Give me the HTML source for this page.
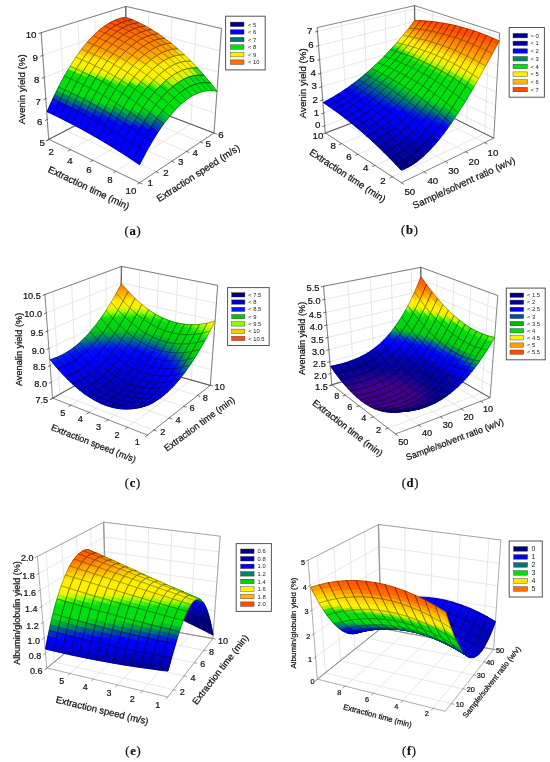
<!DOCTYPE html>
<html lang="en">
<head>
<meta charset="utf-8">
<title>Response surface plots</title>
<style>
html,body{margin:0;padding:0;background:#fff}
svg{display:block;font-family:"Liberation Sans",sans-serif}
.m{fill:none;stroke:#000;stroke-opacity:.55;stroke-width:.55}
</style>
</head>
<body>
<svg width="550" height="762" viewBox="0 0 550 762">
<rect width="550" height="762" fill="#fff"/>
<g fill="none" stroke-linecap="round" stroke-linejoin="round">
<path d="M49 139.4L126 99.5L126 6.4L41.5 32.6z" fill="#fff"/>
<path d="M126 99.5L214 133L221.5 28.5L126 6.4z" fill="#fff"/>
<path d="M49 139.4L126 99.5M47.6 119.3L126 82M46.1 98.6L126 64M44.6 77.3L126 45.4M43.1 55.3L126 26.2M41.5 32.6L126 6.4M49 139.4L41.5 32.6M66 130.6L60.2 26.8M82.2 122.2L77.9 21.3M97.5 114.3L94.8 16.1M112.1 106.7L110.8 11.1M126 99.5L126 6.4M126 99.5L214 133M126 82L215.4 113.4M126 64L216.9 93.1M126 45.4L218.4 72.2M126 26.2L219.9 50.7M126 6.4L221.5 28.5M126 99.5L126 6.4M146.9 107.5L148.7 11.6M168.5 115.7L172.1 17.1M190.9 124.2L196.4 22.7M214 133L221.5 28.5M49 139.4L126 99.5M70.5 149.7L146.9 107.5M92.8 160.3L168.5 115.7M115.8 171.3L190.9 124.2M139.6 182.7L214 133M49 139.4L139.6 182.7M66 130.6L156.1 171.7M82.2 122.2L171.7 161.3M97.5 114.3L186.5 151.4M112.1 106.7L200.6 142M126 99.5L214 133" stroke="#dcdcdc" stroke-width="0.7"/>
<path d="M49 139.4L126 99.5L126 6.4L41.5 32.6zM126 99.5L214 133L221.5 28.5L126 6.4zM49 139.4L139.6 182.7L214 133L126 99.5z" stroke="#505050" stroke-width="0.7"/>
<path d="M49 139.4l-2.3 1.2M70.5 149.7l-2.3 1.3M92.8 160.3l-2.2 1.3M115.8 171.3l-2.2 1.4M139.6 182.7l-2.2 1.4M139.6 182.7l2.3 1.1M156.1 171.7l2.4 1.1M171.7 161.3l2.4 1M186.5 151.4l2.4 1M200.6 142l2.4 1M214 133l2.4 0.9M49 139.4l-2.3 1.2M47.6 119.3l-2.3 1.1M46.1 98.6l-2.4 1M44.6 77.3l-2.4 0.9M43.1 55.3l-2.5 0.9M41.5 32.6l-2.5 0.8" stroke="#505050" stroke-width="0.8"/>
</g>
<g stroke-linejoin="round" fill="currentColor" stroke="currentColor" stroke-width=".9">
<path d="M124.2 17.6l6.4 2.4 1.7-.2-6.3-2.5z" color="#ff5300"/>
<path d="M130.6 20l6.4 2.8 1.7-.2-6.4-2.8z" color="#ff5b00"/>
<path d="M137 22.8l6.4 3.3 1.8-.2-6.5-3.3z" color="#ff6300"/>
<path d="M143.4 26.1l6.5 3.7 1.7-.2-6.4-3.7z" color="#ff6b00"/>
<path d="M149.9 29.8l6.5 4.1 1.7-.2-6.5-4.1z" color="#ff7700"/>
<path d="M156.4 33.9l6.5 4.5 1.7-.1-6.5-4.6z" color="#ff8200"/>
<path d="M162.9 38.4l6.6 5 1.7-.1-6.6-5z" color="#ff9500"/>
<path d="M169.5 43.4l6.6 5.4 1.6 0-6.5-5.5z" color="#ffaa00"/>
<path d="M176.1 48.8l6.5 5.9 1.7 0-6.6-5.9z" color="#ffe500"/>
<path d="M182.6 54.7l6.6 6.3 1.6 .1-6.5-6.4z" color="#fff000"/>
<path d="M189.2 61l6.6 6.8 1.6 .1-6.6-6.8z" color="#d8f600"/>
<path d="M195.8 67.8l6.6 7.3 1.5 .2-6.5-7.4zM202.4 75.1l6.5 7.7 1.6 .2-6.6-7.7zM208.9 82.8l6.6 8.2 1.5 .3-6.5-8.3z" color="#00e010"/>
<path d="M122.5 17.9l6.3 2.4 1.8-.3-6.4-2.4z" color="#ff4b00"/>
<path d="M128.8 20.3l6.4 2.8 1.8-.3-6.4-2.8z" color="#ff5300"/>
<path d="M135.2 23.1l6.5 3.3 1.7-.3-6.4-3.3z" color="#ff5b00"/>
<path d="M141.7 26.4l6.5 3.6 1.7-.2-6.5-3.7z" color="#ff6b00"/>
<path d="M148.2 30l6.5 4.1 1.7-.2-6.5-4.1z" color="#ff7700"/>
<path d="M154.7 34.1l6.5 4.5 1.7-.2-6.5-4.5z" color="#ff8200"/>
<path d="M161.2 38.6l6.6 5 1.7-.2-6.6-5z" color="#ff8d00"/>
<path d="M167.8 43.6l6.6 5.4 1.7-.2-6.6-5.4z" color="#ffaa00"/>
<path d="M174.4 49l6.6 5.8 1.6-.1-6.5-5.9z" color="#ffd400"/>
<path d="M181 54.8l6.6 6.3 1.6-.1-6.6-6.3z" color="#fff000"/>
<path d="M187.6 61.1l6.6 6.7 1.6 0-6.6-6.8z" color="#eff200"/>
<path d="M194.2 67.8l6.5 7.2 1.7 .1-6.6-7.3z" color="#0de20f"/>
<path d="M200.7 75l6.6 7.6 1.6 .2-6.5-7.7zM207.3 82.6l6.6 8.1 1.6 .3-6.6-8.2z" color="#00e010"/>
<path d="M120.7 18.3l6.4 2.4 1.7-.4-6.3-2.4z" color="#ff4b00"/>
<path d="M127.1 20.7l6.4 2.9 1.7-.5-6.4-2.8z" color="#ff5300"/>
<path d="M133.5 23.6l6.4 3.2 1.8-.4-6.5-3.3z" color="#ff5b00"/>
<path d="M139.9 26.8l6.5 3.6 1.8-.4-6.5-3.6z" color="#ff6b00"/>
<path d="M146.4 30.4l6.5 4.1 1.8-.4-6.5-4.1z" color="#ff7200"/>
<path d="M152.9 34.5l6.6 4.4 1.7-.3-6.5-4.5z" color="#ff7d00"/>
<path d="M159.5 38.9l6.6 4.9 1.7-.2-6.6-5z" color="#ff8d00"/>
<path d="M166.1 43.8l6.6 5.4 1.7-.2-6.6-5.4z" color="#ffaa00"/>
<path d="M172.7 49.2l6.6 5.8 1.7-.2-6.6-5.8z" color="#ffd400"/>
<path d="M179.3 55l6.6 6.2 1.7-.1-6.6-6.3zM185.9 61.2l6.6 6.7 1.7-.1-6.6-6.7z" color="#fff000"/>
<path d="M192.5 67.9l6.6 7.1 1.6 0-6.5-7.2z" color="#5deb09"/>
<path d="M199.1 75l6.6 7.6 1.6 0-6.6-7.6zM205.7 82.6l6.6 8 1.6 .1-6.6-8.1z" color="#00e010"/>
<path d="M120.7 18.3l6.4 2.4 5.2-.9-6.3-2.5zM127.1 20.7l6.4 2.9 5.2-1-6.4-2.8zM133.5 23.6l6.4 3.2 5.3-.9-6.5-3.3zM139.9 26.8l6.5 3.6 5.2-.8-6.4-3.7zM146.4 30.4l6.5 4.1 5.2-.8-6.5-4.1zM152.9 34.5l6.6 4.4 5.1-.6-6.5-4.6zM159.5 38.9l6.6 4.9 5.1-.5-6.6-5zM166.1 43.8l6.6 5.4 5-.4-6.5-5.5zM172.7 49.2l6.6 5.8 5-.3-6.6-5.9zM179.3 55l6.6 6.2 4.9-.1-6.5-6.4zM185.9 61.2l6.6 6.7 4.9 0-6.6-6.8zM192.5 67.9l6.6 7.1 4.8 .3-6.5-7.4zM199.1 75l6.6 7.6 4.8 .4-6.6-7.7zM205.7 82.6l6.6 8 4.7 .7-6.5-8.3z" class="m"/>
<path d="M118.9 18.8l6.4 2.4 1.8-.5-6.4-2.4z" color="#ff4b00"/>
<path d="M125.3 21.2l6.4 2.9 1.8-.5-6.4-2.9z" color="#ff5300"/>
<path d="M131.7 24.1l6.4 3.2 1.8-.5-6.4-3.2z" color="#ff5b00"/>
<path d="M138.1 27.3l6.6 3.6 1.7-.5-6.5-3.6z" color="#ff6300"/>
<path d="M144.7 30.9l6.5 4 1.7-.4-6.5-4.1z" color="#ff7200"/>
<path d="M151.2 34.9l6.6 4.5 1.7-.5-6.6-4.4z" color="#ff7d00"/>
<path d="M157.8 39.4l6.5 4.8 1.8-.4-6.6-4.9z" color="#ff8d00"/>
<path d="M164.3 44.2l6.6 5.3 1.8-.3-6.6-5.4z" color="#ffa000"/>
<path d="M170.9 49.5l6.7 5.8 1.7-.3-6.6-5.8z" color="#ffc300"/>
<path d="M177.6 55.3l6.6 6.1 1.7-.2-6.6-6.2zM184.2 61.4l6.6 6.6 1.7-.1-6.6-6.7z" color="#fff000"/>
<path d="M190.8 68l6.7 7.1 1.6-.1-6.6-7.1z" color="#5deb09"/>
<path d="M197.5 75.1l6.6 7.5 1.6 0-6.6-7.6zM204.1 82.6l6.6 7.9 1.6 .1-6.6-8z" color="#00e010"/>
<path d="M117.1 19.4l6.4 2.4 1.8-.6-6.4-2.4z" color="#ff4b00"/>
<path d="M123.5 21.8l6.4 2.8 1.8-.5-6.4-2.9z" color="#ff5300"/>
<path d="M129.9 24.6l6.5 3.2 1.7-.5-6.4-3.2z" color="#ff5b00"/>
<path d="M136.4 27.8l6.5 3.6 1.8-.5-6.6-3.6z" color="#ff6300"/>
<path d="M142.9 31.4l6.5 4 1.8-.5-6.5-4z" color="#ff7200"/>
<path d="M149.4 35.4l6.6 4.5 1.8-.5-6.6-4.5z" color="#ff7d00"/>
<path d="M156 39.9l6.6 4.8 1.7-.5-6.5-4.8z" color="#ff8800"/>
<path d="M162.6 44.7l6.6 5.2 1.7-.4-6.6-5.3z" color="#ffa000"/>
<path d="M169.2 49.9l6.7 5.7 1.7-.3-6.7-5.8z" color="#ffc300"/>
<path d="M175.9 55.6l6.6 6.1 1.7-.3-6.6-6.1zM182.5 61.7l6.7 6.6 1.6-.3-6.6-6.6z" color="#fff000"/>
<path d="M189.2 68.3l6.6 7 1.7-.2-6.7-7.1z" color="#adf502"/>
<path d="M195.8 75.3l6.7 7.4 1.6-.1-6.6-7.5zM202.5 82.7l6.6 7.9 1.6-.1-6.6-7.9z" color="#00e010"/>
<path d="M115.3 20.1l6.4 2.4 1.8-.7-6.4-2.4z" color="#ff4b00"/>
<path d="M121.7 22.5l6.4 2.8 1.8-.7-6.4-2.8z" color="#ff5300"/>
<path d="M128.1 25.3l6.5 3.2 1.8-.7-6.5-3.2z" color="#ff5b00"/>
<path d="M134.6 28.5l6.5 3.6 1.8-.7-6.5-3.6z" color="#ff6300"/>
<path d="M141.1 32.1l6.5 4 1.8-.7-6.5-4z" color="#ff7200"/>
<path d="M147.6 36.1l6.6 4.3 1.8-.5-6.6-4.5z" color="#ff7d00"/>
<path d="M154.2 40.4l6.6 4.8 1.8-.5-6.6-4.8z" color="#ff8800"/>
<path d="M160.8 45.2l6.7 5.3 1.7-.6-6.6-5.2z" color="#ffa000"/>
<path d="M167.5 50.5l6.6 5.6 1.8-.5-6.7-5.7z" color="#ffc300"/>
<path d="M174.1 56.1l6.7 6 1.7-.4-6.6-6.1zM180.8 62.1l6.7 6.5 1.7-.3-6.7-6.6z" color="#fff000"/>
<path d="M187.5 68.6l6.6 6.9 1.7-.2-6.6-7z" color="#adf502"/>
<path d="M194.1 75.5l6.7 7.4 1.7-.2-6.7-7.4zM200.8 82.9l6.7 7.8 1.6-.1-6.6-7.9z" color="#00e010"/>
<path d="M115.3 20.1l6.4 2.4 5.4-1.8-6.4-2.4zM121.7 22.5l6.4 2.8 5.4-1.7-6.4-2.9zM128.1 25.3l6.5 3.2 5.3-1.7-6.4-3.2zM134.6 28.5l6.5 3.6 5.3-1.7-6.5-3.6zM141.1 32.1l6.5 4 5.3-1.6-6.5-4.1zM147.6 36.1l6.6 4.3 5.3-1.5-6.6-4.4zM154.2 40.4l6.6 4.8 5.3-1.4-6.6-4.9zM160.8 45.2l6.7 5.3 5.2-1.3-6.6-5.4zM167.5 50.5l6.6 5.6 5.2-1.1-6.6-5.8zM174.1 56.1l6.7 6 5.1-.9-6.6-6.2zM180.8 62.1l6.7 6.5 5-.7-6.6-6.7zM187.5 68.6l6.6 6.9 5-.5-6.6-7.1zM194.1 75.5l6.7 7.4 4.9-.3-6.6-7.6zM200.8 82.9l6.7 7.8 4.8-.1-6.6-8z" class="m"/>
<path d="M113.5 20.9l6.4 2.4 1.8-.8-6.4-2.4z" color="#ff4b00"/>
<path d="M119.9 23.3l6.4 2.8 1.8-.8-6.4-2.8z" color="#ff5300"/>
<path d="M126.3 26.1l6.5 3.2 1.8-.8-6.5-3.2z" color="#ff5b00"/>
<path d="M132.8 29.3l6.5 3.5 1.8-.7-6.5-3.6z" color="#ff6300"/>
<path d="M139.3 32.8l6.6 4 1.7-.7-6.5-4z" color="#ff7200"/>
<path d="M145.9 36.8l6.5 4.3 1.8-.7-6.6-4.3z" color="#ff7d00"/>
<path d="M152.4 41.1l6.7 4.8 1.7-.7-6.6-4.8z" color="#ff8800"/>
<path d="M159.1 45.9l6.6 5.2 1.8-.6-6.7-5.3z" color="#ffa000"/>
<path d="M165.7 51.1l6.7 5.5 1.7-.5-6.6-5.6z" color="#ffb500"/>
<path d="M172.4 56.6l6.7 6 1.7-.5-6.7-6zM179.1 62.6l6.6 6.5 1.8-.5-6.7-6.5z" color="#fff000"/>
<path d="M185.7 69.1l6.7 6.8 1.7-.4-6.6-6.9z" color="#d8f600"/>
<path d="M192.4 75.9l6.7 7.3 1.7-.3-6.7-7.4zM199.1 83.2l6.7 7.7 1.7-.2-6.7-7.8z" color="#00e010"/>
<path d="M111.7 21.8l6.3 2.4 1.9-.9-6.4-2.4z" color="#ff4b00"/>
<path d="M118 24.2l6.5 2.8 1.8-.9-6.4-2.8z" color="#ff5300"/>
<path d="M124.5 27l6.5 3.1 1.8-.8-6.5-3.2z" color="#ff5b00"/>
<path d="M131 30.1l6.5 3.6 1.8-.9-6.5-3.5z" color="#ff6b00"/>
<path d="M137.5 33.7l6.6 3.9 1.8-.8-6.6-4z" color="#ff7200"/>
<path d="M144.1 37.6l6.6 4.3 1.7-.8-6.5-4.3z" color="#ff7d00"/>
<path d="M150.7 41.9l6.6 4.7 1.8-.7-6.7-4.8z" color="#ff8800"/>
<path d="M157.3 46.6l6.6 5.2 1.8-.7-6.6-5.2z" color="#ffa000"/>
<path d="M163.9 51.8l6.7 5.5 1.8-.7-6.7-5.5z" color="#ffb500"/>
<path d="M170.6 57.3l6.7 5.9 1.8-.6-6.7-6z" color="#ffe500"/>
<path d="M177.3 63.2l6.7 6.4 1.7-.5-6.6-6.5z" color="#fff000"/>
<path d="M184 69.6l6.7 6.8 1.7-.5-6.7-6.8z" color="#d8f600"/>
<path d="M190.7 76.4l6.7 7.2 1.7-.4-6.7-7.3zM197.4 83.6l6.7 7.6 1.7-.3-6.7-7.7z" color="#00e010"/>
<path d="M109.8 22.8l6.4 2.4 1.8-1-6.3-2.4zM116.2 25.2l6.4 2.8 1.9-1-6.5-2.8z" color="#ff5300"/>
<path d="M122.6 28l6.5 3.1 1.9-1-6.5-3.1z" color="#ff5b00"/>
<path d="M129.1 31.1l6.6 3.5 1.8-.9-6.5-3.6z" color="#ff6b00"/>
<path d="M135.7 34.6l6.5 3.9 1.9-.9-6.6-3.9z" color="#ff7200"/>
<path d="M142.2 38.5l6.7 4.3 1.8-.9-6.6-4.3z" color="#ff7d00"/>
<path d="M148.9 42.8l6.6 4.7 1.8-.9-6.6-4.7z" color="#ff8800"/>
<path d="M155.5 47.5l6.7 5.1 1.7-.8-6.6-5.2z" color="#ffa000"/>
<path d="M162.2 52.6l6.6 5.4 1.8-.7-6.7-5.5z" color="#ffb500"/>
<path d="M168.8 58l6.8 5.9 1.7-.7-6.7-5.9z" color="#ffe500"/>
<path d="M175.6 63.9l6.7 6.3 1.7-.6-6.7-6.4z" color="#fff000"/>
<path d="M182.3 70.2l6.7 6.7 1.7-.5-6.7-6.8z" color="#d8f600"/>
<path d="M189 76.9l6.7 7.1 1.7-.4-6.7-7.2zM195.7 84l6.8 7.6 1.6-.4-6.7-7.6z" color="#00e010"/>
<path d="M109.8 22.8l6.4 2.4 5.5-2.7-6.4-2.4zM116.2 25.2l6.4 2.8 5.5-2.7-6.4-2.8zM122.6 28l6.5 3.1 5.5-2.6-6.5-3.2zM129.1 31.1l6.6 3.5 5.4-2.5-6.5-3.6zM135.7 34.6l6.5 3.9 5.4-2.4-6.5-4zM142.2 38.5l6.7 4.3 5.3-2.4-6.6-4.3zM148.9 42.8l6.6 4.7 5.3-2.3-6.6-4.8zM155.5 47.5l6.7 5.1 5.3-2.1-6.7-5.3zM162.2 52.6l6.6 5.4 5.3-1.9-6.6-5.6zM168.8 58l6.8 5.9 5.2-1.8-6.7-6zM175.6 63.9l6.7 6.3 5.2-1.6-6.7-6.5zM182.3 70.2l6.7 6.7 5.1-1.4-6.6-6.9zM189 76.9l6.7 7.1 5.1-1.1-6.7-7.4zM195.7 84l6.8 7.6 5-.9-6.7-7.8z" class="m"/>
<path d="M108 23.8l6.4 2.5 1.8-1.1-6.4-2.4z" color="#ff5300"/>
<path d="M114.4 26.3l6.4 2.7 1.8-1-6.4-2.8z" color="#ff5b00"/>
<path d="M120.8 29l6.5 3.2 1.8-1.1-6.5-3.1z" color="#ff6300"/>
<path d="M127.3 32.2l6.5 3.5 1.9-1.1-6.6-3.5z" color="#ff6b00"/>
<path d="M133.8 35.7l6.6 3.8 1.8-1-6.5-3.9z" color="#ff7700"/>
<path d="M140.4 39.5l6.6 4.3 1.9-1-6.7-4.3z" color="#ff7d00"/>
<path d="M147 43.8l6.7 4.6 1.8-.9-6.6-4.7z" color="#ff8800"/>
<path d="M153.7 48.4l6.7 5.1 1.8-.9-6.7-5.1z" color="#ffa000"/>
<path d="M160.4 53.5l6.7 5.4 1.7-.9-6.6-5.4z" color="#ffb500"/>
<path d="M167.1 58.9l6.7 5.8 1.8-.8-6.8-5.9z" color="#ffe500"/>
<path d="M173.8 64.7l6.7 6.3 1.8-.8-6.7-6.3z" color="#fff000"/>
<path d="M180.5 71l6.8 6.6 1.7-.7-6.7-6.7z" color="#d8f600"/>
<path d="M187.3 77.6l6.7 7 1.7-.6-6.7-7.1z" color="#0de20f"/>
<path d="M194 84.6l6.8 7.5 1.7-.5-6.8-7.6z" color="#00e010"/>
<path d="M106.1 25l6.4 2.4 1.9-1.1-6.4-2.5z" color="#ff5300"/>
<path d="M112.5 27.4l6.5 2.8 1.8-1.2-6.4-2.7z" color="#ff5b00"/>
<path d="M119 30.2l6.5 3.1 1.8-1.1-6.5-3.2z" color="#ff6300"/>
<path d="M125.5 33.3l6.5 3.5 1.8-1.1-6.5-3.5z" color="#ff6b00"/>
<path d="M132 36.8l6.6 3.9 1.8-1.2-6.6-3.8z" color="#ff7700"/>
<path d="M138.6 40.7l6.6 4.2 1.8-1.1-6.6-4.3z" color="#ff8200"/>
<path d="M145.2 44.9l6.7 4.6 1.8-1.1-6.7-4.6z" color="#ff8d00"/>
<path d="M151.9 49.5l6.7 5 1.8-1-6.7-5.1z" color="#ffa000"/>
<path d="M158.6 54.5l6.7 5.3 1.8-.9-6.7-5.4z" color="#ffc300"/>
<path d="M165.3 59.8l6.7 5.8 1.8-.9-6.7-5.8z" color="#ffe500"/>
<path d="M172 65.6l6.7 6.2 1.8-.8-6.7-6.3z" color="#fff000"/>
<path d="M178.7 71.8l6.8 6.5 1.8-.7-6.8-6.6z" color="#d8f600"/>
<path d="M185.5 78.3l6.8 7 1.7-.7-6.7-7z" color="#0de20f"/>
<path d="M192.3 85.3l6.7 7.4 1.8-.6-6.8-7.5z" color="#00e010"/>
<path d="M104.3 26.3l6.4 2.4 1.8-1.3-6.4-2.4z" color="#ff5b00"/>
<path d="M110.7 28.7l6.4 2.8 1.9-1.3-6.5-2.8z" color="#ff6300"/>
<path d="M117.1 31.5l6.5 3.1 1.9-1.3-6.5-3.1z" color="#ff6b00"/>
<path d="M123.6 34.6l6.6 3.5 1.8-1.3-6.5-3.5z" color="#ff7200"/>
<path d="M130.2 38.1l6.5 3.8 1.9-1.2-6.6-3.9z" color="#ff7700"/>
<path d="M136.7 41.9l6.7 4.2 1.8-1.2-6.6-4.2z" color="#ff8200"/>
<path d="M143.4 46.1l6.6 4.5 1.9-1.1-6.7-4.6z" color="#ff8d00"/>
<path d="M150 50.6l6.7 5 1.9-1.1-6.7-5z" color="#ffa000"/>
<path d="M156.7 55.6l6.8 5.3 1.8-1.1-6.7-5.3z" color="#ffc300"/>
<path d="M163.5 60.9l6.7 5.7 1.8-1-6.7-5.8z" color="#ffe500"/>
<path d="M170.2 66.6l6.8 6.1 1.7-.9-6.7-6.2z" color="#fff000"/>
<path d="M177 72.7l6.7 6.5 1.8-.9-6.8-6.5z" color="#d8f600"/>
<path d="M183.7 79.2l6.8 6.9 1.8-.8-6.8-7z" color="#0de20f"/>
<path d="M190.5 86.1l6.8 7.3 1.7-.7-6.7-7.4z" color="#00e010"/>
<path d="M104.3 26.3l6.4 2.4 5.5-3.5-6.4-2.4zM110.7 28.7l6.4 2.8 5.5-3.5-6.4-2.8zM117.1 31.5l6.5 3.1 5.5-3.5-6.5-3.1zM123.6 34.6l6.6 3.5 5.5-3.5-6.6-3.5zM130.2 38.1l6.5 3.8 5.5-3.4-6.5-3.9zM136.7 41.9l6.7 4.2 5.5-3.3-6.7-4.3zM143.4 46.1l6.6 4.5 5.5-3.1-6.6-4.7zM150 50.6l6.7 5 5.5-3-6.7-5.1zM156.7 55.6l6.8 5.3 5.3-2.9-6.6-5.4zM163.5 60.9l6.7 5.7 5.4-2.7-6.8-5.9zM170.2 66.6l6.8 6.1 5.3-2.5-6.7-6.3zM177 72.7l6.7 6.5 5.3-2.3-6.7-6.7zM183.7 79.2l6.8 6.9 5.2-2.1-6.7-7.1zM190.5 86.1l6.8 7.3 5.2-1.8-6.8-7.6z" class="m"/>
<path d="M102.4 27.6l6.4 2.5 1.9-1.4-6.4-2.4z" color="#ff5b00"/>
<path d="M108.8 30.1l6.4 2.7 1.9-1.3-6.4-2.8z" color="#ff6300"/>
<path d="M115.2 32.8l6.5 3.1 1.9-1.3-6.5-3.1z" color="#ff6b00"/>
<path d="M121.7 35.9l6.6 3.5 1.9-1.3-6.6-3.5z" color="#ff7200"/>
<path d="M128.3 39.4l6.6 3.8 1.8-1.3-6.5-3.8z" color="#ff7d00"/>
<path d="M134.9 43.2l6.6 4.2 1.9-1.3-6.7-4.2z" color="#ff8200"/>
<path d="M141.5 47.4l6.7 4.5 1.8-1.3-6.6-4.5z" color="#ff8d00"/>
<path d="M148.2 51.9l6.7 4.9 1.8-1.2-6.7-5z" color="#ffaa00"/>
<path d="M154.9 56.8l6.7 5.3 1.9-1.2-6.8-5.3z" color="#ffc300"/>
<path d="M161.6 62.1l6.8 5.6 1.8-1.1-6.7-5.7zM168.4 67.7l6.8 6 1.8-1-6.8-6.1z" color="#fff000"/>
<path d="M175.2 73.7l6.7 6.4 1.8-.9-6.7-6.5z" color="#d8f600"/>
<path d="M181.9 80.1l6.8 6.9 1.8-.9-6.8-6.9z" color="#0de20f"/>
<path d="M188.7 87l6.9 7.2 1.7-.8-6.8-7.3z" color="#00e010"/>
<path d="M100.5 29.1l6.4 2.4 1.9-1.4-6.4-2.5z" color="#ff6300"/>
<path d="M106.9 31.5l6.5 2.8 1.8-1.5-6.4-2.7z" color="#ff6b00"/>
<path d="M113.4 34.3l6.5 3.1 1.8-1.5-6.5-3.1z" color="#ff7200"/>
<path d="M119.9 37.4l6.5 3.4 1.9-1.4-6.6-3.5z" color="#ff7700"/>
<path d="M126.4 40.8l6.6 3.8 1.9-1.4-6.6-3.8z" color="#ff7d00"/>
<path d="M133 44.6l6.7 4.1 1.8-1.3-6.6-4.2z" color="#ff8800"/>
<path d="M139.7 48.7l6.6 4.5 1.9-1.3-6.7-4.5z" color="#ff9500"/>
<path d="M146.3 53.2l6.8 4.9 1.8-1.3-6.7-4.9z" color="#ffaa00"/>
<path d="M153.1 58.1l6.7 5.2 1.8-1.2-6.7-5.3z" color="#ffc300"/>
<path d="M159.8 63.3l6.8 5.6 1.8-1.2-6.8-5.6zM166.6 68.9l6.7 6 1.9-1.2-6.8-6z" color="#fff000"/>
<path d="M173.3 74.9l6.8 6.3 1.8-1.1-6.7-6.4z" color="#d8f600"/>
<path d="M180.1 81.2l6.9 6.7 1.7-.9-6.8-6.9z" color="#0de20f"/>
<path d="M187 87.9l6.8 7.1 1.8-.8-6.9-7.2z" color="#00e010"/>
<path d="M98.6 30.7l6.4 2.4 1.9-1.6-6.4-2.4zM105 33.1l6.5 2.8 1.9-1.6-6.5-2.8z" color="#ff6b00"/>
<path d="M111.5 35.9l6.5 3.1 1.9-1.6-6.5-3.1z" color="#ff7200"/>
<path d="M118 39l6.6 3.4 1.8-1.6-6.5-3.4z" color="#ff7700"/>
<path d="M124.6 42.4l6.6 3.7 1.8-1.5-6.6-3.8z" color="#ff8200"/>
<path d="M131.2 46.1l6.6 4.1 1.9-1.5-6.7-4.1z" color="#ff8800"/>
<path d="M137.8 50.2l6.7 4.5 1.8-1.5-6.6-4.5z" color="#ff9500"/>
<path d="M144.5 54.7l6.7 4.8 1.9-1.4-6.8-4.9z" color="#ffaa00"/>
<path d="M151.2 59.5l6.8 5.2 1.8-1.4-6.7-5.2z" color="#ffd400"/>
<path d="M158 64.7l6.7 5.5 1.9-1.3-6.8-5.6zM164.7 70.2l6.8 5.9 1.8-1.2-6.7-6z" color="#fff000"/>
<path d="M171.5 76.1l6.8 6.3 1.8-1.2-6.8-6.3z" color="#d8f600"/>
<path d="M178.3 82.4l6.9 6.6 1.8-1.1-6.9-6.7z" color="#0de20f"/>
<path d="M185.2 89l6.8 7 1.8-1-6.8-7.1z" color="#00e010"/>
<path d="M98.6 30.7l6.4 2.4 5.7-4.4-6.4-2.4zM105 33.1l6.5 2.8 5.6-4.4-6.4-2.8zM111.5 35.9l6.5 3.1 5.6-4.4-6.5-3.1zM118 39l6.6 3.4 5.6-4.3-6.6-3.5zM124.6 42.4l6.6 3.7 5.5-4.2-6.5-3.8zM131.2 46.1l6.6 4.1 5.6-4.1-6.7-4.2zM137.8 50.2l6.7 4.5 5.5-4.1-6.6-4.5zM144.5 54.7l6.7 4.8 5.5-3.9-6.7-5zM151.2 59.5l6.8 5.2 5.5-3.8-6.8-5.3zM158 64.7l6.7 5.5 5.5-3.6-6.7-5.7zM164.7 70.2l6.8 5.9 5.5-3.4-6.8-6.1zM171.5 76.1l6.8 6.3 5.4-3.2-6.7-6.5zM178.3 82.4l6.9 6.6 5.3-2.9-6.8-6.9zM185.2 89l6.8 7 5.3-2.6-6.8-7.3z" class="m"/>
<path d="M96.8 32.3l6.4 2.5 1.8-1.7-6.4-2.4zM103.2 34.8l6.4 2.7 1.9-1.6-6.5-2.8z" color="#ff7200"/>
<path d="M109.6 37.5l6.5 3.1 1.9-1.6-6.5-3.1z" color="#ff7700"/>
<path d="M116.1 40.6l6.6 3.4 1.9-1.6-6.6-3.4z" color="#ff7d00"/>
<path d="M122.7 44l6.6 3.8 1.9-1.7-6.6-3.7z" color="#ff8800"/>
<path d="M129.3 47.8l6.6 4 1.9-1.6-6.6-4.1z" color="#ff8d00"/>
<path d="M135.9 51.8l6.7 4.4 1.9-1.5-6.7-4.5z" color="#ffa000"/>
<path d="M142.6 56.2l6.7 4.8 1.9-1.5-6.7-4.8z" color="#ffb500"/>
<path d="M149.3 61l6.8 5.1 1.9-1.4-6.8-5.2z" color="#ffd400"/>
<path d="M156.1 66.1l6.8 5.5 1.8-1.4-6.7-5.5zM162.9 71.6l6.8 5.8 1.8-1.3-6.8-5.9z" color="#fff000"/>
<path d="M169.7 77.4l6.8 6.2 1.8-1.2-6.8-6.3z" color="#d8f600"/>
<path d="M176.5 83.6l6.9 6.6 1.8-1.2-6.9-6.6zM183.4 90.2l6.8 6.9 1.8-1.1-6.8-7z" color="#00e010"/>
<path d="M94.9 34.1l6.4 2.4 1.9-1.7-6.4-2.5z" color="#ff7200"/>
<path d="M101.3 36.5l6.4 2.8 1.9-1.8-6.4-2.7z" color="#ff7700"/>
<path d="M107.7 39.3l6.5 3.1 1.9-1.8-6.5-3.1z" color="#ff7d00"/>
<path d="M114.2 42.4l6.6 3.4 1.9-1.8-6.6-3.4z" color="#ff8200"/>
<path d="M120.8 45.8l6.6 3.7 1.9-1.7-6.6-3.8z" color="#ff8800"/>
<path d="M127.4 49.5l6.6 4 1.9-1.7-6.6-4z" color="#ff9500"/>
<path d="M134 53.5l6.7 4.4 1.9-1.7-6.7-4.4z" color="#ffaa00"/>
<path d="M140.7 57.9l6.8 4.7 1.8-1.6-6.7-4.8z" color="#ffc300"/>
<path d="M147.5 62.6l6.7 5.1 1.9-1.6-6.8-5.1z" color="#ffe500"/>
<path d="M154.2 67.7l6.8 5.4 1.9-1.5-6.8-5.5zM161 73.1l6.8 5.8 1.9-1.5-6.8-5.8z" color="#fff000"/>
<path d="M167.8 78.9l6.9 6.1 1.8-1.4-6.8-6.2z" color="#adf502"/>
<path d="M174.7 85l6.8 6.5 1.9-1.3-6.9-6.6zM181.5 91.5l6.9 6.8 1.8-1.2-6.8-6.9z" color="#00e010"/>
<path d="M93 35.9l6.4 2.5 1.9-1.9-6.4-2.4z" color="#ff7700"/>
<path d="M99.4 38.4l6.4 2.8 1.9-1.9-6.4-2.8z" color="#ff7d00"/>
<path d="M105.8 41.2l6.5 3 1.9-1.8-6.5-3.1z" color="#ff8200"/>
<path d="M112.3 44.2l6.6 3.4 1.9-1.8-6.6-3.4z" color="#ff8800"/>
<path d="M118.9 47.6l6.6 3.7 1.9-1.8-6.6-3.7z" color="#ff8d00"/>
<path d="M125.5 51.3l6.7 4 1.8-1.8-6.6-4z" color="#ffa000"/>
<path d="M132.2 55.3l6.6 4.4 1.9-1.8-6.7-4.4z" color="#ffaa00"/>
<path d="M138.8 59.7l6.8 4.7 1.9-1.8-6.8-4.7z" color="#ffc300"/>
<path d="M145.6 64.4l6.7 5 1.9-1.7-6.7-5.1z" color="#ffe500"/>
<path d="M152.3 69.4l6.8 5.3 1.9-1.6-6.8-5.4zM159.1 74.7l6.9 5.7 1.8-1.5-6.8-5.8z" color="#fff000"/>
<path d="M166 80.4l6.8 6.1 1.9-1.5-6.9-6.1z" color="#adf502"/>
<path d="M172.8 86.5l6.9 6.4 1.8-1.4-6.8-6.5zM179.7 92.9l6.9 6.7 1.8-1.3-6.9-6.8z" color="#00e010"/>
<path d="M93 35.9l6.4 2.5 5.6-5.3-6.4-2.4zM99.4 38.4l6.4 2.8 5.7-5.3-6.5-2.8zM105.8 41.2l6.5 3 5.7-5.2-6.5-3.1zM112.3 44.2l6.6 3.4 5.7-5.2-6.6-3.4zM118.9 47.6l6.6 3.7 5.7-5.2-6.6-3.7zM125.5 51.3l6.7 4 5.6-5.1-6.6-4.1zM132.2 55.3l6.6 4.4 5.7-5-6.7-4.5zM138.8 59.7l6.8 4.7 5.6-4.9-6.7-4.8zM145.6 64.4l6.7 5 5.7-4.7-6.8-5.2zM152.3 69.4l6.8 5.3 5.6-4.5-6.7-5.5zM159.1 74.7l6.9 5.7 5.5-4.3-6.8-5.9zM166 80.4l6.8 6.1 5.5-4.1-6.8-6.3zM172.8 86.5l6.9 6.4 5.5-3.9-6.9-6.6zM179.7 92.9l6.9 6.7 5.4-3.6-6.8-7z" class="m"/>
<path d="M91.1 37.9l6.4 2.5 1.9-2-6.4-2.5z" color="#ff7d00"/>
<path d="M97.5 40.4l6.4 2.7 1.9-1.9-6.4-2.8z" color="#ff8200"/>
<path d="M103.9 43.1l6.5 3.1 1.9-2-6.5-3z" color="#ff8800"/>
<path d="M110.4 46.2l6.6 3.4 1.9-2-6.6-3.4z" color="#ff8d00"/>
<path d="M117 49.6l6.6 3.7 1.9-2-6.6-3.7z" color="#ff9500"/>
<path d="M123.6 53.3l6.7 3.9 1.9-1.9-6.7-4z" color="#ffaa00"/>
<path d="M130.3 57.2l6.7 4.4 1.8-1.9-6.6-4.4z" color="#ffb500"/>
<path d="M137 61.6l6.7 4.6 1.9-1.8-6.8-4.7z" color="#ffd400"/>
<path d="M143.7 66.2l6.8 4.9 1.8-1.7-6.7-5zM150.5 71.1l6.8 5.3 1.8-1.7-6.8-5.3z" color="#fff000"/>
<path d="M157.3 76.4l6.8 5.7 1.9-1.7-6.9-5.7z" color="#eff200"/>
<path d="M164.1 82.1l6.9 6 1.8-1.6-6.8-6.1z" color="#5deb09"/>
<path d="M171 88.1l6.8 6.3 1.9-1.5-6.9-6.4zM177.8 94.4l6.9 6.7 1.9-1.5-6.9-6.7z" color="#00e010"/>
<path d="M89.2 40l6.4 2.5 1.9-2.1-6.4-2.5z" color="#ff8200"/>
<path d="M95.6 42.5l6.4 2.7 1.9-2.1-6.4-2.7z" color="#ff8800"/>
<path d="M102 45.2l6.5 3.1 1.9-2.1-6.5-3.1z" color="#ff8d00"/>
<path d="M108.5 48.3l6.6 3.3 1.9-2-6.6-3.4z" color="#ff9500"/>
<path d="M115.1 51.6l6.6 3.7 1.9-2-6.6-3.7z" color="#ffa000"/>
<path d="M121.7 55.3l6.6 4 2-2.1-6.7-3.9z" color="#ffaa00"/>
<path d="M128.3 59.3l6.7 4.2 2-1.9-6.7-4.4z" color="#ffc300"/>
<path d="M135 63.5l6.8 4.6 1.9-1.9-6.7-4.6z" color="#ffe500"/>
<path d="M141.8 68.1l6.8 4.9 1.9-1.9-6.8-4.9zM148.6 73l6.8 5.3 1.9-1.9-6.8-5.3z" color="#fff000"/>
<path d="M155.4 78.3l6.8 5.5 1.9-1.7-6.8-5.7z" color="#d8f600"/>
<path d="M162.2 83.8l6.9 5.9 1.9-1.6-6.9-6z" color="#5deb09"/>
<path d="M169.1 89.7l6.9 6.3 1.8-1.6-6.8-6.3zM176 96l6.9 6.6 1.8-1.5-6.9-6.7z" color="#00e010"/>
<path d="M87.3 42.1l6.4 2.5 1.9-2.1-6.4-2.5z" color="#ff8800"/>
<path d="M93.7 44.6l6.4 2.8 1.9-2.2-6.4-2.7z" color="#ff8d00"/>
<path d="M100.1 47.4l6.5 3.1 1.9-2.2-6.5-3.1z" color="#ff9500"/>
<path d="M106.6 50.5l6.6 3.3 1.9-2.2-6.6-3.3z" color="#ffa000"/>
<path d="M113.2 53.8l6.6 3.6 1.9-2.1-6.6-3.7z" color="#ffaa00"/>
<path d="M119.8 57.4l6.6 4 1.9-2.1-6.6-4z" color="#ffb500"/>
<path d="M126.4 61.4l6.7 4.2 1.9-2.1-6.7-4.2z" color="#ffd400"/>
<path d="M133.1 65.6l6.8 4.6 1.9-2.1-6.8-4.6zM139.9 70.2l6.8 4.8 1.9-2-6.8-4.9zM146.7 75l6.8 5.2 1.9-1.9-6.8-5.3z" color="#fff000"/>
<path d="M153.5 80.2l6.8 5.5 1.9-1.9-6.8-5.5z" color="#d8f600"/>
<path d="M160.3 85.7l6.9 5.8 1.9-1.8-6.9-5.9z" color="#0de20f"/>
<path d="M167.2 91.5l6.9 6.2 1.9-1.7-6.9-6.3zM174.1 97.7l6.9 6.5 1.9-1.6-6.9-6.6z" color="#00e010"/>
<path d="M87.3 42.1l6.4 2.5 5.7-6.2-6.4-2.5zM93.7 44.6l6.4 2.8 5.7-6.2-6.4-2.8zM100.1 47.4l6.5 3.1 5.7-6.3-6.5-3zM106.6 50.5l6.6 3.3 5.7-6.2-6.6-3.4zM113.2 53.8l6.6 3.6 5.7-6.1-6.6-3.7zM119.8 57.4l6.6 4 5.8-6.1-6.7-4zM126.4 61.4l6.7 4.2 5.7-5.9-6.6-4.4zM133.1 65.6l6.8 4.6 5.7-5.8-6.8-4.7zM139.9 70.2l6.8 4.8 5.6-5.6-6.7-5zM146.7 75l6.8 5.2 5.6-5.5-6.8-5.3zM153.5 80.2l6.8 5.5 5.7-5.3-6.9-5.7zM160.3 85.7l6.9 5.8 5.6-5-6.8-6.1zM167.2 91.5l6.9 6.2 5.6-4.8-6.9-6.4zM174.1 97.7l6.9 6.5 5.6-4.6-6.9-6.7z" class="m"/>
<path d="M85.4 44.4l6.3 2.5 2-2.3-6.4-2.5zM91.7 46.9l6.5 2.8 1.9-2.3-6.4-2.8z" color="#ff9500"/>
<path d="M98.2 49.7l6.5 3 1.9-2.2-6.5-3.1z" color="#ffa000"/>
<path d="M104.7 52.7l6.5 3.4 2-2.3-6.6-3.3z" color="#ffaa00"/>
<path d="M111.2 56.1l6.7 3.6 1.9-2.3-6.6-3.6z" color="#ffb500"/>
<path d="M117.9 59.7l6.6 3.9 1.9-2.2-6.6-4z" color="#ffd400"/>
<path d="M124.5 63.6l6.7 4.2 1.9-2.2-6.7-4.2z" color="#ffe500"/>
<path d="M131.2 67.8l6.8 4.5 1.9-2.1-6.8-4.6zM138 72.3l6.7 4.8 2-2.1-6.8-4.8z" color="#fff000"/>
<path d="M144.7 77.1l6.9 5.1 1.9-2-6.8-5.2z" color="#eff200"/>
<path d="M151.6 82.2l6.8 5.5 1.9-2-6.8-5.5z" color="#adf502"/>
<path d="M158.4 87.7l6.9 5.7 1.9-1.9-6.9-5.8zM165.3 93.4l6.9 6.1 1.9-1.8-6.9-6.2zM172.2 99.5l6.9 6.4 1.9-1.7-6.9-6.5z" color="#00e010"/>
<path d="M83.5 46.8l6.3 2.5 1.9-2.4-6.3-2.5z" color="#ffa000"/>
<path d="M89.8 49.3l6.5 2.8 1.9-2.4-6.5-2.8zM96.3 52.1l6.5 3 1.9-2.4-6.5-3z" color="#ffaa00"/>
<path d="M102.8 55.1l6.5 3.4 1.9-2.4-6.5-3.4z" color="#ffb500"/>
<path d="M109.3 58.5l6.6 3.6 2-2.4-6.7-3.6z" color="#ffc300"/>
<path d="M115.9 62.1l6.7 3.8 1.9-2.3-6.6-3.9z" color="#ffe500"/>
<path d="M122.6 65.9l6.7 4.2 1.9-2.3-6.7-4.2zM129.3 70.1l6.7 4.5 2-2.3-6.8-4.5zM136 74.6l6.8 4.7 1.9-2.2-6.7-4.8z" color="#fff000"/>
<path d="M142.8 79.3l6.8 5.1 2-2.2-6.9-5.1z" color="#d8f600"/>
<path d="M149.6 84.4l6.9 5.4 1.9-2.1-6.8-5.5z" color="#5deb09"/>
<path d="M156.5 89.8l6.9 5.7 1.9-2.1-6.9-5.7zM163.4 95.5l6.9 6 1.9-2-6.9-6.1zM170.3 101.5l7 6.3 1.8-1.9-6.9-6.4z" color="#00e010"/>
<path d="M81.5 49.3l6.4 2.5 1.9-2.5-6.3-2.5z" color="#ffaa00"/>
<path d="M87.9 51.8l6.4 2.8 2-2.5-6.5-2.8z" color="#ffb500"/>
<path d="M94.3 54.6l6.5 3 2-2.5-6.5-3z" color="#ffc300"/>
<path d="M100.8 57.6l6.6 3.3 1.9-2.4-6.5-3.4z" color="#ffd400"/>
<path d="M107.4 60.9l6.6 3.6 1.9-2.4-6.6-3.6z" color="#ffe500"/>
<path d="M114 64.5l6.7 3.9 1.9-2.5-6.7-3.8zM120.7 68.4l6.7 4.1 1.9-2.4-6.7-4.2zM127.4 72.5l6.7 4.4 1.9-2.3-6.7-4.5z" color="#fff000"/>
<path d="M134.1 76.9l6.8 4.8 1.9-2.4-6.8-4.7z" color="#eff200"/>
<path d="M140.9 81.7l6.8 5 1.9-2.3-6.8-5.1z" color="#adf502"/>
<path d="M147.7 86.7l6.9 5.3 1.9-2.2-6.9-5.4z" color="#0de20f"/>
<path d="M154.6 92l6.9 5.6 1.9-2.1-6.9-5.7zM161.5 97.6l6.9 5.9 1.9-2-6.9-6zM168.4 103.5l6.9 6.2 2-1.9-7-6.3z" color="#00e010"/>
<path d="M81.5 49.3l6.4 2.5 5.8-7.2-6.4-2.5zM87.9 51.8l6.4 2.8 5.8-7.2-6.4-2.8zM94.3 54.6l6.5 3 5.8-7.1-6.5-3.1zM100.8 57.6l6.6 3.3 5.8-7.1-6.6-3.3zM107.4 60.9l6.6 3.6 5.8-7.1-6.6-3.6zM114 64.5l6.7 3.9 5.7-7-6.6-4zM120.7 68.4l6.7 4.1 5.7-6.9-6.7-4.2zM127.4 72.5l6.7 4.4 5.8-6.7-6.8-4.6zM134.1 76.9l6.8 4.8 5.8-6.7-6.8-4.8zM140.9 81.7l6.8 5 5.8-6.5-6.8-5.2zM147.7 86.7l6.9 5.3 5.7-6.3-6.8-5.5zM154.6 92l6.9 5.6 5.7-6.1-6.9-5.8zM161.5 97.6l6.9 5.9 5.7-5.8-6.9-6.2zM168.4 103.5l6.9 6.2 5.7-5.5-6.9-6.5z" class="m"/>
<path d="M79.6 51.8l6.4 2.6 1.9-2.6-6.4-2.5zM86 54.4l6.4 2.8 1.9-2.6-6.4-2.8z" color="#ffc300"/>
<path d="M92.4 57.2l6.5 3 1.9-2.6-6.5-3z" color="#ffd400"/>
<path d="M98.9 60.2l6.6 3.3 1.9-2.6-6.6-3.3z" color="#ffe500"/>
<path d="M105.5 63.5l6.6 3.6 1.9-2.6-6.6-3.6zM112.1 67.1l6.6 3.8 2-2.5-6.7-3.9zM118.7 70.9l6.7 4.1 2-2.5-6.7-4.1zM125.4 75l6.8 4.4 1.9-2.5-6.7-4.4z" color="#fff000"/>
<path d="M132.2 79.4l6.7 4.7 2-2.4-6.8-4.8z" color="#d8f600"/>
<path d="M138.9 84.1l6.9 4.9 1.9-2.3-6.8-5z" color="#5deb09"/>
<path d="M145.8 89l6.8 5.3 2-2.3-6.9-5.3zM152.6 94.3l6.9 5.5 2-2.2-6.9-5.6zM159.5 99.8l7 5.9 1.9-2.2-6.9-5.9zM166.5 105.7l6.9 6.1 1.9-2.1-6.9-6.2z" color="#00e010"/>
<path d="M77.7 54.5l6.4 2.6 1.9-2.7-6.4-2.6z" color="#ffd400"/>
<path d="M84.1 57.1l6.4 2.8 1.9-2.7-6.4-2.8z" color="#ffe500"/>
<path d="M90.5 59.9l6.5 3 1.9-2.7-6.5-3zM97 62.9l6.5 3.3 2-2.7-6.6-3.3zM103.5 66.2l6.6 3.6 2-2.7-6.6-3.6zM110.1 69.8l6.7 3.8 1.9-2.7-6.6-3.8zM116.8 73.6l6.7 4.1 1.9-2.7-6.7-4.1z" color="#fff000"/>
<path d="M123.5 77.7l6.7 4.3 2-2.6-6.8-4.4z" color="#d8f600"/>
<path d="M130.2 82l6.8 4.6 1.9-2.5-6.7-4.7z" color="#adf502"/>
<path d="M137 86.6l6.8 4.9 2-2.5-6.9-4.9z" color="#0de20f"/>
<path d="M143.8 91.5l6.9 5.2 1.9-2.4-6.8-5.3zM150.7 96.7l6.9 5.5 1.9-2.4-6.9-5.5zM157.6 102.2l6.9 5.7 2-2.2-7-5.9zM164.5 107.9l7 6.1 1.9-2.2-6.9-6.1z" color="#00e010"/>
<path d="M75.8 57.3l6.3 2.6 2-2.8-6.4-2.6zM82.1 59.9l6.5 2.8 1.9-2.8-6.4-2.8zM88.6 62.7l6.4 3.1 2-2.9-6.5-3zM95 65.8l6.6 3.2 1.9-2.8-6.5-3.3zM101.6 69l6.6 3.6 1.9-2.8-6.6-3.6zM108.2 72.6l6.6 3.8 2-2.8-6.7-3.8z" color="#fff000"/>
<path d="M114.8 76.4l6.7 4 2-2.7-6.7-4.1z" color="#eff200"/>
<path d="M121.5 80.4l6.8 4.3 1.9-2.7-6.7-4.3z" color="#adf502"/>
<path d="M128.3 84.7l6.7 4.6 2-2.7-6.8-4.6z" color="#0de20f"/>
<path d="M135 89.3l6.9 4.8 1.9-2.6-6.8-4.9zM141.9 94.1l6.8 5.1 2-2.5-6.9-5.2zM148.7 99.2l7 5.4 1.9-2.4-6.9-5.5zM155.7 104.6l6.9 5.7 1.9-2.4-6.9-5.7zM162.6 110.3l7 6 1.9-2.3-7-6.1z" color="#00e010"/>
<path d="M75.8 57.3l6.3 2.6 5.8-8.1-6.4-2.5zM82.1 59.9l6.5 2.8 5.7-8.1-6.4-2.8zM88.6 62.7l6.4 3.1 5.8-8.2-6.5-3zM95 65.8l6.6 3.2 5.8-8.1-6.6-3.3zM101.6 69l6.6 3.6 5.8-8.1-6.6-3.6zM108.2 72.6l6.6 3.8 5.9-8-6.7-3.9zM114.8 76.4l6.7 4 5.9-7.9-6.7-4.1zM121.5 80.4l6.8 4.3 5.8-7.8-6.7-4.4zM128.3 84.7l6.7 4.6 5.9-7.6-6.8-4.8zM135 89.3l6.9 4.8 5.8-7.4-6.8-5zM141.9 94.1l6.8 5.1 5.9-7.2-6.9-5.3zM148.7 99.2l7 5.4 5.8-7-6.9-5.6zM155.7 104.6l6.9 5.7 5.8-6.8-6.9-5.9zM162.6 110.3l7 6 5.7-6.6-6.9-6.2z" class="m"/>
<path d="M73.9 60.2l6.3 2.6 1.9-2.9-6.3-2.6zM80.2 62.8l6.4 2.8 2-2.9-6.5-2.8zM86.6 65.6l6.5 3.1 1.9-2.9-6.4-3.1zM93.1 68.7l6.5 3.3 2-3-6.6-3.2zM99.6 72l6.6 3.5 2-2.9-6.6-3.6z" color="#fff000"/>
<path d="M106.2 75.5l6.7 3.7 1.9-2.8-6.6-3.8z" color="#d8f600"/>
<path d="M112.9 79.2l6.7 4.1 1.9-2.9-6.7-4z" color="#adf502"/>
<path d="M119.6 83.3l6.7 4.2 2-2.8-6.8-4.3z" color="#5deb09"/>
<path d="M126.3 87.5l6.8 4.6 1.9-2.8-6.7-4.6zM133.1 92.1l6.8 4.7 2-2.7-6.9-4.8zM139.9 96.8l6.9 5.1 1.9-2.7-6.8-5.1zM146.8 101.9l6.9 5.3 2-2.6-7-5.4zM153.7 107.2l7 5.6 1.9-2.5-6.9-5.7z" color="#00e010"/>
<path d="M160.7 112.8l6.9 5.9 2-2.4-7-6z" color="#00cc23"/>
<path d="M71.9 63.2l6.4 2.6 1.9-3-6.3-2.6zM78.3 65.8l6.4 2.8 1.9-3-6.4-2.8zM84.7 68.6l6.5 3.1 1.9-3-6.5-3.1z" color="#fff000"/>
<path d="M91.2 71.7l6.5 3.3 1.9-3-6.5-3.3z" color="#eff200"/>
<path d="M97.7 75l6.6 3.5 1.9-3-6.6-3.5z" color="#d8f600"/>
<path d="M104.3 78.5l6.6 3.7 2-3-6.7-3.7z" color="#adf502"/>
<path d="M110.9 82.2l6.7 4 2-2.9-6.7-4.1z" color="#5deb09"/>
<path d="M117.6 86.2l6.7 4.2 2-2.9-6.7-4.2zM124.3 90.4l6.8 4.5 2-2.8-6.8-4.6zM131.1 94.9l6.9 4.8 1.9-2.9-6.8-4.7zM138 99.7l6.8 4.9 2-2.7-6.9-5.1zM144.8 104.6l6.9 5.3 2-2.7-6.9-5.3zM151.7 109.9l7 5.5 2-2.6-7-5.6z" color="#00e010"/>
<path d="M158.7 115.4l7 5.8 1.9-2.5-6.9-5.9z" color="#00b439"/>
<path d="M70 66.3l6.4 2.6 1.9-3.1-6.4-2.6z" color="#eff200"/>
<path d="M76.4 68.9l6.4 2.9 1.9-3.2-6.4-2.8zM82.8 71.8l6.4 3 2-3.1-6.5-3.1z" color="#d8f600"/>
<path d="M89.2 74.8l6.5 3.3 2-3.1-6.5-3.3z" color="#adf502"/>
<path d="M95.7 78.1l6.6 3.5 2-3.1-6.6-3.5z" color="#5deb09"/>
<path d="M102.3 81.6l6.7 3.7 1.9-3.1-6.6-3.7z" color="#0de20f"/>
<path d="M109 85.3l6.6 4 2-3.1-6.7-4zM115.6 89.3l6.8 4.2 1.9-3.1-6.7-4.2zM122.4 93.5l6.8 4.4 1.9-3-6.8-4.5zM129.2 97.9l6.8 4.7 2-2.9-6.9-4.8zM136 102.6l6.9 4.9 1.9-2.9-6.8-4.9zM142.9 107.5l6.9 5.2 1.9-2.8-6.9-5.3z" color="#00e010"/>
<path d="M149.8 112.7l6.9 5.4 2-2.7-7-5.5z" color="#00cc23"/>
<path d="M156.7 118.1l7 5.7 2-2.6-7-5.8z" color="#009c4f"/>
<path d="M70 66.3l6.4 2.6 5.7-9-6.3-2.6zM76.4 68.9l6.4 2.9 5.8-9.1-6.5-2.8zM82.8 71.8l6.4 3 5.8-9-6.4-3.1zM89.2 74.8l6.5 3.3 5.9-9.1-6.6-3.2zM95.7 78.1l6.6 3.5 5.9-9-6.6-3.6zM102.3 81.6l6.7 3.7 5.8-8.9-6.6-3.8zM109 85.3l6.6 4 5.9-8.9-6.7-4zM115.6 89.3l6.8 4.2 5.9-8.8-6.8-4.3zM122.4 93.5l6.8 4.4 5.8-8.6-6.7-4.6zM129.2 97.9l6.8 4.7 5.9-8.5-6.9-4.8zM136 102.6l6.9 4.9 5.8-8.3-6.8-5.1zM142.9 107.5l6.9 5.2 5.9-8.1-7-5.4zM149.8 112.7l6.9 5.4 5.9-7.8-6.9-5.7zM156.7 118.1l7 5.7 5.9-7.5-7-6z" class="m"/>
<path d="M68.1 69.5l6.3 2.7 2-3.3-6.4-2.6zM74.4 72.2l6.4 2.8 2-3.2-6.4-2.9z" color="#adf502"/>
<path d="M80.8 75l6.5 3.1 1.9-3.3-6.4-3z" color="#5deb09"/>
<path d="M87.3 78.1l6.5 3.3 1.9-3.3-6.5-3.3z" color="#0de20f"/>
<path d="M93.8 81.4l6.6 3.4 1.9-3.2-6.6-3.5zM100.4 84.8l6.6 3.7 2-3.2-6.7-3.7zM107 88.5l6.7 4 1.9-3.2-6.6-4zM113.7 92.5l6.7 4.1 2-3.1-6.8-4.2zM120.4 96.6l6.8 4.4 2-3.1-6.8-4.4zM127.2 101l6.8 4.6 2-3-6.8-4.7zM134 105.6l6.9 4.9 2-3-6.9-4.9z" color="#00e010"/>
<path d="M140.9 110.5l6.9 5.1 2-2.9-6.9-5.2z" color="#00cc23"/>
<path d="M147.8 115.6l7 5.4 1.9-2.9-6.9-5.4z" color="#009c4f"/>
<path d="M154.8 121l6.9 5.6 2-2.8-7-5.7z" color="#006b7f"/>
<path d="M66.2 72.8l6.3 2.7 1.9-3.3-6.3-2.7zM72.5 75.5l6.4 2.9 1.9-3.4-6.4-2.8z" color="#0de20f"/>
<path d="M78.9 78.4l6.4 3 2-3.3-6.5-3.1zM85.3 81.4l6.5 3.3 2-3.3-6.5-3.3zM91.8 84.7l6.6 3.5 2-3.4-6.6-3.4zM98.4 88.2l6.6 3.7 2-3.4-6.6-3.7zM105 91.9l6.7 3.9 2-3.3-6.7-4zM111.7 95.8l6.7 4.1 2-3.3-6.7-4.1zM118.4 99.9l6.8 4.3 2-3.2-6.8-4.4zM125.2 104.2l6.8 4.6 2-3.2-6.8-4.6zM132 108.8l6.9 4.8 2-3.1-6.9-4.9z" color="#00e010"/>
<path d="M138.9 113.6l6.9 5.1 2-3.1-6.9-5.1z" color="#00b439"/>
<path d="M145.8 118.7l7 5.2 2-2.9-7-5.4z" color="#008465"/>
<path d="M152.8 123.9l7 5.6 1.9-2.9-6.9-5.6z" color="#00509f"/>
<path d="M64.2 76.2l6.4 2.7 1.9-3.4-6.3-2.7zM70.6 78.9l6.3 2.9 2-3.4-6.4-2.9zM76.9 81.8l6.5 3.1 1.9-3.5-6.4-3zM83.4 84.9l6.5 3.3 1.9-3.5-6.5-3.3zM89.9 88.2l6.5 3.4 2-3.4-6.6-3.5zM96.4 91.6l6.7 3.7 1.9-3.4-6.6-3.7zM103.1 95.3l6.6 3.9 2-3.4-6.7-3.9zM109.7 99.2l6.7 4.1 2-3.4-6.7-4.1zM116.4 103.3l6.8 4.3 2-3.4-6.8-4.3zM123.2 107.6l6.8 4.5 2-3.3-6.8-4.6z" color="#00e010"/>
<path d="M130 112.1l6.9 4.7 2-3.2-6.9-4.8z" color="#00b439"/>
<path d="M136.9 116.8l6.9 5 2-3.1-6.9-5.1z" color="#008465"/>
<path d="M143.8 121.8l7 5.2 2-3.1-7-5.2z" color="#006b7f"/>
<path d="M150.8 127l7 5.4 2-2.9-7-5.6z" color="#0036bf"/>
<path d="M64.2 76.2l6.4 2.7 5.8-10-6.4-2.6zM70.6 78.9l6.3 2.9 5.9-10-6.4-2.9zM76.9 81.8l6.5 3.1 5.8-10.1-6.4-3zM83.4 84.9l6.5 3.3 5.8-10.1-6.5-3.3zM89.9 88.2l6.5 3.4 5.9-10-6.6-3.5zM96.4 91.6l6.7 3.7 5.9-10-6.7-3.7zM103.1 95.3l6.6 3.9 5.9-9.9-6.6-4zM109.7 99.2l6.7 4.1 6-9.8-6.8-4.2zM116.4 103.3l6.8 4.3 6-9.7-6.8-4.4zM123.2 107.6l6.8 4.5 6-9.5-6.8-4.7zM130 112.1l6.9 4.7 6-9.3-6.9-4.9zM136.9 116.8l6.9 5 6-9.1-6.9-5.2zM143.8 121.8l7 5.2 5.9-8.9-6.9-5.4zM150.8 127l7 5.4 5.9-8.6-7-5.7z" class="m"/>
<path d="M62.3 79.7l6.3 2.8 2-3.6-6.4-2.7zM68.6 82.5l6.4 2.9 1.9-3.6-6.3-2.9zM75 85.4l6.4 3.1 2-3.6-6.5-3.1zM81.4 88.5l6.5 3.2 2-3.5-6.5-3.3zM87.9 91.7l6.6 3.5 1.9-3.6-6.5-3.4zM94.5 95.2l6.6 3.6 2-3.5-6.7-3.7zM101.1 98.8l6.7 3.9 1.9-3.5-6.6-3.9zM107.8 102.7l6.7 4.1 1.9-3.5-6.7-4.1z" color="#00e010"/>
<path d="M114.5 106.8l6.7 4.2 2-3.4-6.8-4.3z" color="#00cc23"/>
<path d="M121.2 111l6.8 4.5 2-3.4-6.8-4.5z" color="#00b439"/>
<path d="M128 115.5l6.9 4.7 2-3.4-6.9-4.7z" color="#008465"/>
<path d="M134.9 120.2l6.9 4.9 2-3.3-6.9-5z" color="#006b7f"/>
<path d="M141.8 125.1l7 5.1 2-3.2-7-5.2z" color="#0036bf"/>
<path d="M148.8 130.2l7 5.3 2-3.1-7-5.4z" color="#0000ff"/>
<path d="M60.4 83.4l6.3 2.7 1.9-3.6-6.3-2.8zM66.7 86.1l6.4 2.9 1.9-3.6-6.4-2.9zM73.1 89l6.4 3.1 1.9-3.6-6.4-3.1zM79.5 92.1l6.5 3.3 1.9-3.7-6.5-3.2zM86 95.4l6.5 3.5 2-3.7-6.6-3.5zM92.5 98.9l6.6 3.6 2-3.7-6.6-3.6zM99.1 102.5l6.7 3.8 2-3.6-6.7-3.9z" color="#00e010"/>
<path d="M105.8 106.3l6.7 4.1 2-3.6-6.7-4.1z" color="#00cc23"/>
<path d="M112.5 110.4l6.7 4.2 2-3.6-6.7-4.2z" color="#009c4f"/>
<path d="M119.2 114.6l6.9 4.4 1.9-3.5-6.8-4.5z" color="#008465"/>
<path d="M126.1 119l6.8 4.6 2-3.4-6.9-4.7z" color="#006b7f"/>
<path d="M132.9 123.6l6.9 4.9 2-3.4-6.9-4.9z" color="#0036bf"/>
<path d="M139.8 128.5l7 5 2-3.3-7-5.1zM146.8 133.5l7 5.3 2-3.3-7-5.3z" color="#0000ff"/>
<path d="M58.5 87.1l6.3 2.8 1.9-3.8-6.3-2.7zM64.8 89.9l6.3 2.9 2-3.8-6.4-2.9zM71.1 92.8l6.5 3.1 1.9-3.8-6.4-3.1zM77.6 95.9l6.4 3.3 2-3.8-6.5-3.3z" color="#00e010"/>
<path d="M84 99.2l6.6 3.4 1.9-3.7-6.5-3.5zM90.6 102.6l6.5 3.7 2-3.8-6.6-3.6z" color="#00cc23"/>
<path d="M97.1 106.3l6.7 3.8 2-3.8-6.7-3.8z" color="#00b439"/>
<path d="M103.8 110.1l6.7 4 2-3.7-6.7-4.1z" color="#009c4f"/>
<path d="M110.5 114.1l6.7 4.1 2-3.6-6.7-4.2z" color="#006b7f"/>
<path d="M117.2 118.2l6.9 4.4 2-3.6-6.9-4.4z" color="#00509f"/>
<path d="M124.1 122.6l6.8 4.6 2-3.6-6.8-4.6z" color="#0036bf"/>
<path d="M130.9 127.2l6.9 4.8 2-3.5-6.9-4.9zM137.8 132l7 4.9 2-3.4-7-5zM144.8 136.9l7 5.2 2-3.3-7-5.3z" color="#0000ff"/>
<path d="M58.5 87.1l6.3 2.8 5.8-11-6.4-2.7zM64.8 89.9l6.3 2.9 5.8-11-6.3-2.9zM71.1 92.8l6.5 3.1 5.8-11-6.5-3.1zM77.6 95.9l6.4 3.3 5.9-11-6.5-3.3zM84 99.2l6.6 3.4 5.8-11-6.5-3.4zM90.6 102.6l6.5 3.7 6-11-6.7-3.7zM97.1 106.3l6.7 3.8 5.9-10.9-6.6-3.9zM103.8 110.1l6.7 4 5.9-10.8-6.7-4.1zM110.5 114.1l6.7 4.1 6-10.6-6.8-4.3zM117.2 118.2l6.9 4.4 5.9-10.5-6.8-4.5zM124.1 122.6l6.8 4.6 6-10.4-6.9-4.7zM130.9 127.2l6.9 4.8 6-10.2-6.9-5zM137.8 132l7 4.9 6-9.9-7-5.2zM144.8 136.9l7 5.2 6-9.7-7-5.4z" class="m"/>
<path d="M56.6 90.9l6.3 2.8 1.9-3.8-6.3-2.8zM62.9 93.7l6.3 3 1.9-3.9-6.3-2.9z" color="#00cc23"/>
<path d="M69.2 96.7l6.4 3.1 2-3.9-6.5-3.1zM75.6 99.8l6.5 3.3 1.9-3.9-6.4-3.3z" color="#00b439"/>
<path d="M82.1 103.1l6.5 3.4 2-3.9-6.6-3.4z" color="#009c4f"/>
<path d="M88.6 106.5l6.6 3.6 1.9-3.8-6.5-3.7z" color="#008465"/>
<path d="M95.2 110.1l6.6 3.8 2-3.8-6.7-3.8z" color="#006b7f"/>
<path d="M101.8 113.9l6.7 4 2-3.8-6.7-4z" color="#00509f"/>
<path d="M108.5 117.9l6.8 4.1 1.9-3.8-6.7-4.1z" color="#0036bf"/>
<path d="M115.3 122l6.8 4.4 2-3.8-6.9-4.4z" color="#001bdf"/>
<path d="M122.1 126.4l6.8 4.5 2-3.7-6.8-4.6zM128.9 130.9l6.9 4.7 2-3.6-6.9-4.8zM135.8 135.6l7 4.9 2-3.6-7-4.9zM142.8 140.5l7 5.1 2-3.5-7-5.2z" color="#0000ff"/>
<path d="M54.7 94.9l6.2 2.8 2-4-6.3-2.8z" color="#009c4f"/>
<path d="M60.9 97.7l6.4 3 1.9-4-6.3-3zM67.3 100.7l6.4 3.1 1.9-4-6.4-3.1z" color="#008465"/>
<path d="M73.7 103.8l6.4 3.3 2-4-6.5-3.3zM80.1 107.1l6.5 3.4 2-4-6.5-3.4z" color="#006b7f"/>
<path d="M86.6 110.5l6.6 3.6 2-4-6.6-3.6z" color="#00509f"/>
<path d="M93.2 114.1l6.6 3.8 2-4-6.6-3.8z" color="#0036bf"/>
<path d="M99.8 117.9l6.7 3.9 2-3.9-6.7-4z" color="#001bdf"/>
<path d="M106.5 121.8l6.8 4.1 2-3.9-6.8-4.1zM113.3 125.9l6.7 4.3 2.1-3.8-6.8-4.4zM120 130.2l6.9 4.5 2-3.8-6.8-4.5zM126.9 134.7l6.9 4.6 2-3.7-6.9-4.7zM133.8 139.3l6.9 4.8 2.1-3.6-7-4.9zM140.7 144.1l7 5 2.1-3.5-7-5.1z" color="#0000ff"/>
<path d="M52.8 98.9l6.2 2.9 1.9-4.1-6.2-2.8zM59 101.8l6.3 3 2-4.1-6.4-3zM65.3 104.8l6.4 3.1 2-4.1-6.4-3.1z" color="#00509f"/>
<path d="M71.7 107.9l6.5 3.3 1.9-4.1-6.4-3.3z" color="#0036bf"/>
<path d="M78.2 111.2l6.5 3.4 1.9-4.1-6.5-3.4zM84.7 114.6l6.5 3.6 2-4.1-6.6-3.6z" color="#001bdf"/>
<path d="M91.2 118.2l6.6 3.8 2-4.1-6.6-3.8zM97.8 122l6.7 3.9 2-4.1-6.7-3.9zM104.5 125.9l6.8 4.1 2-4.1-6.8-4.1zM111.3 130l6.7 4.2 2-4-6.7-4.3zM118 134.2l6.9 4.4 2-3.9-6.9-4.5zM124.9 138.6l6.9 4.6 2-3.9-6.9-4.6zM131.8 143.2l6.9 4.7 2-3.8-6.9-4.8zM138.7 147.9l7 4.9 2-3.7-7-5z" color="#0000ff"/>
<path d="M52.8 98.9l6.2 2.9 5.8-11.9-6.3-2.8zM59 101.8l6.3 3 5.8-12-6.3-2.9zM65.3 104.8l6.4 3.1 5.9-12-6.5-3.1zM71.7 107.9l6.5 3.3 5.8-12-6.4-3.3zM78.2 111.2l6.5 3.4 5.9-12-6.6-3.4zM84.7 114.6l6.5 3.6 5.9-11.9-6.5-3.7zM91.2 118.2l6.6 3.8 6-11.9-6.7-3.8zM97.8 122l6.7 3.9 6-11.8-6.7-4zM104.5 125.9l6.8 4.1 5.9-11.8-6.7-4.1zM111.3 130l6.7 4.2 6.1-11.6-6.9-4.4zM118 134.2l6.9 4.4 6-11.4-6.8-4.6zM124.9 138.6l6.9 4.6 6-11.2-6.9-4.8zM131.8 143.2l6.9 4.7 6.1-11-7-4.9zM138.7 147.9l7 4.9 6.1-10.7-7-5.2z" class="m"/>
<path d="M50.9 103.1l6.2 2.9 1.9-4.2-6.2-2.9z" color="#001bdf"/>
<path d="M57.1 106l6.3 3 1.9-4.2-6.3-3zM63.4 109l6.4 3.1 1.9-4.2-6.4-3.1zM69.8 112.1l6.4 3.3 2-4.2-6.5-3.3zM76.2 115.4l6.5 3.5 2-4.3-6.5-3.4zM82.7 118.9l6.6 3.6 1.9-4.3-6.5-3.6zM89.3 122.5l6.6 3.7 1.9-4.2-6.6-3.8zM95.9 126.2l6.6 3.9 2-4.2-6.7-3.9zM102.5 130.1l6.8 4 2-4.1-6.8-4.1zM109.3 134.1l6.7 4.2 2-4.1-6.7-4.2zM116 138.3l6.9 4.3 2-4-6.9-4.4zM122.9 142.6l6.8 4.5 2.1-3.9-6.9-4.6zM129.7 147.1l7 4.7 2-3.9-6.9-4.7zM136.7 151.8l7 4.9 2-3.9-7-4.9zM49 107.3l6.2 2.9 1.9-4.2-6.2-2.9zM55.2 110.2l6.3 3.1 1.9-4.3-6.3-3zM61.5 113.3l6.4 3.2 1.9-4.4-6.4-3.1zM67.9 116.5l6.4 3.3 1.9-4.4-6.4-3.3zM74.3 119.8l6.5 3.4 1.9-4.3-6.5-3.5zM80.8 123.2l6.5 3.6 2-4.3-6.6-3.6zM87.3 126.8l6.6 3.7 2-4.3-6.6-3.7zM93.9 130.5l6.6 3.8 2-4.2-6.6-3.9zM100.5 134.3l6.8 4 2-4.2-6.8-4zM107.3 138.3l6.7 4.2 2-4.2-6.7-4.2zM114 142.5l6.8 4.3 2.1-4.2-6.9-4.3zM120.8 146.8l6.9 4.4 2-4.1-6.8-4.5zM127.7 151.2l7 4.6 2-4-7-4.7zM134.7 155.8l6.9 4.8 2.1-3.9-7-4.9zM47.1 111.7l6.2 2.9 1.9-4.4-6.2-2.9zM53.3 114.6l6.3 3.1 1.9-4.4-6.3-3.1zM59.6 117.7l6.3 3.2 2-4.4-6.4-3.2zM65.9 120.9l6.4 3.3 2-4.4-6.4-3.3zM72.3 124.2l6.5 3.4 2-4.4-6.5-3.4zM78.8 127.6l6.5 3.6 2-4.4-6.5-3.6zM85.3 131.2l6.6 3.7 2-4.4-6.6-3.7zM91.9 134.9l6.6 3.8 2-4.4-6.6-3.8zM98.5 138.7l6.7 4 2.1-4.4-6.8-4zM105.2 142.7l6.8 4.1 2-4.3-6.7-4.2zM112 146.8l6.8 4.3 2-4.3-6.8-4.3zM118.8 151.1l6.9 4.3 2-4.2-6.9-4.4zM125.7 155.4l6.9 4.6 2.1-4.2-7-4.6zM132.6 160l7 4.7 2-4.1-6.9-4.8z" color="#0000ff"/>
<path d="M47.1 111.7l6.2 2.9 5.7-12.8-6.2-2.9zM53.3 114.6l6.3 3.1 5.7-12.9-6.3-3zM59.6 117.7l6.3 3.2 5.8-13-6.4-3.1zM65.9 120.9l6.4 3.3 5.9-13-6.5-3.3zM72.3 124.2l6.5 3.4 5.9-13-6.5-3.4zM78.8 127.6l6.5 3.6 5.9-13-6.5-3.6zM85.3 131.2l6.6 3.7 5.9-12.9-6.6-3.8zM91.9 134.9l6.6 3.8 6-12.8-6.7-3.9zM98.5 138.7l6.7 4 6.1-12.7-6.8-4.1zM105.2 142.7l6.8 4.1 6-12.6-6.7-4.2zM112 146.8l6.8 4.3 6.1-12.5-6.9-4.4zM118.8 151.1l6.9 4.3 6.1-12.2-6.9-4.6zM125.7 155.4l6.9 4.6 6.1-12.1-6.9-4.7zM132.6 160l7 4.7 6.1-11.9-7-4.9z" class="m"/>
</g>
<g font-size="9.7" fill="#111" stroke="#111" stroke-width=".22">
<text x="36.5" y="37.8" text-anchor="end">10</text>
<text x="38" y="60.8" text-anchor="end">9</text>
<text x="39.5" y="83.1" text-anchor="end">8</text>
<text x="41" y="104.5" text-anchor="end">7</text>
<text x="42.5" y="125.2" text-anchor="end">6</text>
<text x="45" y="145.5" text-anchor="end">5</text>
<text x="51.2" y="155" text-anchor="middle">2</text>
<text x="70" y="164.1" text-anchor="middle">4</text>
<text x="89" y="172.7" text-anchor="middle">6</text>
<text x="110" y="182.9" text-anchor="middle">8</text>
<text x="131" y="193.8" text-anchor="middle">10</text>
<text x="150.3" y="186.2" text-anchor="middle">1</text>
<text x="166" y="176" text-anchor="middle">2</text>
<text x="180.8" y="165.3" text-anchor="middle">3</text>
<text x="195.3" y="156.2" text-anchor="middle">4</text>
<text x="208.3" y="147.3" text-anchor="middle">5</text>
<text x="221" y="137.9" text-anchor="middle">6</text>
<text font-size="9.7" transform="translate(24.5 89.3) rotate(-90)" text-anchor="middle">Avenin yield (%)</text>
<text font-size="9.7" transform="translate(87.4 190.8) rotate(25.5)" text-anchor="middle">Extraction time (min)</text>
<text font-size="9.7" transform="translate(200 175.9) rotate(-33)" text-anchor="middle">Extraction speed (m/s)</text>
</g>
<rect x="225.6" y="16.2" width="39.6" height="53.7" fill="#fff" stroke="#555" stroke-width="1"/>
<g font-size="5.8" fill="#222">
<rect x="230.3" y="22.1" width="13.7" height="4.5" fill="#000080" stroke="#333" stroke-width=".4"/>
<text x="248" y="26.5">&lt; 5</text>
<rect x="230.3" y="29.7" width="13.7" height="4.5" fill="#0000ff" stroke="#333" stroke-width=".4"/>
<text x="248" y="34">&lt; 6</text>
<rect x="230.3" y="37.3" width="13.7" height="4.5" fill="#007474" stroke="#333" stroke-width=".4"/>
<text x="248" y="41.6">&lt; 7</text>
<rect x="230.3" y="44.8" width="13.7" height="4.5" fill="#00e010" stroke="#333" stroke-width=".4"/>
<text x="248" y="49.2">&lt; 8</text>
<rect x="230.3" y="52.4" width="13.7" height="4.5" fill="#fff000" stroke="#333" stroke-width=".4"/>
<text x="248" y="56.7">&lt; 9</text>
<rect x="230.3" y="59.9" width="13.7" height="4.5" fill="#ff7000" stroke="#333" stroke-width=".4"/>
<text x="248" y="64.3">&lt; 10</text>
</g>
<text x="132.9" y="234.8" text-anchor="middle" font-family="'Liberation Serif',serif" font-size="12.6" letter-spacing=".7" fill="#111" stroke="#111" stroke-width=".2">(<tspan font-weight="bold">a</tspan>)</text>
<g fill="none" stroke-linecap="round" stroke-linejoin="round">
<path d="M325.6 133.1L415.7 99.1L414.7 5.6L317.5 27.5z" fill="#fff"/>
<path d="M415.7 99.1L493.8 138.2L499.6 33L414.7 5.6z" fill="#fff"/>
<path d="M325 125.6L415.6 92.5M324 112.9L415.5 81.2M323.1 99.9L415.4 69.7M322 86.7L415.3 58.1M321 73.3L415.1 46.1M320 59.6L415 34M318.9 45.6L414.9 21.6M317.8 31.3L414.7 8.9M325.6 133.1L317.5 27.5M347.7 124.8L341.3 22.1M368.5 116.9L363.8 17.1M388.2 109.5L385 12.3M406.8 102.5L405.1 7.8M415.6 92.5L494.2 130.7M415.5 81.2L494.9 118.1M415.4 69.7L495.6 105.2M415.3 58.1L496.3 92M415.1 46.1L497.1 78.6M415 34L497.8 64.9M414.9 21.6L498.6 51M414.7 8.9L499.4 36.7M415.7 99.1L414.7 5.6M432.2 107.3L432.6 11.4M449.1 115.8L451 17.3M466.6 124.6L470 23.5M484.6 133.6L489.6 29.8M325.6 133.1L415.7 99.1M341.6 143.6L432.2 107.3M358 154.3L449.1 115.8M375 165.4L466.6 124.6M392.5 176.8L484.6 133.6M325.6 133.1L401.4 182.7M347.7 124.8L424 171.8M368.5 116.9L445.4 161.5M388.2 109.5L465.6 151.8M406.8 102.5L484.6 142.6" stroke="#dcdcdc" stroke-width="0.7"/>
<path d="M325.6 133.1L415.7 99.1L414.7 5.6L317.5 27.5zM415.7 99.1L493.8 138.2L499.6 33L414.7 5.6zM325.6 133.1L401.4 182.7L493.8 138.2L415.7 99.1z" stroke="#505050" stroke-width="0.7"/>
<path d="M325.6 133.1l-2.4 0.9M341.6 143.6l-2.4 1M358 154.3l-2.4 1M375 165.4l-2.4 1.1M392.5 176.8l-2.4 1.1M401.4 182.7l2.2 1.4M424 171.8l2.2 1.4M445.4 161.5l2.2 1.3M465.6 151.8l2.3 1.2M484.6 142.6l2.3 1.2M325 125.6l-2.4 0.9M324 112.9l-2.5 0.9M323.1 99.9l-2.5 0.8M322 86.7l-2.5 0.8M321 73.3l-2.5 0.7M320 59.6l-2.5 0.7M318.9 45.6l-2.5 0.6M317.8 31.3l-2.5 0.6" stroke="#505050" stroke-width="0.8"/>
</g>
<g stroke-linejoin="round" fill="currentColor" stroke="currentColor" stroke-width=".9">
<path d="M412.9 23l5.6 .3 2-2.7-5.6-.2z" color="#ff6000"/>
<path d="M418.5 23.3l5.6 .5 2.1-2.8-5.7-.4z" color="#ff5000"/>
<path d="M424.1 23.8l5.8 .7 2-3-5.7-.5zM429.9 24.5l5.8 .9 2-3.1-5.8-.8zM435.7 25.4l5.8 1 2.1-3.2-5.9-.9zM441.5 26.4l6 1.2 2.1-3.3-6-1.1zM447.5 27.6l5.9 1.5 2.2-3.5-6-1.3zM453.4 29.1l6.1 1.6 2.1-3.5-6-1.6zM459.5 30.7l6.1 1.9 2.1-3.7-6.1-1.7zM465.6 32.6l6.1 2 2.2-3.8-6.2-1.9zM471.7 34.6l6.3 2.3 2.2-3.9-6.3-2.2zM478 36.9l6.2 2.6 2.2-4.1-6.2-2.4zM484.2 39.5l6.3 2.7 2.3-4.1-6.4-2.7z" color="#ff4c00"/>
<path d="M490.5 42.2l6.4 3 2.3-4.3-6.4-2.8z" color="#ff5500"/>
<path d="M410.9 25.6l5.5 .4 2.1-2.7-5.6-.3z" color="#ff7000"/>
<path d="M416.4 26l5.7 .6 2-2.8-5.6-.5z" color="#ff6500"/>
<path d="M422.1 26.6l5.7 .8 2.1-2.9-5.8-.7z" color="#ff5a00"/>
<path d="M427.8 27.4l5.8 1 2.1-3-5.8-.9z" color="#ff5500"/>
<path d="M433.6 28.4l5.8 1.2 2.1-3.2-5.8-1z" color="#ff5000"/>
<path d="M439.4 29.6l6 1.3 2.1-3.3-6-1.2zM445.4 30.9l5.9 1.6 2.1-3.4-5.9-1.5zM451.3 32.5l6 1.7 2.2-3.5-6.1-1.6zM457.3 34.2l6.1 2 2.2-3.6-6.1-1.9z" color="#ff4c00"/>
<path d="M463.4 36.2l6.2 2.2 2.1-3.8-6.1-2z" color="#ff5000"/>
<path d="M469.6 38.4l6.2 2.4 2.2-3.9-6.3-2.3z" color="#ff5500"/>
<path d="M475.8 40.8l6.2 2.7 2.2-4-6.2-2.6z" color="#ff5a00"/>
<path d="M482 43.5l6.3 2.8 2.2-4.1-6.3-2.7z" color="#ff6000"/>
<path d="M488.3 46.3l6.3 3.2 2.3-4.3-6.4-3z" color="#ff6b00"/>
<path d="M408.9 28.2l5.5 .5 2-2.7-5.5-.4z" color="#ff8300"/>
<path d="M414.4 28.7l5.7 .7 2-2.8-5.7-.6z" color="#ff7800"/>
<path d="M420.1 29.4l5.7 .9 2-2.9-5.7-.8z" color="#ff7000"/>
<path d="M425.8 30.3l5.7 1.1 2.1-3-5.8-1z" color="#ff6b00"/>
<path d="M431.5 31.4l5.9 1.3 2-3.1-5.8-1.2z" color="#ff6500"/>
<path d="M437.4 32.7l5.8 1.5 2.2-3.3-6-1.3zM443.2 34.2l6 1.7 2.1-3.4-5.9-1.6zM449.2 35.9l6 1.8 2.1-3.5-6-1.7zM455.2 37.7l6.1 2.1 2.1-3.6-6.1-2z" color="#ff6000"/>
<path d="M461.3 39.8l6.1 2.4 2.2-3.8-6.2-2.2z" color="#ff6500"/>
<path d="M467.4 42.2l6.1 2.5 2.3-3.9-6.2-2.4z" color="#ff6b00"/>
<path d="M473.5 44.7l6.3 2.8 2.2-4-6.2-2.7z" color="#ff7000"/>
<path d="M479.8 47.5l6.2 3 2.3-4.2-6.3-2.8z" color="#ff7400"/>
<path d="M486 50.5l6.3 3.2 2.3-4.2-6.3-3.2z" color="#ff7c00"/>
<path d="M408.9 28.2l5.5 .5 6.1-8.1-5.6-.2zM414.4 28.7l5.7 .7 6.1-8.4-5.7-.4zM420.1 29.4l5.7 .9 6.1-8.8-5.7-.5zM425.8 30.3l5.7 1.1 6.2-9.1-5.8-.8zM431.5 31.4l5.9 1.3 6.2-9.5-5.9-.9zM437.4 32.7l5.8 1.5 6.4-9.9-6-1.1zM443.2 34.2l6 1.7 6.4-10.3-6-1.3zM449.2 35.9l6 1.8 6.4-10.5-6-1.6zM455.2 37.7l6.1 2.1 6.4-10.9-6.1-1.7zM461.3 39.8l6.1 2.4 6.5-11.4-6.2-1.9zM467.4 42.2l6.1 2.5 6.7-11.7-6.3-2.2zM473.5 44.7l6.3 2.8 6.6-12.1-6.2-2.4zM479.8 47.5l6.2 3 6.8-12.4-6.4-2.7zM486 50.5l6.3 3.2 6.9-12.8-6.4-2.8z" class="m"/>
<path d="M406.9 30.7l5.5 .6 2-2.6-5.5-.5z" color="#ff9900"/>
<path d="M412.4 31.3l5.6 .9 2.1-2.8-5.7-.7z" color="#ff8b00"/>
<path d="M418 32.2l5.7 1 2.1-2.9-5.7-.9z" color="#ff8300"/>
<path d="M423.7 33.2l5.8 1.2 2-3-5.7-1.1z" color="#ff7c00"/>
<path d="M429.5 34.4l5.8 1.4 2.1-3.1-5.9-1.3z" color="#ff7800"/>
<path d="M435.3 35.8l5.8 1.6 2.1-3.2-5.8-1.5zM441.1 37.4l6 1.8 2.1-3.3-6-1.7zM447.1 39.2l6 2 2.1-3.5-6-1.8z" color="#ff7400"/>
<path d="M453.1 41.2l6 2.2 2.2-3.6-6.1-2.1zM459.1 43.4l6.1 2.5 2.2-3.7-6.1-2.4z" color="#ff7800"/>
<path d="M465.2 45.9l6.1 2.6 2.2-3.8-6.1-2.5z" color="#ff7c00"/>
<path d="M471.3 48.5l6.2 2.9 2.3-3.9-6.3-2.8z" color="#ff7f00"/>
<path d="M477.5 51.4l6.3 3.1 2.2-4-6.2-3z" color="#ff8700"/>
<path d="M483.8 54.5l6.3 3.4 2.2-4.2-6.3-3.2z" color="#ff8b00"/>
<path d="M404.8 33.2l5.6 .8 2-2.7-5.5-.6z" color="#ffae00"/>
<path d="M410.4 34l5.6 .9 2-2.7-5.6-.9z" color="#ffa400"/>
<path d="M416 34.9l5.7 1.1 2-2.8-5.7-1z" color="#ff9400"/>
<path d="M421.7 36l5.7 1.4 2.1-3-5.8-1.2z" color="#ff8f00"/>
<path d="M427.4 37.4l5.8 1.5 2.1-3.1-5.8-1.4z" color="#ff8b00"/>
<path d="M433.2 38.9l5.8 1.7 2.1-3.2-5.8-1.6z" color="#ff8700"/>
<path d="M439 40.6l5.9 1.9 2.2-3.3-6-1.8zM444.9 42.5l6 2.2 2.2-3.5-6-2z" color="#ff8300"/>
<path d="M450.9 44.7l6 2.3 2.2-3.6-6-2.2zM456.9 47l6.1 2.6 2.2-3.7-6.1-2.5z" color="#ff8700"/>
<path d="M463 49.6l6.1 2.7 2.2-3.8-6.1-2.6z" color="#ff8b00"/>
<path d="M469.1 52.3l6.2 3.1 2.2-4-6.2-2.9z" color="#ff9400"/>
<path d="M475.3 55.4l6.2 3.2 2.3-4.1-6.3-3.1z" color="#ff9900"/>
<path d="M481.5 58.6l6.3 3.5 2.3-4.2-6.3-3.4z" color="#ff9e00"/>
<path d="M402.8 35.6l5.5 .9 2.1-2.5-5.6-.8z" color="#ffd300"/>
<path d="M408.3 36.5l5.6 1.1 2.1-2.7-5.6-.9z" color="#ffb900"/>
<path d="M413.9 37.6l5.7 1.3 2.1-2.9-5.7-1.1z" color="#ffae00"/>
<path d="M419.6 38.9l5.7 1.4 2.1-2.9-5.7-1.4z" color="#ffa400"/>
<path d="M425.3 40.3l5.8 1.6 2.1-3-5.8-1.5z" color="#ff9e00"/>
<path d="M431.1 41.9l5.8 1.9 2.1-3.2-5.8-1.7zM436.9 43.8l5.9 2 2.1-3.3-5.9-1.9zM442.8 45.8l6 2.3 2.1-3.4-6-2.2zM448.8 48.1l6 2.4 2.1-3.5-6-2.3z" color="#ff9900"/>
<path d="M454.8 50.5l6 2.7 2.2-3.6-6.1-2.6z" color="#ff9e00"/>
<path d="M460.8 53.2l6.1 2.9 2.2-3.8-6.1-2.7z" color="#ffa400"/>
<path d="M466.9 56.1l6.2 3.2 2.2-3.9-6.2-3.1z" color="#ffa900"/>
<path d="M473.1 59.3l6.2 3.3 2.2-4-6.2-3.2z" color="#ffae00"/>
<path d="M479.3 62.6l6.2 3.6 2.3-4.1-6.3-3.5z" color="#ffb400"/>
<path d="M402.8 35.6l5.5 .9 6.1-7.8-5.5-.5zM408.3 36.5l5.6 1.1 6.2-8.2-5.7-.7zM413.9 37.6l5.7 1.3 6.2-8.6-5.7-.9zM419.6 38.9l5.7 1.4 6.2-8.9-5.7-1.1zM425.3 40.3l5.8 1.6 6.3-9.2-5.9-1.3zM431.1 41.9l5.8 1.9 6.3-9.6-5.8-1.5zM436.9 43.8l5.9 2 6.4-9.9-6-1.7zM442.8 45.8l6 2.3 6.4-10.4-6-1.8zM448.8 48.1l6 2.4 6.5-10.7-6.1-2.1zM454.8 50.5l6 2.7 6.6-11-6.1-2.4zM460.8 53.2l6.1 2.9 6.6-11.4-6.1-2.5zM466.9 56.1l6.2 3.2 6.7-11.8-6.3-2.8zM473.1 59.3l6.2 3.3 6.7-12.1-6.2-3zM479.3 62.6l6.2 3.6 6.8-12.5-6.3-3.2z" class="m"/>
<path d="M400.8 38l5.5 1.1 2-2.6-5.5-.9z" color="#fff000"/>
<path d="M406.3 39.1l5.6 1.2 2-2.7-5.6-1.1z" color="#ffdb00"/>
<path d="M411.9 40.3l5.6 1.3 2.1-2.7-5.7-1.3z" color="#ffca00"/>
<path d="M417.5 41.6l5.7 1.6 2.1-2.9-5.7-1.4z" color="#ffc200"/>
<path d="M423.2 43.2l5.8 1.8 2.1-3.1-5.8-1.6z" color="#ffb900"/>
<path d="M429 45l5.8 1.9 2.1-3.1-5.8-1.9zM434.8 46.9l5.9 2.2 2.1-3.3-5.9-2zM440.7 49.1l5.9 2.3 2.2-3.3-6-2.3zM446.6 51.4l6 2.6 2.2-3.5-6-2.4zM452.6 54l6 2.8 2.2-3.6-6-2.7z" color="#ffb400"/>
<path d="M458.6 56.8l6.1 3.1 2.2-3.8-6.1-2.9z" color="#ffb900"/>
<path d="M464.7 59.9l6.2 3.2 2.2-3.8-6.2-3.2z" color="#ffc200"/>
<path d="M470.9 63.1l6.1 3.5 2.3-4-6.2-3.3z" color="#ffca00"/>
<path d="M477 66.6l6.3 3.8 2.2-4.2-6.2-3.6z" color="#ffdb00"/>
<path d="M398.7 40.4l5.5 1.2 2.1-2.5-5.5-1.1zM404.2 41.6l5.6 1.3 2.1-2.6-5.6-1.2z" color="#fff000"/>
<path d="M409.8 42.9l5.6 1.5 2.1-2.8-5.6-1.3z" color="#ffec00"/>
<path d="M415.4 44.4l5.7 1.7 2.1-2.9-5.7-1.6z" color="#ffe300"/>
<path d="M421.1 46.1l5.8 1.8 2.1-2.9-5.8-1.8z" color="#ffdb00"/>
<path d="M426.9 47.9l5.8 2.1 2.1-3.1-5.8-1.9zM432.7 50l5.8 2.3 2.2-3.2-5.9-2.2zM438.5 52.3l6 2.5 2.1-3.4-5.9-2.3zM444.5 54.8l5.9 2.7 2.2-3.5-6-2.6z" color="#ffd300"/>
<path d="M450.4 57.5l6 2.9 2.2-3.6-6-2.8zM456.4 60.4l6.1 3.2 2.2-3.7-6.1-3.1z" color="#ffdb00"/>
<path d="M462.5 63.6l6.1 3.4 2.3-3.9-6.2-3.2z" color="#ffe300"/>
<path d="M468.6 67l6.2 3.6 2.2-4-6.1-3.5z" color="#ffec00"/>
<path d="M474.8 70.6l6.2 3.8 2.3-4-6.3-3.8z" color="#fff000"/>
<path d="M396.7 42.8l5.5 1.2 2-2.4-5.5-1.2z" color="#edf300"/>
<path d="M402.2 44l5.5 1.5 2.1-2.6-5.6-1.3zM407.7 45.5l5.7 1.6 2-2.7-5.6-1.5zM413.4 47.1l5.6 1.8 2.1-2.8-5.7-1.7zM419 48.9l5.8 2 2.1-3-5.8-1.8zM424.8 50.9l5.8 2.2 2.1-3.1-5.8-2.1zM430.6 53.1l5.8 2.4 2.1-3.2-5.8-2.3zM436.4 55.5l5.9 2.6 2.2-3.3-6-2.5zM442.3 58.1l6 2.8 2.1-3.4-5.9-2.7zM448.3 60.9l6 3.1 2.1-3.6-6-2.9zM454.3 64l6 3.3 2.2-3.7-6.1-3.2zM460.3 67.3l6.1 3.5 2.2-3.8-6.1-3.4zM466.4 70.8l6.1 3.7 2.3-3.9-6.2-3.6zM472.5 74.5l6.2 4 2.3-4.1-6.2-3.8z" color="#fff000"/>
<path d="M396.7 42.8l5.5 1.2 6.1-7.5-5.5-.9zM402.2 44l5.5 1.5 6.2-7.9-5.6-1.1zM407.7 45.5l5.7 1.6 6.2-8.2-5.7-1.3zM413.4 47.1l5.6 1.8 6.3-8.6-5.7-1.4zM419 48.9l5.8 2 6.3-9-5.8-1.6zM424.8 50.9l5.8 2.2 6.3-9.3-5.8-1.9zM430.6 53.1l5.8 2.4 6.4-9.7-5.9-2zM436.4 55.5l5.9 2.6 6.5-10-6-2.3zM442.3 58.1l6 2.8 6.5-10.4-6-2.4zM448.3 60.9l6 3.1 6.5-10.8-6-2.7zM454.3 64l6 3.3 6.6-11.2-6.1-2.9zM460.3 67.3l6.1 3.5 6.7-11.5-6.2-3.2zM466.4 70.8l6.1 3.7 6.8-11.9-6.2-3.3zM472.5 74.5l6.2 4 6.8-12.3-6.2-3.6z" class="m"/>
<path d="M394.7 45.1l5.4 1.4 2.1-2.5-5.5-1.2z" color="#b4f602"/>
<path d="M400.1 46.5l5.6 1.5 2-2.5-5.5-1.5z" color="#d7f600"/>
<path d="M405.7 48l5.6 1.8 2.1-2.7-5.7-1.6z" color="#edf300"/>
<path d="M411.3 49.8l5.6 1.9 2.1-2.8-5.6-1.8z" color="#f8f100"/>
<path d="M416.9 51.7l5.8 2.1 2.1-2.9-5.8-2zM422.7 53.8l5.7 2.3 2.2-3-5.8-2.2zM428.4 56.1l5.9 2.5 2.1-3.1-5.8-2.4zM434.3 58.6l5.8 2.8 2.2-3.3-5.9-2.6zM440.1 61.4l6 2.9 2.2-3.4-6-2.8zM446.1 64.3l6 3.2 2.2-3.5-6-3.1zM452.1 67.5l6 3.4 2.2-3.6-6-3.3z" color="#fff000"/>
<path d="M458.1 70.9l6.1 3.6 2.2-3.7-6.1-3.5z" color="#f8f100"/>
<path d="M464.2 74.5l6.1 3.9 2.2-3.9-6.1-3.7z" color="#edf300"/>
<path d="M470.3 78.4l6.1 4.1 2.3-4-6.2-4z" color="#e2f400"/>
<path d="M392.6 47.4l5.5 1.5 2-2.4-5.4-1.4z" color="#5aeb09"/>
<path d="M398.1 48.9l5.5 1.7 2.1-2.6-5.6-1.5z" color="#96f204"/>
<path d="M403.6 50.6l5.6 1.8 2.1-2.6-5.6-1.8z" color="#ccf700"/>
<path d="M409.2 52.4l5.6 2 2.1-2.7-5.6-1.9z" color="#d7f600"/>
<path d="M414.8 54.4l5.7 2.3 2.2-2.9-5.8-2.1zM420.5 56.7l5.8 2.4 2.1-3-5.7-2.3zM426.3 59.1l5.8 2.7 2.2-3.2-5.9-2.5zM432.1 61.8l5.9 2.8 2.1-3.2-5.8-2.8zM438 64.6l5.9 3.1 2.2-3.4-6-2.9zM443.9 67.7l6 3.3 2.2-3.5-6-3.2z" color="#e2f400"/>
<path d="M449.9 71l6 3.5 2.2-3.6-6-3.4z" color="#d7f600"/>
<path d="M455.9 74.5l6 3.7 2.3-3.7-6.1-3.6z" color="#ccf700"/>
<path d="M461.9 78.2l6.1 4 2.3-3.8-6.1-3.9z" color="#b4f602"/>
<path d="M468 82.2l6.2 4.3 2.2-4-6.1-4.1z" color="#96f204"/>
<path d="M390.5 49.7l5.5 1.6 2.1-2.4-5.5-1.5z" color="#00e010"/>
<path d="M396 51.3l5.5 1.7 2.1-2.4-5.5-1.7z" color="#3ce70b"/>
<path d="M401.5 53l5.6 2 2.1-2.6-5.6-1.8z" color="#5aeb09"/>
<path d="M407.1 55l5.6 2.2 2.1-2.8-5.6-2z" color="#78ee06"/>
<path d="M412.7 57.2l5.7 2.3 2.1-2.8-5.7-2.3z" color="#96f204"/>
<path d="M418.4 59.5l5.8 2.6 2.1-3-5.8-2.4zM424.2 62.1l5.8 2.7 2.1-3-5.8-2.7zM430 64.8l5.8 3 2.2-3.2-5.9-2.8z" color="#b4f602"/>
<path d="M435.8 67.8l5.9 3.2 2.2-3.3-5.9-3.1zM441.7 71l6 3.4 2.2-3.4-6-3.3z" color="#96f204"/>
<path d="M447.7 74.4l5.9 3.6 2.3-3.5-6-3.5z" color="#78ee06"/>
<path d="M453.6 78l6.1 3.9 2.2-3.7-6-3.7z" color="#5aeb09"/>
<path d="M459.7 81.9l6.1 4.1 2.2-3.8-6.1-4z" color="#3ce70b"/>
<path d="M465.8 86l6.1 4.4 2.3-3.9-6.2-4.3z" color="#1ee40e"/>
<path d="M390.5 49.7l5.5 1.6 6.2-7.3-5.5-1.2zM396 51.3l5.5 1.7 6.2-7.5-5.5-1.5zM401.5 53l5.6 2 6.3-7.9-5.7-1.6zM407.1 55l5.6 2.2 6.3-8.3-5.6-1.8zM412.7 57.2l5.7 2.3 6.4-8.6-5.8-2zM418.4 59.5l5.8 2.6 6.4-9-5.8-2.2zM424.2 62.1l5.8 2.7 6.4-9.3-5.8-2.4zM430 64.8l5.8 3 6.5-9.7-5.9-2.6zM435.8 67.8l5.9 3.2 6.6-10.1-6-2.8zM441.7 71l6 3.4 6.6-10.4-6-3.1zM447.7 74.4l5.9 3.6 6.7-10.7-6-3.3zM453.6 78l6.1 3.9 6.7-11.1-6.1-3.5zM459.7 81.9l6.1 4.1 6.7-11.5-6.1-3.7zM465.8 86l6.1 4.4 6.8-11.9-6.2-4z" class="m"/>
<path d="M388.4 51.9l5.5 1.7 2.1-2.3-5.5-1.6zM393.9 53.6l5.5 1.9 2.1-2.5-5.5-1.7zM399.4 55.5l5.6 2.1 2.1-2.6-5.6-2z" color="#00e010"/>
<path d="M405 57.6l5.6 2.2 2.1-2.6-5.6-2.2z" color="#1ee40e"/>
<path d="M410.6 59.8l5.7 2.5 2.1-2.8-5.7-2.3zM416.3 62.3l5.7 2.7 2.2-2.9-5.8-2.6zM422 65l5.8 2.9 2.2-3.1-5.8-2.7zM427.8 67.9l5.8 3.1 2.2-3.2-5.8-3zM433.6 71l5.9 3.3 2.2-3.3-5.9-3.2zM439.5 74.3l5.9 3.5 2.3-3.4-6-3.4z" color="#3ce70b"/>
<path d="M445.4 77.8l6 3.8 2.2-3.6-5.9-3.6z" color="#1ee40e"/>
<path d="M451.4 81.6l6 3.9 2.3-3.6-6.1-3.9zM457.4 85.5l6.1 4.3 2.3-3.8-6.1-4.1zM463.5 89.8l6.1 4.4 2.3-3.8-6.1-4.4zM386.4 54.1l5.4 1.8 2.1-2.3-5.5-1.7zM391.8 55.9l5.5 2 2.1-2.4-5.5-1.9zM397.3 57.9l5.6 2.2 2.1-2.5-5.6-2.1zM402.9 60.1l5.6 2.4 2.1-2.7-5.6-2.2zM408.5 62.5l5.6 2.6 2.2-2.8-5.7-2.5zM414.1 65.1l5.8 2.8 2.1-2.9-5.7-2.7zM419.9 67.9l5.7 3 2.2-3-5.8-2.9zM425.6 70.9l5.8 3.2 2.2-3.1-5.8-3.1zM431.4 74.1l5.9 3.4 2.2-3.2-5.9-3.3zM437.3 77.5l5.9 3.6 2.2-3.3-5.9-3.5zM443.2 81.1l6 3.9 2.2-3.4-6-3.8zM449.2 85l6 4.1 2.2-3.6-6-3.9zM455.2 89.1l6.1 4.4 2.2-3.7-6.1-4.3zM461.3 93.5l6 4.6 2.3-3.9-6.1-4.4zM384.3 56.3l5.4 1.9 2.1-2.3-5.4-1.8zM389.7 58.2l5.5 2.1 2.1-2.4-5.5-2zM395.2 60.3l5.5 2.3 2.2-2.5-5.6-2.2zM400.7 62.6l5.6 2.5 2.2-2.6-5.6-2.4zM406.3 65.1l5.7 2.7 2.1-2.7-5.6-2.6zM412 67.8l5.7 2.9 2.2-2.8-5.8-2.8zM417.7 70.7l5.8 3.1 2.1-2.9-5.7-3zM423.5 73.8l5.8 3.3 2.1-3-5.8-3.2zM429.3 77.1l5.8 3.6 2.2-3.2-5.9-3.4zM435.1 80.7l5.9 3.7 2.2-3.3-5.9-3.6zM441 84.4l6 4 2.2-3.4-6-3.9zM447 88.4l6 4.2 2.2-3.5-6-4.1zM453 92.6l6 4.5 2.3-3.6-6.1-4.4zM459 97.1l6.1 4.7 2.2-3.7-6-4.6z" color="#00e010"/>
<path d="M384.3 56.3l5.4 1.9 6.3-6.9-5.5-1.6zM389.7 58.2l5.5 2.1 6.3-7.3-5.5-1.7zM395.2 60.3l5.5 2.3 6.4-7.6-5.6-2zM400.7 62.6l5.6 2.5 6.4-7.9-5.6-2.2zM406.3 65.1l5.7 2.7 6.4-8.3-5.7-2.3zM412 67.8l5.7 2.9 6.5-8.6-5.8-2.6zM417.7 70.7l5.8 3.1 6.5-9-5.8-2.7zM423.5 73.8l5.8 3.3 6.5-9.3-5.8-3zM429.3 77.1l5.8 3.6 6.6-9.7-5.9-3.2zM435.1 80.7l5.9 3.7 6.7-10-6-3.4zM441 84.4l6 4 6.6-10.4-5.9-3.6zM447 88.4l6 4.2 6.7-10.7-6.1-3.9zM453 92.6l6 4.5 6.8-11.1-6.1-4.1zM459 97.1l6.1 4.7 6.8-11.4-6.1-4.4z" class="m"/>
<path d="M382.2 58.4l5.4 2 2.1-2.2-5.4-1.9zM387.6 60.4l5.5 2.3 2.1-2.4-5.5-2.1zM393.1 62.7l5.5 2.4 2.1-2.5-5.5-2.3zM398.6 65.1l5.6 2.6 2.1-2.6-5.6-2.5zM404.2 67.7l5.6 2.8 2.2-2.7-5.7-2.7zM409.8 70.5l5.7 3 2.2-2.8-5.7-2.9zM415.5 73.5l5.8 3.2 2.2-2.9-5.8-3.1zM421.3 76.7l5.8 3.4 2.2-3-5.8-3.3zM427.1 80.1l5.8 3.7 2.2-3.1-5.8-3.6zM432.9 83.8l5.9 3.9 2.2-3.3-5.9-3.7zM438.8 87.7l5.9 4.1 2.3-3.4-6-4zM444.7 91.8l6 4.3 2.3-3.5-6-4.2zM450.7 96.1l6 4.6 2.3-3.6-6-4.5zM456.7 100.7l6.1 4.8 2.3-3.7-6.1-4.7zM380.1 60.5l5.4 2.1 2.1-2.2-5.4-2zM385.5 62.6l5.4 2.4 2.2-2.3-5.5-2.3zM390.9 65l5.6 2.5 2.1-2.4-5.5-2.4zM396.5 67.5l5.5 2.7 2.2-2.5-5.6-2.6zM402 70.2l5.7 2.9 2.1-2.6-5.6-2.8zM407.7 73.1l5.7 3.1 2.1-2.7-5.7-3zM413.4 76.2l5.7 3.4 2.2-2.9-5.8-3.2zM419.1 79.6l5.8 3.5 2.2-3-5.8-3.4zM424.9 83.1l5.8 3.8 2.2-3.1-5.8-3.7zM430.7 86.9l5.9 4 2.2-3.2-5.9-3.9zM436.6 90.9l5.9 4.2 2.2-3.3-5.9-4.1zM442.5 95.1l6 4.4 2.2-3.4-6-4.3zM448.5 99.5l6 4.7 2.2-3.5-6-4.6zM454.5 104.2l6 4.9 2.3-3.6-6.1-4.8zM377.9 62.6l5.4 2.2 2.2-2.2-5.4-2.1zM383.3 64.8l5.5 2.4 2.1-2.2-5.4-2.4zM388.8 67.2l5.5 2.7 2.2-2.4-5.6-2.5zM394.3 69.9l5.6 2.8 2.1-2.5-5.5-2.7zM399.9 72.7l5.6 3 2.2-2.6-5.7-2.9zM405.5 75.7l5.7 3.2 2.2-2.7-5.7-3.1zM411.2 78.9l5.7 3.5 2.2-2.8-5.7-3.4zM416.9 82.4l5.8 3.6 2.2-2.9-5.8-3.5zM422.7 86l5.8 3.9 2.2-3-5.8-3.8zM428.5 89.9l5.9 4.1 2.2-3.1-5.9-4zM434.4 94l5.9 4.3 2.2-3.2-5.9-4.2zM440.3 98.3l5.9 4.6 2.3-3.4-6-4.4zM446.2 102.9l6 4.8 2.3-3.5-6-4.7zM452.2 107.7l6 5 2.3-3.6-6-4.9z" color="#00e010"/>
<path d="M377.9 62.6l5.4 2.2 6.4-6.6-5.4-1.9zM383.3 64.8l5.5 2.4 6.4-6.9-5.5-2.1zM388.8 67.2l5.5 2.7 6.4-7.3-5.5-2.3zM394.3 69.9l5.6 2.8 6.4-7.6-5.6-2.5zM399.9 72.7l5.6 3 6.5-7.9-5.7-2.7zM405.5 75.7l5.7 3.2 6.5-8.2-5.7-2.9zM411.2 78.9l5.7 3.5 6.6-8.6-5.8-3.1zM416.9 82.4l5.8 3.6 6.6-8.9-5.8-3.3zM422.7 86l5.8 3.9 6.6-9.2-5.8-3.6zM428.5 89.9l5.9 4.1 6.6-9.6-5.9-3.7zM434.4 94l5.9 4.3 6.7-9.9-6-4zM440.3 98.3l5.9 4.6 6.8-10.3-6-4.2zM446.2 102.9l6 4.8 6.8-10.6-6-4.5zM452.2 107.7l6 5 6.9-10.9-6.1-4.7z" class="m"/>
<path d="M375.8 64.6l5.4 2.3 2.1-2.1-5.4-2.2zM381.2 66.9l5.4 2.6 2.2-2.3-5.5-2.4zM386.6 69.5l5.6 2.7 2.1-2.3-5.5-2.7zM392.2 72.2l5.5 2.9 2.2-2.4-5.6-2.8zM397.7 75.1l5.6 3.2 2.2-2.6-5.6-3zM403.3 78.3l5.7 3.3 2.2-2.7-5.7-3.2zM409 81.6l5.7 3.5 2.2-2.7-5.7-3.5zM414.7 85.1l5.8 3.8 2.2-2.9-5.8-3.6zM420.5 88.9l5.8 4 2.2-3-5.8-3.9zM426.3 92.9l5.8 4.2 2.3-3.1-5.9-4.1zM432.1 97.1l5.9 4.4 2.3-3.2-5.9-4.3zM438 101.5l5.9 4.7 2.3-3.3-5.9-4.6z" color="#00e010"/>
<path d="M443.9 106.2l6 4.9 2.3-3.4-6-4.8z" color="#00de12"/>
<path d="M449.9 111.1l6 5.1 2.3-3.5-6-5z" color="#00cf20"/>
<path d="M373.7 66.6l5.3 2.5 2.2-2.2-5.4-2.3zM379 69.1l5.5 2.6 2.1-2.2-5.4-2.6zM384.5 71.7l5.5 2.8 2.2-2.3-5.6-2.7zM390 74.5l5.5 3 2.2-2.4-5.5-2.9zM395.5 77.5l5.6 3.3 2.2-2.5-5.6-3.2zM401.1 80.8l5.7 3.4 2.2-2.6-5.7-3.3zM406.8 84.2l5.7 3.6 2.2-2.7-5.7-3.5zM412.5 87.8l5.7 3.9 2.3-2.8-5.8-3.8zM418.2 91.7l5.8 4.1 2.3-2.9-5.8-4zM424 95.8l5.9 4.3 2.2-3-5.8-4.2z" color="#00e010"/>
<path d="M429.9 100.1l5.9 4.5 2.2-3.1-5.9-4.4z" color="#00de12"/>
<path d="M435.8 104.6l5.9 4.8 2.2-3.2-5.9-4.7z" color="#00cf20"/>
<path d="M441.7 109.4l5.9 5 2.3-3.3-6-4.9z" color="#00b23a"/>
<path d="M447.6 114.4l6 5.2 2.3-3.4-6-5.1z" color="#00a448"/>
<path d="M371.5 68.6l5.4 2.5 2.1-2-5.3-2.5zM376.9 71.1l5.4 2.8 2.2-2.2-5.5-2.6z" color="#00de12"/>
<path d="M382.3 73.9l5.5 2.9 2.2-2.3-5.5-2.8zM387.8 76.8l5.6 3.1 2.1-2.4-5.5-3zM393.4 79.9l5.5 3.3 2.2-2.4-5.6-3.3zM398.9 83.2l5.7 3.6 2.2-2.6-5.7-3.4zM404.6 86.8l5.7 3.7 2.2-2.7-5.7-3.6zM410.3 90.5l5.7 4 2.2-2.8-5.7-3.9z" color="#00e010"/>
<path d="M416 94.5l5.8 4.1 2.2-2.8-5.8-4.1z" color="#00de12"/>
<path d="M421.8 98.6l5.8 4.4 2.3-2.9-5.9-4.3z" color="#00cf20"/>
<path d="M427.6 103l5.9 4.7 2.3-3.1-5.9-4.5z" color="#00c12d"/>
<path d="M433.5 107.7l5.9 4.9 2.3-3.2-5.9-4.8z" color="#00a448"/>
<path d="M439.4 112.6l6 5.1 2.2-3.3-5.9-5z" color="#009655"/>
<path d="M445.4 117.7l5.9 5.3 2.3-3.4-6-5.2z" color="#007970"/>
<path d="M371.5 68.6l5.4 2.5 6.4-6.3-5.4-2.2zM376.9 71.1l5.4 2.8 6.5-6.7-5.5-2.4zM382.3 73.9l5.5 2.9 6.5-6.9-5.5-2.7zM387.8 76.8l5.6 3.1 6.5-7.2-5.6-2.8zM393.4 79.9l5.5 3.3 6.6-7.5-5.6-3zM398.9 83.2l5.7 3.6 6.6-7.9-5.7-3.2zM404.6 86.8l5.7 3.7 6.6-8.1-5.7-3.5zM410.3 90.5l5.7 4 6.7-8.5-5.8-3.6zM416 94.5l5.8 4.1 6.7-8.7-5.8-3.9zM421.8 98.6l5.8 4.4 6.8-9-5.9-4.1zM427.6 103l5.9 4.7 6.8-9.4-5.9-4.3zM433.5 107.7l5.9 4.9 6.8-9.7-5.9-4.6zM439.4 112.6l6 5.1 6.8-10-6-4.8zM445.4 117.7l5.9 5.3 6.9-10.3-6-5z" class="m"/>
<path d="M369.3 70.5l5.4 2.7 2.2-2.1-5.4-2.5z" color="#00c12d"/>
<path d="M374.7 73.2l5.4 2.8 2.2-2.1-5.4-2.8zM380.1 76l5.5 3 2.2-2.2-5.5-2.9zM385.6 79l5.6 3.2 2.2-2.3-5.6-3.1zM391.2 82.2l5.5 3.4 2.2-2.4-5.5-3.3zM396.7 85.6l5.7 3.7 2.2-2.5-5.7-3.6zM402.4 89.3l5.7 3.8 2.2-2.6-5.7-3.7zM408.1 93.1l5.7 4.1 2.2-2.7-5.7-4z" color="#00cf20"/>
<path d="M413.8 97.2l5.8 4.2 2.2-2.8-5.8-4.1z" color="#00c12d"/>
<path d="M419.6 101.4l5.8 4.5 2.2-2.9-5.8-4.4z" color="#00b23a"/>
<path d="M425.4 105.9l5.8 4.8 2.3-3-5.9-4.7z" color="#009655"/>
<path d="M431.2 110.7l5.9 4.9 2.3-3-5.9-4.9z" color="#008762"/>
<path d="M437.1 115.6l6 5.2 2.3-3.1-6-5.1z" color="#006882"/>
<path d="M443.1 120.8l5.9 5.5 2.3-3.3-5.9-5.3z" color="#0046ac"/>
<path d="M367.2 72.4l5.3 2.8 2.2-2-5.4-2.7zM372.5 75.2l5.4 2.9 2.2-2.1-5.4-2.8z" color="#00b23a"/>
<path d="M377.9 78.1l5.5 3.1 2.2-2.2-5.5-3zM383.4 81.2l5.6 3.3 2.2-2.3-5.6-3.2zM389 84.5l5.5 3.5 2.2-2.4-5.5-3.4zM394.5 88l5.7 3.7 2.2-2.4-5.7-3.7z" color="#00c12d"/>
<path d="M400.2 91.7l5.6 4 2.3-2.6-5.7-3.8zM405.8 95.7l5.8 4.1 2.2-2.6-5.7-4.1z" color="#00b23a"/>
<path d="M411.6 99.8l5.7 4.4 2.3-2.8-5.8-4.2z" color="#00a448"/>
<path d="M417.3 104.2l5.8 4.6 2.3-2.9-5.8-4.5z" color="#009655"/>
<path d="M423.1 108.8l5.9 4.8 2.2-2.9-5.8-4.8z" color="#007970"/>
<path d="M429 113.6l5.9 5 2.2-3-5.9-4.9z" color="#005797"/>
<path d="M434.9 118.6l5.9 5.3 2.3-3.1-6-5.2z" color="#0034c0"/>
<path d="M440.8 123.9l5.9 5.6 2.3-3.2-5.9-5.5z" color="#0011ea"/>
<path d="M365 74.3l5.3 2.8 2.2-1.9-5.3-2.8z" color="#009655"/>
<path d="M370.3 77.1l5.4 3 2.2-2-5.4-2.9zM375.7 80.1l5.5 3.2 2.2-2.1-5.5-3.1zM381.2 83.3l5.5 3.4 2.3-2.2-5.6-3.3zM386.7 86.7l5.6 3.6 2.2-2.3-5.5-3.5zM392.3 90.3l5.6 3.8 2.3-2.4-5.7-3.7z" color="#00a448"/>
<path d="M397.9 94.1l5.7 4 2.2-2.4-5.6-4zM403.6 98.1l5.7 4.3 2.3-2.6-5.8-4.1z" color="#009655"/>
<path d="M409.3 102.4l5.8 4.4 2.2-2.6-5.7-4.4z" color="#008762"/>
<path d="M415.1 106.8l5.8 4.7 2.2-2.7-5.8-4.6z" color="#006882"/>
<path d="M420.9 111.5l5.8 4.9 2.3-2.8-5.9-4.8z" color="#005797"/>
<path d="M426.7 116.4l5.9 5.2 2.3-3-5.9-5z" color="#0034c0"/>
<path d="M432.6 121.6l5.9 5.4 2.3-3.1-5.9-5.3z" color="#0011ea"/>
<path d="M438.5 127l5.9 5.6 2.3-3.1-5.9-5.6z" color="#0000fc"/>
<path d="M365 74.3l5.3 2.8 6.6-6-5.4-2.5zM370.3 77.1l5.4 3 6.6-6.2-5.4-2.8zM375.7 80.1l5.5 3.2 6.6-6.5-5.5-2.9zM381.2 83.3l5.5 3.4 6.7-6.8-5.6-3.1zM386.7 86.7l5.6 3.6 6.6-7.1-5.5-3.3zM392.3 90.3l5.6 3.8 6.7-7.3-5.7-3.6zM397.9 94.1l5.7 4 6.7-7.6-5.7-3.7zM403.6 98.1l5.7 4.3 6.7-7.9-5.7-4zM409.3 102.4l5.8 4.4 6.7-8.2-5.8-4.1zM415.1 106.8l5.8 4.7 6.7-8.5-5.8-4.4zM420.9 111.5l5.8 4.9 6.8-8.7-5.9-4.7zM426.7 116.4l5.9 5.2 6.8-9-5.9-4.9zM432.6 121.6l5.9 5.4 6.9-9.3-6-5.1zM438.5 127l5.9 5.6 6.9-9.6-5.9-5.3z" class="m"/>
<path d="M362.8 76.2l5.3 2.9 2.2-2-5.3-2.8z" color="#008762"/>
<path d="M368.1 79.1l5.4 3 2.2-2-5.4-3zM373.5 82.1l5.5 3.3 2.2-2.1-5.5-3.2zM379 85.4l5.5 3.5 2.2-2.2-5.5-3.4zM384.5 88.9l5.6 3.7 2.2-2.3-5.6-3.6z" color="#009655"/>
<path d="M390.1 92.6l5.6 3.9 2.2-2.4-5.6-3.8zM395.7 96.5l5.6 4.1 2.3-2.5-5.7-4z" color="#008762"/>
<path d="M401.3 100.6l5.7 4.3 2.3-2.5-5.7-4.3z" color="#007970"/>
<path d="M407 104.9l5.8 4.5 2.3-2.6-5.8-4.4z" color="#006882"/>
<path d="M412.8 109.4l5.8 4.8 2.3-2.7-5.8-4.7z" color="#0046ac"/>
<path d="M418.6 114.2l5.8 5 2.3-2.8-5.8-4.9z" color="#0034c0"/>
<path d="M424.4 119.2l5.9 5.2 2.3-2.8-5.9-5.2z" color="#0011ea"/>
<path d="M430.3 124.4l5.9 5.5 2.3-2.9-5.9-5.4z" color="#0000fc"/>
<path d="M436.2 129.9l5.9 5.7 2.3-3-5.9-5.6z" color="#0000f3"/>
<path d="M360.6 78l5.3 2.9 2.2-1.8-5.3-2.9zM365.9 80.9l5.4 3.2 2.2-2-5.4-3zM371.3 84.1l5.5 3.4 2.2-2.1-5.5-3.3zM376.8 87.5l5.5 3.5 2.2-2.1-5.5-3.5zM382.3 91l5.5 3.8 2.3-2.2-5.6-3.7zM387.8 94.8l5.6 4 2.3-2.3-5.6-3.9z" color="#007970"/>
<path d="M393.4 98.8l5.7 4.2 2.2-2.4-5.6-4.1z" color="#006882"/>
<path d="M399.1 103l5.7 4.4 2.2-2.5-5.7-4.3z" color="#005797"/>
<path d="M404.8 107.4l5.7 4.6 2.3-2.6-5.8-4.5z" color="#0046ac"/>
<path d="M410.5 112l5.8 4.8 2.3-2.6-5.8-4.8z" color="#0023d5"/>
<path d="M416.3 116.8l5.8 5.1 2.3-2.7-5.8-5z" color="#0011ea"/>
<path d="M422.1 121.9l5.9 5.3 2.3-2.8-5.9-5.2z" color="#0000fc"/>
<path d="M428 127.2l5.9 5.6 2.3-2.9-5.9-5.5z" color="#0000f3"/>
<path d="M433.9 132.8l5.9 5.8 2.3-3-5.9-5.7z" color="#0000ea"/>
<path d="M358.3 79.8l5.4 3 2.2-1.9-5.3-2.9zM363.7 82.8l5.4 3.2 2.2-1.9-5.4-3.2zM369.1 86l5.4 3.5 2.3-2-5.5-3.4zM374.5 89.5l5.5 3.6 2.3-2.1-5.5-3.5zM380 93.1l5.6 3.9 2.2-2.2-5.5-3.8z" color="#006882"/>
<path d="M385.6 97l5.6 4 2.2-2.2-5.6-4z" color="#005797"/>
<path d="M391.2 101l5.6 4.3 2.3-2.3-5.7-4.2z" color="#0046ac"/>
<path d="M396.8 105.3l5.7 4.4 2.3-2.3-5.7-4.4z" color="#0034c0"/>
<path d="M402.5 109.7l5.7 4.7 2.3-2.4-5.7-4.6z" color="#0023d5"/>
<path d="M408.2 114.4l5.8 5 2.3-2.6-5.8-4.8z" color="#0011ea"/>
<path d="M414 119.4l5.8 5.1 2.3-2.6-5.8-5.1z" color="#0000fc"/>
<path d="M419.8 124.5l5.9 5.4 2.3-2.7-5.9-5.3z" color="#0000f6"/>
<path d="M425.7 129.9l5.8 5.6 2.4-2.7-5.9-5.6z" color="#0000ea"/>
<path d="M431.5 135.5l6 5.9 2.3-2.8-5.9-5.8z" color="#0000dd"/>
<path d="M358.3 79.8l5.4 3 6.6-5.7-5.3-2.8zM363.7 82.8l5.4 3.2 6.6-5.9-5.4-3zM369.1 86l5.4 3.5 6.7-6.2-5.5-3.2zM374.5 89.5l5.5 3.6 6.7-6.4-5.5-3.4zM380 93.1l5.6 3.9 6.7-6.7-5.6-3.6zM385.6 97l5.6 4 6.7-6.9-5.6-3.8zM391.2 101l5.6 4.3 6.8-7.2-5.7-4zM396.8 105.3l5.7 4.4 6.8-7.3-5.7-4.3zM402.5 109.7l5.7 4.7 6.9-7.6-5.8-4.4zM408.2 114.4l5.8 5 6.9-7.9-5.8-4.7zM414 119.4l5.8 5.1 6.9-8.1-5.8-4.9zM419.8 124.5l5.9 5.4 6.9-8.3-5.9-5.2zM425.7 129.9l5.8 5.6 7-8.5-5.9-5.4zM431.5 135.5l6 5.9 6.9-8.8-5.9-5.6z" class="m"/>
<path d="M356.1 81.5l5.3 3.1 2.3-1.8-5.4-3zM361.4 84.6l5.4 3.3 2.3-1.9-5.4-3.2zM366.8 87.9l5.5 3.5 2.2-1.9-5.4-3.5zM372.3 91.4l5.5 3.8 2.2-2.1-5.5-3.6z" color="#005797"/>
<path d="M377.8 95.2l5.5 3.9 2.3-2.1-5.6-3.9zM383.3 99.1l5.6 4.1 2.3-2.2-5.6-4z" color="#0046ac"/>
<path d="M388.9 103.2l5.6 4.3 2.3-2.2-5.6-4.3z" color="#0034c0"/>
<path d="M394.5 107.5l5.7 4.6 2.3-2.4-5.7-4.4z" color="#0023d5"/>
<path d="M400.2 112.1l5.7 4.7 2.3-2.4-5.7-4.7z" color="#0000ff"/>
<path d="M405.9 116.8l5.8 5 2.3-2.4-5.8-5z" color="#0000fc"/>
<path d="M411.7 121.8l5.8 5.3 2.3-2.6-5.8-5.1z" color="#0000f6"/>
<path d="M417.5 127.1l5.8 5.4 2.4-2.6-5.9-5.4z" color="#0000f0"/>
<path d="M423.3 132.5l5.9 5.7 2.3-2.7-5.8-5.6z" color="#0000dd"/>
<path d="M429.2 138.2l5.9 6 2.4-2.8-6-5.9z" color="#0000d1"/>
<path d="M353.8 83.2l5.4 3.2 2.2-1.8-5.3-3.1zM359.2 86.4l5.4 3.4 2.2-1.9-5.4-3.3zM364.6 89.8l5.4 3.6 2.3-2-5.5-3.5z" color="#0046ac"/>
<path d="M370 93.4l5.5 3.7 2.3-1.9-5.5-3.8zM375.5 97.1l5.5 4 2.3-2-5.5-3.9z" color="#0034c0"/>
<path d="M381 101.1l5.6 4.2 2.3-2.1-5.6-4.1z" color="#0023d5"/>
<path d="M386.6 105.3l5.6 4.4 2.3-2.2-5.6-4.3z" color="#0011ea"/>
<path d="M392.2 109.7l5.7 4.6 2.3-2.2-5.7-4.6z" color="#0000ff"/>
<path d="M397.9 114.3l5.7 4.8 2.3-2.3-5.7-4.7z" color="#0000fc"/>
<path d="M403.6 119.1l5.8 5.1 2.3-2.4-5.8-5z" color="#0000f6"/>
<path d="M409.4 124.2l5.8 5.3 2.3-2.4-5.8-5.3z" color="#0000f0"/>
<path d="M415.2 129.5l5.8 5.5 2.3-2.5-5.8-5.4z" color="#0000e4"/>
<path d="M421 135l5.9 5.8 2.3-2.6-5.9-5.7z" color="#0000d7"/>
<path d="M426.9 140.8l5.9 6 2.3-2.6-5.9-6z" color="#0000c5"/>
<path d="M351.6 84.9l5.3 3.3 2.3-1.8-5.4-3.2zM356.9 88.2l5.4 3.4 2.3-1.8-5.4-3.4zM362.3 91.6l5.4 3.6 2.3-1.8-5.4-3.6z" color="#0034c0"/>
<path d="M367.7 95.2l5.5 3.9 2.3-2-5.5-3.7zM373.2 99.1l5.5 4 2.3-2-5.5-4z" color="#0023d5"/>
<path d="M378.7 103.1l5.6 4.2 2.3-2-5.6-4.2z" color="#0011ea"/>
<path d="M384.3 107.3l5.6 4.5 2.3-2.1-5.6-4.4z" color="#0000ff"/>
<path d="M389.9 111.8l5.7 4.7 2.3-2.2-5.7-4.6z" color="#0000fc"/>
<path d="M395.6 116.5l5.7 4.9 2.3-2.3-5.7-4.8z" color="#0000f6"/>
<path d="M401.3 121.4l5.8 5.1 2.3-2.3-5.8-5.1z" color="#0000f3"/>
<path d="M407.1 126.5l5.7 5.4 2.4-2.4-5.8-5.3z" color="#0000ea"/>
<path d="M412.8 131.9l5.9 5.5 2.3-2.4-5.8-5.5z" color="#0000dd"/>
<path d="M418.7 137.4l5.8 5.9 2.4-2.5-5.9-5.8z" color="#0000cb"/>
<path d="M424.5 143.3l5.9 6 2.4-2.5-5.9-6z" color="#0000b8"/>
<path d="M351.6 84.9l5.3 3.3 6.8-5.4-5.4-3zM356.9 88.2l5.4 3.4 6.8-5.6-5.4-3.2zM362.3 91.6l5.4 3.6 6.8-5.7-5.4-3.5zM367.7 95.2l5.5 3.9 6.8-6-5.5-3.6zM373.2 99.1l5.5 4 6.9-6.1-5.6-3.9zM378.7 103.1l5.6 4.2 6.9-6.3-5.6-4zM384.3 107.3l5.6 4.5 6.9-6.5-5.6-4.3zM389.9 111.8l5.7 4.7 6.9-6.8-5.7-4.4zM395.6 116.5l5.7 4.9 6.9-7-5.7-4.7zM401.3 121.4l5.8 5.1 6.9-7.1-5.8-5zM407.1 126.5l5.7 5.4 7-7.4-5.8-5.1zM412.8 131.9l5.9 5.5 7-7.5-5.9-5.4zM418.7 137.4l5.8 5.9 7-7.8-5.8-5.6zM424.5 143.3l5.9 6 7.1-7.9-6-5.9z" class="m"/>
<path d="M349.3 86.6l5.3 3.3 2.3-1.7-5.3-3.3zM354.6 89.9l5.4 3.5 2.3-1.8-5.4-3.4zM360 93.4l5.4 3.7 2.3-1.9-5.4-3.6z" color="#0023d5"/>
<path d="M365.4 97.1l5.5 3.8 2.3-1.8-5.5-3.9zM370.9 100.9l5.5 4.1 2.3-1.9-5.5-4z" color="#0011ea"/>
<path d="M376.4 105l5.6 4.3 2.3-2-5.6-4.2z" color="#0000ff"/>
<path d="M382 109.3l5.6 4.6 2.3-2.1-5.6-4.5z" color="#0000fc"/>
<path d="M387.6 113.9l5.7 4.7 2.3-2.1-5.7-4.7z" color="#0000f9"/>
<path d="M393.3 118.6l5.7 4.9 2.3-2.1-5.7-4.9z" color="#0000f3"/>
<path d="M399 123.5l5.7 5.2 2.4-2.2-5.8-5.1z" color="#0000ea"/>
<path d="M404.7 128.7l5.8 5.4 2.3-2.2-5.7-5.4z" color="#0000dd"/>
<path d="M410.5 134.1l5.8 5.7 2.4-2.4-5.9-5.5z" color="#0000d1"/>
<path d="M416.3 139.8l5.9 5.9 2.3-2.4-5.8-5.9z" color="#0000be"/>
<path d="M422.2 145.7l5.9 6.1 2.3-2.5-5.9-6z" color="#0000ad"/>
<path d="M347 88.2l5.3 3.3 2.3-1.6-5.3-3.3zM352.3 91.5l5.4 3.6 2.3-1.7-5.4-3.5zM357.7 95.1l5.4 3.7 2.3-1.7-5.4-3.7z" color="#0011ea"/>
<path d="M363.1 98.8l5.5 4 2.3-1.9-5.5-3.8zM368.6 102.8l5.5 4.1 2.3-1.9-5.5-4.1z" color="#0000ff"/>
<path d="M374.1 106.9l5.6 4.4 2.3-2-5.6-4.3z" color="#0000fc"/>
<path d="M379.7 111.3l5.6 4.5 2.3-1.9-5.6-4.6z" color="#0000f9"/>
<path d="M385.3 115.8l5.6 4.8 2.4-2-5.7-4.7z" color="#0000f3"/>
<path d="M390.9 120.6l5.7 5 2.4-2.1-5.7-4.9z" color="#0000f0"/>
<path d="M396.6 125.6l5.8 5.2 2.3-2.1-5.7-5.2z" color="#0000e4"/>
<path d="M402.4 130.8l5.7 5.5 2.4-2.2-5.8-5.4z" color="#0000d7"/>
<path d="M408.1 136.3l5.9 5.7 2.3-2.2-5.8-5.7z" color="#0000cb"/>
<path d="M414 142l5.8 5.9 2.4-2.2-5.9-5.9z" color="#0000b8"/>
<path d="M419.8 147.9l5.9 6.2 2.4-2.3-5.9-6.1z" color="#0000a8"/>
<path d="M344.7 89.8l5.3 3.4 2.3-1.7-5.3-3.3zM350 93.2l5.4 3.6 2.3-1.7-5.4-3.6zM355.4 96.8l5.4 3.8 2.3-1.8-5.4-3.7z" color="#0000ff"/>
<path d="M360.8 100.6l5.5 3.9 2.3-1.7-5.5-4zM366.3 104.5l5.5 4.2 2.3-1.8-5.5-4.1z" color="#0000fc"/>
<path d="M371.8 108.7l5.5 4.4 2.4-1.8-5.6-4.4z" color="#0000f9"/>
<path d="M377.3 113.1l5.6 4.6 2.4-1.9-5.6-4.5z" color="#0000f6"/>
<path d="M382.9 117.7l5.7 4.9 2.3-2-5.6-4.8z" color="#0000f0"/>
<path d="M388.6 122.6l5.7 5 2.3-2-5.7-5z" color="#0000ea"/>
<path d="M394.3 127.6l5.7 5.3 2.4-2.1-5.8-5.2z" color="#0000dd"/>
<path d="M400 132.9l5.8 5.5 2.3-2.1-5.7-5.5z" color="#0000d1"/>
<path d="M405.8 138.4l5.8 5.7 2.4-2.1-5.9-5.7z" color="#0000be"/>
<path d="M411.6 144.1l5.8 6 2.4-2.2-5.8-5.9z" color="#0000ad"/>
<path d="M417.4 150.1l5.9 6.2 2.4-2.2-5.9-6.2z" color="#00009f"/>
<path d="M344.7 89.8l5.3 3.4 6.9-5-5.3-3.3zM350 93.2l5.4 3.6 6.9-5.2-5.4-3.4zM355.4 96.8l5.4 3.8 6.9-5.4-5.4-3.6zM360.8 100.6l5.5 3.9 6.9-5.4-5.5-3.9zM366.3 104.5l5.5 4.2 6.9-5.6-5.5-4zM371.8 108.7l5.5 4.4 7-5.8-5.6-4.2zM377.3 113.1l5.6 4.6 7-5.9-5.6-4.5zM382.9 117.7l5.7 4.9 7-6.1-5.7-4.7zM388.6 122.6l5.7 5 7-6.2-5.7-4.9zM394.3 127.6l5.7 5.3 7.1-6.4-5.8-5.1zM400 132.9l5.8 5.5 7-6.5-5.7-5.4zM405.8 138.4l5.8 5.7 7.1-6.7-5.9-5.5zM411.6 144.1l5.8 6 7.1-6.8-5.8-5.9zM417.4 150.1l5.9 6.2 7.1-7-5.9-6z" class="m"/>
<path d="M342.4 91.3l5.3 3.5 2.3-1.6-5.3-3.4zM347.7 94.8l5.4 3.6 2.3-1.6-5.4-3.6zM353.1 98.4l5.4 3.8 2.3-1.6-5.4-3.8z" color="#0000fc"/>
<path d="M358.5 102.2l5.4 4.1 2.4-1.8-5.5-3.9zM363.9 106.3l5.5 4.2 2.4-1.8-5.5-4.2z" color="#0000f9"/>
<path d="M369.4 110.5l5.6 4.4 2.3-1.8-5.5-4.4z" color="#0000f6"/>
<path d="M375 114.9l5.6 4.7 2.3-1.9-5.6-4.6z" color="#0000f3"/>
<path d="M380.6 119.6l5.6 4.8 2.4-1.8-5.7-4.9z" color="#0000ea"/>
<path d="M386.2 124.4l5.7 5.1 2.4-1.9-5.7-5z" color="#0000e4"/>
<path d="M391.9 129.5l5.7 5.3 2.4-1.9-5.7-5.3z" color="#0000d7"/>
<path d="M397.6 134.8l5.8 5.6 2.4-2-5.8-5.5z" color="#0000cb"/>
<path d="M403.4 140.4l5.8 5.7 2.4-2-5.8-5.7z" color="#0000b8"/>
<path d="M409.2 146.1l5.8 6 2.4-2-5.8-6z" color="#0000a8"/>
<path d="M415 152.1l5.9 6.3 2.4-2.1-5.9-6.2z" color="#00009a"/>
<path d="M340.1 92.9l5.3 3.4 2.3-1.5-5.3-3.5z" color="#0000fc"/>
<path d="M345.4 96.3l5.3 3.7 2.4-1.6-5.4-3.6zM350.7 100l5.4 3.9 2.4-1.7-5.4-3.8zM356.1 103.9l5.5 4 2.3-1.6-5.4-4.1z" color="#0000f9"/>
<path d="M361.6 107.9l5.5 4.3 2.3-1.7-5.5-4.2z" color="#0000f6"/>
<path d="M367.1 112.2l5.5 4.4 2.4-1.7-5.6-4.4z" color="#0000f3"/>
<path d="M372.6 116.6l5.6 4.7 2.4-1.7-5.6-4.7z" color="#0000f0"/>
<path d="M378.2 121.3l5.6 4.9 2.4-1.8-5.6-4.8z" color="#0000e4"/>
<path d="M383.8 126.2l5.7 5.1 2.4-1.8-5.7-5.1z" color="#0000dd"/>
<path d="M389.5 131.3l5.7 5.4 2.4-1.9-5.7-5.3z" color="#0000d1"/>
<path d="M395.2 136.7l5.8 5.5 2.4-1.8-5.8-5.6z" color="#0000c5"/>
<path d="M401 142.2l5.8 5.8 2.4-1.9-5.8-5.7z" color="#0000b2"/>
<path d="M406.8 148l5.8 6.1 2.4-2-5.8-6z" color="#0000a4"/>
<path d="M412.6 154.1l5.9 6.2 2.4-1.9-5.9-6.3z" color="#000095"/>
<path d="M337.7 94.3l5.3 3.5 2.4-1.5-5.3-3.4zM343 97.8l5.3 3.7 2.4-1.5-5.3-3.7z" color="#0000f9"/>
<path d="M348.3 101.5l5.4 3.9 2.4-1.5-5.4-3.9zM353.7 105.4l5.5 4.1 2.4-1.6-5.5-4z" color="#0000f6"/>
<path d="M359.2 109.5l5.5 4.3 2.4-1.6-5.5-4.3z" color="#0000f3"/>
<path d="M364.7 113.8l5.5 4.5 2.4-1.7-5.5-4.4z" color="#0000f0"/>
<path d="M370.2 118.3l5.6 4.7 2.4-1.7-5.6-4.7z" color="#0000ea"/>
<path d="M375.8 123l5.7 4.9 2.3-1.7-5.6-4.9z" color="#0000e4"/>
<path d="M381.5 127.9l5.6 5.1 2.4-1.7-5.7-5.1z" color="#0000d7"/>
<path d="M387.1 133l5.7 5.4 2.4-1.7-5.7-5.4z" color="#0000cb"/>
<path d="M392.8 138.4l5.8 5.6 2.4-1.8-5.8-5.5z" color="#0000be"/>
<path d="M398.6 144l5.8 5.8 2.4-1.8-5.8-5.8z" color="#0000ad"/>
<path d="M404.4 149.8l5.8 6.1 2.4-1.8-5.8-6.1z" color="#00009f"/>
<path d="M410.2 155.9l5.9 6.3 2.4-1.9-5.9-6.2z" color="#000090"/>
<path d="M337.7 94.3l5.3 3.5 7-4.6-5.3-3.4zM343 97.8l5.3 3.7 7.1-4.7-5.4-3.6zM348.3 101.5l5.4 3.9 7.1-4.8-5.4-3.8zM353.7 105.4l5.5 4.1 7.1-5-5.5-3.9zM359.2 109.5l5.5 4.3 7.1-5.1-5.5-4.2zM364.7 113.8l5.5 4.5 7.1-5.2-5.5-4.4zM370.2 118.3l5.6 4.7 7.1-5.3-5.6-4.6zM375.8 123l5.7 4.9 7.1-5.3-5.7-4.9zM381.5 127.9l5.6 5.1 7.2-5.4-5.7-5zM387.1 133l5.7 5.4 7.2-5.5-5.7-5.3zM392.8 138.4l5.8 5.6 7.2-5.6-5.8-5.5zM398.6 144l5.8 5.8 7.2-5.7-5.8-5.7zM404.4 149.8l5.8 6.1 7.2-5.8-5.8-6zM410.2 155.9l5.9 6.3 7.2-5.9-5.9-6.2z" class="m"/>
<path d="M335.3 95.8l5.3 3.5 2.4-1.5-5.3-3.5zM340.6 99.3l5.4 3.7 2.3-1.5-5.3-3.7zM346 103l5.4 3.9 2.3-1.5-5.4-3.9z" color="#0000f6"/>
<path d="M351.4 106.9l5.4 4.1 2.4-1.5-5.5-4.1z" color="#0000f3"/>
<path d="M356.8 111l5.5 4.3 2.4-1.5-5.5-4.3z" color="#0000f0"/>
<path d="M362.3 115.3l5.5 4.6 2.4-1.6-5.5-4.5z" color="#0000ea"/>
<path d="M367.8 119.9l5.6 4.7 2.4-1.6-5.6-4.7z" color="#0000e4"/>
<path d="M373.4 124.6l5.6 4.9 2.5-1.6-5.7-4.9z" color="#0000dd"/>
<path d="M379 129.5l5.7 5.2 2.4-1.7-5.6-5.1z" color="#0000d1"/>
<path d="M384.7 134.7l5.7 5.3 2.4-1.6-5.7-5.4z" color="#0000c5"/>
<path d="M390.4 140l5.8 5.7 2.4-1.7-5.8-5.6z" color="#0000b8"/>
<path d="M396.2 145.7l5.8 5.8 2.4-1.7-5.8-5.8z" color="#0000a8"/>
<path d="M402 151.5l5.8 6.1 2.4-1.7-5.8-6.1z" color="#00009a"/>
<path d="M407.8 157.6l5.9 6.3 2.4-1.7-5.9-6.3z" color="#00008c"/>
<path d="M333 97.2l5.2 3.6 2.4-1.5-5.3-3.5z" color="#0000f6"/>
<path d="M338.2 100.8l5.4 3.7 2.4-1.5-5.4-3.7zM343.6 104.5l5.4 3.9 2.4-1.5-5.4-3.9zM349 108.4l5.4 4.1 2.4-1.5-5.4-4.1z" color="#0000f3"/>
<path d="M354.4 112.5l5.5 4.3 2.4-1.5-5.5-4.3z" color="#0000f0"/>
<path d="M359.9 116.8l5.5 4.6 2.4-1.5-5.5-4.6z" color="#0000ea"/>
<path d="M365.4 121.4l5.6 4.7 2.4-1.5-5.6-4.7z" color="#0000e4"/>
<path d="M371 126.1l5.6 4.9 2.4-1.5-5.6-4.9z" color="#0000d7"/>
<path d="M376.6 131l5.7 5.2 2.4-1.5-5.7-5.2z" color="#0000d1"/>
<path d="M382.3 136.2l5.7 5.4 2.4-1.6-5.7-5.3z" color="#0000c5"/>
<path d="M388 141.6l5.7 5.6 2.5-1.5-5.8-5.7z" color="#0000b2"/>
<path d="M393.7 147.2l5.8 5.8 2.5-1.5-5.8-5.8z" color="#0000a8"/>
<path d="M399.5 153l5.9 6.1 2.4-1.5-5.8-6.1z" color="#00009a"/>
<path d="M405.4 159.1l5.8 6.3 2.5-1.5-5.9-6.3z" color="#00008c"/>
<path d="M330.6 98.6l5.2 3.6 2.4-1.4-5.2-3.6zM335.8 102.2l5.4 3.7 2.4-1.4-5.4-3.7zM341.2 105.9l5.3 3.9 2.5-1.4-5.4-3.9z" color="#0000f3"/>
<path d="M346.5 109.8l5.5 4.1 2.4-1.4-5.4-4.1z" color="#0000f0"/>
<path d="M352 113.9l5.4 4.4 2.5-1.5-5.5-4.3z" color="#0000ea"/>
<path d="M357.4 118.3l5.6 4.5 2.4-1.4-5.5-4.6z" color="#0000e4"/>
<path d="M363 122.8l5.6 4.7 2.4-1.4-5.6-4.7z" color="#0000dd"/>
<path d="M368.6 127.5l5.6 5 2.4-1.5-5.6-4.9z" color="#0000d7"/>
<path d="M374.2 132.5l5.6 5.1 2.5-1.4-5.7-5.2z" color="#0000cb"/>
<path d="M379.8 137.6l5.7 5.4 2.5-1.4-5.7-5.4z" color="#0000be"/>
<path d="M385.5 143l5.8 5.6 2.4-1.4-5.7-5.6z" color="#0000b2"/>
<path d="M391.3 148.6l5.8 5.9 2.4-1.5-5.8-5.8z" color="#0000a4"/>
<path d="M397.1 154.5l5.8 6 2.5-1.4-5.9-6.1z" color="#000095"/>
<path d="M402.9 160.5l5.9 6.4 2.4-1.5-5.8-6.3z" color="#000087"/>
<path d="M330.6 98.6l5.2 3.6 7.2-4.4-5.3-3.5zM335.8 102.2l5.4 3.7 7.1-4.4-5.3-3.7zM341.2 105.9l5.3 3.9 7.2-4.4-5.4-3.9zM346.5 109.8l5.5 4.1 7.2-4.4-5.5-4.1zM352 113.9l5.4 4.4 7.3-4.5-5.5-4.3zM357.4 118.3l5.6 4.5 7.2-4.5-5.5-4.5zM363 122.8l5.6 4.7 7.2-4.5-5.6-4.7zM368.6 127.5l5.6 5 7.3-4.6-5.7-4.9zM374.2 132.5l5.6 5.1 7.3-4.6-5.6-5.1zM379.8 137.6l5.7 5.4 7.3-4.6-5.7-5.4zM385.5 143l5.8 5.6 7.3-4.6-5.8-5.6zM391.3 148.6l5.8 5.9 7.3-4.7-5.8-5.8zM397.1 154.5l5.8 6 7.3-4.6-5.8-6.1zM402.9 160.5l5.9 6.4 7.3-4.7-5.9-6.3z" class="m"/>
<path d="M328.1 100l5.3 3.5 2.4-1.3-5.2-3.6z" color="#0000f3"/>
<path d="M333.4 103.5l5.3 3.7 2.5-1.3-5.4-3.7zM338.7 107.2l5.4 4 2.4-1.4-5.3-3.9z" color="#0000f0"/>
<path d="M344.1 111.2l5.4 4.1 2.5-1.4-5.5-4.1zM349.5 115.3l5.5 4.3 2.4-1.3-5.4-4.4z" color="#0000ea"/>
<path d="M355 119.6l5.5 4.5 2.5-1.3-5.6-4.5z" color="#0000e4"/>
<path d="M360.5 124.1l5.6 4.7 2.5-1.3-5.6-4.7z" color="#0000dd"/>
<path d="M366.1 128.8l5.6 5 2.5-1.3-5.6-5z" color="#0000d7"/>
<path d="M371.7 133.8l5.7 5.1 2.4-1.3-5.6-5.1z" color="#0000cb"/>
<path d="M377.4 138.9l5.7 5.4 2.4-1.3-5.7-5.4z" color="#0000be"/>
<path d="M383.1 144.3l5.7 5.6 2.5-1.3-5.8-5.6z" color="#0000ad"/>
<path d="M388.8 149.9l5.8 5.9 2.5-1.3-5.8-5.9z" color="#0000a4"/>
<path d="M394.6 155.8l5.8 6 2.5-1.3-5.8-6z" color="#000095"/>
<path d="M400.4 161.8l5.9 6.3 2.5-1.2-5.9-6.4z" color="#000087"/>
<path d="M325.7 101.3l5.3 3.5 2.4-1.3-5.3-3.5zM331 104.8l5.3 3.8 2.4-1.4-5.3-3.7zM336.3 108.6l5.3 3.9 2.5-1.3-5.4-4z" color="#0000f0"/>
<path d="M341.6 112.5l5.5 4.1 2.4-1.3-5.4-4.1z" color="#0000ea"/>
<path d="M347.1 116.6l5.4 4.3 2.5-1.3-5.5-4.3zM352.5 120.9l5.6 4.5 2.4-1.3-5.5-4.5z" color="#0000e4"/>
<path d="M358.1 125.4l5.5 4.7 2.5-1.3-5.6-4.7z" color="#0000dd"/>
<path d="M363.6 130.1l5.6 4.9 2.5-1.2-5.6-5z" color="#0000d1"/>
<path d="M369.2 135l5.7 5.2 2.5-1.3-5.7-5.1z" color="#0000cb"/>
<path d="M374.9 140.2l5.7 5.3 2.5-1.2-5.7-5.4z" color="#0000be"/>
<path d="M380.6 145.5l5.7 5.6 2.5-1.2-5.7-5.6z" color="#0000ad"/>
<path d="M386.3 151.1l5.8 5.8 2.5-1.1-5.8-5.9z" color="#0000a4"/>
<path d="M392.1 156.9l5.8 6.1 2.5-1.2-5.8-6z" color="#000095"/>
<path d="M397.9 163l5.9 6.3 2.5-1.2-5.9-6.3z" color="#000087"/>
<path d="M323.3 102.6l5.2 3.5 2.5-1.3-5.3-3.5zM328.5 106.1l5.3 3.7 2.5-1.2-5.3-3.8z" color="#0000f0"/>
<path d="M333.8 109.8l5.4 3.9 2.4-1.2-5.3-3.9zM339.2 113.7l5.4 4.1 2.5-1.2-5.5-4.1z" color="#0000ea"/>
<path d="M344.6 117.8l5.5 4.3 2.4-1.2-5.4-4.3z" color="#0000e4"/>
<path d="M350.1 122.1l5.5 4.5 2.5-1.2-5.6-4.5z" color="#0000dd"/>
<path d="M355.6 126.6l5.5 4.6 2.5-1.1-5.5-4.7z" color="#0000d7"/>
<path d="M361.1 131.2l5.6 4.9 2.5-1.1-5.6-4.9z" color="#0000d1"/>
<path d="M366.7 136.1l5.7 5.2 2.5-1.1-5.7-5.2z" color="#0000c5"/>
<path d="M372.4 141.3l5.7 5.3 2.5-1.1-5.7-5.3z" color="#0000be"/>
<path d="M378.1 146.6l5.7 5.6 2.5-1.1-5.7-5.6z" color="#0000ad"/>
<path d="M383.8 152.2l5.8 5.7 2.5-1-5.8-5.8z" color="#0000a4"/>
<path d="M389.6 157.9l5.8 6.1 2.5-1-5.8-6.1z" color="#000095"/>
<path d="M395.4 164l5.9 6.2 2.5-.9-5.9-6.3z" color="#000087"/>
<path d="M323.3 102.6l5.2 3.5 7.3-3.9-5.2-3.6zM328.5 106.1l5.3 3.7 7.4-3.9-5.4-3.7zM333.8 109.8l5.4 3.9 7.3-3.9-5.3-3.9zM339.2 113.7l5.4 4.1 7.4-3.9-5.5-4.1zM344.6 117.8l5.5 4.3 7.3-3.8-5.4-4.4zM350.1 122.1l5.5 4.5 7.4-3.8-5.6-4.5zM355.6 126.6l5.5 4.6 7.5-3.7-5.6-4.7zM361.1 131.2l5.6 4.9 7.5-3.6-5.6-5zM366.7 136.1l5.7 5.2 7.4-3.7-5.6-5.1zM372.4 141.3l5.7 5.3 7.4-3.6-5.7-5.4zM378.1 146.6l5.7 5.6 7.5-3.6-5.8-5.6zM383.8 152.2l5.8 5.7 7.5-3.4-5.8-5.9zM389.6 157.9l5.8 6.1 7.5-3.5-5.8-6zM395.4 164l5.9 6.2 7.5-3.3-5.9-6.4z" class="m"/>
</g>
<g font-size="9.7" fill="#111" stroke="#111" stroke-width=".22">
<text x="312.5" y="33.6" text-anchor="end">7</text>
<text x="313.6" y="47.9" text-anchor="end">6</text>
<text x="314.7" y="61.7" text-anchor="end">5</text>
<text x="315.8" y="76.1" text-anchor="end">4</text>
<text x="316.9" y="89.3" text-anchor="end">3</text>
<text x="318" y="102.5" text-anchor="end">2</text>
<text x="319.2" y="115.5" text-anchor="end">1</text>
<text x="320.4" y="128.1" text-anchor="end">0</text>
<text x="318" y="139" text-anchor="middle">10</text>
<text x="333.3" y="149.3" text-anchor="middle">8</text>
<text x="349" y="160" text-anchor="middle">6</text>
<text x="365.6" y="170.9" text-anchor="middle">4</text>
<text x="382.9" y="183.7" text-anchor="middle">2</text>
<text x="409.8" y="194.6" text-anchor="middle">50</text>
<text x="432.8" y="184.4" text-anchor="middle">40</text>
<text x="453.6" y="174.2" text-anchor="middle">30</text>
<text x="474" y="164.5" text-anchor="middle">20</text>
<text x="493" y="155.7" text-anchor="middle">10</text>
<text font-size="9.7" transform="translate(305.7 83.3) rotate(-90)" text-anchor="middle">Avenin yield (%)</text>
<text font-size="9.7" transform="translate(345.9 178.4) rotate(33.3)" text-anchor="middle">Extraction time (min)</text>
<text font-size="9.7" transform="translate(465.3 185.8) rotate(-24.5)" text-anchor="middle">Sample/solvent ratio (w/v)</text>
</g>
<rect x="509.2" y="27.5" width="35.2" height="69.7" fill="#fff" stroke="#555" stroke-width="1"/>
<g font-size="5.8" fill="#222">
<rect x="513" y="33.4" width="14.5" height="4.5" fill="#000080" stroke="#333" stroke-width=".4"/>
<text x="530.4" y="37.7">&gt; 0</text>
<rect x="513" y="41.1" width="14.5" height="4.5" fill="#0000a0" stroke="#333" stroke-width=".4"/>
<text x="530.4" y="45.4">&lt; 1</text>
<rect x="513" y="48.8" width="14.5" height="4.5" fill="#0000ff" stroke="#333" stroke-width=".4"/>
<text x="530.4" y="53.1">&lt; 2</text>
<rect x="513" y="56.5" width="14.5" height="4.5" fill="#008860" stroke="#333" stroke-width=".4"/>
<text x="530.4" y="60.8">&lt; 3</text>
<rect x="513" y="64.2" width="14.5" height="4.5" fill="#00e010" stroke="#333" stroke-width=".4"/>
<text x="530.4" y="68.5">&lt; 4</text>
<rect x="513" y="71.9" width="14.5" height="4.5" fill="#fff000" stroke="#333" stroke-width=".4"/>
<text x="530.4" y="76.2">&lt; 5</text>
<rect x="513" y="79.6" width="14.5" height="4.5" fill="#ffb800" stroke="#333" stroke-width=".4"/>
<text x="530.4" y="83.9">&lt; 6</text>
<rect x="513" y="87.3" width="14.5" height="4.5" fill="#ff4c00" stroke="#333" stroke-width=".4"/>
<text x="530.4" y="91.7">&lt; 7</text>
</g>
<text x="409.8" y="234.3" text-anchor="middle" font-family="'Liberation Serif',serif" font-size="12.6" letter-spacing=".7" fill="#111" stroke="#111" stroke-width=".2">(<tspan font-weight="bold">b</tspan>)</text>
<g fill="none" stroke-linecap="round" stroke-linejoin="round">
<path d="M52.9 398.2L120.5 360L121.6 266.4L45.3 294.4z" fill="#fff"/>
<path d="M120.5 360L210.3 385.4L217.7 285.4L121.6 266.4z" fill="#fff"/>
<path d="M52.9 398.2L120.5 360M51.7 382L120.7 345.4M50.5 365.4L120.8 330.4M49.2 348.3L121 315M48 330.8L121.2 299.2M46.6 312.8L121.4 283M45.3 294.4L121.6 266.4M59.8 394.3L53.1 291.5M76.3 385L71.7 284.7M91.9 376.2L89.3 278.2M106.6 367.9L105.9 272.2M120.5 360L121.6 266.4M120.5 360L210.3 385.4M120.7 345.4L211.5 369.8M120.8 330.4L212.6 353.8M121 315L213.9 337.3M121.2 299.2L215.1 320.5M121.4 283L216.4 303.2M121.6 266.4L217.7 285.4M120.5 360L121.6 266.4M137.5 364.8L139.8 270M155 369.8L158.5 273.7M172.9 374.8L177.7 277.5M191.3 380L197.4 281.4M210.3 385.4L217.7 285.4M52.9 398.2L120.5 360M70.8 405.2L137.5 364.8M89.2 412.4L155 369.8M108.1 419.7L172.9 374.8M127.5 427.3L191.3 380M147.5 435.1L210.3 385.4M59.8 394.3L153.9 430M76.3 385L169.3 417.9M91.9 376.2L183.7 406.4M106.6 367.9L197.4 395.6M120.5 360L210.3 385.4" stroke="#dcdcdc" stroke-width="0.7"/>
<path d="M52.9 398.2L120.5 360L121.6 266.4L45.3 294.4zM120.5 360L210.3 385.4L217.7 285.4L121.6 266.4zM52.9 398.2L147.5 435.1L210.3 385.4L120.5 360z" stroke="#505050" stroke-width="0.7"/>
<path d="M52.9 398.2l-2.3 1.3M70.8 405.2l-2.2 1.3M89.2 412.4l-2.2 1.4M108.1 419.7l-2.1 1.5M127.5 427.3l-2.1 1.5M147.5 435.1l-2 1.6M153.9 430l2.4 0.9M169.3 417.9l2.5 0.9M183.7 406.4l2.5 0.8M197.4 395.6l2.5 0.8M210.3 385.4l2.5 0.7M52.9 398.2l-2.3 1.3M51.7 382l-2.3 1.2M50.5 365.4l-2.3 1.2M49.2 348.3l-2.4 1.1M48 330.8l-2.4 1M46.6 312.8l-2.4 1M45.3 294.4l-2.4 0.9" stroke="#505050" stroke-width="0.8"/>
</g>
<g stroke-linejoin="round" fill="currentColor" stroke="currentColor" stroke-width=".9">
<path d="M119.7 287l2.2 2.7 1.7-3.3-2.2-2.6z" color="#ff8600"/>
<path d="M121.9 289.7l2.3 2.6 1.7-3.3-2.3-2.6z" color="#ff9400"/>
<path d="M124.2 292.3l2.2 2.4 1.8-3.2-2.3-2.5z" color="#ffa200"/>
<path d="M126.4 294.7l2.3 2.4 1.7-3.3-2.2-2.3z" color="#ffaf00"/>
<path d="M128.7 297.1l2.3 2.3 1.7-3.3-2.3-2.3z" color="#ffc100"/>
<path d="M131 299.4l2.2 2.2 1.7-3.3-2.2-2.2z" color="#ffda00"/>
<path d="M133.2 301.6l2.3 2.1 1.7-3.3-2.3-2.1z" color="#ffe700"/>
<path d="M135.5 303.7l2.3 2.1 1.7-3.3-2.3-2.1zM137.8 305.8l2.3 1.9 1.7-3.3-2.3-1.9zM140.1 307.7l2.3 1.9 1.6-3.4-2.2-1.8z" color="#fff000"/>
<path d="M142.4 309.6l2.3 1.7 1.6-3.3-2.3-1.8z" color="#f3f200"/>
<path d="M144.7 311.3l2.3 1.7 1.6-3.3-2.3-1.7z" color="#cff600"/>
<path d="M147 313l2.3 1.6 1.6-3.3-2.3-1.6z" color="#acfb00"/>
<path d="M149.3 314.6l2.3 1.5 1.7-3.3-2.4-1.5z" color="#88ff00"/>
<path d="M151.6 316.1l2.3 1.4 1.7-3.3-2.3-1.4zM153.9 317.5l2.3 1.3 1.7-3.3-2.3-1.3z" color="#69f804"/>
<path d="M156.2 318.8l2.4 1.3 1.7-3.4-2.4-1.2z" color="#49f107"/>
<path d="M158.6 320.1l2.3 1.1 1.7-3.3-2.3-1.2zM160.9 321.2l2.4 1.1 1.7-3.4-2.4-1zM163.3 322.3l2.4 1 1.6-3.4-2.3-1z" color="#2aea0b"/>
<path d="M165.7 323.3l2.3 .9 1.7-3.4-2.4-.9zM168 324.2l2.4 .8 1.7-3.4-2.4-.8zM170.4 325l2.4 .7 1.7-3.4-2.4-.7zM172.8 325.7l2.4 .6 1.7-3.4-2.4-.6zM175.2 326.3l2.5 .5 1.7-3.4-2.5-.5zM177.7 326.8l2.4 .5 1.7-3.4-2.4-.5z" color="#0ae20f"/>
<path d="M180.1 327.3l2.5 .3 1.7-3.4-2.5-.3zM182.6 327.6l2.5 .3 1.6-3.4-2.4-.3zM185.1 327.9l2.4 .1 1.7-3.4-2.5-.1z" color="#2aea0b"/>
<path d="M187.5 328l2.5 .1 1.7-3.4-2.5-.1zM190 328.1l2.6 0 1.6-3.4-2.5 0z" color="#49f107"/>
<path d="M192.6 328.1l2.5-.1 1.7-3.4-2.6 .1z" color="#69f804"/>
<path d="M195.1 328l2.5-.2 1.7-3.4-2.5 .2zM197.6 327.8l2.6-.3 1.7-3.5-2.6 .4z" color="#88ff00"/>
<path d="M200.2 327.5l2.6-.5 1.7-3.4-2.6 .4z" color="#acfb00"/>
<path d="M202.8 327l2.6-.5 1.7-3.4-2.6 .5z" color="#cff600"/>
<path d="M205.4 326.5l2.6-.6 1.7-3.4-2.6 .6z" color="#f3f200"/>
<path d="M208 325.9l2.7-.7 1.7-3.4-2.7 .7zM210.7 325.2l2.7-.8 1.7-3.4-2.7 .8z" color="#fff000"/>
<path d="M118 290.2l2.2 2.7 1.7-3.2-2.2-2.7z" color="#ff9400"/>
<path d="M120.2 292.9l2.3 2.6 1.7-3.2-2.3-2.6z" color="#ffa800"/>
<path d="M122.5 295.5l2.2 2.4 1.7-3.2-2.2-2.4z" color="#ffb600"/>
<path d="M124.7 297.9l2.3 2.4 1.7-3.2-2.3-2.4z" color="#ffce00"/>
<path d="M127 300.3l2.3 2.3 1.7-3.2-2.3-2.3z" color="#ffe700"/>
<path d="M129.3 302.6l2.2 2.2 1.7-3.2-2.2-2.2zM131.5 304.8l2.3 2.2 1.7-3.3-2.3-2.1zM133.8 307l2.3 2 1.7-3.2-2.3-2.1z" color="#fff000"/>
<path d="M136.1 309l2.3 1.9 1.7-3.2-2.3-1.9z" color="#f3f200"/>
<path d="M138.4 310.9l2.3 1.9 1.7-3.2-2.3-1.9z" color="#cff600"/>
<path d="M140.7 312.8l2.3 1.8 1.7-3.3-2.3-1.7z" color="#acfb00"/>
<path d="M143 314.6l2.3 1.7 1.7-3.3-2.3-1.7z" color="#88ff00"/>
<path d="M145.3 316.3l2.3 1.5 1.7-3.2-2.3-1.6z" color="#69f804"/>
<path d="M147.6 317.8l2.3 1.6 1.7-3.3-2.3-1.5z" color="#49f107"/>
<path d="M149.9 319.4l2.3 1.4 1.7-3.3-2.3-1.4z" color="#2aea0b"/>
<path d="M152.2 320.8l2.4 1.3 1.6-3.3-2.3-1.3zM154.6 322.1l2.3 1.3 1.7-3.3-2.4-1.3z" color="#0ae20f"/>
<path d="M156.9 323.4l2.3 1.1 1.7-3.3-2.3-1.1zM159.2 324.5l2.4 1.1 1.7-3.3-2.4-1.1z" color="#00df10"/>
<path d="M161.6 325.6l2.4 1 1.7-3.3-2.4-1zM164 326.6l2.4 .9 1.6-3.3-2.3-.9zM166.4 327.5l2.3 .8 1.7-3.3-2.4-.8zM168.7 328.3l2.5 .7 1.6-3.3-2.4-.7zM171.2 329l2.4 .6 1.6-3.3-2.4-.6zM173.6 329.6l2.4 .5 1.7-3.3-2.5-.5zM176 330.1l2.4 .5 1.7-3.3-2.4-.5z" color="#00dd10"/>
<path d="M178.4 330.6l2.5 .3 1.7-3.3-2.5-.3zM180.9 330.9l2.5 .3 1.7-3.3-2.5-.3zM183.4 331.2l2.5 .2 1.6-3.4-2.4-.1z" color="#00df10"/>
<path d="M185.9 331.4l2.5 0 1.6-3.3-2.5-.1zM188.4 331.4l2.5 0 1.7-3.3-2.6 0z" color="#0ae20f"/>
<path d="M190.9 331.4l2.5-.1 1.7-3.3-2.5 .1z" color="#2aea0b"/>
<path d="M193.4 331.3l2.6-.2 1.6-3.3-2.5 .2zM196 331.1l2.5-.3 1.7-3.3-2.6 .3z" color="#49f107"/>
<path d="M198.5 330.8l2.6-.4 1.7-3.4-2.6 .5z" color="#69f804"/>
<path d="M201.1 330.4l2.6-.5 1.7-3.4-2.6 .5z" color="#88ff00"/>
<path d="M203.7 329.9l2.6-.6 1.7-3.4-2.6 .6z" color="#acfb00"/>
<path d="M206.3 329.3l2.7-.7 1.7-3.4-2.7 .7z" color="#cff600"/>
<path d="M209 328.6l2.6-.8 1.8-3.4-2.7 .8z" color="#f3f200"/>
<path d="M116.3 293.3l2.2 2.7 1.7-3.1-2.2-2.7z" color="#ffa800"/>
<path d="M118.5 296l2.3 2.6 1.7-3.1-2.3-2.6z" color="#ffb600"/>
<path d="M120.8 298.6l2.2 2.5 1.7-3.2-2.2-2.4z" color="#ffce00"/>
<path d="M123 301.1l2.3 2.4 1.7-3.2-2.3-2.4z" color="#ffe700"/>
<path d="M125.3 303.5l2.3 2.3 1.7-3.2-2.3-2.3zM127.6 305.8l2.3 2.2 1.6-3.2-2.2-2.2zM129.9 308l2.2 2.1 1.7-3.1-2.3-2.2z" color="#fff000"/>
<path d="M132.1 310.1l2.3 2.1 1.7-3.2-2.3-2z" color="#cff600"/>
<path d="M134.4 312.2l2.3 1.9 1.7-3.2-2.3-1.9z" color="#acfb00"/>
<path d="M136.7 314.1l2.3 1.9 1.7-3.2-2.3-1.9z" color="#88ff00"/>
<path d="M139 316l2.3 1.7 1.7-3.1-2.3-1.8z" color="#49f107"/>
<path d="M141.3 317.7l2.3 1.7 1.7-3.1-2.3-1.7z" color="#2aea0b"/>
<path d="M143.6 319.4l2.3 1.6 1.7-3.2-2.3-1.5z" color="#0ae20f"/>
<path d="M145.9 321l2.3 1.6 1.7-3.2-2.3-1.6zM148.2 322.6l2.3 1.4 1.7-3.2-2.3-1.4z" color="#00df10"/>
<path d="M150.5 324l2.4 1.3 1.7-3.2-2.4-1.3z" color="#00dd10"/>
<path d="M152.9 325.3l2.3 1.3 1.7-3.2-2.3-1.3zM155.2 326.6l2.4 1.1 1.6-3.2-2.3-1.1zM157.6 327.7l2.3 1.1 1.7-3.2-2.4-1.1z" color="#00db10"/>
<path d="M159.9 328.8l2.4 1 1.7-3.2-2.4-1zM162.3 329.8l2.4 .9 1.7-3.2-2.4-.9zM164.7 330.7l2.4 .8 1.6-3.2-2.3-.8zM167.1 331.5l2.4 .7 1.7-3.2-2.5-.7zM169.5 332.2l2.4 .6 1.7-3.2-2.4-.6zM171.9 332.8l2.4 .6 1.7-3.3-2.4-.5zM174.3 333.4l2.5 .4 1.6-3.2-2.4-.5z" color="#00d910"/>
<path d="M176.8 333.8l2.4 .4 1.7-3.3-2.5-.3zM179.2 334.2l2.5 .3 1.7-3.3-2.5-.3zM181.7 334.5l2.5 .1 1.7-3.2-2.5-.2z" color="#00db10"/>
<path d="M184.2 334.6l2.5 .1 1.7-3.3-2.5 0zM186.7 334.7l2.5 0 1.7-3.3-2.5 0z" color="#00dd10"/>
<path d="M189.2 334.7l2.5-.1 1.7-3.3-2.5 .1z" color="#00df10"/>
<path d="M191.7 334.6l2.6-.2 1.7-3.3-2.6 .2z" color="#0ae20f"/>
<path d="M194.3 334.4l2.5-.3 1.7-3.3-2.5 .3zM196.8 334.1l2.6-.4 1.7-3.3-2.6 .4z" color="#2aea0b"/>
<path d="M199.4 333.7l2.6-.5 1.7-3.3-2.6 .5z" color="#49f107"/>
<path d="M202 333.2l2.6-.6 1.7-3.3-2.6 .6z" color="#69f804"/>
<path d="M204.6 332.6l2.7-.7 1.7-3.3-2.7 .7z" color="#88ff00"/>
<path d="M207.3 331.9l2.6-.8 1.7-3.3-2.6 .8z" color="#acfb00"/>
<path d="M116.3 293.3l6.7 7.8 5.2-9.6-6.8-7.7zM123 301.1l6.9 6.9 5-9.7-6.7-6.8zM129.9 308l6.8 6.1 5.1-9.7-6.9-6.1zM136.7 314.1l6.9 5.3 5-9.7-6.8-5.3zM143.6 319.4l6.9 4.6 5.1-9.8-7-4.5zM150.5 324l7.1 3.7 5-9.8-7-3.7zM157.6 327.7l7.1 3 5-9.9-7.1-2.9zM164.7 330.7l7.2 2.1 5-9.9-7.2-2.1zM171.9 332.8l7.3 1.4 5.1-10-7.4-1.3zM179.2 334.2l7.5 .5 5-10-7.4-.5zM186.7 334.7l7.6-.3 5-10-7.6 .3zM194.3 334.4l7.7-1.2 5.1-10.1-7.8 1.3zM202 333.2l7.9-2.1 5.2-10.1-8 2.1z" class="m"/>
<path d="M114.5 296.4l2.3 2.7 1.7-3.1-2.2-2.7z" color="#ffb600"/>
<path d="M116.8 299.1l2.3 2.5 1.7-3-2.3-2.6z" color="#ffda00"/>
<path d="M119.1 301.6l2.2 2.5 1.7-3-2.2-2.5zM121.3 304.1l2.3 2.4 1.7-3-2.3-2.4zM123.6 306.5l2.3 2.3 1.7-3-2.3-2.3z" color="#fff000"/>
<path d="M125.9 308.8l2.3 2.3 1.7-3.1-2.3-2.2z" color="#f3f200"/>
<path d="M128.2 311.1l2.2 2.1 1.7-3.1-2.2-2.1z" color="#acfb00"/>
<path d="M130.4 313.2l2.3 2.1 1.7-3.1-2.3-2.1z" color="#88ff00"/>
<path d="M132.7 315.3l2.3 1.9 1.7-3.1-2.3-1.9z" color="#49f107"/>
<path d="M135 317.2l2.3 1.9 1.7-3.1-2.3-1.9z" color="#2aea0b"/>
<path d="M137.3 319.1l2.3 1.8 1.7-3.2-2.3-1.7z" color="#0ae20f"/>
<path d="M139.6 320.9l2.3 1.7 1.7-3.2-2.3-1.7z" color="#00df10"/>
<path d="M141.9 322.6l2.3 1.6 1.7-3.2-2.3-1.6z" color="#00dd10"/>
<path d="M144.2 324.2l2.3 1.5 1.7-3.1-2.3-1.6zM146.5 325.7l2.4 1.4 1.6-3.1-2.3-1.4z" color="#00db10"/>
<path d="M148.9 327.1l2.3 1.4 1.7-3.2-2.4-1.3z" color="#00d910"/>
<path d="M151.2 328.5l2.3 1.2 1.7-3.1-2.3-1.3zM153.5 329.7l2.4 1.2 1.7-3.2-2.4-1.1z" color="#00d710"/>
<path d="M155.9 330.9l2.4 1.1 1.6-3.2-2.3-1.1zM158.3 332l2.3 1 1.7-3.2-2.4-1zM160.6 333l2.4 .9 1.7-3.2-2.4-.9zM163 333.9l2.4 .8 1.7-3.2-2.4-.8zM165.4 334.7l2.4 .7 1.7-3.2-2.4-.7zM167.8 335.4l2.4 .6 1.7-3.2-2.4-.6zM170.2 336l2.4 .6 1.7-3.2-2.4-.6zM172.6 336.6l2.5 .4 1.7-3.2-2.5-.4z" color="#00d510"/>
<path d="M175.1 337l2.4 .4 1.7-3.2-2.4-.4zM177.5 337.4l2.5 .3 1.7-3.2-2.5-.3zM180 337.7l2.5 .1 1.7-3.2-2.5-.1z" color="#00d710"/>
<path d="M182.5 337.8l2.5 .1 1.7-3.2-2.5-.1z" color="#00d910"/>
<path d="M185 337.9l2.5 0 1.7-3.2-2.5 0zM187.5 337.9l2.5-.1 1.7-3.2-2.5 .1z" color="#00db10"/>
<path d="M190 337.8l2.6-.2 1.7-3.2-2.6 .2z" color="#00dd10"/>
<path d="M192.6 337.6l2.6-.3 1.6-3.2-2.5 .3z" color="#00df10"/>
<path d="M195.2 337.3l2.5-.4 1.7-3.2-2.6 .4zM197.7 336.9l2.6-.5 1.7-3.2-2.6 .5z" color="#0ae20f"/>
<path d="M200.3 336.4l2.7-.6 1.6-3.2-2.6 .6z" color="#2aea0b"/>
<path d="M203 335.8l2.6-.7 1.7-3.2-2.7 .7z" color="#49f107"/>
<path d="M205.6 335.1l2.7-.8 1.6-3.2-2.6 .8z" color="#88ff00"/>
<path d="M112.8 299.4l2.3 2.6 1.7-2.9-2.3-2.7z" color="#ffda00"/>
<path d="M115.1 302l2.3 2.6 1.7-3-2.3-2.5zM117.4 304.6l2.2 2.5 1.7-3-2.2-2.5zM119.6 307.1l2.3 2.4 1.7-3-2.3-2.4z" color="#fff000"/>
<path d="M121.9 309.5l2.3 2.4 1.7-3.1-2.3-2.3z" color="#cff600"/>
<path d="M124.2 311.9l2.3 2.2 1.7-3-2.3-2.3z" color="#acfb00"/>
<path d="M126.5 314.1l2.2 2.1 1.7-3-2.2-2.1z" color="#69f804"/>
<path d="M128.7 316.2l2.3 2.1 1.7-3-2.3-2.1z" color="#49f107"/>
<path d="M131 318.3l2.3 1.9 1.7-3-2.3-1.9z" color="#0ae20f"/>
<path d="M133.3 320.2l2.3 1.9 1.7-3-2.3-1.9z" color="#00df10"/>
<path d="M135.6 322.1l2.3 1.8 1.7-3-2.3-1.8z" color="#00dd10"/>
<path d="M137.9 323.9l2.3 1.7 1.7-3-2.3-1.7z" color="#00db10"/>
<path d="M140.2 325.6l2.3 1.6 1.7-3-2.3-1.6z" color="#00d910"/>
<path d="M142.5 327.2l2.4 1.5 1.6-3-2.3-1.5z" color="#00d710"/>
<path d="M144.9 328.7l2.3 1.5 1.7-3.1-2.4-1.4zM147.2 330.2l2.3 1.3 1.7-3-2.3-1.4z" color="#00d510"/>
<path d="M149.5 331.5l2.4 1.3 1.6-3.1-2.3-1.2zM151.9 332.8l2.3 1.2 1.7-3.1-2.4-1.2z" color="#00d310"/>
<path d="M154.2 334l2.4 1.1 1.7-3.1-2.4-1.1zM156.6 335.1l2.4 1 1.6-3.1-2.3-1zM159 336.1l2.3 .9 1.7-3.1-2.4-.9zM161.3 337l2.4 .8 1.7-3.1-2.4-.8zM163.7 337.8l2.4 .7 1.7-3.1-2.4-.7zM166.1 338.5l2.5 .6 1.6-3.1-2.4-.6zM168.6 339.1l2.4 .6 1.6-3.1-2.4-.6zM171 339.7l2.4 .4 1.7-3.1-2.5-.4z" color="#00d110"/>
<path d="M173.4 340.1l2.5 .4 1.6-3.1-2.4-.4zM175.9 340.5l2.4 .3 1.7-3.1-2.5-.3z" color="#00d310"/>
<path d="M178.3 340.8l2.5 .2 1.7-3.2-2.5-.1zM180.8 341l2.5 0 1.7-3.1-2.5-.1z" color="#00d510"/>
<path d="M183.3 341l2.5 0 1.7-3.1-2.5 0zM185.8 341l2.6-.1 1.6-3.1-2.5 .1z" color="#00d710"/>
<path d="M188.4 340.9l2.5-.2 1.7-3.1-2.6 .2z" color="#00d910"/>
<path d="M190.9 340.7l2.6-.3 1.7-3.1-2.6 .3z" color="#00db10"/>
<path d="M193.5 340.4l2.5-.4 1.7-3.1-2.5 .4z" color="#00dd10"/>
<path d="M196 340l2.6-.5 1.7-3.1-2.6 .5z" color="#00df10"/>
<path d="M198.6 339.5l2.7-.6 1.7-3.1-2.7 .6z" color="#0ae20f"/>
<path d="M201.3 338.9l2.6-.7 1.7-3.1-2.6 .7z" color="#2aea0b"/>
<path d="M203.9 338.2l2.7-.8 1.7-3.1-2.7 .8z" color="#49f107"/>
<path d="M111.1 302.3l2.3 2.7 1.7-3-2.3-2.6zM113.4 305l2.3 2.6 1.7-3-2.3-2.6zM115.7 307.6l2.2 2.5 1.7-3-2.2-2.5z" color="#fff000"/>
<path d="M117.9 310.1l2.3 2.4 1.7-3-2.3-2.4z" color="#cff600"/>
<path d="M120.2 312.5l2.3 2.3 1.7-2.9-2.3-2.4z" color="#88ff00"/>
<path d="M122.5 314.8l2.3 2.2 1.7-2.9-2.3-2.2z" color="#49f107"/>
<path d="M124.8 317l2.3 2.2 1.6-3-2.2-2.1z" color="#2aea0b"/>
<path d="M127.1 319.2l2.2 2 1.7-2.9-2.3-2.1z" color="#00df10"/>
<path d="M129.3 321.2l2.3 2 1.7-3-2.3-1.9z" color="#00dd10"/>
<path d="M131.6 323.2l2.3 1.9 1.7-3-2.3-1.9z" color="#00db10"/>
<path d="M133.9 325.1l2.3 1.8 1.7-3-2.3-1.8z" color="#00d910"/>
<path d="M136.2 326.9l2.4 1.7 1.6-3-2.3-1.7z" color="#00d710"/>
<path d="M138.6 328.6l2.3 1.6 1.6-3-2.3-1.6z" color="#00d510"/>
<path d="M140.9 330.2l2.3 1.5 1.7-3-2.4-1.5z" color="#00d310"/>
<path d="M143.2 331.7l2.3 1.5 1.7-3-2.3-1.5zM145.5 333.2l2.4 1.3 1.6-3-2.3-1.3z" color="#00d110"/>
<path d="M147.9 334.5l2.3 1.3 1.7-3-2.4-1.3zM150.2 335.8l2.4 1.2 1.6-3-2.3-1.2z" color="#00c71a"/>
<path d="M152.6 337l2.3 1.1 1.7-3-2.4-1.1zM154.9 338.1l2.4 1 1.7-3-2.4-1zM157.3 339.1l2.4 .9 1.6-3-2.3-.9zM159.7 340l2.4 .8 1.6-3-2.4-.8zM162.1 340.8l2.4 .8 1.6-3.1-2.4-.7zM164.5 341.6l2.4 .6 1.7-3.1-2.5-.6zM166.9 342.2l2.4 .5 1.7-3-2.4-.6z" color="#00ba29"/>
<path d="M169.3 342.7l2.4 .5 1.7-3.1-2.4-.4zM171.7 343.2l2.5 .4 1.7-3.1-2.5-.4zM174.2 343.6l2.5 .2 1.6-3-2.4-.3z" color="#00c71a"/>
<path d="M176.7 343.8l2.5 .2 1.6-3-2.5-.2zM179.2 344l2.4 .1 1.7-3.1-2.5 0z" color="#00d110"/>
<path d="M181.6 344.1l2.6 0 1.6-3.1-2.5 0z" color="#00d310"/>
<path d="M184.2 344.1l2.5-.1 1.7-3.1-2.6 .1zM186.7 344l2.5-.2 1.7-3.1-2.5 .2z" color="#00d510"/>
<path d="M189.2 343.8l2.6-.3 1.7-3.1-2.6 .3z" color="#00d710"/>
<path d="M191.8 343.5l2.6-.4 1.6-3.1-2.5 .4z" color="#00d910"/>
<path d="M194.4 343.1l2.6-.5 1.6-3.1-2.6 .5z" color="#00db10"/>
<path d="M197 342.6l2.6-.6 1.7-3.1-2.7 .6z" color="#00dd10"/>
<path d="M199.6 342l2.6-.7 1.7-3.1-2.6 .7z" color="#00df10"/>
<path d="M202.2 341.3l2.7-.8 1.7-3.1-2.7 .8z" color="#0ae20f"/>
<path d="M111.1 302.3l6.8 7.8 5.1-9-6.7-7.8zM117.9 310.1l6.9 6.9 5.1-9-6.9-6.9zM124.8 317l6.8 6.2 5.1-9.1-6.8-6.1zM131.6 323.2l7 5.4 5-9.2-6.9-5.3zM138.6 328.6l6.9 4.6 5-9.2-6.9-4.6zM145.5 333.2l7.1 3.8 5-9.3-7.1-3.7zM152.6 337l7.1 3 5-9.3-7.1-3zM159.7 340l7.2 2.2 5-9.4-7.2-2.1zM166.9 342.2l7.3 1.4 5-9.4-7.3-1.4zM174.2 343.6l7.4 .5 5.1-9.4-7.5-.5zM181.6 344.1l7.6-.3 5.1-9.4-7.6 .3zM189.2 343.8l7.8-1.2 5-9.4-7.7 1.2zM197 342.6l7.9-2.1 5-9.4-7.9 2.1z" class="m"/>
<path d="M109.4 305.1l2.3 2.7 1.7-2.8-2.3-2.7zM111.7 307.8l2.2 2.6 1.8-2.8-2.3-2.6z" color="#fff000"/>
<path d="M113.9 310.4l2.3 2.5 1.7-2.8-2.2-2.5z" color="#cff600"/>
<path d="M116.2 312.9l2.3 2.4 1.7-2.8-2.3-2.4z" color="#88ff00"/>
<path d="M118.5 315.3l2.3 2.4 1.7-2.9-2.3-2.3z" color="#49f107"/>
<path d="M120.8 317.7l2.3 2.2 1.7-2.9-2.3-2.2z" color="#0ae20f"/>
<path d="M123.1 319.9l2.3 2.2 1.7-2.9-2.3-2.2z" color="#00df10"/>
<path d="M125.4 322.1l2.3 2 1.6-2.9-2.2-2z" color="#00db10"/>
<path d="M127.7 324.1l2.3 2 1.6-2.9-2.3-2z" color="#00d910"/>
<path d="M130 326.1l2.3 1.9 1.6-2.9-2.3-1.9z" color="#00d710"/>
<path d="M132.3 328l2.3 1.8 1.6-2.9-2.3-1.8z" color="#00d510"/>
<path d="M134.6 329.8l2.3 1.7 1.7-2.9-2.4-1.7z" color="#00d310"/>
<path d="M136.9 331.5l2.3 1.6 1.7-2.9-2.3-1.6z" color="#00d110"/>
<path d="M139.2 333.1l2.3 1.6 1.7-3-2.3-1.5z" color="#00c71a"/>
<path d="M141.5 334.7l2.3 1.4 1.7-2.9-2.3-1.5zM143.8 336.1l2.4 1.4 1.7-3-2.4-1.3z" color="#00ba29"/>
<path d="M146.2 337.5l2.3 1.3 1.7-3-2.3-1.3zM148.5 338.8l2.4 1.1 1.7-2.9-2.4-1.2zM150.9 339.9l2.3 1.1 1.7-2.9-2.3-1.1z" color="#00ac37"/>
<path d="M153.2 341l2.4 1.1 1.7-3-2.4-1zM155.6 342.1l2.4 .9 1.7-3-2.4-.9zM158 343l2.4 .8 1.7-3-2.4-.8zM160.4 343.8l2.4 .7 1.7-2.9-2.4-.8zM162.8 344.5l2.4 .7 1.7-3-2.4-.6z" color="#009f46"/>
<path d="M165.2 345.2l2.4 .5 1.7-3-2.4-.5zM167.6 345.7l2.5 .5 1.6-3-2.4-.5zM170.1 346.2l2.4 .4 1.7-3-2.5-.4z" color="#00ac37"/>
<path d="M172.5 346.6l2.5 .3 1.7-3.1-2.5-.2zM175 346.9l2.5 .1 1.7-3-2.5-.2z" color="#00ba29"/>
<path d="M177.5 347l2.5 .1 1.6-3-2.4-.1zM180 347.1l2.5 0 1.7-3-2.6 0z" color="#00c71a"/>
<path d="M182.5 347.1l2.5-.1 1.7-3-2.5 .1z" color="#00d110"/>
<path d="M185 347l2.6-.2 1.6-3-2.5 .2z" color="#00d310"/>
<path d="M187.6 346.8l2.5-.3 1.7-3-2.6 .3z" color="#00d510"/>
<path d="M190.1 346.5l2.6-.4 1.7-3-2.6 .4z" color="#00d710"/>
<path d="M192.7 346.1l2.6-.5 1.7-3-2.6 .5z" color="#00d910"/>
<path d="M195.3 345.6l2.6-.5 1.7-3.1-2.6 .6z" color="#00db10"/>
<path d="M197.9 345.1l2.6-.7 1.7-3.1-2.6 .7z" color="#00dd10"/>
<path d="M200.5 344.4l2.7-.8 1.7-3.1-2.7 .8z" color="#00df10"/>
<path d="M107.7 307.9l2.3 2.7 1.7-2.8-2.3-2.7z" color="#fff000"/>
<path d="M110 310.6l2.2 2.6 1.7-2.8-2.2-2.6z" color="#cff600"/>
<path d="M112.2 313.2l2.3 2.5 1.7-2.8-2.3-2.5z" color="#88ff00"/>
<path d="M114.5 315.7l2.3 2.4 1.7-2.8-2.3-2.4z" color="#49f107"/>
<path d="M116.8 318.1l2.3 2.4 1.7-2.8-2.3-2.4z" color="#0ae20f"/>
<path d="M119.1 320.5l2.3 2.2 1.7-2.8-2.3-2.2z" color="#00dd10"/>
<path d="M121.4 322.7l2.3 2.2 1.7-2.8-2.3-2.2z" color="#00db10"/>
<path d="M123.7 324.9l2.3 2.1 1.7-2.9-2.3-2z" color="#00d710"/>
<path d="M126 327l2.3 1.9 1.7-2.8-2.3-2z" color="#00d510"/>
<path d="M128.3 328.9l2.3 1.9 1.7-2.8-2.3-1.9z" color="#00d310"/>
<path d="M130.6 330.8l2.3 1.8 1.7-2.8-2.3-1.8z" color="#00d110"/>
<path d="M132.9 332.6l2.3 1.8 1.7-2.9-2.3-1.7z" color="#00c71a"/>
<path d="M135.2 334.4l2.3 1.6 1.7-2.9-2.3-1.6z" color="#00ba29"/>
<path d="M137.5 336l2.3 1.5 1.7-2.8-2.3-1.6z" color="#00ac37"/>
<path d="M139.8 337.5l2.4 1.5 1.6-2.9-2.3-1.4zM142.2 339l2.3 1.4 1.7-2.9-2.4-1.4z" color="#009f46"/>
<path d="M144.5 340.4l2.4 1.2 1.6-2.8-2.3-1.3zM146.9 341.6l2.3 1.2 1.7-2.9-2.4-1.1zM149.2 342.8l2.4 1.1 1.6-2.9-2.3-1.1z" color="#008f5a"/>
<path d="M151.6 343.9l2.3 1.1 1.7-2.9-2.4-1.1zM153.9 345l2.4 .9 1.7-2.9-2.4-.9zM156.3 345.9l2.4 .8 1.7-2.9-2.4-.8zM158.7 346.7l2.4 .8 1.7-3-2.4-.7zM161.1 347.5l2.4 .6 1.7-2.9-2.4-.7z" color="#007c76"/>
<path d="M163.5 348.1l2.5 .6 1.6-3-2.4-.5zM166 348.7l2.4 .4 1.7-2.9-2.5-.5zM168.4 349.1l2.5 .4 1.6-2.9-2.4-.4z" color="#008f5a"/>
<path d="M170.9 349.5l2.4 .3 1.7-2.9-2.5-.3zM173.3 349.8l2.5 .2 1.7-3-2.5-.1z" color="#009f46"/>
<path d="M175.8 350l2.5 .1 1.7-3-2.5-.1z" color="#00ac37"/>
<path d="M178.3 350.1l2.5 0 1.7-3-2.5 0zM180.8 350.1l2.5-.1 1.7-3-2.5 .1z" color="#00ba29"/>
<path d="M183.3 350l2.6-.2 1.7-3-2.6 .2z" color="#00c71a"/>
<path d="M185.9 349.8l2.5-.3 1.7-3-2.5 .3z" color="#00d110"/>
<path d="M188.4 349.5l2.6-.4 1.7-3-2.6 .4z" color="#00d310"/>
<path d="M191 349.1l2.6-.5 1.7-3-2.6 .5z" color="#00d510"/>
<path d="M193.6 348.6l2.6-.6 1.7-2.9-2.6 .5z" color="#00d710"/>
<path d="M196.2 348l2.6-.7 1.7-2.9-2.6 .7z" color="#00d910"/>
<path d="M198.8 347.3l2.7-.8 1.7-2.9-2.7 .8z" color="#00db10"/>
<path d="M106 310.6l2.2 2.7 1.8-2.7-2.3-2.7z" color="#cff600"/>
<path d="M108.2 313.3l2.3 2.6 1.7-2.7-2.2-2.6z" color="#88ff00"/>
<path d="M110.5 315.9l2.3 2.5 1.7-2.7-2.3-2.5z" color="#49f107"/>
<path d="M112.8 318.4l2.3 2.5 1.7-2.8-2.3-2.4z" color="#0ae20f"/>
<path d="M115.1 320.9l2.3 2.3 1.7-2.7-2.3-2.4z" color="#00dd10"/>
<path d="M117.4 323.2l2.3 2.3 1.7-2.8-2.3-2.2z" color="#00d910"/>
<path d="M119.7 325.5l2.3 2.1 1.7-2.7-2.3-2.2z" color="#00d710"/>
<path d="M122 327.6l2.3 2.1 1.7-2.7-2.3-2.1z" color="#00d310"/>
<path d="M124.3 329.7l2.3 2 1.7-2.8-2.3-1.9z" color="#00d110"/>
<path d="M126.6 331.7l2.3 1.9 1.7-2.8-2.3-1.9z" color="#00c71a"/>
<path d="M128.9 333.6l2.3 1.8 1.7-2.8-2.3-1.8z" color="#00ba29"/>
<path d="M131.2 335.4l2.3 1.8 1.7-2.8-2.3-1.8z" color="#00ac37"/>
<path d="M133.5 337.2l2.3 1.6 1.7-2.8-2.3-1.6z" color="#009f46"/>
<path d="M135.8 338.8l2.4 1.5 1.6-2.8-2.3-1.5zM138.2 340.3l2.3 1.5 1.7-2.8-2.4-1.5z" color="#008f5a"/>
<path d="M140.5 341.8l2.3 1.4 1.7-2.8-2.3-1.4z" color="#007c76"/>
<path d="M142.8 343.2l2.4 1.3 1.7-2.9-2.4-1.2zM145.2 344.5l2.3 1.2 1.7-2.9-2.3-1.2zM147.5 345.7l2.4 1.1 1.7-2.9-2.4-1.1z" color="#006893"/>
<path d="M149.9 346.8l2.4 1 1.6-2.8-2.3-1.1zM152.3 347.8l2.4 .9 1.6-2.8-2.4-.9zM154.7 348.7l2.4 .9 1.6-2.9-2.4-.8zM157.1 349.6l2.4 .7 1.6-2.8-2.4-.8zM159.5 350.3l2.4 .7 1.6-2.9-2.4-.6z" color="#0054b0"/>
<path d="M161.9 351l2.4 .5 1.7-2.8-2.5-.6zM164.3 351.5l2.4 .5 1.7-2.9-2.4-.4zM166.7 352l2.5 .4 1.7-2.9-2.5-.4z" color="#006893"/>
<path d="M169.2 352.4l2.5 .3 1.6-2.9-2.4-.3zM171.7 352.7l2.4 .2 1.7-2.9-2.5-.2z" color="#007c76"/>
<path d="M174.1 352.9l2.5 .1 1.7-2.9-2.5-.1z" color="#008f5a"/>
<path d="M176.6 353l2.5 0 1.7-2.9-2.5 0z" color="#009f46"/>
<path d="M179.1 353l2.6-.1 1.6-2.9-2.5 .1z" color="#00ac37"/>
<path d="M181.7 352.9l2.5-.2 1.7-2.9-2.6 .2z" color="#00ba29"/>
<path d="M184.2 352.7l2.6-.3 1.6-2.9-2.5 .3z" color="#00c71a"/>
<path d="M186.8 352.4l2.5-.4 1.7-2.9-2.6 .4z" color="#00d110"/>
<path d="M189.3 352l2.6-.5 1.7-2.9-2.6 .5z" color="#00d310"/>
<path d="M191.9 351.5l2.6-.6 1.7-2.9-2.6 .6z" color="#00d510"/>
<path d="M194.5 350.9l2.7-.7 1.6-2.9-2.6 .7z" color="#00d710"/>
<path d="M197.2 350.2l2.6-.8 1.7-2.9-2.7 .8z" color="#00d910"/>
<path d="M106 310.6l6.8 7.8 5.1-8.3-6.8-7.8zM112.8 318.4l6.9 7.1 5.1-8.5-6.9-6.9zM119.7 325.5l6.9 6.2 5-8.5-6.8-6.2zM126.6 331.7l6.9 5.5 5.1-8.6-7-5.4zM133.5 337.2l7 4.6 5-8.6-6.9-4.6zM140.5 341.8l7 3.9 5.1-8.7-7.1-3.8zM147.5 345.7l7.2 3 5-8.7-7.1-3zM154.7 348.7l7.2 2.3 5-8.8-7.2-2.2zM161.9 351l7.3 1.4 5-8.8-7.3-1.4zM169.2 352.4l7.4 .6 5-8.9-7.4-.5zM176.6 353l7.6-.3 5-8.9-7.6 .3zM184.2 352.7l7.7-1.2 5.1-8.9-7.8 1.2zM191.9 351.5l7.9-2.1 5.1-8.9-7.9 2.1z" class="m"/>
<path d="M104.2 313.2l2.3 2.7 1.7-2.6-2.2-2.7z" color="#88ff00"/>
<path d="M106.5 315.9l2.3 2.7 1.7-2.7-2.3-2.6z" color="#49f107"/>
<path d="M108.8 318.6l2.3 2.5 1.7-2.7-2.3-2.5z" color="#0ae20f"/>
<path d="M111.1 321.1l2.3 2.4 1.7-2.6-2.3-2.5z" color="#00dd10"/>
<path d="M113.4 323.5l2.3 2.4 1.7-2.7-2.3-2.3z" color="#00d910"/>
<path d="M115.7 325.9l2.3 2.2 1.7-2.6-2.3-2.3z" color="#00d510"/>
<path d="M118 328.1l2.3 2.2 1.7-2.7-2.3-2.1z" color="#00d310"/>
<path d="M120.3 330.3l2.3 2.1 1.7-2.7-2.3-2.1z" color="#00d110"/>
<path d="M122.6 332.4l2.3 2 1.7-2.7-2.3-2z" color="#00ba29"/>
<path d="M124.9 334.4l2.3 1.9 1.7-2.7-2.3-1.9z" color="#00ac37"/>
<path d="M127.2 336.3l2.3 1.8 1.7-2.7-2.3-1.8z" color="#009f46"/>
<path d="M129.5 338.1l2.3 1.8 1.7-2.7-2.3-1.8z" color="#008f5a"/>
<path d="M131.8 339.9l2.4 1.6 1.6-2.7-2.3-1.6z" color="#007c76"/>
<path d="M134.2 341.5l2.3 1.6 1.7-2.8-2.4-1.5zM136.5 343.1l2.3 1.5 1.7-2.8-2.3-1.5z" color="#006893"/>
<path d="M138.8 344.6l2.4 1.3 1.6-2.7-2.3-1.4zM141.2 345.9l2.3 1.3 1.7-2.7-2.4-1.3z" color="#0054b0"/>
<path d="M143.5 347.2l2.4 1.2 1.6-2.7-2.3-1.2zM145.9 348.4l2.3 1.1 1.7-2.7-2.4-1.1z" color="#0043c2"/>
<path d="M148.2 349.5l2.4 1.1 1.7-2.8-2.4-1zM150.6 350.6l2.4 .9 1.7-2.8-2.4-.9zM153 351.5l2.4 .8 1.7-2.7-2.4-.9zM155.4 352.3l2.4 .8 1.7-2.8-2.4-.7zM157.8 353.1l2.4 .7 1.7-2.8-2.4-.7z" color="#0032d4"/>
<path d="M160.2 353.8l2.4 .5 1.7-2.8-2.4-.5zM162.6 354.3l2.5 .5 1.6-2.8-2.4-.5zM165.1 354.8l2.4 .4 1.7-2.8-2.5-.4z" color="#0043c2"/>
<path d="M167.5 355.2l2.5 .3 1.7-2.8-2.5-.3zM170 355.5l2.5 .2 1.6-2.8-2.4-.2z" color="#0054b0"/>
<path d="M172.5 355.7l2.5 .1 1.6-2.8-2.5-.1z" color="#006893"/>
<path d="M175 355.8l2.5 0 1.6-2.8-2.5 0z" color="#007c76"/>
<path d="M177.5 355.8l2.5-.1 1.7-2.8-2.6 .1z" color="#008f5a"/>
<path d="M180 355.7l2.5-.2 1.7-2.8-2.5 .2z" color="#009f46"/>
<path d="M182.5 355.5l2.6-.3 1.7-2.8-2.6 .3z" color="#00ac37"/>
<path d="M185.1 355.2l2.6-.4 1.6-2.8-2.5 .4z" color="#00ba29"/>
<path d="M187.7 354.8l2.6-.5 1.6-2.8-2.6 .5z" color="#00c71a"/>
<path d="M190.3 354.3l2.6-.6 1.6-2.8-2.6 .6z" color="#00d110"/>
<path d="M192.9 353.7l2.6-.7 1.7-2.8-2.7 .7z" color="#00d310"/>
<path d="M195.5 353l2.6-.8 1.7-2.8-2.6 .8z" color="#00d710"/>
<path d="M102.5 315.8l2.3 2.7 1.7-2.6-2.3-2.7z" color="#49f107"/>
<path d="M104.8 318.5l2.3 2.6 1.7-2.5-2.3-2.7z" color="#0ae20f"/>
<path d="M107.1 321.1l2.3 2.6 1.7-2.6-2.3-2.5z" color="#00dd10"/>
<path d="M109.4 323.7l2.3 2.4 1.7-2.6-2.3-2.4z" color="#00d910"/>
<path d="M111.7 326.1l2.3 2.4 1.7-2.6-2.3-2.4z" color="#00d510"/>
<path d="M114 328.5l2.3 2.3 1.7-2.7-2.3-2.2z" color="#00d310"/>
<path d="M116.3 330.8l2.3 2.1 1.7-2.6-2.3-2.2z" color="#00c71a"/>
<path d="M118.6 332.9l2.3 2.1 1.7-2.6-2.3-2.1z" color="#00ba29"/>
<path d="M120.9 335l2.3 2 1.7-2.6-2.3-2z" color="#00ac37"/>
<path d="M123.2 337l2.3 2 1.7-2.7-2.3-1.9z" color="#008f5a"/>
<path d="M125.5 339l2.3 1.8 1.7-2.7-2.3-1.8z" color="#007c76"/>
<path d="M127.8 340.8l2.3 1.7 1.7-2.6-2.3-1.8z" color="#006893"/>
<path d="M130.1 342.5l2.4 1.7 1.7-2.7-2.4-1.6zM132.5 344.2l2.3 1.6 1.7-2.7-2.3-1.6z" color="#0054b0"/>
<path d="M134.8 345.8l2.3 1.4 1.7-2.6-2.3-1.5z" color="#0043c2"/>
<path d="M137.1 347.2l2.4 1.4 1.7-2.7-2.4-1.3zM139.5 348.6l2.3 1.3 1.7-2.7-2.3-1.3z" color="#0032d4"/>
<path d="M141.8 349.9l2.4 1.2 1.7-2.7-2.4-1.2zM144.2 351.1l2.4 1.1 1.6-2.7-2.3-1.1zM146.6 352.2l2.3 1.1 1.7-2.7-2.4-1.1z" color="#0021e6"/>
<path d="M148.9 353.3l2.4 .9 1.7-2.7-2.4-.9zM151.3 354.2l2.4 .9 1.7-2.8-2.4-.8zM153.7 355.1l2.4 .7 1.7-2.7-2.4-.8z" color="#0010f8"/>
<path d="M156.1 355.8l2.4 .7 1.7-2.7-2.4-.7zM158.5 356.5l2.5 .6 1.6-2.8-2.4-.5zM161 357.1l2.4 .4 1.7-2.7-2.5-.5z" color="#0021e6"/>
<path d="M163.4 357.5l2.5 .4 1.6-2.7-2.4-.4zM165.9 357.9l2.4 .3 1.7-2.7-2.5-.3z" color="#0032d4"/>
<path d="M168.3 358.2l2.5 .2 1.7-2.7-2.5-.2zM170.8 358.4l2.5 .1 1.7-2.7-2.5-.1z" color="#0043c2"/>
<path d="M173.3 358.5l2.5 0 1.7-2.7-2.5 0z" color="#0054b0"/>
<path d="M175.8 358.5l2.5 0 1.7-2.8-2.5 .1z" color="#006893"/>
<path d="M178.3 358.5l2.6-.2 1.6-2.8-2.5 .2z" color="#007c76"/>
<path d="M180.9 358.3l2.5-.3 1.7-2.8-2.6 .3z" color="#008f5a"/>
<path d="M183.4 358l2.6-.4 1.7-2.8-2.6 .4z" color="#009f46"/>
<path d="M186 357.6l2.6-.5 1.7-2.8-2.6 .5z" color="#00ba29"/>
<path d="M188.6 357.1l2.6-.6 1.7-2.8-2.6 .6z" color="#00c71a"/>
<path d="M191.2 356.5l2.6-.7 1.7-2.8-2.6 .7z" color="#00d110"/>
<path d="M193.8 355.8l2.7-.8 1.6-2.8-2.6 .8z" color="#00d310"/>
<path d="M100.8 318.3l2.3 2.7 1.7-2.5-2.3-2.7z" color="#0ae20f"/>
<path d="M103.1 321l2.3 2.6 1.7-2.5-2.3-2.6z" color="#00dd10"/>
<path d="M105.4 323.6l2.3 2.6 1.7-2.5-2.3-2.6z" color="#00d910"/>
<path d="M107.7 326.2l2.3 2.5 1.7-2.6-2.3-2.4z" color="#00d510"/>
<path d="M110 328.7l2.3 2.3 1.7-2.5-2.3-2.4z" color="#00d310"/>
<path d="M112.3 331l2.3 2.3 1.7-2.5-2.3-2.3z" color="#00c71a"/>
<path d="M114.6 333.3l2.3 2.2 1.7-2.6-2.3-2.1z" color="#00ac37"/>
<path d="M116.9 335.5l2.3 2.1 1.7-2.6-2.3-2.1z" color="#009f46"/>
<path d="M119.2 337.6l2.3 2 1.7-2.6-2.3-2z" color="#008f5a"/>
<path d="M121.5 339.6l2.3 1.9 1.7-2.5-2.3-2z" color="#007c76"/>
<path d="M123.8 341.5l2.3 1.9 1.7-2.6-2.3-1.8z" color="#006893"/>
<path d="M126.1 343.4l2.4 1.7 1.6-2.6-2.3-1.7z" color="#0054b0"/>
<path d="M128.5 345.1l2.3 1.7 1.7-2.6-2.4-1.7z" color="#0043c2"/>
<path d="M130.8 346.8l2.3 1.6 1.7-2.6-2.3-1.6z" color="#0032d4"/>
<path d="M133.1 348.4l2.4 1.4 1.6-2.6-2.3-1.4z" color="#0021e6"/>
<path d="M135.5 349.8l2.3 1.4 1.7-2.6-2.4-1.4zM137.8 351.2l2.4 1.3 1.6-2.6-2.3-1.3z" color="#0010f8"/>
<path d="M140.2 352.5l2.3 1.3 1.7-2.7-2.4-1.2zM142.5 353.8l2.4 1.1 1.7-2.7-2.4-1.1zM144.9 354.9l2.4 1 1.6-2.6-2.3-1.1zM147.3 355.9l2.3 1 1.7-2.7-2.4-.9zM149.6 356.9l2.4 .8 1.7-2.6-2.4-.9zM152 357.7l2.5 .8 1.6-2.7-2.4-.7zM154.5 358.5l2.4 .7 1.6-2.7-2.4-.7zM156.9 359.2l2.4 .5 1.7-2.6-2.5-.6zM159.3 359.7l2.4 .5 1.7-2.7-2.4-.4z" color="#000cfa"/>
<path d="M161.7 360.2l2.5 .4 1.7-2.7-2.5-.4zM164.2 360.6l2.5 .3 1.6-2.7-2.4-.3z" color="#0010f8"/>
<path d="M166.7 360.9l2.4 .2 1.7-2.7-2.5-.2z" color="#0021e6"/>
<path d="M169.1 361.1l2.5 .1 1.7-2.7-2.5-.1z" color="#0032d4"/>
<path d="M171.6 361.2l2.5 0 1.7-2.7-2.5 0zM174.1 361.2l2.5-.1 1.7-2.6-2.5 0z" color="#0043c2"/>
<path d="M176.6 361.1l2.6-.1 1.7-2.7-2.6 .2z" color="#0054b0"/>
<path d="M179.2 361l2.5-.3 1.7-2.7-2.5 .3z" color="#007c76"/>
<path d="M181.7 360.7l2.6-.4 1.7-2.7-2.6 .4z" color="#008f5a"/>
<path d="M184.3 360.3l2.6-.5 1.7-2.7-2.6 .5z" color="#009f46"/>
<path d="M186.9 359.8l2.6-.6 1.7-2.7-2.6 .6z" color="#00ac37"/>
<path d="M189.5 359.2l2.6-.7 1.7-2.7-2.6 .7z" color="#00c71a"/>
<path d="M192.1 358.5l2.7-.8 1.7-2.7-2.7 .8z" color="#00d110"/>
<path d="M100.8 318.3l6.9 7.9 5.1-7.8-6.8-7.8zM107.7 326.2l6.9 7.1 5.1-7.8-6.9-7.1zM114.6 333.3l6.9 6.3 5.1-7.9-6.9-6.2zM121.5 339.6l7 5.5 5-7.9-6.9-5.5zM128.5 345.1l7 4.7 5-8-7-4.6zM135.5 349.8l7 4 5-8.1-7-3.9zM142.5 353.8l7.1 3.1 5.1-8.2-7.2-3zM149.6 356.9l7.3 2.3 5-8.2-7.2-2.3zM156.9 359.2l7.3 1.4 5-8.2-7.3-1.4zM164.2 360.6l7.4 .6 5-8.2-7.4-.6zM171.6 361.2l7.6-.2 5-8.3-7.6 .3zM179.2 361l7.7-1.2 5-8.3-7.7 1.2zM186.9 359.8l7.9-2.1 5-8.3-7.9 2.1z" class="m"/>
<path d="M99 320.7l2.3 2.7 1.8-2.4-2.3-2.7z" color="#00dd10"/>
<path d="M101.3 323.4l2.3 2.7 1.8-2.5-2.3-2.6z" color="#00d910"/>
<path d="M103.6 326.1l2.3 2.5 1.8-2.4-2.3-2.6z" color="#00d510"/>
<path d="M105.9 328.6l2.3 2.5 1.8-2.4-2.3-2.5z" color="#00d310"/>
<path d="M108.2 331.1l2.4 2.4 1.7-2.5-2.3-2.3z" color="#00c71a"/>
<path d="M110.6 333.5l2.3 2.3 1.7-2.5-2.3-2.3z" color="#00ac37"/>
<path d="M112.9 335.8l2.3 2.2 1.7-2.5-2.3-2.2z" color="#009f46"/>
<path d="M115.2 338l2.3 2.1 1.7-2.5-2.3-2.1z" color="#007c76"/>
<path d="M117.5 340.1l2.3 2 1.7-2.5-2.3-2z" color="#006893"/>
<path d="M119.8 342.1l2.3 2 1.7-2.6-2.3-1.9z" color="#0054b0"/>
<path d="M122.1 344.1l2.3 1.8 1.7-2.5-2.3-1.9z" color="#0043c2"/>
<path d="M124.4 345.9l2.4 1.8 1.7-2.6-2.4-1.7z" color="#0032d4"/>
<path d="M126.8 347.7l2.3 1.6 1.7-2.5-2.3-1.7z" color="#0021e6"/>
<path d="M129.1 349.3l2.3 1.6 1.7-2.5-2.3-1.6z" color="#0010f8"/>
<path d="M131.4 350.9l2.4 1.5 1.7-2.6-2.4-1.4zM133.8 352.4l2.3 1.4 1.7-2.6-2.3-1.4z" color="#000cfa"/>
<path d="M136.1 353.8l2.4 1.3 1.7-2.6-2.4-1.3zM138.5 355.1l2.3 1.2 1.7-2.5-2.3-1.3z" color="#0009fb"/>
<path d="M140.8 356.3l2.4 1.2 1.7-2.6-2.4-1.1zM143.2 357.5l2.4 1 1.7-2.6-2.4-1zM145.6 358.5l2.4 1 1.6-2.6-2.3-1zM148 359.5l2.4 .8 1.6-2.6-2.4-.8zM150.4 360.3l2.4 .8 1.7-2.6-2.5-.8zM152.8 361.1l2.4 .7 1.7-2.6-2.4-.7zM155.2 361.8l2.4 .5 1.7-2.6-2.4-.5z" color="#0005fd"/>
<path d="M157.6 362.3l2.5 .5 1.6-2.6-2.4-.5zM160.1 362.8l2.4 .4 1.7-2.6-2.5-.4z" color="#0009fb"/>
<path d="M162.5 363.2l2.5 .3 1.7-2.6-2.5-.3zM165 363.5l2.5 .2 1.6-2.6-2.4-.2z" color="#000cfa"/>
<path d="M167.5 363.7l2.4 .2 1.7-2.7-2.5-.1z" color="#0010f8"/>
<path d="M169.9 363.9l2.6 0 1.6-2.7-2.5 0z" color="#0021e6"/>
<path d="M172.5 363.9l2.5-.1 1.6-2.7-2.5 .1z" color="#0032d4"/>
<path d="M175 363.8l2.5-.2 1.7-2.6-2.6 .1z" color="#0043c2"/>
<path d="M177.5 363.6l2.6-.3 1.6-2.6-2.5 .3z" color="#0054b0"/>
<path d="M180.1 363.3l2.5-.4 1.7-2.6-2.6 .4z" color="#006893"/>
<path d="M182.6 362.9l2.6-.5 1.7-2.6-2.6 .5z" color="#007c76"/>
<path d="M185.2 362.4l2.6-.5 1.7-2.7-2.6 .6z" color="#009f46"/>
<path d="M187.8 361.9l2.6-.7 1.7-2.7-2.6 .7z" color="#00ac37"/>
<path d="M190.4 361.2l2.7-.8 1.7-2.7-2.7 .8z" color="#00c71a"/>
<path d="M97.3 323.1l2.3 2.7 1.7-2.4-2.3-2.7z" color="#00db10"/>
<path d="M99.6 325.8l2.3 2.7 1.7-2.4-2.3-2.7z" color="#00d710"/>
<path d="M101.9 328.5l2.3 2.5 1.7-2.4-2.3-2.5z" color="#00d310"/>
<path d="M104.2 331l2.3 2.5 1.7-2.4-2.3-2.5z" color="#00c71a"/>
<path d="M106.5 333.5l2.3 2.4 1.8-2.4-2.4-2.4z" color="#00ac37"/>
<path d="M108.8 335.9l2.3 2.3 1.8-2.4-2.3-2.3z" color="#009f46"/>
<path d="M111.1 338.2l2.4 2.2 1.7-2.4-2.3-2.2z" color="#007c76"/>
<path d="M113.5 340.4l2.3 2.1 1.7-2.4-2.3-2.1z" color="#006893"/>
<path d="M115.8 342.5l2.3 2.1 1.7-2.5-2.3-2z" color="#0054b0"/>
<path d="M118.1 344.6l2.3 1.9 1.7-2.4-2.3-2z" color="#0032d4"/>
<path d="M120.4 346.5l2.3 1.9 1.7-2.5-2.3-1.8z" color="#0021e6"/>
<path d="M122.7 348.4l2.4 1.7 1.7-2.4-2.4-1.8z" color="#0010f8"/>
<path d="M125.1 350.1l2.3 1.7 1.7-2.5-2.3-1.6zM127.4 351.8l2.3 1.6 1.7-2.5-2.3-1.6z" color="#000cfa"/>
<path d="M129.7 353.4l2.4 1.5 1.7-2.5-2.4-1.5z" color="#0009fb"/>
<path d="M132.1 354.9l2.3 1.4 1.7-2.5-2.3-1.4zM134.4 356.3l2.4 1.3 1.7-2.5-2.4-1.3z" color="#0005fd"/>
<path d="M136.8 357.6l2.4 1.2 1.6-2.5-2.3-1.2zM139.2 358.8l2.3 1.2 1.7-2.5-2.4-1.2zM141.5 360l2.4 1 1.7-2.5-2.4-1z" color="#0001fe"/>
<path d="M143.9 361l2.4 1 1.7-2.5-2.4-1zM146.3 362l2.4 .9 1.7-2.6-2.4-.8zM148.7 362.9l2.4 .7 1.7-2.5-2.4-.8z" color="#0000fc"/>
<path d="M151.1 363.6l2.4 .7 1.7-2.5-2.4-.7zM153.5 364.3l2.4 .6 1.7-2.6-2.4-.5zM155.9 364.9l2.5 .5 1.7-2.6-2.5-.5z" color="#0001fe"/>
<path d="M158.4 365.4l2.4 .4 1.7-2.6-2.4-.4zM160.8 365.8l2.5 .3 1.7-2.6-2.5-.3z" color="#0005fd"/>
<path d="M163.3 366.1l2.5 .2 1.7-2.6-2.5-.2z" color="#0009fb"/>
<path d="M165.8 366.3l2.5 .1 1.6-2.5-2.4-.2zM168.3 366.4l2.5 0 1.7-2.5-2.6 0z" color="#000cfa"/>
<path d="M170.8 366.4l2.5 0 1.7-2.6-2.5 .1z" color="#0010f8"/>
<path d="M173.3 366.4l2.5-.2 1.7-2.6-2.5 .2z" color="#0021e6"/>
<path d="M175.8 366.2l2.6-.3 1.7-2.6-2.6 .3z" color="#0032d4"/>
<path d="M178.4 365.9l2.6-.4 1.6-2.6-2.5 .4z" color="#0054b0"/>
<path d="M181 365.5l2.5-.5 1.7-2.6-2.6 .5z" color="#006893"/>
<path d="M183.5 365l2.6-.6 1.7-2.5-2.6 .5z" color="#007c76"/>
<path d="M186.1 364.4l2.7-.7 1.6-2.5-2.6 .7z" color="#009f46"/>
<path d="M188.8 363.7l2.6-.8 1.7-2.5-2.7 .8z" color="#00ac37"/>
<path d="M95.5 325.3l2.3 2.8 1.8-2.3-2.3-2.7z" color="#00d710"/>
<path d="M97.8 328.1l2.4 2.7 1.7-2.3-2.3-2.7z" color="#00d310"/>
<path d="M100.2 330.8l2.3 2.6 1.7-2.4-2.3-2.5z" color="#00c71a"/>
<path d="M102.5 333.4l2.3 2.4 1.7-2.3-2.3-2.5z" color="#00ac37"/>
<path d="M104.8 335.8l2.3 2.4 1.7-2.3-2.3-2.4z" color="#009f46"/>
<path d="M107.1 338.2l2.3 2.4 1.7-2.4-2.3-2.3z" color="#007c76"/>
<path d="M109.4 340.6l2.3 2.2 1.8-2.4-2.4-2.2z" color="#006893"/>
<path d="M111.7 342.8l2.4 2.1 1.7-2.4-2.3-2.1z" color="#0043c2"/>
<path d="M114.1 344.9l2.3 2 1.7-2.3-2.3-2.1z" color="#0032d4"/>
<path d="M116.4 346.9l2.3 2 1.7-2.4-2.3-1.9z" color="#0021e6"/>
<path d="M118.7 348.9l2.3 1.9 1.7-2.4-2.3-1.9z" color="#0010f8"/>
<path d="M121 350.8l2.4 1.7 1.7-2.4-2.4-1.7z" color="#000cfa"/>
<path d="M123.4 352.5l2.3 1.7 1.7-2.4-2.3-1.7z" color="#0009fb"/>
<path d="M125.7 354.2l2.3 1.6 1.7-2.4-2.3-1.6z" color="#0005fd"/>
<path d="M128 355.8l2.4 1.5 1.7-2.4-2.4-1.5zM130.4 357.3l2.3 1.4 1.7-2.4-2.3-1.4z" color="#0001fe"/>
<path d="M132.7 358.7l2.4 1.3 1.7-2.4-2.4-1.3zM135.1 360l2.4 1.3 1.7-2.5-2.4-1.2z" color="#0000fc"/>
<path d="M137.5 361.3l2.3 1.1 1.7-2.4-2.3-1.2zM139.8 362.4l2.4 1.1 1.7-2.5-2.4-1zM142.2 363.5l2.4 .9 1.7-2.4-2.4-1zM144.6 364.4l2.4 .9 1.7-2.4-2.4-.9zM147 365.3l2.4 .8 1.7-2.5-2.4-.7zM149.4 366.1l2.4 .7 1.7-2.5-2.4-.7zM151.8 366.8l2.5 .6 1.6-2.5-2.4-.6z" color="#0000f8"/>
<path d="M154.3 367.4l2.4 .5 1.7-2.5-2.5-.5zM156.7 367.9l2.5 .4 1.6-2.5-2.4-.4z" color="#0000fc"/>
<path d="M159.2 368.3l2.4 .3 1.7-2.5-2.5-.3zM161.6 368.6l2.5 .2 1.7-2.5-2.5-.2z" color="#0001fe"/>
<path d="M164.1 368.8l2.5 .1 1.7-2.5-2.5-.1z" color="#0005fd"/>
<path d="M166.6 368.9l2.5 0 1.7-2.5-2.5 0z" color="#0009fb"/>
<path d="M169.1 368.9l2.5 0 1.7-2.5-2.5 0z" color="#000cfa"/>
<path d="M171.6 368.9l2.6-.2 1.6-2.5-2.5 .2z" color="#0010f8"/>
<path d="M174.2 368.7l2.5-.3 1.7-2.5-2.6 .3z" color="#0021e6"/>
<path d="M176.7 368.4l2.6-.4 1.7-2.5-2.6 .4z" color="#0032d4"/>
<path d="M179.3 368l2.6-.5 1.6-2.5-2.5 .5z" color="#0043c2"/>
<path d="M181.9 367.5l2.6-.6 1.6-2.5-2.6 .6z" color="#006893"/>
<path d="M184.5 366.9l2.6-.7 1.7-2.5-2.7 .7z" color="#007c76"/>
<path d="M187.1 366.2l2.6-.8 1.7-2.5-2.6 .8z" color="#009f46"/>
<path d="M95.5 325.3l7 8.1 5.2-7.2-6.9-7.9zM102.5 333.4l6.9 7.2 5.2-7.3-6.9-7.1zM109.4 340.6l7 6.3 5.1-7.3-6.9-6.3zM116.4 346.9l7 5.6 5.1-7.4-7-5.5zM123.4 352.5l7 4.8 5.1-7.5-7-4.7zM130.4 357.3l7.1 4 5-7.5-7-4zM137.5 361.3l7.1 3.1 5-7.5-7.1-3.1zM144.6 364.4l7.2 2.4 5.1-7.6-7.3-2.3zM151.8 366.8l7.4 1.5 5-7.7-7.3-1.4zM159.2 368.3l7.4 .6 5-7.7-7.4-.6zM166.6 368.9l7.6-.2 5-7.7-7.6 .2zM174.2 368.7l7.7-1.2 5-7.7-7.7 1.2zM181.9 367.5l7.8-2.1 5.1-7.7-7.9 2.1z" class="m"/>
<path d="M93.8 327.6l2.3 2.7 1.7-2.2-2.3-2.8z" color="#00d510"/>
<path d="M96.1 330.3l2.3 2.7 1.8-2.2-2.4-2.7z" color="#00d110"/>
<path d="M98.4 333l2.3 2.6 1.8-2.2-2.3-2.6z" color="#00ba29"/>
<path d="M100.7 335.6l2.4 2.5 1.7-2.3-2.3-2.4z" color="#009f46"/>
<path d="M103.1 338.1l2.3 2.4 1.7-2.3-2.3-2.4z" color="#007c76"/>
<path d="M105.4 340.5l2.3 2.3 1.7-2.2-2.3-2.4z" color="#006893"/>
<path d="M107.7 342.8l2.3 2.3 1.7-2.3-2.3-2.2z" color="#0043c2"/>
<path d="M110 345.1l2.3 2.1 1.8-2.3-2.4-2.1z" color="#0032d4"/>
<path d="M112.3 347.2l2.4 2 1.7-2.3-2.3-2z" color="#0021e6"/>
<path d="M114.7 349.2l2.3 2 1.7-2.3-2.3-2z" color="#000cfa"/>
<path d="M117 351.2l2.3 1.9 1.7-2.3-2.3-1.9z" color="#0009fb"/>
<path d="M119.3 353.1l2.4 1.8 1.7-2.4-2.4-1.7z" color="#0005fd"/>
<path d="M121.7 354.9l2.3 1.7 1.7-2.4-2.3-1.7z" color="#0001fe"/>
<path d="M124 356.6l2.3 1.6 1.7-2.4-2.3-1.6zM126.3 358.2l2.4 1.5 1.7-2.4-2.4-1.5z" color="#0000fc"/>
<path d="M128.7 359.7l2.3 1.4 1.7-2.4-2.3-1.4zM131 361.1l2.4 1.3 1.7-2.4-2.4-1.3z" color="#0000f8"/>
<path d="M133.4 362.4l2.4 1.3 1.7-2.4-2.4-1.3zM135.8 363.7l2.4 1.1 1.6-2.4-2.3-1.1zM138.2 364.8l2.3 1.1 1.7-2.4-2.4-1.1z" color="#0000f4"/>
<path d="M140.5 365.9l2.4 .9 1.7-2.4-2.4-.9zM142.9 366.8l2.4 .9 1.7-2.4-2.4-.9zM145.3 367.7l2.4 .8 1.7-2.4-2.4-.8z" color="#0000ef"/>
<path d="M147.7 368.5l2.5 .7 1.6-2.4-2.4-.7zM150.2 369.2l2.4 .6 1.7-2.4-2.5-.6zM152.6 369.8l2.4 .5 1.7-2.4-2.4-.5z" color="#0000f4"/>
<path d="M155 370.3l2.5 .4 1.7-2.4-2.5-.4zM157.5 370.7l2.4 .3 1.7-2.4-2.4-.3z" color="#0000f8"/>
<path d="M159.9 371l2.5 .2 1.7-2.4-2.5-.2z" color="#0000fc"/>
<path d="M162.4 371.2l2.5 .2 1.7-2.5-2.5-.1zM164.9 371.4l2.5 0 1.7-2.5-2.5 0z" color="#0001fe"/>
<path d="M167.4 371.4l2.5-.1 1.7-2.4-2.5 0z" color="#0005fd"/>
<path d="M169.9 371.3l2.6-.2 1.7-2.4-2.6 .2z" color="#0009fb"/>
<path d="M172.5 371.1l2.5-.3 1.7-2.4-2.5 .3z" color="#0010f8"/>
<path d="M175 370.8l2.6-.3 1.7-2.5-2.6 .4z" color="#0021e6"/>
<path d="M177.6 370.5l2.6-.5 1.7-2.5-2.6 .5z" color="#0032d4"/>
<path d="M180.2 370l2.6-.6 1.7-2.5-2.6 .6z" color="#0054b0"/>
<path d="M182.8 369.4l2.6-.7 1.7-2.5-2.6 .7z" color="#006893"/>
<path d="M185.4 368.7l2.6-.8 1.7-2.5-2.6 .8z" color="#008f5a"/>
<path d="M92 329.7l2.3 2.8 1.8-2.2-2.3-2.7z" color="#00d110"/>
<path d="M94.3 332.5l2.4 2.7 1.7-2.2-2.3-2.7z" color="#00ba29"/>
<path d="M96.7 335.2l2.3 2.6 1.7-2.2-2.3-2.6z" color="#009f46"/>
<path d="M99 337.8l2.3 2.5 1.8-2.2-2.4-2.5z" color="#008f5a"/>
<path d="M101.3 340.3l2.3 2.4 1.8-2.2-2.3-2.4z" color="#006893"/>
<path d="M103.6 342.7l2.4 2.3 1.7-2.2-2.3-2.3z" color="#0043c2"/>
<path d="M106 345l2.3 2.3 1.7-2.2-2.3-2.3z" color="#0032d4"/>
<path d="M108.3 347.3l2.3 2.1 1.7-2.2-2.3-2.1z" color="#0010f8"/>
<path d="M110.6 349.4l2.3 2.1 1.8-2.3-2.4-2z" color="#000cfa"/>
<path d="M112.9 351.5l2.4 2 1.7-2.3-2.3-2z" color="#0009fb"/>
<path d="M115.3 353.5l2.3 1.8 1.7-2.2-2.3-1.9z" color="#0005fd"/>
<path d="M117.6 355.3l2.3 1.8 1.8-2.2-2.4-1.8z" color="#0001fe"/>
<path d="M119.9 357.1l2.4 1.7 1.7-2.2-2.3-1.7z" color="#0000fc"/>
<path d="M122.3 358.8l2.3 1.6 1.7-2.2-2.3-1.6z" color="#0000f8"/>
<path d="M124.6 360.4l2.4 1.6 1.7-2.3-2.4-1.5zM127 362l2.3 1.4 1.7-2.3-2.3-1.4z" color="#0000f4"/>
<path d="M129.3 363.4l2.4 1.3 1.7-2.3-2.4-1.3zM131.7 364.7l2.4 1.3 1.7-2.3-2.4-1.3z" color="#0000ef"/>
<path d="M134.1 366l2.4 1.1 1.7-2.3-2.4-1.1zM136.5 367.1l2.3 1.1 1.7-2.3-2.3-1.1zM138.8 368.2l2.4 1 1.7-2.4-2.4-.9zM141.2 369.2l2.4 .9 1.7-2.4-2.4-.9zM143.6 370.1l2.5 .8 1.6-2.4-2.4-.8zM146.1 370.9l2.4 .6 1.7-2.3-2.5-.7z" color="#0000eb"/>
<path d="M148.5 371.5l2.4 .7 1.7-2.4-2.4-.6zM150.9 372.2l2.4 .5 1.7-2.4-2.4-.5zM153.3 372.7l2.5 .4 1.7-2.4-2.5-.4z" color="#0000ef"/>
<path d="M155.8 373.1l2.5 .3 1.6-2.4-2.4-.3z" color="#0000f4"/>
<path d="M158.3 373.4l2.4 .2 1.7-2.4-2.5-.2zM160.7 373.6l2.5 .1 1.7-2.3-2.5-.2z" color="#0000f8"/>
<path d="M163.2 373.7l2.5 .1 1.7-2.4-2.5 0z" color="#0000fc"/>
<path d="M165.7 373.8l2.6-.1 1.6-2.4-2.5 .1z" color="#0001fe"/>
<path d="M168.3 373.7l2.5-.2 1.7-2.4-2.6 .2z" color="#0005fd"/>
<path d="M170.8 373.5l2.5-.3 1.7-2.4-2.5 .3z" color="#0009fb"/>
<path d="M173.3 373.2l2.6-.4 1.7-2.3-2.6 .3z" color="#000cfa"/>
<path d="M175.9 372.8l2.6-.4 1.7-2.4-2.6 .5z" color="#0021e6"/>
<path d="M178.5 372.4l2.6-.6 1.7-2.4-2.6 .6z" color="#0032d4"/>
<path d="M181.1 371.8l2.6-.7 1.7-2.4-2.6 .7z" color="#0054b0"/>
<path d="M183.7 371.1l2.6-.8 1.7-2.4-2.6 .8z" color="#006893"/>
<path d="M90.2 331.8l2.4 2.8 1.7-2.1-2.3-2.8z" color="#00c71a"/>
<path d="M92.6 334.6l2.3 2.7 1.8-2.1-2.4-2.7z" color="#00ac37"/>
<path d="M94.9 337.3l2.3 2.6 1.8-2.1-2.3-2.6z" color="#008f5a"/>
<path d="M97.2 339.9l2.4 2.5 1.7-2.1-2.3-2.5z" color="#006893"/>
<path d="M99.6 342.4l2.3 2.5 1.7-2.2-2.3-2.4z" color="#0054b0"/>
<path d="M101.9 344.9l2.3 2.3 1.8-2.2-2.4-2.3z" color="#0032d4"/>
<path d="M104.2 347.2l2.3 2.2 1.8-2.1-2.3-2.3z" color="#0021e6"/>
<path d="M106.5 349.4l2.4 2.2 1.7-2.2-2.3-2.1z" color="#000cfa"/>
<path d="M108.9 351.6l2.3 2.1 1.7-2.2-2.3-2.1z" color="#0009fb"/>
<path d="M111.2 353.7l2.4 1.9 1.7-2.1-2.4-2z" color="#0005fd"/>
<path d="M113.6 355.6l2.3 1.9 1.7-2.2-2.3-1.8z" color="#0001fe"/>
<path d="M115.9 357.5l2.3 1.8 1.7-2.2-2.3-1.8z" color="#0000fc"/>
<path d="M118.2 359.3l2.4 1.7 1.7-2.2-2.4-1.7z" color="#0000f8"/>
<path d="M120.6 361l2.3 1.7 1.7-2.3-2.3-1.6z" color="#0000f4"/>
<path d="M122.9 362.7l2.4 1.5 1.7-2.2-2.4-1.6z" color="#0000ef"/>
<path d="M125.3 364.2l2.3 1.4 1.7-2.2-2.3-1.4zM127.6 365.6l2.4 1.4 1.7-2.3-2.4-1.3zM130 367l2.4 1.2 1.7-2.2-2.4-1.3z" color="#0000eb"/>
<path d="M132.4 368.2l2.4 1.2 1.7-2.3-2.4-1.1zM134.8 369.4l2.3 1.1 1.7-2.3-2.3-1.1zM137.1 370.5l2.4 .9 1.7-2.2-2.4-1zM139.5 371.4l2.4 .9 1.7-2.2-2.4-.9zM141.9 372.3l2.5 .8 1.7-2.2-2.5-.8zM144.4 373.1l2.4 .7 1.7-2.3-2.4-.6zM146.8 373.8l2.4 .6 1.7-2.2-2.4-.7z" color="#0000e7"/>
<path d="M149.2 374.4l2.5 .6 1.6-2.3-2.4-.5zM151.7 375l2.4 .4 1.7-2.3-2.5-.4z" color="#0000eb"/>
<path d="M154.1 375.4l2.5 .3 1.7-2.3-2.5-.3zM156.6 375.7l2.5 .2 1.6-2.3-2.4-.2z" color="#0000ef"/>
<path d="M159.1 375.9l2.4 .1 1.7-2.3-2.5-.1z" color="#0000f4"/>
<path d="M161.5 376l2.6 .1 1.6-2.3-2.5-.1z" color="#0000f8"/>
<path d="M164.1 376.1l2.5-.1 1.7-2.3-2.6 .1z" color="#0000fc"/>
<path d="M166.6 376l2.5-.2 1.7-2.3-2.5 .2z" color="#0001fe"/>
<path d="M169.1 375.8l2.6-.3 1.6-2.3-2.5 .3z" color="#0005fd"/>
<path d="M171.7 375.5l2.5-.3 1.7-2.4-2.6 .4z" color="#0009fb"/>
<path d="M174.2 375.2l2.6-.5 1.7-2.3-2.6 .4z" color="#0010f8"/>
<path d="M176.8 374.7l2.6-.6 1.7-2.3-2.6 .6z" color="#0021e6"/>
<path d="M179.4 374.1l2.6-.7 1.7-2.3-2.6 .7z" color="#0043c2"/>
<path d="M182 373.4l2.7-.8 1.6-2.3-2.6 .8z" color="#0054b0"/>
<path d="M90.2 331.8l7 8.1 5.3-6.5-7-8.1zM97.2 339.9l7 7.3 5.2-6.6-6.9-7.2zM104.2 347.2l7 6.5 5.2-6.8-7-6.3zM111.2 353.7l7 5.6 5.2-6.8-7-5.6zM118.2 359.3l7.1 4.9 5.1-6.9-7-4.8zM125.3 364.2l7.1 4 5.1-6.9-7.1-4zM132.4 368.2l7.1 3.2 5.1-7-7.1-3.1zM139.5 371.4l7.3 2.4 5-7-7.2-2.4zM146.8 373.8l7.3 1.6 5.1-7.1-7.4-1.5zM154.1 375.4l7.4 .6 5.1-7.1-7.4-.6zM161.5 376l7.6-.2 5.1-7.1-7.6 .2zM169.1 375.8l7.7-1.1 5.1-7.2-7.7 1.2zM176.8 374.7l7.9-2.1 5-7.2-7.8 2.1z" class="m"/>
<path d="M88.5 333.8l2.3 2.8 1.8-2-2.4-2.8z" color="#00ba29"/>
<path d="M90.8 336.6l2.3 2.7 1.8-2-2.3-2.7z" color="#009f46"/>
<path d="M93.1 339.3l2.4 2.7 1.7-2.1-2.3-2.6z" color="#007c76"/>
<path d="M95.5 342l2.3 2.5 1.8-2.1-2.4-2.5z" color="#0054b0"/>
<path d="M97.8 344.5l2.3 2.4 1.8-2-2.3-2.5z" color="#0032d4"/>
<path d="M100.1 346.9l2.4 2.4 1.7-2.1-2.3-2.3z" color="#0021e6"/>
<path d="M102.5 349.3l2.3 2.2 1.7-2.1-2.3-2.2z" color="#000cfa"/>
<path d="M104.8 351.5l2.3 2.2 1.8-2.1-2.4-2.2z" color="#0009fb"/>
<path d="M107.1 353.7l2.4 2.1 1.7-2.1-2.3-2.1z" color="#0005fd"/>
<path d="M109.5 355.8l2.3 2 1.8-2.2-2.4-1.9z" color="#0000fc"/>
<path d="M111.8 357.8l2.4 1.9 1.7-2.2-2.3-1.9z" color="#0000f8"/>
<path d="M114.2 359.7l2.3 1.8 1.7-2.2-2.3-1.8z" color="#0000f4"/>
<path d="M116.5 361.5l2.4 1.7 1.7-2.2-2.4-1.7zM118.9 363.2l2.3 1.6 1.7-2.1-2.3-1.7z" color="#0000ef"/>
<path d="M121.2 364.8l2.4 1.6 1.7-2.2-2.4-1.5z" color="#0000eb"/>
<path d="M123.6 366.4l2.3 1.4 1.7-2.2-2.3-1.4zM125.9 367.8l2.4 1.4 1.7-2.2-2.4-1.4z" color="#0000e7"/>
<path d="M128.3 369.2l2.4 1.2 1.7-2.2-2.4-1.2zM130.7 370.4l2.4 1.2 1.7-2.2-2.4-1.2zM133.1 371.6l2.3 1.1 1.7-2.2-2.3-1.1zM135.4 372.7l2.4 1 1.7-2.3-2.4-.9zM137.8 373.7l2.4 .8 1.7-2.2-2.4-.9zM140.2 374.5l2.5 .9 1.7-2.3-2.5-.8zM142.7 375.4l2.4 .7 1.7-2.3-2.4-.7zM145.1 376.1l2.4 .6 1.7-2.3-2.4-.6zM147.5 376.7l2.5 .5 1.7-2.2-2.5-.6z" color="#0000e2"/>
<path d="M150 377.2l2.4 .4 1.7-2.2-2.4-.4zM152.4 377.6l2.5 .3 1.7-2.2-2.5-.3z" color="#0000e7"/>
<path d="M154.9 377.9l2.5 .3 1.7-2.3-2.5-.2z" color="#0000eb"/>
<path d="M157.4 378.2l2.5 .1 1.6-2.3-2.4-.1z" color="#0000ef"/>
<path d="M159.9 378.3l2.5 0 1.7-2.2-2.6-.1z" color="#0000f4"/>
<path d="M162.4 378.3l2.5-.1 1.7-2.2-2.5 .1z" color="#0000f8"/>
<path d="M164.9 378.2l2.5-.1 1.7-2.3-2.5 .2z" color="#0000fc"/>
<path d="M167.4 378.1l2.6-.3 1.7-2.3-2.6 .3z" color="#0001fe"/>
<path d="M170 377.8l2.5-.4 1.7-2.2-2.5 .3z" color="#0005fd"/>
<path d="M172.5 377.4l2.6-.5 1.7-2.2-2.6 .5z" color="#0009fb"/>
<path d="M175.1 376.9l2.6-.6 1.7-2.2-2.6 .6z" color="#0010f8"/>
<path d="M177.7 376.3l2.6-.7 1.7-2.2-2.6 .7z" color="#0021e6"/>
<path d="M180.3 375.6l2.7-.8 1.7-2.2-2.7 .8z" color="#0043c2"/>
<path d="M86.7 335.8l2.3 2.8 1.8-2-2.3-2.8z" color="#00ac37"/>
<path d="M89 338.6l2.4 2.7 1.7-2-2.3-2.7z" color="#008f5a"/>
<path d="M91.4 341.3l2.3 2.7 1.8-2-2.4-2.7z" color="#006893"/>
<path d="M93.7 344l2.3 2.5 1.8-2-2.3-2.5z" color="#0043c2"/>
<path d="M96 346.5l2.4 2.4 1.7-2-2.3-2.4z" color="#0021e6"/>
<path d="M98.4 348.9l2.3 2.4 1.8-2-2.4-2.4z" color="#0010f8"/>
<path d="M100.7 351.3l2.4 2.3 1.7-2.1-2.3-2.2z" color="#0009fb"/>
<path d="M103.1 353.6l2.3 2.1 1.7-2-2.3-2.2z" color="#0005fd"/>
<path d="M105.4 355.7l2.3 2.1 1.8-2-2.4-2.1z" color="#0000fc"/>
<path d="M107.7 357.8l2.4 2 1.7-2-2.3-2z" color="#0000f8"/>
<path d="M110.1 359.8l2.3 1.9 1.8-2-2.4-1.9z" color="#0000f4"/>
<path d="M112.4 361.7l2.4 1.8 1.7-2-2.3-1.8z" color="#0000ef"/>
<path d="M114.8 363.5l2.3 1.8 1.8-2.1-2.4-1.7z" color="#0000eb"/>
<path d="M117.1 365.3l2.4 1.6 1.7-2.1-2.3-1.6zM119.5 366.9l2.3 1.6 1.8-2.1-2.4-1.6z" color="#0000e7"/>
<path d="M121.8 368.5l2.4 1.4 1.7-2.1-2.3-1.4zM124.2 369.9l2.4 1.4 1.7-2.1-2.4-1.4z" color="#0000e2"/>
<path d="M126.6 371.3l2.4 1.2 1.7-2.1-2.4-1.2zM129 372.5l2.3 1.2 1.8-2.1-2.4-1.2zM131.3 373.7l2.4 1.1 1.7-2.1-2.3-1.1z" color="#0000de"/>
<path d="M133.7 374.8l2.4 1 1.7-2.1-2.4-1zM136.1 375.8l2.4 .9 1.7-2.2-2.4-.8z" color="#0000da"/>
<path d="M138.5 376.7l2.5 .8 1.7-2.1-2.5-.9zM141 377.5l2.4 .7 1.7-2.1-2.4-.7zM143.4 378.2l2.4 .6 1.7-2.1-2.4-.6zM145.8 378.8l2.5 .6 1.7-2.2-2.5-.5z" color="#0000de"/>
<path d="M148.3 379.4l2.4 .4 1.7-2.2-2.4-.4zM150.7 379.8l2.5 .3 1.7-2.2-2.5-.3z" color="#0000e2"/>
<path d="M153.2 380.1l2.5 .2 1.7-2.1-2.5-.3z" color="#0000e7"/>
<path d="M155.7 380.3l2.5 .2 1.7-2.2-2.5-.1z" color="#0000eb"/>
<path d="M158.2 380.5l2.5 0 1.7-2.2-2.5 0z" color="#0000ef"/>
<path d="M160.7 380.5l2.5-.1 1.7-2.2-2.5 .1z" color="#0000f4"/>
<path d="M163.2 380.4l2.5-.1 1.7-2.2-2.5 .1z" color="#0000f8"/>
<path d="M165.7 380.3l2.6-.3 1.7-2.2-2.6 .3z" color="#0000fc"/>
<path d="M168.3 380l2.5-.4 1.7-2.2-2.5 .4z" color="#0001fe"/>
<path d="M170.8 379.6l2.6-.5 1.7-2.2-2.6 .5z" color="#0005fd"/>
<path d="M173.4 379.1l2.6-.6 1.7-2.2-2.6 .6z" color="#000cfa"/>
<path d="M176 378.5l2.6-.7 1.7-2.2-2.6 .7z" color="#0010f8"/>
<path d="M178.6 377.8l2.7-.8 1.7-2.2-2.7 .8z" color="#0032d4"/>
<path d="M84.9 337.7l2.3 2.8 1.8-1.9-2.3-2.8z" color="#009f46"/>
<path d="M87.2 340.5l2.4 2.7 1.8-1.9-2.4-2.7z" color="#007c76"/>
<path d="M89.6 343.2l2.3 2.7 1.8-1.9-2.3-2.7z" color="#0054b0"/>
<path d="M91.9 345.9l2.4 2.5 1.7-1.9-2.3-2.5z" color="#0032d4"/>
<path d="M94.3 348.4l2.3 2.5 1.8-2-2.4-2.4z" color="#0010f8"/>
<path d="M96.6 350.9l2.3 2.3 1.8-1.9-2.3-2.4z" color="#000cfa"/>
<path d="M98.9 353.2l2.4 2.3 1.8-1.9-2.4-2.3z" color="#0005fd"/>
<path d="M101.3 355.5l2.3 2.2 1.8-2-2.3-2.1z" color="#0001fe"/>
<path d="M103.6 357.7l2.4 2.1 1.7-2-2.3-2.1z" color="#0000f8"/>
<path d="M106 359.8l2.3 2 1.8-2-2.4-2z" color="#0000f4"/>
<path d="M108.3 361.8l2.4 1.9 1.7-2-2.3-1.9z" color="#0000ef"/>
<path d="M110.7 363.7l2.3 1.9 1.8-2.1-2.4-1.8z" color="#0000eb"/>
<path d="M113 365.6l2.4 1.7 1.7-2-2.3-1.8z" color="#0000e7"/>
<path d="M115.4 367.3l2.4 1.6 1.7-2-2.4-1.6zM117.8 368.9l2.3 1.6 1.7-2-2.3-1.6z" color="#0000e2"/>
<path d="M120.1 370.5l2.4 1.4 1.7-2-2.4-1.4z" color="#0000de"/>
<path d="M122.5 371.9l2.4 1.4 1.7-2-2.4-1.4zM124.9 373.3l2.3 1.3 1.8-2.1-2.4-1.2zM127.2 374.6l2.4 1.2 1.7-2.1-2.3-1.2zM129.6 375.8l2.4 1.1 1.7-2.1-2.4-1.1z" color="#0000da"/>
<path d="M132 376.9l2.4 1 1.7-2.1-2.4-1zM134.4 377.9l2.4 .9 1.7-2.1-2.4-.9zM136.8 378.8l2.4 .8 1.8-2.1-2.5-.8z" color="#0000d5"/>
<path d="M139.2 379.6l2.5 .7 1.7-2.1-2.4-.7zM141.7 380.3l2.4 .6 1.7-2.1-2.4-.6zM144.1 380.9l2.5 .6 1.7-2.1-2.5-.6z" color="#0000da"/>
<path d="M146.6 381.5l2.4 .4 1.7-2.1-2.4-.4zM149 381.9l2.5 .3 1.7-2.1-2.5-.3z" color="#0000de"/>
<path d="M151.5 382.2l2.5 .2 1.7-2.1-2.5-.2z" color="#0000e2"/>
<path d="M154 382.4l2.5 .2 1.7-2.1-2.5-.2z" color="#0000e7"/>
<path d="M156.5 382.6l2.5 0 1.7-2.1-2.5 0z" color="#0000eb"/>
<path d="M159 382.6l2.5-.1 1.7-2.1-2.5 .1z" color="#0000ef"/>
<path d="M161.5 382.5l2.5-.1 1.7-2.1-2.5 .1z" color="#0000f4"/>
<path d="M164 382.4l2.6-.3 1.7-2.1-2.6 .3z" color="#0000f8"/>
<path d="M166.6 382.1l2.5-.4 1.7-2.1-2.5 .4z" color="#0000fc"/>
<path d="M169.1 381.7l2.6-.5 1.7-2.1-2.6 .5z" color="#0001fe"/>
<path d="M171.7 381.2l2.6-.6 1.7-2.1-2.6 .6z" color="#0009fb"/>
<path d="M174.3 380.6l2.6-.7 1.7-2.1-2.6 .7z" color="#000cfa"/>
<path d="M176.9 379.9l2.7-.8 1.7-2.1-2.7 .8z" color="#0021e6"/>
<path d="M84.9 337.7l7 8.2 5.3-6-7-8.1zM91.9 345.9l7 7.3 5.3-6-7-7.3zM98.9 353.2l7.1 6.6 5.2-6.1-7-6.5zM106 359.8l7 5.8 5.2-6.3-7-5.6zM113 365.6l7.1 4.9 5.2-6.3-7.1-4.9zM120.1 370.5l7.1 4.1 5.2-6.4-7.1-4zM127.2 374.6l7.2 3.3 5.1-6.5-7.1-3.2zM134.4 377.9l7.3 2.4 5.1-6.5-7.3-2.4zM141.7 380.3l7.3 1.6 5.1-6.5-7.3-1.6zM149 381.9l7.5 .7 5-6.6-7.4-.6zM156.5 382.6l7.5-.2 5.1-6.6-7.6 .2zM164 382.4l7.7-1.2 5.1-6.5-7.7 1.1zM171.7 381.2l7.9-2.1 5.1-6.5-7.9 2.1z" class="m"/>
<path d="M83 339.5l2.4 2.8 1.8-1.8-2.3-2.8z" color="#008f5a"/>
<path d="M85.4 342.3l2.4 2.8 1.8-1.9-2.4-2.7z" color="#006893"/>
<path d="M87.8 345.1l2.3 2.6 1.8-1.8-2.3-2.7z" color="#0043c2"/>
<path d="M90.1 347.7l2.4 2.6 1.8-1.9-2.4-2.5z" color="#0021e6"/>
<path d="M92.5 350.3l2.3 2.5 1.8-1.9-2.3-2.5z" color="#000cfa"/>
<path d="M94.8 352.8l2.4 2.3 1.7-1.9-2.3-2.3z" color="#0009fb"/>
<path d="M97.2 355.1l2.3 2.3 1.8-1.9-2.4-2.3z" color="#0001fe"/>
<path d="M99.5 357.4l2.4 2.2 1.7-1.9-2.3-2.2z" color="#0000fc"/>
<path d="M101.9 359.6l2.3 2.1 1.8-1.9-2.4-2.1z" color="#0000f4"/>
<path d="M104.2 361.7l2.4 2 1.7-1.9-2.3-2z" color="#0000ef"/>
<path d="M106.6 363.7l2.3 2 1.8-2-2.4-1.9z" color="#0000eb"/>
<path d="M108.9 365.7l2.4 1.8 1.7-1.9-2.3-1.9z" color="#0000e7"/>
<path d="M111.3 367.5l2.3 1.7 1.8-1.9-2.4-1.7z" color="#0000e2"/>
<path d="M113.6 369.2l2.4 1.7 1.8-2-2.4-1.6zM116 370.9l2.4 1.6 1.7-2-2.3-1.6z" color="#0000de"/>
<path d="M118.4 372.5l2.4 1.4 1.7-2-2.4-1.4zM120.8 373.9l2.3 1.4 1.8-2-2.4-1.4z" color="#0000da"/>
<path d="M123.1 375.3l2.4 1.3 1.7-2-2.3-1.3zM125.5 376.6l2.4 1.2 1.7-2-2.4-1.2zM127.9 377.8l2.4 1.1 1.7-2-2.4-1.1z" color="#0000d5"/>
<path d="M130.3 378.9l2.4 1 1.7-2-2.4-1zM132.7 379.9l2.4 .9 1.7-2-2.4-.9z" color="#0000d1"/>
<path d="M135.1 380.8l2.4 .8 1.7-2-2.4-.8zM137.5 381.6l2.5 .7 1.7-2-2.5-.7zM140 382.3l2.4 .7 1.7-2.1-2.4-.6zM142.4 383l2.4 .5 1.8-2-2.5-.6z" color="#0000d5"/>
<path d="M144.8 383.5l2.5 .4 1.7-2-2.4-.4zM147.3 383.9l2.5 .4 1.7-2.1-2.5-.3z" color="#0000da"/>
<path d="M149.8 384.3l2.5 .2 1.7-2.1-2.5-.2z" color="#0000de"/>
<path d="M152.3 384.5l2.4 .1 1.8-2-2.5-.2z" color="#0000e2"/>
<path d="M154.7 384.6l2.6 .1 1.7-2.1-2.5 0z" color="#0000e7"/>
<path d="M157.3 384.7l2.5-.1 1.7-2.1-2.5 .1z" color="#0000eb"/>
<path d="M159.8 384.6l2.5-.2 1.7-2-2.5 .1z" color="#0000ef"/>
<path d="M162.3 384.4l2.6-.2 1.7-2.1-2.6 .3z" color="#0000f4"/>
<path d="M164.9 384.2l2.5-.4 1.7-2.1-2.5 .4z" color="#0000f8"/>
<path d="M167.4 383.8l2.6-.5 1.7-2.1-2.6 .5z" color="#0001fe"/>
<path d="M170 383.3l2.6-.6 1.7-2.1-2.6 .6z" color="#0005fd"/>
<path d="M172.6 382.7l2.6-.7 1.7-2.1-2.6 .7z" color="#000cfa"/>
<path d="M175.2 382l2.6-.8 1.8-2.1-2.7 .8z" color="#0010f8"/>
<path d="M81.2 341.2l2.4 2.9 1.8-1.8-2.4-2.8z" color="#007c76"/>
<path d="M83.6 344.1l2.4 2.7 1.8-1.7-2.4-2.8z" color="#0054b0"/>
<path d="M86 346.8l2.3 2.7 1.8-1.8-2.3-2.6z" color="#0032d4"/>
<path d="M88.3 349.5l2.4 2.6 1.8-1.8-2.4-2.6z" color="#0010f8"/>
<path d="M90.7 352.1l2.3 2.5 1.8-1.8-2.3-2.5z" color="#0009fb"/>
<path d="M93 354.6l2.4 2.3 1.8-1.8-2.4-2.3z" color="#0005fd"/>
<path d="M95.4 356.9l2.3 2.3 1.8-1.8-2.3-2.3z" color="#0000fc"/>
<path d="M97.7 359.2l2.4 2.3 1.8-1.9-2.4-2.2z" color="#0000f8"/>
<path d="M100.1 361.5l2.4 2.1 1.7-1.9-2.3-2.1z" color="#0000ef"/>
<path d="M102.5 363.6l2.3 2 1.8-1.9-2.4-2z" color="#0000eb"/>
<path d="M104.8 365.6l2.4 1.9 1.7-1.8-2.3-2z" color="#0000e7"/>
<path d="M107.2 367.5l2.3 1.9 1.8-1.9-2.4-1.8z" color="#0000e2"/>
<path d="M109.5 369.4l2.4 1.7 1.7-1.9-2.3-1.7z" color="#0000de"/>
<path d="M111.9 371.1l2.4 1.7 1.7-1.9-2.4-1.7zM114.3 372.8l2.3 1.6 1.8-1.9-2.4-1.6z" color="#0000da"/>
<path d="M116.6 374.4l2.4 1.4 1.8-1.9-2.4-1.4zM119 375.8l2.4 1.4 1.7-1.9-2.3-1.4z" color="#0000d5"/>
<path d="M121.4 377.2l2.4 1.3 1.7-1.9-2.4-1.3zM123.8 378.5l2.4 1.2 1.7-1.9-2.4-1.2zM126.2 379.7l2.4 1.1 1.7-1.9-2.4-1.1zM128.6 380.8l2.4 1 1.7-1.9-2.4-1zM131 381.8l2.4 1 1.7-2-2.4-.9zM133.4 382.8l2.4 .8 1.7-2-2.4-.8zM135.8 383.6l2.4 .7 1.8-2-2.5-.7zM138.2 384.3l2.5 .6 1.7-1.9-2.4-.7zM140.7 384.9l2.4 .6 1.7-2-2.4-.5z" color="#0000d1"/>
<path d="M143.1 385.5l2.5 .4 1.7-2-2.5-.4z" color="#0000d5"/>
<path d="M145.6 385.9l2.5 .3 1.7-1.9-2.5-.4zM148.1 386.2l2.4 .3 1.8-2-2.5-.2z" color="#0000da"/>
<path d="M150.5 386.5l2.5 .1 1.7-2-2.4-.1z" color="#0000de"/>
<path d="M153 386.6l2.5 .1 1.8-2-2.6-.1z" color="#0000e2"/>
<path d="M155.5 386.7l2.6-.1 1.7-2-2.5 .1z" color="#0000e7"/>
<path d="M158.1 386.6l2.5-.2 1.7-2-2.5 .2z" color="#0000eb"/>
<path d="M160.6 386.4l2.5-.3 1.8-1.9-2.6 .2z" color="#0000ef"/>
<path d="M163.1 386.1l2.6-.3 1.7-2-2.5 .4z" color="#0000f4"/>
<path d="M165.7 385.8l2.6-.5 1.7-2-2.6 .5z" color="#0000fc"/>
<path d="M168.3 385.3l2.6-.6 1.7-2-2.6 .6z" color="#0001fe"/>
<path d="M170.9 384.7l2.6-.7 1.7-2-2.6 .7z" color="#0009fb"/>
<path d="M173.5 384l2.6-.8 1.7-2-2.6 .8z" color="#000cfa"/>
<path d="M79.4 342.9l2.4 2.9 1.8-1.7-2.4-2.9z" color="#006893"/>
<path d="M81.8 345.8l2.3 2.7 1.9-1.7-2.4-2.7z" color="#0043c2"/>
<path d="M84.1 348.5l2.4 2.7 1.8-1.7-2.3-2.7z" color="#0021e6"/>
<path d="M86.5 351.2l2.4 2.6 1.8-1.7-2.4-2.6z" color="#000cfa"/>
<path d="M88.9 353.8l2.3 2.5 1.8-1.7-2.3-2.5z" color="#0005fd"/>
<path d="M91.2 356.3l2.4 2.4 1.8-1.8-2.4-2.3z" color="#0001fe"/>
<path d="M93.6 358.7l2.4 2.3 1.7-1.8-2.3-2.3z" color="#0000f8"/>
<path d="M96 361l2.3 2.2 1.8-1.7-2.4-2.3z" color="#0000f4"/>
<path d="M98.3 363.2l2.4 2.2 1.8-1.8-2.4-2.1z" color="#0000ef"/>
<path d="M100.7 365.4l2.3 2 1.8-1.8-2.3-2z" color="#0000e7"/>
<path d="M103 367.4l2.4 1.9 1.8-1.8-2.4-1.9z" color="#0000e2"/>
<path d="M105.4 369.3l2.4 1.9 1.7-1.8-2.3-1.9z" color="#0000de"/>
<path d="M107.8 371.2l2.3 1.7 1.8-1.8-2.4-1.7zM110.1 372.9l2.4 1.7 1.8-1.8-2.4-1.7z" color="#0000da"/>
<path d="M112.5 374.6l2.4 1.6 1.7-1.8-2.3-1.6z" color="#0000d5"/>
<path d="M114.9 376.2l2.4 1.5 1.7-1.9-2.4-1.4zM117.3 377.7l2.3 1.4 1.8-1.9-2.4-1.4z" color="#0000d1"/>
<path d="M119.6 379.1l2.4 1.3 1.8-1.9-2.4-1.3zM122 380.4l2.4 1.2 1.8-1.9-2.4-1.2zM124.4 381.6l2.4 1.1 1.8-1.9-2.4-1.1zM126.8 382.7l2.4 1 1.8-1.9-2.4-1zM129.2 383.7l2.4 .9 1.8-1.8-2.4-1zM131.6 384.6l2.5 .9 1.7-1.9-2.4-.8zM134.1 385.5l2.4 .7 1.7-1.9-2.4-.7zM136.5 386.2l2.4 .6 1.8-1.9-2.5-.6z" color="#0000cc"/>
<path d="M138.9 386.8l2.5 .6 1.7-1.9-2.4-.6zM141.4 387.4l2.5 .4 1.7-1.9-2.5-.4z" color="#0000d1"/>
<path d="M143.9 387.8l2.4 .4 1.8-2-2.5-.3zM146.3 388.2l2.5 .2 1.7-1.9-2.4-.3z" color="#0000d5"/>
<path d="M148.8 388.4l2.5 .1 1.7-1.9-2.5-.1z" color="#0000da"/>
<path d="M151.3 388.5l2.5 .1 1.7-1.9-2.5-.1z" color="#0000de"/>
<path d="M153.8 388.6l2.5-.1 1.8-1.9-2.6 .1z" color="#0000e2"/>
<path d="M156.3 388.5l2.6-.2 1.7-1.9-2.5 .2z" color="#0000e7"/>
<path d="M158.9 388.3l2.5-.2 1.7-2-2.5 .3z" color="#0000eb"/>
<path d="M161.4 388.1l2.6-.4 1.7-1.9-2.6 .3z" color="#0000f4"/>
<path d="M164 387.7l2.6-.5 1.7-1.9-2.6 .5z" color="#0000f8"/>
<path d="M166.6 387.2l2.6-.6 1.7-1.9-2.6 .6z" color="#0000fc"/>
<path d="M169.2 386.6l2.6-.7 1.7-1.9-2.6 .7z" color="#0005fd"/>
<path d="M171.8 385.9l2.6-.8 1.7-1.9-2.6 .8z" color="#000cfa"/>
<path d="M79.4 342.9l7.1 8.3 5.4-5.3-7-8.2zM86.5 351.2l7.1 7.5 5.3-5.5-7-7.3zM93.6 358.7l7.1 6.7 5.3-5.6-7.1-6.6zM100.7 365.4l7.1 5.8 5.2-5.6-7-5.8zM107.8 371.2l7.1 5 5.2-5.7-7.1-4.9zM114.9 376.2l7.1 4.2 5.2-5.8-7.1-4.1zM122 380.4l7.2 3.3 5.2-5.8-7.2-3.3zM129.2 383.7l7.3 2.5 5.2-5.9-7.3-2.4zM136.5 386.2l7.4 1.6 5.1-5.9-7.3-1.6zM143.9 387.8l7.4 .7 5.2-5.9-7.5-.7zM151.3 388.5l7.6-.2 5.1-5.9-7.5 .2zM158.9 388.3l7.7-1.1 5.1-6-7.7 1.2zM166.6 387.2l7.8-2.1 5.2-6-7.9 2.1z" class="m"/>
<path d="M77.5 344.5l2.4 2.9 1.9-1.6-2.4-2.9z" color="#0054b0"/>
<path d="M79.9 347.4l2.4 2.8 1.8-1.7-2.3-2.7z" color="#0032d4"/>
<path d="M82.3 350.2l2.4 2.7 1.8-1.7-2.4-2.7z" color="#0010f8"/>
<path d="M84.7 352.9l2.4 2.6 1.8-1.7-2.4-2.6z" color="#0009fb"/>
<path d="M87.1 355.5l2.3 2.5 1.8-1.7-2.3-2.5z" color="#0005fd"/>
<path d="M89.4 358l2.4 2.4 1.8-1.7-2.4-2.4z" color="#0000fc"/>
<path d="M91.8 360.4l2.4 2.3 1.8-1.7-2.4-2.3z" color="#0000f8"/>
<path d="M94.2 362.7l2.3 2.2 1.8-1.7-2.3-2.2z" color="#0000ef"/>
<path d="M96.5 364.9l2.4 2.2 1.8-1.7-2.4-2.2z" color="#0000eb"/>
<path d="M98.9 367.1l2.4 2 1.7-1.7-2.3-2z" color="#0000e7"/>
<path d="M101.3 369.1l2.3 2 1.8-1.8-2.4-1.9z" color="#0000e2"/>
<path d="M103.6 371.1l2.4 1.8 1.8-1.7-2.4-1.9z" color="#0000de"/>
<path d="M106 372.9l2.4 1.8 1.7-1.8-2.3-1.7z" color="#0000da"/>
<path d="M108.4 374.7l2.3 1.7 1.8-1.8-2.4-1.7z" color="#0000d5"/>
<path d="M110.7 376.4l2.4 1.6 1.8-1.8-2.4-1.6zM113.1 378l2.4 1.5 1.8-1.8-2.4-1.5z" color="#0000d1"/>
<path d="M115.5 379.5l2.4 1.4 1.7-1.8-2.3-1.4zM117.9 380.9l2.4 1.3 1.7-1.8-2.4-1.3z" color="#0000cc"/>
<path d="M120.3 382.2l2.4 1.2 1.7-1.8-2.4-1.2zM122.7 383.4l2.4 1.1 1.7-1.8-2.4-1.1zM125.1 384.5l2.4 1 1.7-1.8-2.4-1zM127.5 385.5l2.4 1 1.7-1.9-2.4-.9zM129.9 386.5l2.4 .8 1.8-1.8-2.5-.9zM132.3 387.3l2.5 .7 1.7-1.8-2.4-.7z" color="#0000c7"/>
<path d="M134.8 388l2.4 .7 1.7-1.9-2.4-.6zM137.2 388.7l2.5 .5 1.7-1.8-2.5-.6zM139.7 389.2l2.4 .5 1.8-1.9-2.5-.4z" color="#0000cc"/>
<path d="M142.1 389.7l2.5 .3 1.7-1.8-2.4-.4z" color="#0000d1"/>
<path d="M144.6 390l2.5 .2 1.7-1.8-2.5-.2zM147.1 390.2l2.5 .2 1.7-1.9-2.5-.1z" color="#0000d5"/>
<path d="M149.6 390.4l2.5 0 1.7-1.8-2.5-.1z" color="#0000da"/>
<path d="M152.1 390.4l2.5 0 1.7-1.9-2.5 .1z" color="#0000de"/>
<path d="M154.6 390.4l2.5-.2 1.8-1.9-2.6 .2z" color="#0000e2"/>
<path d="M157.1 390.2l2.6-.3 1.7-1.8-2.5 .2z" color="#0000eb"/>
<path d="M159.7 389.9l2.6-.4 1.7-1.8-2.6 .4z" color="#0000ef"/>
<path d="M162.3 389.5l2.5-.5 1.8-1.8-2.6 .5z" color="#0000f4"/>
<path d="M164.8 389l2.6-.6 1.8-1.8-2.6 .6z" color="#0000fc"/>
<path d="M167.4 388.4l2.7-.7 1.7-1.8-2.6 .7z" color="#0001fe"/>
<path d="M170.1 387.7l2.6-.8 1.7-1.8-2.6 .8z" color="#0009fb"/>
<path d="M75.7 346.1l2.4 2.8 1.8-1.5-2.4-2.9z" color="#0043c2"/>
<path d="M78.1 348.9l2.4 2.8 1.8-1.5-2.4-2.8z" color="#0021e6"/>
<path d="M80.5 351.7l2.3 2.7 1.9-1.5-2.4-2.7z" color="#000cfa"/>
<path d="M82.8 354.4l2.4 2.7 1.9-1.6-2.4-2.6z" color="#0009fb"/>
<path d="M85.2 357.1l2.4 2.5 1.8-1.6-2.3-2.5z" color="#0001fe"/>
<path d="M87.6 359.6l2.4 2.4 1.8-1.6-2.4-2.4z" color="#0000f8"/>
<path d="M90 362l2.3 2.3 1.9-1.6-2.4-2.3z" color="#0000f4"/>
<path d="M92.3 364.3l2.4 2.3 1.8-1.7-2.3-2.2z" color="#0000eb"/>
<path d="M94.7 366.6l2.4 2.1 1.8-1.6-2.4-2.2z" color="#0000e7"/>
<path d="M97.1 368.7l2.4 2.1 1.8-1.7-2.4-2z" color="#0000e2"/>
<path d="M99.5 370.8l2.3 1.9 1.8-1.6-2.3-2z" color="#0000de"/>
<path d="M101.8 372.7l2.4 1.9 1.8-1.7-2.4-1.8z" color="#0000da"/>
<path d="M104.2 374.6l2.4 1.8 1.8-1.7-2.4-1.8z" color="#0000d5"/>
<path d="M106.6 376.4l2.4 1.7 1.7-1.7-2.3-1.7z" color="#0000d1"/>
<path d="M109 378.1l2.3 1.6 1.8-1.7-2.4-1.6zM111.3 379.7l2.4 1.5 1.8-1.7-2.4-1.5z" color="#0000cc"/>
<path d="M113.7 381.2l2.4 1.4 1.8-1.7-2.4-1.4zM116.1 382.6l2.4 1.3 1.8-1.7-2.4-1.3zM118.5 383.9l2.4 1.2 1.8-1.7-2.4-1.2z" color="#0000c7"/>
<path d="M120.9 385.1l2.4 1.1 1.8-1.7-2.4-1.1zM123.3 386.2l2.4 1.1 1.8-1.8-2.4-1zM125.7 387.3l2.5 .9 1.7-1.7-2.4-1zM128.2 388.2l2.4 .9 1.7-1.8-2.4-.8z" color="#0000c2"/>
<path d="M130.6 389.1l2.4 .7 1.8-1.8-2.5-.7zM133 389.8l2.5 .6 1.7-1.7-2.4-.7zM135.5 390.4l2.4 .6 1.8-1.8-2.5-.5z" color="#0000c7"/>
<path d="M137.9 391l2.5 .4 1.7-1.7-2.4-.5zM140.4 391.4l2.5 .4 1.7-1.8-2.5-.3z" color="#0000cc"/>
<path d="M142.9 391.8l2.4 .2 1.8-1.8-2.5-.2z" color="#0000d1"/>
<path d="M145.3 392l2.5 .2 1.8-1.8-2.5-.2z" color="#0000d5"/>
<path d="M147.8 392.2l2.5 0 1.8-1.8-2.5 0z" color="#0000da"/>
<path d="M150.3 392.2l2.6 0 1.7-1.8-2.5 0z" color="#0000de"/>
<path d="M152.9 392.2l2.5-.2 1.7-1.8-2.5 .2z" color="#0000e2"/>
<path d="M155.4 392l2.6-.3 1.7-1.8-2.6 .3z" color="#0000e7"/>
<path d="M158 391.7l2.5-.4 1.8-1.8-2.6 .4z" color="#0000eb"/>
<path d="M160.5 391.3l2.6-.5 1.7-1.8-2.5 .5z" color="#0000f4"/>
<path d="M163.1 390.8l2.6-.6 1.7-1.8-2.6 .6z" color="#0000f8"/>
<path d="M165.7 390.2l2.6-.7 1.8-1.8-2.7 .7z" color="#0001fe"/>
<path d="M168.3 389.5l2.6-.8 1.8-1.8-2.6 .8z" color="#0005fd"/>
<path d="M73.8 347.5l2.4 2.9 1.9-1.5-2.4-2.8z" color="#0043c2"/>
<path d="M76.2 350.4l2.4 2.8 1.9-1.5-2.4-2.8z" color="#0021e6"/>
<path d="M78.6 353.2l2.4 2.8 1.8-1.6-2.3-2.7z" color="#000cfa"/>
<path d="M81 356l2.4 2.6 1.8-1.5-2.4-2.7z" color="#0005fd"/>
<path d="M83.4 358.6l2.4 2.5 1.8-1.5-2.4-2.5z" color="#0000fc"/>
<path d="M85.8 361.1l2.3 2.4 1.9-1.5-2.4-2.4z" color="#0000f8"/>
<path d="M88.1 363.5l2.4 2.4 1.8-1.6-2.3-2.3z" color="#0000ef"/>
<path d="M90.5 365.9l2.4 2.2 1.8-1.5-2.4-2.3z" color="#0000eb"/>
<path d="M92.9 368.1l2.4 2.2 1.8-1.6-2.4-2.1z" color="#0000e7"/>
<path d="M95.3 370.3l2.3 2.1 1.9-1.6-2.4-2.1z" color="#0000de"/>
<path d="M97.6 372.4l2.4 1.9 1.8-1.6-2.3-1.9z" color="#0000da"/>
<path d="M100 374.3l2.4 1.9 1.8-1.6-2.4-1.9z" color="#0000d5"/>
<path d="M102.4 376.2l2.4 1.8 1.8-1.6-2.4-1.8zM104.8 378l2.4 1.7 1.8-1.6-2.4-1.7z" color="#0000d1"/>
<path d="M107.2 379.7l2.4 1.6 1.7-1.6-2.3-1.6z" color="#0000cc"/>
<path d="M109.6 381.3l2.3 1.5 1.8-1.6-2.4-1.5zM111.9 382.8l2.4 1.4 1.8-1.6-2.4-1.4z" color="#0000c7"/>
<path d="M114.3 384.2l2.4 1.4 1.8-1.7-2.4-1.3zM116.7 385.6l2.4 1.2 1.8-1.7-2.4-1.2zM119.1 386.8l2.5 1.1 1.7-1.7-2.4-1.1zM121.6 387.9l2.4 1.1 1.7-1.7-2.4-1.1zM124 389l2.4 .9 1.8-1.7-2.5-.9zM126.4 389.9l2.4 .9 1.8-1.7-2.4-.9zM128.8 390.8l2.5 .7 1.7-1.7-2.4-.7zM131.3 391.5l2.4 .6 1.8-1.7-2.5-.6z" color="#0000c2"/>
<path d="M133.7 392.1l2.5 .6 1.7-1.7-2.4-.6zM136.2 392.7l2.4 .4 1.8-1.7-2.5-.4z" color="#0000c7"/>
<path d="M138.6 393.1l2.5 .4 1.8-1.7-2.5-.4zM141.1 393.5l2.5 .2 1.7-1.7-2.4-.2z" color="#0000cc"/>
<path d="M143.6 393.7l2.5 .2 1.7-1.7-2.5-.2z" color="#0000d1"/>
<path d="M146.1 393.9l2.5 0 1.7-1.7-2.5 0z" color="#0000d5"/>
<path d="M148.6 393.9l2.5 0 1.8-1.7-2.6 0z" color="#0000da"/>
<path d="M151.1 393.9l2.6-.2 1.7-1.7-2.5 .2z" color="#0000de"/>
<path d="M153.7 393.7l2.5-.3 1.8-1.7-2.6 .3z" color="#0000e2"/>
<path d="M156.2 393.4l2.6-.4 1.7-1.7-2.5 .4z" color="#0000eb"/>
<path d="M158.8 393l2.6-.5 1.7-1.7-2.6 .5z" color="#0000ef"/>
<path d="M161.4 392.5l2.6-.6 1.7-1.7-2.6 .6z" color="#0000f8"/>
<path d="M164 391.9l2.6-.7 1.7-1.7-2.6 .7z" color="#0000fc"/>
<path d="M166.6 391.2l2.6-.8 1.7-1.7-2.6 .8z" color="#0005fd"/>
<path d="M73.8 347.5l7.2 8.5 5.5-4.8-7.1-8.3zM81 356l7.1 7.5 5.5-4.8-7.1-7.5zM88.1 363.5l7.2 6.8 5.4-4.9-7.1-6.7zM95.3 370.3l7.1 5.9 5.4-5-7.1-5.8zM102.4 376.2l7.2 5.1 5.3-5.1-7.1-5zM109.6 381.3l7.1 4.3 5.3-5.2-7.1-4.2zM116.7 385.6l7.3 3.4 5.2-5.3-7.2-3.3zM124 389l7.3 2.5 5.2-5.3-7.3-2.5zM131.3 391.5l7.3 1.6 5.3-5.3-7.4-1.6zM138.6 393.1l7.5 .8 5.2-5.4-7.4-.7zM146.1 393.9l7.6-.2 5.2-5.4-7.6 .2zM153.7 393.7l7.7-1.2 5.2-5.3-7.7 1.1zM161.4 392.5l7.8-2.1 5.2-5.3-7.8 2.1z" class="m"/>
<path d="M71.9 348.9l2.4 2.9 1.9-1.4-2.4-2.9z" color="#0032d4"/>
<path d="M74.3 351.8l2.4 2.9 1.9-1.5-2.4-2.8z" color="#0010f8"/>
<path d="M76.7 354.7l2.4 2.7 1.9-1.4-2.4-2.8z" color="#0009fb"/>
<path d="M79.1 357.4l2.4 2.6 1.9-1.4-2.4-2.6z" color="#0005fd"/>
<path d="M81.5 360l2.4 2.6 1.9-1.5-2.4-2.5z" color="#0000fc"/>
<path d="M83.9 362.6l2.4 2.4 1.8-1.5-2.3-2.4z" color="#0000f4"/>
<path d="M86.3 365l2.4 2.4 1.8-1.5-2.4-2.4z" color="#0000ef"/>
<path d="M88.7 367.4l2.4 2.2 1.8-1.5-2.4-2.2z" color="#0000e7"/>
<path d="M91.1 369.6l2.3 2.2 1.9-1.5-2.4-2.2z" color="#0000e2"/>
<path d="M93.4 371.8l2.4 2.1 1.8-1.5-2.3-2.1z" color="#0000de"/>
<path d="M95.8 373.9l2.4 2 1.8-1.6-2.4-1.9z" color="#0000da"/>
<path d="M98.2 375.9l2.4 1.9 1.8-1.6-2.4-1.9z" color="#0000d5"/>
<path d="M100.6 377.8l2.4 1.8 1.8-1.6-2.4-1.8z" color="#0000d1"/>
<path d="M103 379.6l2.4 1.7 1.8-1.6-2.4-1.7z" color="#0000cc"/>
<path d="M105.4 381.3l2.4 1.6 1.8-1.6-2.4-1.6zM107.8 382.9l2.4 1.5 1.7-1.6-2.3-1.5z" color="#0000c7"/>
<path d="M110.2 384.4l2.3 1.4 1.8-1.6-2.4-1.4zM112.5 385.8l2.5 1.4 1.7-1.6-2.4-1.4zM115 387.2l2.4 1.2 1.7-1.6-2.4-1.2z" color="#0000c2"/>
<path d="M117.4 388.4l2.4 1.1 1.8-1.6-2.5-1.1zM119.8 389.5l2.4 1.1 1.8-1.6-2.4-1.1zM122.2 390.6l2.4 .9 1.8-1.6-2.4-.9zM124.6 391.5l2.4 .9 1.8-1.6-2.4-.9z" color="#0000be"/>
<path d="M127 392.4l2.5 .7 1.8-1.6-2.5-.7zM129.5 393.1l2.4 .7 1.8-1.7-2.4-.6zM131.9 393.8l2.5 .5 1.8-1.6-2.5-.6z" color="#0000c2"/>
<path d="M134.4 394.3l2.5 .5 1.7-1.7-2.4-.4zM136.9 394.8l2.4 .3 1.8-1.6-2.5-.4z" color="#0000c7"/>
<path d="M139.3 395.1l2.5 .3 1.8-1.7-2.5-.2z" color="#0000cc"/>
<path d="M141.8 395.4l2.5 .1 1.8-1.6-2.5-.2z" color="#0000d1"/>
<path d="M144.3 395.5l2.5 .1 1.8-1.7-2.5 0z" color="#0000d5"/>
<path d="M146.8 395.6l2.6-.1 1.7-1.6-2.5 0z" color="#0000da"/>
<path d="M149.4 395.5l2.5-.1 1.8-1.7-2.6 .2z" color="#0000de"/>
<path d="M151.9 395.4l2.6-.3 1.7-1.7-2.5 .3z" color="#0000e2"/>
<path d="M154.5 395.1l2.5-.4 1.8-1.7-2.6 .4z" color="#0000e7"/>
<path d="M157 394.7l2.6-.5 1.8-1.7-2.6 .5z" color="#0000ef"/>
<path d="M159.6 394.2l2.6-.6 1.8-1.7-2.6 .6z" color="#0000f4"/>
<path d="M162.2 393.6l2.6-.7 1.8-1.7-2.6 .7z" color="#0000fc"/>
<path d="M164.8 392.9l2.7-.9 1.7-1.6-2.6 .8z" color="#0005fd"/>
<path d="M70 350.3l2.4 2.9 1.9-1.4-2.4-2.9z" color="#0032d4"/>
<path d="M72.4 353.2l2.5 2.8 1.8-1.3-2.4-2.9z" color="#0010f8"/>
<path d="M74.9 356l2.4 2.8 1.8-1.4-2.4-2.7z" color="#0009fb"/>
<path d="M77.3 358.8l2.4 2.6 1.8-1.4-2.4-2.6z" color="#0001fe"/>
<path d="M79.7 361.4l2.3 2.6 1.9-1.4-2.4-2.6z" color="#0000f8"/>
<path d="M82 364l2.4 2.4 1.9-1.4-2.4-2.4z" color="#0000f4"/>
<path d="M84.4 366.4l2.4 2.4 1.9-1.4-2.4-2.4z" color="#0000eb"/>
<path d="M86.8 368.8l2.4 2.3 1.9-1.5-2.4-2.2z" color="#0000e7"/>
<path d="M89.2 371.1l2.4 2.2 1.8-1.5-2.3-2.2z" color="#0000e2"/>
<path d="M91.6 373.3l2.4 2 1.8-1.4-2.4-2.1z" color="#0000da"/>
<path d="M94 375.3l2.4 2 1.8-1.4-2.4-2z" color="#0000d5"/>
<path d="M96.4 377.3l2.4 1.9 1.8-1.4-2.4-1.9z" color="#0000d1"/>
<path d="M98.8 379.2l2.4 1.9 1.8-1.5-2.4-1.8zM101.2 381.1l2.4 1.7 1.8-1.5-2.4-1.7z" color="#0000cc"/>
<path d="M103.6 382.8l2.3 1.6 1.9-1.5-2.4-1.6z" color="#0000c7"/>
<path d="M105.9 384.4l2.4 1.5 1.9-1.5-2.4-1.5zM108.3 385.9l2.4 1.5 1.8-1.6-2.3-1.4z" color="#0000c2"/>
<path d="M110.7 387.4l2.5 1.3 1.8-1.5-2.5-1.4zM113.2 388.7l2.4 1.2 1.8-1.5-2.4-1.2zM115.6 389.9l2.4 1.2 1.8-1.6-2.4-1.1zM118 391.1l2.4 1 1.8-1.5-2.4-1.1zM120.4 392.1l2.4 1 1.8-1.6-2.4-.9zM122.8 393.1l2.5 .8 1.7-1.5-2.4-.9zM125.3 393.9l2.4 .8 1.8-1.6-2.5-.7zM127.7 394.7l2.5 .7 1.7-1.6-2.4-.7z" color="#0000be"/>
<path d="M130.2 395.4l2.4 .5 1.8-1.6-2.5-.5zM132.6 395.9l2.5 .5 1.8-1.6-2.5-.5z" color="#0000c2"/>
<path d="M135.1 396.4l2.5 .3 1.7-1.6-2.4-.3z" color="#0000c7"/>
<path d="M137.6 396.7l2.5 .3 1.7-1.6-2.5-.3zM140.1 397l2.5 .1 1.7-1.6-2.5-.1z" color="#0000cc"/>
<path d="M142.6 397.1l2.5 .1 1.7-1.6-2.5-.1z" color="#0000d1"/>
<path d="M145.1 397.2l2.5-.1 1.8-1.6-2.6 .1z" color="#0000d5"/>
<path d="M147.6 397.1l2.5-.2 1.8-1.5-2.5 .1z" color="#0000da"/>
<path d="M150.1 396.9l2.6-.2 1.8-1.6-2.6 .3z" color="#0000e2"/>
<path d="M152.7 396.7l2.6-.4 1.7-1.6-2.5 .4z" color="#0000e7"/>
<path d="M155.3 396.3l2.6-.5 1.7-1.6-2.6 .5z" color="#0000eb"/>
<path d="M157.9 395.8l2.6-.6 1.7-1.6-2.6 .6z" color="#0000f4"/>
<path d="M160.5 395.2l2.6-.8 1.7-1.5-2.6 .7z" color="#0000f8"/>
<path d="M163.1 394.4l2.6-.8 1.8-1.6-2.7 .9z" color="#0001fe"/>
<path d="M68.1 351.5l2.4 3 1.9-1.3-2.4-2.9z" color="#0021e6"/>
<path d="M70.5 354.5l2.5 2.8 1.9-1.3-2.5-2.8z" color="#000cfa"/>
<path d="M73 357.3l2.4 2.8 1.9-1.3-2.4-2.8z" color="#0009fb"/>
<path d="M75.4 360.1l2.4 2.6 1.9-1.3-2.4-2.6z" color="#0001fe"/>
<path d="M77.8 362.7l2.4 2.6 1.8-1.3-2.3-2.6z" color="#0000f8"/>
<path d="M80.2 365.3l2.4 2.5 1.8-1.4-2.4-2.4z" color="#0000ef"/>
<path d="M82.6 367.8l2.4 2.4 1.8-1.4-2.4-2.4z" color="#0000eb"/>
<path d="M85 370.2l2.4 2.2 1.8-1.3-2.4-2.3z" color="#0000e2"/>
<path d="M87.4 372.4l2.4 2.2 1.8-1.3-2.4-2.2z" color="#0000de"/>
<path d="M89.8 374.6l2.3 2.1 1.9-1.4-2.4-2z" color="#0000da"/>
<path d="M92.1 376.7l2.4 2 1.9-1.4-2.4-2z" color="#0000d5"/>
<path d="M94.5 378.7l2.4 2 1.9-1.5-2.4-1.9z" color="#0000d1"/>
<path d="M96.9 380.7l2.4 1.8 1.9-1.4-2.4-1.9z" color="#0000cc"/>
<path d="M99.3 382.5l2.4 1.7 1.9-1.4-2.4-1.7z" color="#0000c7"/>
<path d="M101.7 384.2l2.4 1.6 1.8-1.4-2.3-1.6zM104.1 385.8l2.4 1.6 1.8-1.5-2.4-1.5z" color="#0000c2"/>
<path d="M106.5 387.4l2.4 1.4 1.8-1.4-2.4-1.5zM108.9 388.8l2.4 1.3 1.9-1.4-2.5-1.3zM111.3 390.1l2.5 1.3 1.8-1.5-2.4-1.2zM113.8 391.4l2.4 1.2 1.8-1.5-2.4-1.2z" color="#0000be"/>
<path d="M116.2 392.6l2.4 1 1.8-1.5-2.4-1zM118.6 393.6l2.4 1 1.8-1.5-2.4-1z" color="#0000b9"/>
<path d="M121 394.6l2.5 .8 1.8-1.5-2.5-.8zM123.5 395.4l2.4 .8 1.8-1.5-2.4-.8zM125.9 396.2l2.5 .7 1.8-1.5-2.5-.7zM128.4 396.9l2.4 .5 1.8-1.5-2.4-.5z" color="#0000be"/>
<path d="M130.8 397.4l2.5 .5 1.8-1.5-2.5-.5z" color="#0000c2"/>
<path d="M133.3 397.9l2.5 .3 1.8-1.5-2.5-.3zM135.8 398.2l2.5 .3 1.8-1.5-2.5-.3z" color="#0000c7"/>
<path d="M138.3 398.5l2.5 .1 1.8-1.5-2.5-.1z" color="#0000cc"/>
<path d="M140.8 398.6l2.5 .1 1.8-1.5-2.5-.1z" color="#0000d1"/>
<path d="M143.3 398.7l2.5-.1 1.8-1.5-2.5 .1z" color="#0000d5"/>
<path d="M145.8 398.6l2.6-.1 1.7-1.6-2.5 .2z" color="#0000da"/>
<path d="M148.4 398.5l2.5-.3 1.8-1.5-2.6 .2z" color="#0000de"/>
<path d="M150.9 398.2l2.6-.4 1.8-1.5-2.6 .4z" color="#0000e7"/>
<path d="M153.5 397.8l2.6-.5 1.8-1.5-2.6 .5z" color="#0000eb"/>
<path d="M156.1 397.3l2.6-.6 1.8-1.5-2.6 .6z" color="#0000f4"/>
<path d="M158.7 396.7l2.6-.8 1.8-1.5-2.6 .8z" color="#0000f8"/>
<path d="M161.3 395.9l2.6-.8 1.8-1.5-2.6 .8z" color="#0001fe"/>
<path d="M68.1 351.5l7.3 8.6 5.6-4.1-7.2-8.5zM75.4 360.1l7.2 7.7 5.5-4.3-7.1-7.5zM82.6 367.8l7.2 6.8 5.5-4.3-7.2-6.8zM89.8 374.6l7.1 6.1 5.5-4.5-7.1-5.9zM96.9 380.7l7.2 5.1 5.5-4.5-7.2-5.1zM104.1 385.8l7.2 4.3 5.4-4.5-7.1-4.3zM111.3 390.1l7.3 3.5 5.4-4.6-7.3-3.4zM118.6 393.6l7.3 2.6 5.4-4.7-7.3-2.5zM125.9 396.2l7.4 1.7 5.3-4.8-7.3-1.6zM133.3 397.9l7.5 .7 5.3-4.7-7.5-.8zM140.8 398.6l7.6-.1 5.3-4.8-7.6 .2zM148.4 398.5l7.7-1.2 5.3-4.8-7.7 1.2zM156.1 397.3l7.8-2.2 5.3-4.7-7.8 2.1z" class="m"/>
<path d="M66.2 352.7l2.4 3 1.9-1.2-2.4-3z" color="#0021e6"/>
<path d="M68.6 355.7l2.4 2.8 2-1.2-2.5-2.8z" color="#000cfa"/>
<path d="M71 358.5l2.5 2.8 1.9-1.2-2.4-2.8z" color="#0005fd"/>
<path d="M73.5 361.3l2.4 2.7 1.9-1.3-2.4-2.6z" color="#0000fc"/>
<path d="M75.9 364l2.4 2.6 1.9-1.3-2.4-2.6z" color="#0000f8"/>
<path d="M78.3 366.6l2.4 2.4 1.9-1.2-2.4-2.5z" color="#0000ef"/>
<path d="M80.7 369l2.4 2.4 1.9-1.2-2.4-2.4z" color="#0000eb"/>
<path d="M83.1 371.4l2.4 2.3 1.9-1.3-2.4-2.2z" color="#0000e2"/>
<path d="M85.5 373.7l2.4 2.2 1.9-1.3-2.4-2.2z" color="#0000de"/>
<path d="M87.9 375.9l2.4 2.1 1.8-1.3-2.3-2.1z" color="#0000da"/>
<path d="M90.3 378l2.4 2.1 1.8-1.4-2.4-2z" color="#0000d5"/>
<path d="M92.7 380.1l2.4 1.9 1.8-1.3-2.4-2z" color="#0000d1"/>
<path d="M95.1 382l2.4 1.8 1.8-1.3-2.4-1.8z" color="#0000cc"/>
<path d="M97.5 383.8l2.4 1.8 1.8-1.4-2.4-1.7z" color="#0000c7"/>
<path d="M99.9 385.6l2.4 1.6 1.8-1.4-2.4-1.6zM102.3 387.2l2.4 1.5 1.8-1.3-2.4-1.6z" color="#0000c2"/>
<path d="M104.7 388.7l2.4 1.5 1.8-1.4-2.4-1.4zM107.1 390.2l2.4 1.3 1.8-1.4-2.4-1.3z" color="#0000be"/>
<path d="M109.5 391.5l2.4 1.3 1.9-1.4-2.5-1.3zM111.9 392.8l2.5 1.2 1.8-1.4-2.4-1.2zM114.4 394l2.4 1 1.8-1.4-2.4-1zM116.8 395l2.4 1 1.8-1.4-2.4-1zM119.2 396l2.5 .9 1.8-1.5-2.5-.8zM121.7 396.9l2.4 .7 1.8-1.4-2.4-.8z" color="#0000b9"/>
<path d="M124.1 397.6l2.5 .7 1.8-1.4-2.5-.7zM126.6 398.3l2.4 .5 1.8-1.4-2.4-.5z" color="#0000be"/>
<path d="M129 398.8l2.5 .5 1.8-1.4-2.5-.5zM131.5 399.3l2.5 .4 1.8-1.5-2.5-.3z" color="#0000c2"/>
<path d="M134 399.7l2.5 .2 1.8-1.4-2.5-.3z" color="#0000c7"/>
<path d="M136.5 399.9l2.5 .2 1.8-1.5-2.5-.1z" color="#0000cc"/>
<path d="M139 400.1l2.5 0 1.8-1.4-2.5-.1z" color="#0000d1"/>
<path d="M141.5 400.1l2.6 0 1.7-1.5-2.5 .1z" color="#0000d5"/>
<path d="M144.1 400.1l2.5-.2 1.8-1.4-2.6 .1z" color="#0000da"/>
<path d="M146.6 399.9l2.5-.3 1.8-1.4-2.5 .3z" color="#0000de"/>
<path d="M149.1 399.6l2.6-.4 1.8-1.4-2.6 .4z" color="#0000e2"/>
<path d="M151.7 399.2l2.6-.5 1.8-1.4-2.6 .5z" color="#0000eb"/>
<path d="M154.3 398.7l2.6-.6 1.8-1.4-2.6 .6z" color="#0000ef"/>
<path d="M156.9 398.1l2.6-.7 1.8-1.5-2.6 .8z" color="#0000f8"/>
<path d="M159.5 397.4l2.7-.9 1.7-1.4-2.6 .8z" color="#0001fe"/>
<path d="M64.2 353.8l2.5 3 1.9-1.1-2.4-3z" color="#0021e6"/>
<path d="M66.7 356.8l2.4 2.9 1.9-1.2-2.4-2.8z" color="#000cfa"/>
<path d="M69.1 359.7l2.4 2.8 2-1.2-2.5-2.8z" color="#0005fd"/>
<path d="M71.5 362.5l2.5 2.6 1.9-1.1-2.4-2.7z" color="#0000fc"/>
<path d="M74 365.1l2.4 2.6 1.9-1.1-2.4-2.6z" color="#0000f8"/>
<path d="M76.4 367.7l2.4 2.5 1.9-1.2-2.4-2.4z" color="#0000ef"/>
<path d="M78.8 370.2l2.4 2.4 1.9-1.2-2.4-2.4z" color="#0000e7"/>
<path d="M81.2 372.6l2.4 2.4 1.9-1.3-2.4-2.3z" color="#0000e2"/>
<path d="M83.6 375l2.4 2.2 1.9-1.3-2.4-2.2z" color="#0000de"/>
<path d="M86 377.2l2.4 2.1 1.9-1.3-2.4-2.1z" color="#0000d5"/>
<path d="M88.4 379.3l2.4 2 1.9-1.2-2.4-2.1z" color="#0000d1"/>
<path d="M90.8 381.3l2.4 2 1.9-1.3-2.4-1.9z" color="#0000cc"/>
<path d="M93.2 383.3l2.4 1.8 1.9-1.3-2.4-1.8zM95.6 385.1l2.4 1.7 1.9-1.2-2.4-1.8z" color="#0000c7"/>
<path d="M98 386.8l2.4 1.7 1.9-1.3-2.4-1.6z" color="#0000c2"/>
<path d="M100.4 388.5l2.5 1.5 1.8-1.3-2.4-1.5zM102.9 390l2.4 1.5 1.8-1.3-2.4-1.5zM105.3 391.5l2.4 1.4 1.8-1.4-2.4-1.3z" color="#0000be"/>
<path d="M107.7 392.9l2.4 1.2 1.8-1.3-2.4-1.3zM110.1 394.1l2.4 1.2 1.9-1.3-2.5-1.2zM112.5 395.3l2.5 1.1 1.8-1.4-2.4-1zM115 396.4l2.4 .9 1.8-1.3-2.4-1zM117.4 397.3l2.5 .9 1.8-1.3-2.5-.9zM119.9 398.2l2.4 .8 1.8-1.4-2.4-.7z" color="#0000b9"/>
<path d="M122.3 399l2.5 .6 1.8-1.3-2.5-.7zM124.8 399.6l2.4 .6 1.8-1.4-2.4-.5z" color="#0000be"/>
<path d="M127.2 400.2l2.5 .5 1.8-1.4-2.5-.5zM129.7 400.7l2.5 .3 1.8-1.3-2.5-.4z" color="#0000c2"/>
<path d="M132.2 401l2.5 .3 1.8-1.4-2.5-.2z" color="#0000c7"/>
<path d="M134.7 401.3l2.5 .2 1.8-1.4-2.5-.2z" color="#0000cc"/>
<path d="M137.2 401.5l2.5 0 1.8-1.4-2.5 0z" color="#0000d1"/>
<path d="M139.7 401.5l2.6-.1 1.8-1.3-2.6 0z" color="#0000d5"/>
<path d="M142.3 401.4l2.5-.1 1.8-1.4-2.5 .2z" color="#0000da"/>
<path d="M144.8 401.3l2.6-.3 1.7-1.4-2.5 .3z" color="#0000de"/>
<path d="M147.4 401l2.5-.4 1.8-1.4-2.6 .4z" color="#0000e2"/>
<path d="M149.9 400.6l2.6-.5 1.8-1.4-2.6 .5z" color="#0000eb"/>
<path d="M152.5 400.1l2.6-.6 1.8-1.4-2.6 .6z" color="#0000ef"/>
<path d="M155.1 399.5l2.6-.8 1.8-1.3-2.6 .7z" color="#0000f8"/>
<path d="M157.7 398.7l2.7-.8 1.8-1.4-2.7 .9z" color="#0001fe"/>
<path d="M62.3 354.9l2.4 3 2-1.1-2.5-3z" color="#0021e6"/>
<path d="M64.7 357.9l2.5 2.9 1.9-1.1-2.4-2.9z" color="#000cfa"/>
<path d="M67.2 360.8l2.4 2.8 1.9-1.1-2.4-2.8z" color="#0005fd"/>
<path d="M69.6 363.6l2.4 2.7 2-1.2-2.5-2.6z" color="#0000fc"/>
<path d="M72 366.3l2.4 2.6 2-1.2-2.4-2.6z" color="#0000f4"/>
<path d="M74.4 368.9l2.5 2.5 1.9-1.2-2.4-2.5z" color="#0000ef"/>
<path d="M76.9 371.4l2.4 2.4 1.9-1.2-2.4-2.4z" color="#0000e7"/>
<path d="M79.3 373.8l2.4 2.3 1.9-1.1-2.4-2.4z" color="#0000e2"/>
<path d="M81.7 376.1l2.4 2.2 1.9-1.1-2.4-2.2z" color="#0000de"/>
<path d="M84.1 378.3l2.4 2.2 1.9-1.2-2.4-2.1z" color="#0000d5"/>
<path d="M86.5 380.5l2.4 2 1.9-1.2-2.4-2z" color="#0000d1"/>
<path d="M88.9 382.5l2.4 2 1.9-1.2-2.4-2z" color="#0000cc"/>
<path d="M91.3 384.5l2.5 1.8 1.8-1.2-2.4-1.8zM93.8 386.3l2.4 1.8 1.8-1.3-2.4-1.7z" color="#0000c7"/>
<path d="M96.2 388.1l2.4 1.6 1.8-1.2-2.4-1.7z" color="#0000c2"/>
<path d="M98.6 389.7l2.4 1.6 1.9-1.3-2.5-1.5zM101 391.3l2.4 1.4 1.9-1.2-2.4-1.5z" color="#0000be"/>
<path d="M103.4 392.7l2.4 1.4 1.9-1.2-2.4-1.4zM105.8 394.1l2.5 1.3 1.8-1.3-2.4-1.2zM108.3 395.4l2.4 1.2 1.8-1.3-2.4-1.2zM110.7 396.6l2.4 1 1.9-1.2-2.5-1.1zM113.1 397.6l2.5 1 1.8-1.3-2.4-.9zM115.6 398.6l2.4 .9 1.9-1.3-2.5-.9zM118 399.5l2.5 .8 1.8-1.3-2.4-.8zM120.5 400.3l2.4 .6 1.9-1.3-2.5-.6z" color="#0000b9"/>
<path d="M122.9 400.9l2.5 .6 1.8-1.3-2.4-.6zM125.4 401.5l2.5 .5 1.8-1.3-2.5-.5z" color="#0000be"/>
<path d="M127.9 402l2.5 .3 1.8-1.3-2.5-.3z" color="#0000c2"/>
<path d="M130.4 402.3l2.5 .3 1.8-1.3-2.5-.3z" color="#0000c7"/>
<path d="M132.9 402.6l2.5 .2 1.8-1.3-2.5-.2z" color="#0000cc"/>
<path d="M135.4 402.8l2.5 0 1.8-1.3-2.5 0z" color="#0000d1"/>
<path d="M137.9 402.8l2.5-.1 1.9-1.3-2.6 .1z" color="#0000d5"/>
<path d="M140.4 402.7l2.6-.1 1.8-1.3-2.5 .1z" color="#0000da"/>
<path d="M143 402.6l2.5-.3 1.9-1.3-2.6 .3z" color="#0000de"/>
<path d="M145.5 402.3l2.6-.4 1.8-1.3-2.5 .4z" color="#0000e2"/>
<path d="M148.1 401.9l2.6-.5 1.8-1.3-2.6 .5z" color="#0000eb"/>
<path d="M150.7 401.4l2.6-.7 1.8-1.2-2.6 .6z" color="#0000ef"/>
<path d="M153.3 400.7l2.6-.7 1.8-1.3-2.6 .8z" color="#0000f8"/>
<path d="M155.9 400l2.7-.9 1.8-1.2-2.7 .8z" color="#0001fe"/>
<path d="M62.3 354.9l7.3 8.7 5.8-3.5-7.3-8.6zM69.6 363.6l7.3 7.8 5.7-3.6-7.2-7.7zM76.9 371.4l7.2 6.9 5.7-3.7-7.2-6.8zM84.1 378.3l7.2 6.2 5.6-3.8-7.1-6.1zM91.3 384.5l7.3 5.2 5.5-3.9-7.2-5.1zM98.6 389.7l7.2 4.4 5.5-4-7.2-4.3zM105.8 394.1l7.3 3.5 5.5-4-7.3-3.5zM113.1 397.6l7.4 2.7 5.4-4.1-7.3-2.6zM120.5 400.3l7.4 1.7 5.4-4.1-7.4-1.7zM127.9 402l7.5 .8 5.4-4.2-7.5-.7zM135.4 402.8l7.6-.2 5.4-4.1-7.6 .1zM143 402.6l7.7-1.2 5.4-4.1-7.7 1.2zM150.7 401.4l7.9-2.3 5.3-4-7.8 2.2z" class="m"/>
<path d="M60.3 355.8l2.4 3.1 2-1-2.4-3z" color="#0021e6"/>
<path d="M62.7 358.9l2.5 2.9 2-1-2.5-2.9z" color="#000cfa"/>
<path d="M65.2 361.8l2.4 2.8 2-1-2.4-2.8z" color="#0005fd"/>
<path d="M67.6 364.6l2.5 2.7 1.9-1-2.4-2.7z" color="#0000fc"/>
<path d="M70.1 367.3l2.4 2.6 1.9-1-2.4-2.6z" color="#0000f4"/>
<path d="M72.5 369.9l2.4 2.5 2-1-2.5-2.5z" color="#0000ef"/>
<path d="M74.9 372.4l2.5 2.5 1.9-1.1-2.4-2.4z" color="#0000e7"/>
<path d="M77.4 374.9l2.4 2.3 1.9-1.1-2.4-2.3z" color="#0000e2"/>
<path d="M79.8 377.2l2.4 2.2 1.9-1.1-2.4-2.2z" color="#0000da"/>
<path d="M82.2 379.4l2.4 2.2 1.9-1.1-2.4-2.2z" color="#0000d5"/>
<path d="M84.6 381.6l2.4 2 1.9-1.1-2.4-2z" color="#0000d1"/>
<path d="M87 383.6l2.4 2 1.9-1.1-2.4-2z" color="#0000cc"/>
<path d="M89.4 385.6l2.5 1.8 1.9-1.1-2.5-1.8z" color="#0000c7"/>
<path d="M91.9 387.4l2.4 1.8 1.9-1.1-2.4-1.8zM94.3 389.2l2.4 1.7 1.9-1.2-2.4-1.6z" color="#0000c2"/>
<path d="M96.7 390.9l2.4 1.5 1.9-1.1-2.4-1.6zM99.1 392.4l2.4 1.5 1.9-1.2-2.4-1.4z" color="#0000be"/>
<path d="M101.5 393.9l2.5 1.4 1.8-1.2-2.4-1.4zM104 395.3l2.4 1.3 1.9-1.2-2.5-1.3zM106.4 396.6l2.4 1.2 1.9-1.2-2.4-1.2zM108.8 397.8l2.5 1 1.8-1.2-2.4-1zM111.3 398.8l2.4 1 1.9-1.2-2.5-1zM113.7 399.8l2.5 .9 1.8-1.2-2.4-.9zM116.2 400.7l2.4 .8 1.9-1.2-2.5-.8zM118.6 401.5l2.5 .7 1.8-1.3-2.4-.6z" color="#0000b9"/>
<path d="M121.1 402.2l2.5 .5 1.8-1.2-2.5-.6zM123.6 402.7l2.5 .5 1.8-1.2-2.5-.5z" color="#0000be"/>
<path d="M126.1 403.2l2.5 .4 1.8-1.3-2.5-.3z" color="#0000c2"/>
<path d="M128.6 403.6l2.5 .2 1.8-1.2-2.5-.3z" color="#0000c7"/>
<path d="M131.1 403.8l2.5 .2 1.8-1.2-2.5-.2z" color="#0000cc"/>
<path d="M133.6 404l2.5 0 1.8-1.2-2.5 0z" color="#0000d1"/>
<path d="M136.1 404l2.5 0 1.8-1.3-2.5 .1z" color="#0000d5"/>
<path d="M138.6 404l2.6-.2 1.8-1.2-2.6 .1z" color="#0000da"/>
<path d="M141.2 403.8l2.5-.3 1.8-1.2-2.5 .3z" color="#0000de"/>
<path d="M143.7 403.5l2.6-.4 1.8-1.2-2.6 .4z" color="#0000e2"/>
<path d="M146.3 403.1l2.6-.5 1.8-1.2-2.6 .5z" color="#0000eb"/>
<path d="M148.9 402.6l2.6-.6 1.8-1.3-2.6 .7z" color="#0000ef"/>
<path d="M151.5 402l2.6-.8 1.8-1.2-2.6 .7z" color="#0000f8"/>
<path d="M154.1 401.2l2.7-.9 1.8-1.2-2.7 .9z" color="#0001fe"/>
<path d="M58.3 356.7l2.4 3.1 2-.9-2.4-3.1z" color="#0021e6"/>
<path d="M60.7 359.8l2.5 2.9 2-.9-2.5-2.9z" color="#000cfa"/>
<path d="M63.2 362.7l2.5 2.8 1.9-.9-2.4-2.8z" color="#0005fd"/>
<path d="M65.7 365.5l2.4 2.7 2-.9-2.5-2.7z" color="#0000fc"/>
<path d="M68.1 368.2l2.4 2.7 2-1-2.4-2.6z" color="#0000f4"/>
<path d="M70.5 370.9l2.5 2.5 1.9-1-2.4-2.5z" color="#0000ef"/>
<path d="M73 373.4l2.4 2.5 2-1-2.5-2.5z" color="#0000e7"/>
<path d="M75.4 375.9l2.4 2.3 2-1-2.4-2.3z" color="#0000e2"/>
<path d="M77.8 378.2l2.5 2.3 1.9-1.1-2.4-2.2z" color="#0000de"/>
<path d="M80.3 380.5l2.4 2.1 1.9-1-2.4-2.2z" color="#0000d5"/>
<path d="M82.7 382.6l2.4 2.1 1.9-1.1-2.4-2z" color="#0000d1"/>
<path d="M85.1 384.7l2.4 1.9 1.9-1-2.4-2z" color="#0000cc"/>
<path d="M87.5 386.6l2.5 1.9 1.9-1.1-2.5-1.8zM90 388.5l2.4 1.8 1.9-1.1-2.4-1.8z" color="#0000c7"/>
<path d="M92.4 390.3l2.4 1.7 1.9-1.1-2.4-1.7z" color="#0000c2"/>
<path d="M94.8 392l2.4 1.5 1.9-1.1-2.4-1.5zM97.2 393.5l2.5 1.5 1.8-1.1-2.4-1.5z" color="#0000be"/>
<path d="M99.7 395l2.4 1.4 1.9-1.1-2.5-1.4zM102.1 396.4l2.4 1.3 1.9-1.1-2.4-1.3zM104.5 397.7l2.5 1.2 1.8-1.1-2.4-1.2zM107 398.9l2.4 1.1 1.9-1.2-2.5-1zM109.4 400l2.5 1 1.8-1.2-2.4-1zM111.9 401l2.4 .8 1.9-1.1-2.5-.9zM114.3 401.8l2.5 .8 1.8-1.1-2.4-.8z" color="#0000b9"/>
<path d="M116.8 402.6l2.5 .7 1.8-1.1-2.5-.7zM119.3 403.3l2.4 .6 1.9-1.2-2.5-.5zM121.7 403.9l2.5 .5 1.9-1.2-2.5-.5z" color="#0000be"/>
<path d="M124.2 404.4l2.5 .3 1.9-1.1-2.5-.4z" color="#0000c2"/>
<path d="M126.7 404.7l2.5 .3 1.9-1.2-2.5-.2z" color="#0000c7"/>
<path d="M129.2 405l2.5 .1 1.9-1.1-2.5-.2z" color="#0000cc"/>
<path d="M131.7 405.1l2.6 .1 1.8-1.2-2.5 0z" color="#0000d1"/>
<path d="M134.3 405.2l2.5-.1 1.8-1.1-2.5 0z" color="#0000d5"/>
<path d="M136.8 405.1l2.5-.2 1.9-1.1-2.6 .2z" color="#0000da"/>
<path d="M139.3 404.9l2.6-.2 1.8-1.2-2.5 .3z" color="#0000de"/>
<path d="M141.9 404.7l2.6-.4 1.8-1.2-2.6 .4z" color="#0000e2"/>
<path d="M144.5 404.3l2.6-.6 1.8-1.1-2.6 .5z" color="#0000eb"/>
<path d="M147.1 403.7l2.6-.6 1.8-1.1-2.6 .6z" color="#0000ef"/>
<path d="M149.7 403.1l2.6-.8 1.8-1.1-2.6 .8z" color="#0000f8"/>
<path d="M152.3 402.3l2.6-.8 1.9-1.2-2.7 .9z" color="#0001fe"/>
<path d="M56.3 357.6l2.4 3 2-.8-2.4-3.1z" color="#0021e6"/>
<path d="M58.7 360.6l2.5 2.9 2-.8-2.5-2.9z" color="#000cfa"/>
<path d="M61.2 363.5l2.5 2.9 2-.9-2.5-2.8z" color="#0005fd"/>
<path d="M63.7 366.4l2.4 2.7 2-.9-2.4-2.7z" color="#0000fc"/>
<path d="M66.1 369.1l2.5 2.7 1.9-.9-2.4-2.7z" color="#0000f4"/>
<path d="M68.6 371.8l2.4 2.5 2-.9-2.5-2.5z" color="#0000ef"/>
<path d="M71 374.3l2.4 2.5 2-.9-2.4-2.5z" color="#0000e7"/>
<path d="M73.4 376.8l2.5 2.3 1.9-.9-2.4-2.3z" color="#0000e2"/>
<path d="M75.9 379.1l2.4 2.3 2-.9-2.5-2.3z" color="#0000de"/>
<path d="M78.3 381.4l2.4 2.2 2-1-2.4-2.1z" color="#0000d5"/>
<path d="M80.7 383.6l2.5 2.1 1.9-1-2.4-2.1z" color="#0000d1"/>
<path d="M83.2 385.7l2.4 1.9 1.9-1-2.4-1.9z" color="#0000cc"/>
<path d="M85.6 387.6l2.4 1.9 2-1-2.5-1.9zM88 389.5l2.5 1.8 1.9-1-2.4-1.8z" color="#0000c7"/>
<path d="M90.5 391.3l2.4 1.7 1.9-1-2.4-1.7z" color="#0000c2"/>
<path d="M92.9 393l2.4 1.6 1.9-1.1-2.4-1.5zM95.3 394.6l2.5 1.5 1.9-1.1-2.5-1.5z" color="#0000be"/>
<path d="M97.8 396.1l2.4 1.3 1.9-1-2.4-1.4zM100.2 397.4l2.4 1.3 1.9-1-2.4-1.3zM102.6 398.7l2.5 1.2 1.9-1-2.5-1.2zM105.1 399.9l2.4 1.1 1.9-1-2.4-1.1zM107.5 401l2.5 1 1.9-1-2.5-1zM110 402l2.4 .9 1.9-1.1-2.4-.8zM112.4 402.9l2.5 .8 1.9-1.1-2.5-.8z" color="#0000b9"/>
<path d="M114.9 403.7l2.5 .7 1.9-1.1-2.5-.7zM117.4 404.4l2.5 .6 1.8-1.1-2.4-.6z" color="#0000be"/>
<path d="M119.9 405l2.5 .4 1.8-1-2.5-.5zM122.4 405.4l2.5 .4 1.8-1.1-2.5-.3z" color="#0000c2"/>
<path d="M124.9 405.8l2.5 .3 1.8-1.1-2.5-.3z" color="#0000c7"/>
<path d="M127.4 406.1l2.5 .1 1.8-1.1-2.5-.1z" color="#0000cc"/>
<path d="M129.9 406.2l2.5 .1 1.9-1.1-2.6-.1z" color="#0000d1"/>
<path d="M132.4 406.3l2.5-.1 1.9-1.1-2.5 .1z" color="#0000d5"/>
<path d="M134.9 406.2l2.6-.2 1.8-1.1-2.5 .2z" color="#0000da"/>
<path d="M137.5 406l2.6-.3 1.8-1-2.6 .2z" color="#0000de"/>
<path d="M140.1 405.7l2.5-.4 1.9-1-2.6 .4z" color="#0000e7"/>
<path d="M142.6 405.3l2.6-.5 1.9-1.1-2.6 .6z" color="#0000eb"/>
<path d="M145.2 404.8l2.6-.6 1.9-1.1-2.6 .6z" color="#0000f4"/>
<path d="M147.8 404.2l2.7-.8 1.8-1.1-2.6 .8z" color="#0000f8"/>
<path d="M150.5 403.4l2.6-.9 1.8-1-2.6 .8z" color="#0001fe"/>
<path d="M56.3 357.6l7.4 8.8 5.9-2.8-7.3-8.7zM63.7 366.4l7.3 7.9 5.9-2.9-7.3-7.8zM71 374.3l7.3 7.1 5.8-3.1-7.2-6.9zM78.3 381.4l7.3 6.2 5.7-3.1-7.2-6.2zM85.6 387.6l7.3 5.4 5.7-3.3-7.3-5.2zM92.9 393l7.3 4.4 5.6-3.3-7.2-4.4zM100.2 397.4l7.3 3.6 5.6-3.4-7.3-3.5zM107.5 401l7.4 2.7 5.6-3.4-7.4-2.7zM114.9 403.7l7.5 1.7 5.5-3.4-7.4-1.7zM122.4 405.4l7.5 .8 5.5-3.4-7.5-.8zM129.9 406.2l7.6-.2 5.5-3.4-7.6 .2zM137.5 406l7.7-1.2 5.5-3.4-7.7 1.2zM145.2 404.8l7.9-2.3 5.5-3.4-7.9 2.3z" class="m"/>
<path d="M54.2 358.3l2.5 3.1 2-.8-2.4-3z" color="#0021e6"/>
<path d="M56.7 361.4l2.5 2.9 2-.8-2.5-2.9z" color="#000cfa"/>
<path d="M59.2 364.3l2.4 2.9 2.1-.8-2.5-2.9z" color="#0005fd"/>
<path d="M61.6 367.2l2.5 2.7 2-.8-2.4-2.7z" color="#0000fc"/>
<path d="M64.1 369.9l2.5 2.7 2-.8-2.5-2.7z" color="#0000f8"/>
<path d="M66.6 372.6l2.4 2.6 2-.9-2.4-2.5z" color="#0000ef"/>
<path d="M69 375.2l2.5 2.4 1.9-.8-2.4-2.5z" color="#0000eb"/>
<path d="M71.5 377.6l2.4 2.4 2-.9-2.5-2.3z" color="#0000e2"/>
<path d="M73.9 380l2.5 2.3 1.9-.9-2.4-2.3z" color="#0000de"/>
<path d="M76.4 382.3l2.4 2.2 1.9-.9-2.4-2.2z" color="#0000da"/>
<path d="M78.8 384.5l2.4 2.1 2-.9-2.5-2.1z" color="#0000d1"/>
<path d="M81.2 386.6l2.5 1.9 1.9-.9-2.4-1.9zM83.7 388.5l2.4 1.9 1.9-.9-2.4-1.9z" color="#0000cc"/>
<path d="M86.1 390.4l2.4 1.8 2-.9-2.5-1.8z" color="#0000c7"/>
<path d="M88.5 392.2l2.5 1.7 1.9-.9-2.4-1.7zM91 393.9l2.4 1.6 1.9-.9-2.4-1.6z" color="#0000c2"/>
<path d="M93.4 395.5l2.4 1.5 2-.9-2.5-1.5zM95.8 397l2.5 1.4 1.9-1-2.4-1.3z" color="#0000be"/>
<path d="M98.3 398.4l2.4 1.3 1.9-1-2.4-1.3zM100.7 399.7l2.5 1.2 1.9-1-2.5-1.2zM103.2 400.9l2.4 1.1 1.9-1-2.4-1.1zM105.6 402l2.5 1 1.9-1-2.5-1zM108.1 403l2.5 .9 1.8-1-2.4-.9zM110.6 403.9l2.4 .8 1.9-1-2.5-.8z" color="#0000b9"/>
<path d="M113 404.7l2.5 .7 1.9-1-2.5-.7zM115.5 405.4l2.5 .6 1.9-1-2.5-.6z" color="#0000be"/>
<path d="M118 406l2.5 .5 1.9-1.1-2.5-.4zM120.5 406.5l2.5 .3 1.9-1-2.5-.4z" color="#0000c2"/>
<path d="M123 406.8l2.5 .3 1.9-1-2.5-.3z" color="#0000c7"/>
<path d="M125.5 407.1l2.5 .1 1.9-1-2.5-.1z" color="#0000cc"/>
<path d="M128 407.2l2.5 .1 1.9-1-2.5-.1z" color="#0000d1"/>
<path d="M130.5 407.3l2.6-.1 1.8-1-2.5 .1z" color="#0000d5"/>
<path d="M133.1 407.2l2.5-.2 1.9-1-2.6 .2z" color="#0000da"/>
<path d="M135.6 407l2.6-.3 1.9-1-2.6 .3z" color="#0000de"/>
<path d="M138.2 406.7l2.6-.4 1.8-1-2.5 .4z" color="#0000e7"/>
<path d="M140.8 406.3l2.6-.5 1.8-1-2.6 .5z" color="#0000eb"/>
<path d="M143.4 405.8l2.6-.6 1.8-1-2.6 .6z" color="#0000f4"/>
<path d="M146 405.2l2.6-.8 1.9-1-2.7 .8z" color="#0000f8"/>
<path d="M148.6 404.4l2.6-.9 1.9-1-2.6 .9z" color="#0001fe"/>
<path d="M52.2 359l2.5 3.1 2-.7-2.5-3.1z" color="#0021e6"/>
<path d="M54.7 362.1l2.4 2.9 2.1-.7-2.5-2.9z" color="#000cfa"/>
<path d="M57.1 365l2.5 2.9 2-.7-2.4-2.9z" color="#0005fd"/>
<path d="M59.6 367.9l2.5 2.8 2-.8-2.5-2.7z" color="#0001fe"/>
<path d="M62.1 370.7l2.4 2.7 2.1-.8-2.5-2.7z" color="#0000f8"/>
<path d="M64.5 373.4l2.5 2.5 2-.7-2.4-2.6z" color="#0000ef"/>
<path d="M67 375.9l2.5 2.5 2-.8-2.5-2.4z" color="#0000eb"/>
<path d="M69.5 378.4l2.4 2.4 2-.8-2.4-2.4z" color="#0000e2"/>
<path d="M71.9 380.8l2.5 2.3 2-.8-2.5-2.3z" color="#0000de"/>
<path d="M74.4 383.1l2.4 2.2 2-.8-2.4-2.2z" color="#0000da"/>
<path d="M76.8 385.3l2.5 2.1 1.9-.8-2.4-2.1z" color="#0000d5"/>
<path d="M79.3 387.4l2.4 2 2-.9-2.5-1.9z" color="#0000d1"/>
<path d="M81.7 389.4l2.4 1.9 2-.9-2.4-1.9z" color="#0000cc"/>
<path d="M84.1 391.3l2.5 1.8 1.9-.9-2.4-1.8z" color="#0000c7"/>
<path d="M86.6 393.1l2.4 1.7 2-.9-2.5-1.7zM89 394.8l2.5 1.6 1.9-.9-2.4-1.6z" color="#0000c2"/>
<path d="M91.5 396.4l2.4 1.5 1.9-.9-2.4-1.5zM93.9 397.9l2.5 1.4 1.9-.9-2.5-1.4zM96.4 399.3l2.4 1.3 1.9-.9-2.4-1.3z" color="#0000be"/>
<path d="M98.8 400.6l2.5 1.2 1.9-.9-2.5-1.2zM101.3 401.8l2.4 1.1 1.9-.9-2.4-1.1zM103.7 402.9l2.5 1 1.9-.9-2.5-1z" color="#0000b9"/>
<path d="M106.2 403.9l2.5 .9 1.9-.9-2.5-.9zM108.7 404.8l2.4 .8 1.9-.9-2.4-.8zM111.1 405.6l2.5 .7 1.9-.9-2.5-.7z" color="#0000be"/>
<path d="M113.6 406.3l2.5 .6 1.9-.9-2.5-.6zM116.1 406.9l2.5 .5 1.9-.9-2.5-.5z" color="#0000c2"/>
<path d="M118.6 407.4l2.5 .4 1.9-1-2.5-.3zM121.1 407.8l2.5 .2 1.9-.9-2.5-.3z" color="#0000c7"/>
<path d="M123.6 408l2.5 .2 1.9-1-2.5-.1z" color="#0000cc"/>
<path d="M126.1 408.2l2.6 0 1.8-.9-2.5-.1z" color="#0000d1"/>
<path d="M128.7 408.2l2.5-.1 1.9-.9-2.6 .1z" color="#0000d5"/>
<path d="M131.2 408.1l2.6-.1 1.8-1-2.5 .2z" color="#0000da"/>
<path d="M133.8 408l2.5-.3 1.9-1-2.6 .3z" color="#0000e2"/>
<path d="M136.3 407.7l2.6-.4 1.9-1-2.6 .4z" color="#0000e7"/>
<path d="M138.9 407.3l2.6-.6 1.9-.9-2.6 .5z" color="#0000ef"/>
<path d="M141.5 406.7l2.6-.6 1.9-.9-2.6 .6z" color="#0000f4"/>
<path d="M144.1 406.1l2.6-.8 1.9-.9-2.6 .8z" color="#0000fc"/>
<path d="M146.7 405.3l2.7-.9 1.8-.9-2.6 .9z" color="#0005fd"/>
<path d="M50.1 359.6l2.5 3.1 2.1-.6-2.5-3.1z" color="#0032d4"/>
<path d="M52.6 362.7l2.5 3 2-.7-2.4-2.9z" color="#0010f8"/>
<path d="M55.1 365.7l2.5 2.9 2-.7-2.5-2.9z" color="#0009fb"/>
<path d="M57.6 368.6l2.4 2.7 2.1-.6-2.5-2.8z" color="#0001fe"/>
<path d="M60 371.3l2.5 2.7 2-.6-2.4-2.7z" color="#0000f8"/>
<path d="M62.5 374l2.5 2.6 2-.7-2.5-2.5z" color="#0000f4"/>
<path d="M65 376.6l2.4 2.5 2.1-.7-2.5-2.5z" color="#0000eb"/>
<path d="M67.4 379.1l2.5 2.4 2-.7-2.4-2.4z" color="#0000e7"/>
<path d="M69.9 381.5l2.5 2.3 2-.7-2.5-2.3z" color="#0000de"/>
<path d="M72.4 383.8l2.4 2.2 2-.7-2.4-2.2z" color="#0000da"/>
<path d="M74.8 386l2.5 2.1 2-.7-2.5-2.1z" color="#0000d5"/>
<path d="M77.3 388.1l2.4 2 2-.7-2.4-2z" color="#0000d1"/>
<path d="M79.7 390.1l2.5 2 1.9-.8-2.4-1.9z" color="#0000cc"/>
<path d="M82.2 392.1l2.4 1.8 2-.8-2.5-1.8zM84.6 393.9l2.5 1.7 1.9-.8-2.4-1.7z" color="#0000c7"/>
<path d="M87.1 395.6l2.4 1.6 2-.8-2.5-1.6zM89.5 397.2l2.5 1.5 1.9-.8-2.4-1.5z" color="#0000c2"/>
<path d="M92 398.7l2.4 1.4 2-.8-2.5-1.4zM94.4 400.1l2.5 1.3 1.9-.8-2.4-1.3zM96.9 401.4l2.4 1.3 2-.9-2.5-1.2zM99.3 402.7l2.5 1.1 1.9-.9-2.4-1.1zM101.8 403.8l2.5 1 1.9-.9-2.5-1zM104.3 404.8l2.4 .9 2-.9-2.5-.9zM106.7 405.7l2.5 .8 1.9-.9-2.4-.8zM109.2 406.5l2.5 .7 1.9-.9-2.5-.7z" color="#0000be"/>
<path d="M111.7 407.2l2.5 .6 1.9-.9-2.5-.6zM114.2 407.8l2.5 .4 1.9-.8-2.5-.5z" color="#0000c2"/>
<path d="M116.7 408.2l2.5 .4 1.9-.8-2.5-.4z" color="#0000c7"/>
<path d="M119.2 408.6l2.5 .3 1.9-.9-2.5-.2z" color="#0000cc"/>
<path d="M121.7 408.9l2.5 .1 1.9-.8-2.5-.2z" color="#0000d1"/>
<path d="M124.2 409l2.6 .1 1.9-.9-2.6 0z" color="#0000d5"/>
<path d="M126.8 409.1l2.5-.1 1.9-.9-2.5 .1z" color="#0000da"/>
<path d="M129.3 409l2.6-.2 1.9-.8-2.6 .1z" color="#0000de"/>
<path d="M131.9 408.8l2.5-.3 1.9-.8-2.5 .3z" color="#0000e2"/>
<path d="M134.4 408.5l2.6-.4 1.9-.8-2.6 .4z" color="#0000eb"/>
<path d="M137 408.1l2.6-.5 1.9-.9-2.6 .6z" color="#0000ef"/>
<path d="M139.6 407.6l2.6-.7 1.9-.8-2.6 .6z" color="#0000f8"/>
<path d="M142.2 406.9l2.7-.8 1.8-.8-2.6 .8z" color="#0000fc"/>
<path d="M144.9 406.1l2.6-.9 1.9-.8-2.7 .9z" color="#0005fd"/>
<path d="M50.1 359.6l7.5 9 6.1-2.2-7.4-8.8zM57.6 368.6l7.4 8 6-2.3-7.3-7.9zM65 376.6l7.4 7.2 5.9-2.4-7.3-7.1zM72.4 383.8l7.3 6.3 5.9-2.5-7.3-6.2zM79.7 390.1l7.4 5.5 5.8-2.6-7.3-5.4zM87.1 395.6l7.3 4.5 5.8-2.7-7.3-4.4zM94.4 400.1l7.4 3.7 5.7-2.8-7.3-3.6zM101.8 403.8l7.4 2.7 5.7-2.8-7.4-2.7zM109.2 406.5l7.5 1.7 5.7-2.8-7.5-1.7zM116.7 408.2l7.5 .8 5.7-2.8-7.5-.8zM124.2 409l7.7-.2 5.6-2.8-7.6 .2zM131.9 408.8l7.7-1.2 5.6-2.8-7.7 1.2zM139.6 407.6l7.9-2.4 5.6-2.7-7.9 2.3z" class="m"/>
</g>
<g font-size="9.2" fill="#111" stroke="#111" stroke-width=".22">
<text x="40.9" y="299" text-anchor="end">10.5</text>
<text x="42.1" y="317.2" text-anchor="end">10.0</text>
<text x="43.3" y="335.8" text-anchor="end">9.5</text>
<text x="44.5" y="353.6" text-anchor="end">9.0</text>
<text x="45.7" y="370.3" text-anchor="end">8.5</text>
<text x="47" y="387.3" text-anchor="end">8.0</text>
<text x="48.2" y="403" text-anchor="end">7.5</text>
<text x="62.8" y="415.5" text-anchor="middle">5</text>
<text x="80.2" y="422.3" text-anchor="middle">4</text>
<text x="98.5" y="430" text-anchor="middle">3</text>
<text x="117" y="437.6" text-anchor="middle">2</text>
<text x="137.4" y="445.2" text-anchor="middle">1</text>
<text x="162.7" y="434.5" text-anchor="middle">2</text>
<text x="178" y="423.1" text-anchor="middle">4</text>
<text x="192" y="411.1" text-anchor="middle">6</text>
<text x="205.2" y="400.7" text-anchor="middle">8</text>
<text x="219.7" y="390" text-anchor="middle">10</text>
<text font-size="9.2" transform="translate(21.9 349.4) rotate(-90)" text-anchor="middle">Avenalin yield (%)</text>
<text font-size="9.0" transform="translate(92.5 446.2) rotate(21.3)" text-anchor="middle">Extraction speed (m/s)</text>
<text font-size="9.3" transform="translate(201.3 426.5) rotate(-36.5)" text-anchor="middle">Extraction time (min)</text>
</g>
<rect x="227.6" y="287.6" width="41.6" height="57.9" fill="#fff" stroke="#555" stroke-width="1"/>
<g font-size="5.8" fill="#222">
<rect x="231.7" y="292.7" width="13.2" height="4.3" fill="#000080" stroke="#333" stroke-width=".4"/>
<text x="248.2" y="296.9">&lt; 7.5</text>
<rect x="231.7" y="299.9" width="13.2" height="4.3" fill="#0000c8" stroke="#333" stroke-width=".4"/>
<text x="248.2" y="304.2">&lt; 8</text>
<rect x="231.7" y="307.2" width="13.2" height="4.3" fill="#0020e8" stroke="#333" stroke-width=".4"/>
<text x="248.2" y="311.4">&lt; 8.5</text>
<rect x="231.7" y="314.5" width="13.2" height="4.3" fill="#00c800" stroke="#333" stroke-width=".4"/>
<text x="248.2" y="318.7">&lt; 9</text>
<rect x="231.7" y="321.8" width="13.2" height="4.3" fill="#88ff00" stroke="#333" stroke-width=".4"/>
<text x="248.2" y="326">&lt; 9.5</text>
<rect x="231.7" y="329.1" width="13.2" height="4.3" fill="#ffc800" stroke="#333" stroke-width=".4"/>
<text x="248.2" y="333.3">&lt; 10</text>
<rect x="231.7" y="336.3" width="13.2" height="4.3" fill="#ff4c00" stroke="#333" stroke-width=".4"/>
<text x="248.2" y="340.6">&lt; 10.5</text>
</g>
<text x="132.9" y="487" text-anchor="middle" font-family="'Liberation Serif',serif" font-size="12.6" letter-spacing=".7" fill="#111" stroke="#111" stroke-width=".2">(<tspan font-weight="bold">c</tspan>)</text>
<g fill="none" stroke-linecap="round" stroke-linejoin="round">
<path d="M332.1 384.9L421 358L421 267.3L323.9 286.2z" fill="#fff"/>
<path d="M421 358L490.1 397.7L497.8 295.6L421 267.3z" fill="#fff"/>
<path d="M332.1 384.9L421 358M331.1 373.4L421 347.4M330.2 361.6L421 336.6M329.2 349.6L421 325.6M328.2 337.4L421 314.4M327.1 325L421 303M326.1 312.3L421 291.3M325 299.4L421 279.4M323.9 286.2L421 267.3M332.1 384.9L323.9 286.2M353.9 378.3L347.7 281.6M374.4 372.1L370.1 277.2M393.8 366.2L391.3 273.1M412.2 360.7L411.4 269.2M421 358L490.1 397.7M421 347.4L491 385.8M421 336.6L491.9 373.6M421 325.6L492.9 361.2M421 314.4L493.8 348.6M421 303L494.8 335.7M421 291.3L495.8 322.6M421 279.4L496.8 309.2M421 267.3L497.8 295.6M421 358L421 267.3M435.6 366.4L437.2 273.3M450.6 375L453.9 279.4M466 383.9L471 285.7M481.9 393L488.7 292.3M332.1 384.9L421 358M345.5 395.2L435.6 366.4M359.2 405.9L450.6 375M373.4 416.9L466 383.9M388 428.2L481.9 393M332.1 384.9L395.5 434M353.9 378.3L418.7 425.1M374.4 372.1L440.5 416.7M393.8 366.2L461.2 408.8M412.2 360.7L480.7 401.3" stroke="#dcdcdc" stroke-width="0.7"/>
<path d="M332.1 384.9L421 358L421 267.3L323.9 286.2zM421 358L490.1 397.7L497.8 295.6L421 267.3zM332.1 384.9L395.5 434L490.1 397.7L421 358z" stroke="#505050" stroke-width="0.7"/>
<path d="M332.1 384.9l-2.5 0.8M345.5 395.2l-2.5 0.8M359.2 405.9l-2.5 0.8M373.4 416.9l-2.4 0.9M388 428.2l-2.4 0.9M395.5 434l2.1 1.6M418.7 425.1l2.1 1.5M440.5 416.7l2.2 1.5M461.2 408.8l2.2 1.4M480.7 401.3l2.2 1.3M332.1 384.9l-2.5 0.8M331.1 373.4l-2.5 0.7M330.2 361.6l-2.5 0.7M329.2 349.6l-2.5 0.7M328.2 337.4l-2.5 0.6M327.1 325l-2.5 0.6M326.1 312.3l-2.5 0.6M325 299.4l-2.5 0.5M323.9 286.2l-2.6 0.5" stroke="#505050" stroke-width="0.8"/>
</g>
<g stroke-linejoin="round" fill="currentColor" stroke="currentColor" stroke-width=".9">
<path d="M418.8 282.4l1.8 2.5 2.2-5.3-1.8-2.6z" color="#ff5c00"/>
<path d="M420.6 284.9l1.9 2.5 2.1-5.3-1.8-2.5z" color="#ff6300"/>
<path d="M422.5 287.4l1.8 2.5 2.2-5.3-1.9-2.5z" color="#ff6b00"/>
<path d="M424.3 289.9l1.8 2.4 2.2-5.2-1.8-2.5z" color="#ff7600"/>
<path d="M426.1 292.3l1.8 2.4 2.2-5.3-1.8-2.3z" color="#ff7e00"/>
<path d="M427.9 294.7l1.8 2.3 2.2-5.2-1.8-2.4z" color="#ff8f00"/>
<path d="M429.7 297l1.8 2.2 2.2-5.2-1.8-2.2z" color="#ff9700"/>
<path d="M431.5 299.2l1.8 2.2 2.2-5.1-1.8-2.3z" color="#ffa800"/>
<path d="M433.3 301.4l1.8 2.1 2.3-5.1-1.9-2.1z" color="#ffb000"/>
<path d="M435.1 303.5l1.8 2.1 2.3-5.1-1.8-2.1z" color="#ffc500"/>
<path d="M436.9 305.6l1.8 2.1 2.3-5.1-1.8-2.1z" color="#ffd200"/>
<path d="M438.7 307.7l1.9 1.9 2.2-5-1.8-2z" color="#ffe000"/>
<path d="M440.6 309.6l1.8 2 2.3-5-1.9-2zM442.4 311.6l1.8 1.8 2.3-5-1.8-1.8zM444.2 313.4l1.8 1.9 2.3-5-1.8-1.9zM446 315.3l1.9 1.7 2.3-4.9-1.9-1.8zM447.9 317l1.8 1.7 2.3-4.9-1.8-1.7zM449.7 318.7l1.9 1.7 2.3-4.9-1.9-1.7z" color="#fff000"/>
<path d="M451.6 320.4l1.8 1.6 2.3-4.9-1.8-1.6zM453.4 322l1.9 1.5 2.3-4.8-1.9-1.6z" color="#cff600"/>
<path d="M455.3 323.5l1.8 1.5 2.4-4.8-1.9-1.5z" color="#a0fc00"/>
<path d="M457.1 325l1.9 1.4 2.4-4.7-1.9-1.5zM459 326.4l1.9 1.4 2.3-4.8-1.8-1.3z" color="#76fb02"/>
<path d="M460.9 327.8l1.8 1.3 2.4-4.7-1.9-1.4zM462.7 329.1l1.9 1.3 2.4-4.7-1.9-1.3zM464.6 330.4l1.9 1.2 2.4-4.7-1.9-1.2z" color="#52f306"/>
<path d="M466.5 331.6l1.9 1.1 2.4-4.6-1.9-1.2zM468.4 332.7l2 1.1 2.4-4.6-2-1.1zM470.4 333.8l1.9 1 2.4-4.6-1.9-1zM472.3 334.8l1.9 1 2.4-4.6-1.9-1zM474.2 335.8l2 .9 2.4-4.6-2-.9zM476.2 336.7l1.9 .8 2.5-4.5-2-.9zM478.1 337.5l2 .8 2.4-4.5-1.9-.8zM480.1 338.3l2 .7 2.4-4.4-2-.8zM482.1 339l1.9 .7 2.5-4.4-2-.7zM484 339.7l2 .6 2.5-4.4-2-.6z" color="#2dea0b"/>
<path d="M486 340.3l2.1 .5 2.5-4.4-2.1-.5zM488.1 340.8l2 .5 2.5-4.4-2-.5zM490.1 341.3l2 .4 2.6-4.4-2.1-.4z" color="#52f306"/>
<path d="M416.7 287.5l1.8 2.5 2.1-5.1-1.8-2.5z" color="#ff6f00"/>
<path d="M418.5 290l1.8 2.5 2.2-5.1-1.9-2.5z" color="#ff7e00"/>
<path d="M420.3 292.5l1.8 2.4 2.2-5-1.8-2.5z" color="#ff8f00"/>
<path d="M422.1 294.9l1.8 2.4 2.2-5-1.8-2.4z" color="#ff9700"/>
<path d="M423.9 297.3l1.8 2.3 2.2-4.9-1.8-2.4z" color="#ffa800"/>
<path d="M425.7 299.6l1.8 2.3 2.2-4.9-1.8-2.3z" color="#ffb800"/>
<path d="M427.5 301.9l1.8 2.2 2.2-4.9-1.8-2.2z" color="#ffc500"/>
<path d="M429.3 304.1l1.8 2.2 2.2-4.9-1.8-2.2z" color="#ffe000"/>
<path d="M431.1 306.3l1.8 2.1 2.2-4.9-1.8-2.1z" color="#ffed00"/>
<path d="M432.9 308.4l1.8 2.1 2.2-4.9-1.8-2.1zM434.7 310.5l1.8 2 2.2-4.8-1.8-2.1zM436.5 312.5l1.8 2 2.3-4.9-1.9-1.9zM438.3 314.5l1.8 1.9 2.3-4.8-1.8-2zM440.1 316.4l1.8 1.8 2.3-4.8-1.8-1.8z" color="#fff000"/>
<path d="M441.9 318.2l1.8 1.8 2.3-4.7-1.8-1.9z" color="#cff600"/>
<path d="M443.7 320l1.9 1.7 2.3-4.7-1.9-1.7z" color="#a0fc00"/>
<path d="M445.6 321.7l1.8 1.7 2.3-4.7-1.8-1.7z" color="#76fb02"/>
<path d="M447.4 323.4l1.8 1.7 2.4-4.7-1.9-1.7z" color="#52f306"/>
<path d="M449.2 325.1l1.9 1.5 2.3-4.6-1.8-1.6z" color="#2dea0b"/>
<path d="M451.1 326.6l1.8 1.6 2.4-4.7-1.9-1.5zM452.9 328.2l1.9 1.4 2.3-4.6-1.8-1.5z" color="#09e20f"/>
<path d="M454.8 329.6l1.8 1.4 2.4-4.6-1.9-1.4zM456.6 331l1.9 1.4 2.4-4.6-1.9-1.4z" color="#00df10"/>
<path d="M458.5 332.4l1.9 1.3 2.3-4.6-1.8-1.3zM460.4 333.7l1.9 1.2 2.3-4.5-1.9-1.3z" color="#00de10"/>
<path d="M462.3 334.9l1.8 1.2 2.4-4.5-1.9-1.2zM464.1 336.1l1.9 1.1 2.4-4.5-1.9-1.1zM466 337.2l1.9 1.1 2.5-4.5-2-1.1zM467.9 338.3l2 1 2.4-4.5-1.9-1zM469.9 339.3l1.9 .9 2.4-4.4-1.9-1zM471.8 340.2l1.9 .9 2.5-4.4-2-.9zM473.7 341.1l2 .8 2.4-4.4-1.9-.8zM475.7 341.9l1.9 .8 2.5-4.4-2-.8zM477.6 342.7l2 .6 2.5-4.3-2-.7zM479.6 343.3l2 .7 2.4-4.3-1.9-.7z" color="#00dd10"/>
<path d="M481.6 344l2 .5 2.4-4.2-2-.6zM483.6 344.5l2 .6 2.5-4.3-2.1-.5zM485.6 345.1l2 .4 2.5-4.2-2-.5z" color="#00de10"/>
<path d="M487.6 345.5l2 .4 2.5-4.2-2-.4z" color="#00df10"/>
<path d="M414.5 292.3l1.8 2.6 2.2-4.9-1.8-2.5z" color="#ff9700"/>
<path d="M416.3 294.9l1.8 2.4 2.2-4.8-1.8-2.5z" color="#ffa800"/>
<path d="M418.1 297.3l1.8 2.4 2.2-4.8-1.8-2.4z" color="#ffb000"/>
<path d="M419.9 299.7l1.8 2.4 2.2-4.8-1.8-2.4z" color="#ffc500"/>
<path d="M421.7 302.1l1.8 2.3 2.2-4.8-1.8-2.3z" color="#ffe000"/>
<path d="M423.5 304.4l1.8 2.3 2.2-4.8-1.8-2.3z" color="#ffed00"/>
<path d="M425.3 306.7l1.8 2.2 2.2-4.8-1.8-2.2zM427.1 308.9l1.7 2.1 2.3-4.7-1.8-2.2zM428.8 311l1.8 2.1 2.3-4.7-1.8-2.1zM430.6 313.1l1.8 2 2.3-4.6-1.8-2.1z" color="#fff000"/>
<path d="M432.4 315.1l1.8 2 2.3-4.6-1.8-2z" color="#cff600"/>
<path d="M434.2 317.1l1.8 2 2.3-4.6-1.8-2z" color="#a0fc00"/>
<path d="M436 319.1l1.8 1.9 2.3-4.6-1.8-1.9z" color="#76fb02"/>
<path d="M437.8 321l1.9 1.8 2.2-4.6-1.8-1.8z" color="#2dea0b"/>
<path d="M439.7 322.8l1.8 1.8 2.2-4.6-1.8-1.8zM441.5 324.6l1.8 1.7 2.3-4.6-1.9-1.7z" color="#09e20f"/>
<path d="M443.3 326.3l1.8 1.6 2.3-4.5-1.8-1.7z" color="#00df10"/>
<path d="M445.1 327.9l1.8 1.6 2.3-4.4-1.8-1.7z" color="#00de10"/>
<path d="M446.9 329.5l1.9 1.6 2.3-4.5-1.9-1.5z" color="#00dd10"/>
<path d="M448.8 331.1l1.8 1.5 2.3-4.4-1.8-1.6zM450.6 332.6l1.8 1.4 2.4-4.4-1.9-1.4z" color="#00dc10"/>
<path d="M452.4 334l1.9 1.4 2.3-4.4-1.8-1.4zM454.3 335.4l1.8 1.4 2.4-4.4-1.9-1.4z" color="#00da10"/>
<path d="M456.1 336.8l1.9 1.2 2.4-4.3-1.9-1.3zM458 338l1.9 1.2 2.4-4.3-1.9-1.2zM459.9 339.2l1.9 1.2 2.3-4.3-1.8-1.2z" color="#00d910"/>
<path d="M461.8 340.4l1.9 1.1 2.3-4.3-1.9-1.1zM463.7 341.5l1.8 1 2.4-4.2-1.9-1.1zM465.5 342.5l2 1 2.4-4.2-2-1zM467.5 343.5l1.9 .9 2.4-4.2-1.9-.9zM469.4 344.4l1.9 .9 2.4-4.2-1.9-.9zM471.3 345.3l1.9 .8 2.5-4.2-2-.8zM473.2 346.1l2 .7 2.4-4.1-1.9-.8z" color="#00d810"/>
<path d="M475.2 346.8l2 .7 2.4-4.2-2-.6zM477.2 347.5l1.9 .6 2.5-4.1-2-.7zM479.1 348.1l2 .5 2.5-4.1-2-.5z" color="#00d910"/>
<path d="M481.1 348.6l2 .5 2.5-4-2-.6zM483.1 349.1l2 .4 2.5-4-2-.4z" color="#00da10"/>
<path d="M485.1 349.5l2 .4 2.5-4-2-.4z" color="#00dc10"/>
<path d="M414.5 292.3l5.4 7.4 6.6-15.1-5.5-7.6zM419.9 299.7l5.4 7 6.6-14.9-5.4-7.2zM425.3 306.7l5.3 6.4 6.8-14.7-5.5-6.6zM430.6 313.1l5.4 6 6.8-14.5-5.4-6.2zM436 319.1l5.5 5.5 6.8-14.3-5.5-5.7zM441.5 324.6l5.4 4.9 7-14-5.6-5.2zM446.9 329.5l5.5 4.5 7.1-13.8-5.6-4.7zM452.4 334l5.6 4 7.1-13.6-5.6-4.2zM458 338l5.7 3.5 7.1-13.4-5.7-3.7zM463.7 341.5l5.7 2.9 7.2-13.2-5.8-3.1zM469.4 344.4l5.8 2.4 7.3-13-5.9-2.6zM475.2 346.8l5.9 1.8 7.4-12.7-6-2.1zM481.1 348.6l6 1.3 7.6-12.6-6.2-1.4z" class="m"/>
<path d="M412.4 297l1.7 2.5 2.2-4.6-1.8-2.6z" color="#ffb800"/>
<path d="M414.1 299.5l1.8 2.4 2.2-4.6-1.8-2.4z" color="#ffd200"/>
<path d="M415.9 301.9l1.8 2.4 2.2-4.6-1.8-2.4z" color="#ffed00"/>
<path d="M417.7 304.3l1.8 2.4 2.2-4.6-1.8-2.4zM419.5 306.7l1.8 2.2 2.2-4.5-1.8-2.3zM421.3 308.9l1.8 2.3 2.2-4.5-1.8-2.3zM423.1 311.2l1.7 2.2 2.3-4.5-1.8-2.2z" color="#fff000"/>
<path d="M424.8 313.4l1.8 2.1 2.2-4.5-1.7-2.1z" color="#cff600"/>
<path d="M426.6 315.5l1.8 2.1 2.2-4.5-1.8-2.1z" color="#76fb02"/>
<path d="M428.4 317.6l1.8 2 2.2-4.5-1.8-2z" color="#52f306"/>
<path d="M430.2 319.6l1.8 2 2.2-4.5-1.8-2z" color="#2dea0b"/>
<path d="M432 321.6l1.8 1.9 2.2-4.4-1.8-2z" color="#09e20f"/>
<path d="M433.8 323.5l1.8 1.8 2.2-4.3-1.8-1.9z" color="#00de10"/>
<path d="M435.6 325.3l1.8 1.8 2.3-4.3-1.9-1.8z" color="#00dd10"/>
<path d="M437.4 327.1l1.8 1.8 2.3-4.3-1.8-1.8zM439.2 328.9l1.8 1.7 2.3-4.3-1.8-1.7z" color="#00dc10"/>
<path d="M441 330.6l1.8 1.6 2.3-4.3-1.8-1.6z" color="#00da10"/>
<path d="M442.8 332.2l1.8 1.6 2.3-4.3-1.8-1.6z" color="#00d910"/>
<path d="M444.6 333.8l1.8 1.6 2.4-4.3-1.9-1.6zM446.4 335.4l1.9 1.4 2.3-4.2-1.8-1.5z" color="#00d810"/>
<path d="M448.3 336.8l1.8 1.5 2.3-4.3-1.8-1.4z" color="#00d710"/>
<path d="M450.1 338.3l1.9 1.3 2.3-4.2-1.9-1.4zM452 339.6l1.8 1.3 2.3-4.1-1.8-1.4zM453.8 340.9l1.9 1.3 2.3-4.2-1.9-1.2z" color="#00d610"/>
<path d="M455.7 342.2l1.8 1.2 2.4-4.2-1.9-1.2zM457.5 343.4l1.9 1.1 2.4-4.1-1.9-1.2zM459.4 344.5l1.9 1.1 2.4-4.1-1.9-1.1zM461.3 345.6l1.9 1 2.3-4.1-1.8-1zM463.2 346.6l1.9 1 2.4-4.1-2-1zM465.1 347.6l1.9 .9 2.4-4.1-1.9-.9zM467 348.5l1.9 .8 2.4-4-1.9-.9zM468.9 349.3l1.9 .8 2.4-4-1.9-.8zM470.8 350.1l2 .7 2.4-4-2-.7zM472.8 350.8l1.9 .7 2.5-4-2-.7z" color="#00d510"/>
<path d="M474.7 351.5l2 .5 2.4-3.9-1.9-.6zM476.7 352l2 .6 2.4-4-2-.5zM478.7 352.6l1.9 .4 2.5-3.9-2-.5z" color="#00d610"/>
<path d="M480.6 353l2 .4 2.5-3.9-2-.4zM482.6 353.4l2.1 .3 2.4-3.8-2-.4z" color="#00d710"/>
<path d="M410.2 301.4l1.8 2.5 2.1-4.4-1.7-2.5z" color="#ffed00"/>
<path d="M412 303.9l1.8 2.4 2.1-4.4-1.8-2.4zM413.8 306.3l1.7 2.4 2.2-4.4-1.8-2.4zM415.5 308.7l1.8 2.3 2.2-4.3-1.8-2.4z" color="#fff000"/>
<path d="M417.3 311l1.8 2.3 2.2-4.4-1.8-2.2z" color="#cff600"/>
<path d="M419.1 313.3l1.8 2.2 2.2-4.3-1.8-2.3z" color="#76fb02"/>
<path d="M420.9 315.5l1.7 2.2 2.2-4.3-1.7-2.2z" color="#52f306"/>
<path d="M422.6 317.7l1.8 2.1 2.2-4.3-1.8-2.1z" color="#09e20f"/>
<path d="M424.4 319.8l1.8 2 2.2-4.2-1.8-2.1z" color="#00df10"/>
<path d="M426.2 321.8l1.8 2 2.2-4.2-1.8-2z" color="#00de10"/>
<path d="M428 323.8l1.8 2 2.2-4.2-1.8-2z" color="#00dd10"/>
<path d="M429.8 325.8l1.7 1.9 2.3-4.2-1.8-1.9z" color="#00dc10"/>
<path d="M431.5 327.7l1.8 1.8 2.3-4.2-1.8-1.8z" color="#00da10"/>
<path d="M433.3 329.5l1.8 1.8 2.3-4.2-1.8-1.8z" color="#00d910"/>
<path d="M435.1 331.3l1.8 1.8 2.3-4.2-1.8-1.8z" color="#00d810"/>
<path d="M436.9 333.1l1.8 1.6 2.3-4.1-1.8-1.7z" color="#00d710"/>
<path d="M438.7 334.7l1.8 1.7 2.3-4.2-1.8-1.6z" color="#00d610"/>
<path d="M440.5 336.4l1.8 1.5 2.3-4.1-1.8-1.6z" color="#00d510"/>
<path d="M442.3 337.9l1.8 1.6 2.3-4.1-1.8-1.6zM444.1 339.5l1.9 1.4 2.3-4.1-1.9-1.4z" color="#00d310"/>
<path d="M446 340.9l1.8 1.4 2.3-4-1.8-1.5zM447.8 342.3l1.8 1.4 2.4-4.1-1.9-1.3z" color="#00d210"/>
<path d="M449.6 343.7l1.9 1.3 2.3-4.1-1.8-1.3zM451.5 345l1.8 1.2 2.4-4-1.9-1.3zM453.3 346.2l1.9 1.2 2.3-4-1.8-1.2zM455.2 347.4l1.8 1.1 2.4-4-1.9-1.1z" color="#00d110"/>
<path d="M457 348.5l1.9 1 2.4-3.9-1.9-1.1zM458.9 349.5l1.9 1 2.4-3.9-1.9-1zM460.8 350.5l1.9 1 2.4-3.9-1.9-1zM462.7 351.5l1.9 .9 2.4-3.9-1.9-.9zM464.6 352.4l1.9 .8 2.4-3.9-1.9-.8z" color="#00d010"/>
<path d="M466.5 353.2l1.9 .7 2.4-3.8-1.9-.8zM468.4 353.9l1.9 .7 2.5-3.8-2-.7zM470.3 354.6l2 .7 2.4-3.8-1.9-.7zM472.3 355.3l1.9 .5 2.5-3.8-2-.5z" color="#00d110"/>
<path d="M474.2 355.8l2 .5 2.5-3.7-2-.6zM476.2 356.3l2 .5 2.4-3.8-1.9-.4z" color="#00d210"/>
<path d="M478.2 356.8l2 .3 2.4-3.7-2-.4z" color="#00d310"/>
<path d="M480.2 357.1l2 .3 2.5-3.7-2.1-.3z" color="#00d510"/>
<path d="M408 305.6l1.8 2.5 2.2-4.2-1.8-2.5zM409.8 308.1l1.8 2.4 2.2-4.2-1.8-2.4z" color="#fff000"/>
<path d="M411.6 310.5l1.8 2.3 2.1-4.1-1.7-2.4z" color="#a0fc00"/>
<path d="M413.4 312.8l1.7 2.3 2.2-4.1-1.8-2.3z" color="#52f306"/>
<path d="M415.1 315.1l1.8 2.3 2.2-4.1-1.8-2.3z" color="#2dea0b"/>
<path d="M416.9 317.4l1.8 2.2 2.2-4.1-1.8-2.2z" color="#00df10"/>
<path d="M418.7 319.6l1.7 2.2 2.2-4.1-1.7-2.2z" color="#00de10"/>
<path d="M420.4 321.8l1.8 2 2.2-4-1.8-2.1z" color="#00dd10"/>
<path d="M422.2 323.8l1.8 2.1 2.2-4.1-1.8-2z" color="#00da10"/>
<path d="M424 325.9l1.7 2 2.3-4.1-1.8-2z" color="#00d910"/>
<path d="M425.7 327.9l1.8 1.9 2.3-4-1.8-2z" color="#00d810"/>
<path d="M427.5 329.8l1.8 1.9 2.2-4-1.7-1.9z" color="#00d710"/>
<path d="M429.3 331.7l1.8 1.8 2.2-4-1.8-1.8z" color="#00d610"/>
<path d="M431.1 333.5l1.8 1.8 2.2-4-1.8-1.8z" color="#00d510"/>
<path d="M432.9 335.3l1.7 1.7 2.3-3.9-1.8-1.8z" color="#00d310"/>
<path d="M434.6 337l1.8 1.7 2.3-4-1.8-1.6z" color="#00d210"/>
<path d="M436.4 338.7l1.8 1.6 2.3-3.9-1.8-1.7zM438.2 340.3l1.8 1.6 2.3-4-1.8-1.5z" color="#00d110"/>
<path d="M440 341.9l1.8 1.5 2.3-3.9-1.8-1.6z" color="#00d010"/>
<path d="M441.8 343.4l1.9 1.4 2.3-3.9-1.9-1.4zM443.7 344.8l1.8 1.4 2.3-3.9-1.8-1.4z" color="#00be24"/>
<path d="M445.5 346.2l1.8 1.3 2.3-3.8-1.8-1.4zM447.3 347.5l1.8 1.3 2.4-3.8-1.9-1.3zM449.1 348.8l1.9 1.2 2.3-3.8-1.8-1.2z" color="#00ac37"/>
<path d="M451 350l1.8 1.2 2.4-3.8-1.9-1.2zM452.8 351.2l1.9 1.1 2.3-3.8-1.8-1.1zM454.7 352.3l1.8 1 2.4-3.8-1.9-1zM456.5 353.3l1.9 1 2.4-3.8-1.9-1zM458.4 354.3l1.9 .9 2.4-3.7-1.9-1zM460.3 355.2l1.9 .9 2.4-3.7-1.9-.9zM462.2 356.1l1.9 .8 2.4-3.7-1.9-.8zM464.1 356.9l1.9 .7 2.4-3.7-1.9-.7z" color="#009a4b"/>
<path d="M466 357.6l1.9 .7 2.4-3.7-1.9-.7zM467.9 358.3l2 .6 2.4-3.6-2-.7zM469.9 358.9l1.9 .6 2.4-3.7-1.9-.5z" color="#00ac37"/>
<path d="M471.8 359.5l2 .5 2.4-3.7-2-.5zM473.8 360l1.9 .4 2.5-3.6-2-.5z" color="#00be24"/>
<path d="M475.7 360.4l2 .3 2.5-3.6-2-.3z" color="#00d010"/>
<path d="M477.7 360.7l2 .3 2.5-3.6-2-.3z" color="#00d110"/>
<path d="M408 305.6l5.4 7.2 6.5-13.1-5.4-7.4zM413.4 312.8l5.3 6.8 6.6-12.9-5.4-7zM418.7 319.6l5.3 6.3 6.6-12.8-5.3-6.4zM424 325.9l5.3 5.8 6.7-12.6-5.4-6zM429.3 331.7l5.3 5.3 6.9-12.4-5.5-5.5zM434.6 337l5.4 4.9 6.9-12.4-5.4-4.9zM440 341.9l5.5 4.3 6.9-12.2-5.5-4.5zM445.5 346.2l5.5 3.8 7-12-5.6-4zM451 350l5.5 3.3 7.2-11.8-5.7-3.5zM456.5 353.3l5.7 2.8 7.2-11.7-5.7-2.9zM462.2 356.1l5.7 2.2 7.3-11.5-5.8-2.4zM467.9 358.3l5.9 1.7 7.3-11.4-5.9-1.8zM473.8 360l5.9 1 7.4-11.1-6-1.3z" class="m"/>
<path d="M405.9 309.6l1.8 2.5 2.1-4-1.8-2.5z" color="#a0fc00"/>
<path d="M407.7 312.1l1.7 2.4 2.2-4-1.8-2.4z" color="#52f306"/>
<path d="M409.4 314.5l1.8 2.3 2.2-4-1.8-2.3z" color="#09e20f"/>
<path d="M411.2 316.8l1.7 2.3 2.2-4-1.7-2.3z" color="#00df10"/>
<path d="M412.9 319.1l1.8 2.2 2.2-3.9-1.8-2.3z" color="#00dd10"/>
<path d="M414.7 321.3l1.8 2.2 2.2-3.9-1.8-2.2z" color="#00dc10"/>
<path d="M416.5 323.5l1.7 2.2 2.2-3.9-1.7-2.2z" color="#00d910"/>
<path d="M418.2 325.7l1.8 2 2.2-3.9-1.8-2z" color="#00d810"/>
<path d="M420 327.7l1.7 2.1 2.3-3.9-1.8-2.1z" color="#00d710"/>
<path d="M421.7 329.8l1.8 1.9 2.2-3.8-1.7-2z" color="#00d610"/>
<path d="M423.5 331.7l1.8 2 2.2-3.9-1.8-1.9z" color="#00d310"/>
<path d="M425.3 333.7l1.7 1.8 2.3-3.8-1.8-1.9z" color="#00d210"/>
<path d="M427 335.5l1.8 1.8 2.3-3.8-1.8-1.8z" color="#00d110"/>
<path d="M428.8 337.3l1.8 1.8 2.3-3.8-1.8-1.8zM430.6 339.1l1.8 1.7 2.2-3.8-1.7-1.7z" color="#00d010"/>
<path d="M432.4 340.8l1.8 1.7 2.2-3.8-1.8-1.7z" color="#00be24"/>
<path d="M434.2 342.5l1.8 1.6 2.2-3.8-1.8-1.6z" color="#00ac37"/>
<path d="M436 344.1l1.7 1.5 2.3-3.7-1.8-1.6zM437.7 345.6l1.8 1.5 2.3-3.7-1.8-1.5z" color="#009a4b"/>
<path d="M439.5 347.1l1.8 1.4 2.4-3.7-1.9-1.4zM441.3 348.5l1.9 1.4 2.3-3.7-1.8-1.4z" color="#00826d"/>
<path d="M443.2 349.9l1.8 1.3 2.3-3.7-1.8-1.3zM445 351.2l1.8 1.3 2.3-3.7-1.8-1.3zM446.8 352.5l1.8 1.2 2.4-3.7-1.9-1.2z" color="#006893"/>
<path d="M448.6 353.7l1.9 1.1 2.3-3.6-1.8-1.2zM450.5 354.8l1.8 1.1 2.4-3.6-1.9-1.1zM452.3 355.9l1.9 1 2.3-3.6-1.8-1zM454.2 356.9l1.8 1 2.4-3.6-1.9-1zM456 357.9l1.9 .9 2.4-3.6-1.9-.9zM457.9 358.8l1.9 .9 2.4-3.6-1.9-.9zM459.8 359.7l1.9 .7 2.4-3.5-1.9-.8z" color="#004eb6"/>
<path d="M461.7 360.4l1.9 .8 2.4-3.6-1.9-.7zM463.6 361.2l1.9 .6 2.4-3.5-1.9-.7zM465.5 361.8l1.9 .6 2.5-3.5-2-.6z" color="#006893"/>
<path d="M467.4 362.4l2 .6 2.4-3.5-1.9-.6zM469.4 363l1.9 .4 2.5-3.4-2-.5z" color="#00826d"/>
<path d="M471.3 363.4l2 .4 2.4-3.4-1.9-.4zM473.3 363.8l2 .4 2.4-3.5-2-.3z" color="#009a4b"/>
<path d="M475.3 364.2l2 .2 2.4-3.4-2-.3z" color="#00ac37"/>
<path d="M403.7 313.4l1.8 2.5 2.2-3.8-1.8-2.5z" color="#09e20f"/>
<path d="M405.5 315.9l1.7 2.3 2.2-3.7-1.7-2.4z" color="#00de10"/>
<path d="M407.2 318.2l1.8 2.4 2.2-3.8-1.8-2.3z" color="#00dd10"/>
<path d="M409 320.6l1.8 2.2 2.1-3.7-1.7-2.3z" color="#00da10"/>
<path d="M410.8 322.8l1.7 2.3 2.2-3.8-1.8-2.2z" color="#00d910"/>
<path d="M412.5 325.1l1.8 2.1 2.2-3.7-1.8-2.2z" color="#00d710"/>
<path d="M414.3 327.2l1.7 2.2 2.2-3.7-1.7-2.2z" color="#00d610"/>
<path d="M416 329.4l1.8 2 2.2-3.7-1.8-2z" color="#00d510"/>
<path d="M417.8 331.4l1.7 2.1 2.2-3.7-1.7-2.1z" color="#00d210"/>
<path d="M419.5 333.5l1.8 1.9 2.2-3.7-1.8-1.9z" color="#00d110"/>
<path d="M421.3 335.4l1.7 1.9 2.3-3.6-1.8-2z" color="#00d010"/>
<path d="M423 337.3l1.8 1.9 2.2-3.7-1.7-1.8z" color="#00be24"/>
<path d="M424.8 339.2l1.8 1.8 2.2-3.7-1.8-1.8z" color="#00ac37"/>
<path d="M426.6 341l1.7 1.7 2.3-3.6-1.8-1.8z" color="#009a4b"/>
<path d="M428.3 342.7l1.8 1.7 2.3-3.6-1.8-1.7z" color="#00826d"/>
<path d="M430.1 344.4l1.8 1.7 2.3-3.6-1.8-1.7zM431.9 346.1l1.8 1.6 2.3-3.6-1.8-1.6z" color="#006893"/>
<path d="M433.7 347.7l1.8 1.5 2.2-3.6-1.7-1.5zM435.5 349.2l1.7 1.5 2.3-3.6-1.8-1.5z" color="#004eb6"/>
<path d="M437.2 350.7l1.8 1.4 2.3-3.6-1.8-1.4zM439 352.1l1.8 1.3 2.4-3.5-1.9-1.4z" color="#0038ce"/>
<path d="M440.8 353.4l1.9 1.3 2.3-3.5-1.8-1.3zM442.7 354.7l1.8 1.3 2.3-3.5-1.8-1.3zM444.5 356l1.8 1.2 2.3-3.5-1.8-1.2z" color="#0021e6"/>
<path d="M446.3 357.2l1.8 1.1 2.4-3.5-1.9-1.1zM448.1 358.3l1.9 1.1 2.3-3.5-1.8-1.1zM450 359.4l1.8 1 2.4-3.5-1.9-1zM451.8 360.4l1.9 .9 2.3-3.4-1.8-1zM453.7 361.3l1.8 .9 2.4-3.4-1.9-.9zM455.5 362.2l1.9 .9 2.4-3.4-1.9-.9z" color="#000ff8"/>
<path d="M457.4 363.1l1.9 .7 2.4-3.4-1.9-.7zM459.3 363.8l1.9 .8 2.4-3.4-1.9-.8zM461.2 364.6l1.9 .6 2.4-3.4-1.9-.6z" color="#0021e6"/>
<path d="M463.1 365.2l1.9 .6 2.4-3.4-1.9-.6zM465 365.8l2 .5 2.4-3.3-2-.6zM467 366.3l1.9 .4 2.4-3.3-1.9-.4z" color="#0038ce"/>
<path d="M468.9 366.7l2 .4 2.4-3.3-2-.4z" color="#004eb6"/>
<path d="M470.9 367.1l1.9 .3 2.5-3.2-2-.4zM472.8 367.4l2 .3 2.5-3.3-2-.2z" color="#006893"/>
<path d="M401.6 317l1.7 2.5 2.2-3.6-1.8-2.5z" color="#00dd10"/>
<path d="M403.3 319.5l1.8 2.3 2.1-3.6-1.7-2.3z" color="#00da10"/>
<path d="M405.1 321.8l1.7 2.4 2.2-3.6-1.8-2.4z" color="#00d810"/>
<path d="M406.8 324.2l1.8 2.2 2.2-3.6-1.8-2.2z" color="#00d710"/>
<path d="M408.6 326.4l1.7 2.2 2.2-3.5-1.7-2.3z" color="#00d510"/>
<path d="M410.3 328.6l1.8 2.2 2.2-3.6-1.8-2.1z" color="#00d310"/>
<path d="M412.1 330.8l1.7 2.1 2.2-3.5-1.7-2.2z" color="#00d210"/>
<path d="M413.8 332.9l1.8 2.1 2.2-3.6-1.8-2z" color="#00d010"/>
<path d="M415.6 335l1.7 2 2.2-3.5-1.7-2.1z" color="#00be24"/>
<path d="M417.3 337l1.8 1.9 2.2-3.5-1.8-1.9z" color="#00ac37"/>
<path d="M419.1 338.9l1.7 1.9 2.2-3.5-1.7-1.9z" color="#009a4b"/>
<path d="M420.8 340.8l1.8 1.9 2.2-3.5-1.8-1.9z" color="#00826d"/>
<path d="M422.6 342.7l1.7 1.8 2.3-3.5-1.8-1.8z" color="#006893"/>
<path d="M424.3 344.5l1.8 1.7 2.2-3.5-1.7-1.7z" color="#004eb6"/>
<path d="M426.1 346.2l1.7 1.7 2.3-3.5-1.8-1.7z" color="#0038ce"/>
<path d="M427.8 347.9l1.8 1.6 2.3-3.4-1.8-1.7zM429.6 349.5l1.8 1.6 2.3-3.4-1.8-1.6z" color="#0021e6"/>
<path d="M431.4 351.1l1.8 1.5 2.3-3.4-1.8-1.5zM433.2 352.6l1.8 1.5 2.2-3.4-1.7-1.5z" color="#000ff8"/>
<path d="M435 354.1l1.7 1.4 2.3-3.4-1.8-1.4zM436.7 355.5l1.8 1.3 2.3-3.4-1.8-1.3z" color="#000bfa"/>
<path d="M438.5 356.8l1.8 1.3 2.4-3.4-1.9-1.3zM440.3 358.1l1.8 1.2 2.4-3.3-1.8-1.3zM442.1 359.3l1.9 1.2 2.3-3.3-1.8-1.2zM444 360.5l1.8 1.1 2.3-3.3-1.8-1.1z" color="#0006fc"/>
<path d="M445.8 361.6l1.8 1.1 2.4-3.3-1.9-1.1zM447.6 362.7l1.9 1 2.3-3.3-1.8-1zM449.5 363.7l1.8 .9 2.4-3.3-1.9-.9z" color="#0002fe"/>
<path d="M451.3 364.6l1.9 .9 2.3-3.3-1.8-.9zM453.2 365.5l1.8 .8 2.4-3.2-1.9-.9zM455 366.3l1.9 .8 2.4-3.3-1.9-.7zM456.9 367.1l1.9 .7 2.4-3.2-1.9-.8z" color="#0006fc"/>
<path d="M458.8 367.8l1.9 .6 2.4-3.2-1.9-.6zM460.7 368.4l1.9 .6 2.4-3.2-1.9-.6zM462.6 369l1.9 .5 2.5-3.2-2-.5z" color="#000bfa"/>
<path d="M464.5 369.5l2 .4 2.4-3.2-1.9-.4z" color="#000ff8"/>
<path d="M466.5 369.9l1.9 .4 2.5-3.2-2-.4zM468.4 370.3l2 .3 2.4-3.2-1.9-.3z" color="#0021e6"/>
<path d="M470.4 370.6l2 .2 2.4-3.1-2-.3z" color="#0038ce"/>
<path d="M401.6 317l5.2 7.2 6.6-11.4-5.4-7.2zM406.8 324.2l5.3 6.6 6.6-11.2-5.3-6.8zM412.1 330.8l5.2 6.2 6.7-11.1-5.3-6.3zM417.3 337l5.3 5.7 6.7-11-5.3-5.8zM422.6 342.7l5.2 5.2 6.8-10.9-5.3-5.3zM427.8 347.9l5.4 4.7 6.8-10.7-5.4-4.9zM433.2 352.6l5.3 4.2 7-10.6-5.5-4.3zM438.5 356.8l5.5 3.7 7-10.5-5.5-3.8zM444 360.5l5.5 3.2 7-10.4-5.5-3.3zM449.5 363.7l5.5 2.6 7.2-10.2-5.7-2.8zM455 366.3l5.7 2.1 7.2-10.1-5.7-2.2zM460.7 368.4l5.8 1.5 7.3-9.9-5.9-1.7zM466.5 369.9l5.9 .9 7.3-9.8-5.9-1z" class="m"/>
<path d="M399.4 320.5l1.7 2.4 2.2-3.4-1.7-2.5z" color="#00d810"/>
<path d="M401.1 322.9l1.8 2.3 2.2-3.4-1.8-2.3z" color="#00d710"/>
<path d="M402.9 325.2l1.7 2.4 2.2-3.4-1.7-2.4z" color="#00d510"/>
<path d="M404.6 327.6l1.8 2.2 2.2-3.4-1.8-2.2z" color="#00d310"/>
<path d="M406.4 329.8l1.7 2.2 2.2-3.4-1.7-2.2z" color="#00d110"/>
<path d="M408.1 332l1.8 2.2 2.2-3.4-1.8-2.2z" color="#00d010"/>
<path d="M409.9 334.2l1.7 2.1 2.2-3.4-1.7-2.1z" color="#00be24"/>
<path d="M411.6 336.3l1.7 2 2.3-3.3-1.8-2.1z" color="#009a4b"/>
<path d="M413.3 338.3l1.8 2 2.2-3.3-1.7-2z" color="#00826d"/>
<path d="M415.1 340.3l1.7 2 2.3-3.4-1.8-1.9z" color="#006893"/>
<path d="M416.8 342.3l1.8 1.8 2.2-3.3-1.7-1.9z" color="#004eb6"/>
<path d="M418.6 344.1l1.7 1.9 2.3-3.3-1.8-1.9z" color="#0038ce"/>
<path d="M420.3 346l1.8 1.8 2.2-3.3-1.7-1.8z" color="#0021e6"/>
<path d="M422.1 347.8l1.7 1.7 2.3-3.3-1.8-1.7z" color="#000ff8"/>
<path d="M423.8 349.5l1.8 1.7 2.2-3.3-1.7-1.7zM425.6 351.2l1.7 1.6 2.3-3.3-1.8-1.6z" color="#000bfa"/>
<path d="M427.3 352.8l1.8 1.5 2.3-3.2-1.8-1.6z" color="#0006fc"/>
<path d="M429.1 354.3l1.8 1.6 2.3-3.3-1.8-1.5zM430.9 355.9l1.8 1.4 2.3-3.2-1.8-1.5z" color="#0002fe"/>
<path d="M432.7 357.3l1.7 1.4 2.3-3.2-1.7-1.4zM434.4 358.7l1.8 1.3 2.3-3.2-1.8-1.3zM436.2 360l1.8 1.3 2.3-3.2-1.8-1.3z" color="#0000fa"/>
<path d="M438 361.3l1.8 1.2 2.3-3.2-1.8-1.2zM439.8 362.5l1.8 1.2 2.4-3.2-1.9-1.2zM441.6 363.7l1.8 1.1 2.4-3.2-1.8-1.1zM443.4 364.8l1.9 1.1 2.3-3.2-1.8-1.1zM445.3 365.9l1.8 1 2.4-3.2-1.9-1zM447.1 366.9l1.8 .9 2.4-3.2-1.8-.9zM448.9 367.8l1.9 .9 2.4-3.2-1.9-.9zM450.8 368.7l1.9 .8 2.3-3.2-1.8-.8zM452.7 369.5l1.8 .7 2.4-3.1-1.9-.8z" color="#0000f1"/>
<path d="M454.5 370.2l1.9 .7 2.4-3.1-1.9-.7zM456.4 370.9l1.9 .6 2.4-3.1-1.9-.6z" color="#0000fa"/>
<path d="M458.3 371.5l1.9 .6 2.4-3.1-1.9-.6zM460.2 372.1l1.9 .4 2.4-3-1.9-.5z" color="#0002fe"/>
<path d="M462.1 372.5l1.9 .5 2.5-3.1-2-.4zM464 373l2 .3 2.4-3-1.9-.4z" color="#0006fc"/>
<path d="M466 373.3l1.9 .3 2.5-3-2-.3z" color="#000bfa"/>
<path d="M467.9 373.6l2 .2 2.5-3-2-.2z" color="#000ff8"/>
<path d="M397.2 323.7l1.8 2.4 2.1-3.2-1.7-2.4z" color="#00d510"/>
<path d="M399 326.1l1.7 2.4 2.2-3.3-1.8-2.3z" color="#00d310"/>
<path d="M400.7 328.5l1.7 2.3 2.2-3.2-1.7-2.4z" color="#00d110"/>
<path d="M402.4 330.8l1.8 2.2 2.2-3.2-1.8-2.2z" color="#00d010"/>
<path d="M404.2 333l1.7 2.2 2.2-3.2-1.7-2.2z" color="#00ac37"/>
<path d="M405.9 335.2l1.7 2.2 2.3-3.2-1.8-2.2z" color="#009a4b"/>
<path d="M407.6 337.4l1.8 2.1 2.2-3.2-1.7-2.1z" color="#00826d"/>
<path d="M409.4 339.5l1.7 2 2.2-3.2-1.7-2z" color="#004eb6"/>
<path d="M411.1 341.5l1.7 2 2.3-3.2-1.8-2z" color="#0038ce"/>
<path d="M412.8 343.5l1.8 1.9 2.2-3.1-1.7-2z" color="#0021e6"/>
<path d="M414.6 345.4l1.7 1.9 2.3-3.2-1.8-1.8z" color="#000ff8"/>
<path d="M416.3 347.3l1.8 1.8 2.2-3.1-1.7-1.9z" color="#000bfa"/>
<path d="M418.1 349.1l1.7 1.8 2.3-3.1-1.8-1.8z" color="#0006fc"/>
<path d="M419.8 350.9l1.8 1.7 2.2-3.1-1.7-1.7zM421.6 352.6l1.7 1.7 2.3-3.1-1.8-1.7z" color="#0002fe"/>
<path d="M423.3 354.3l1.8 1.6 2.2-3.1-1.7-1.6z" color="#0000fa"/>
<path d="M425.1 355.9l1.7 1.6 2.3-3.2-1.8-1.5zM426.8 357.5l1.8 1.5 2.3-3.1-1.8-1.6z" color="#0000f1"/>
<path d="M428.6 359l1.8 1.4 2.3-3.1-1.8-1.4zM430.4 360.4l1.7 1.4 2.3-3.1-1.7-1.4z" color="#0000e8"/>
<path d="M432.1 361.8l1.8 1.3 2.3-3.1-1.8-1.3zM433.9 363.1l1.8 1.3 2.3-3.1-1.8-1.3zM435.7 364.4l1.8 1.2 2.3-3.1-1.8-1.2zM437.5 365.6l1.8 1.2 2.3-3.1-1.8-1.2z" color="#0000df"/>
<path d="M439.3 366.8l1.8 1.1 2.3-3.1-1.8-1.1zM441.1 367.9l1.8 1 2.4-3-1.9-1.1zM442.9 368.9l1.8 1 2.4-3-1.8-1zM444.7 369.9l1.9 .9 2.3-3-1.8-.9z" color="#0000d6"/>
<path d="M446.6 370.8l1.8 .8 2.4-2.9-1.9-.9zM448.4 371.6l1.9 .8 2.4-2.9-1.9-.8zM450.3 372.4l1.8 .8 2.4-3-1.8-.7zM452.1 373.2l1.9 .6 2.4-2.9-1.9-.7z" color="#0000df"/>
<path d="M454 373.8l1.9 .6 2.4-2.9-1.9-.6zM455.9 374.4l1.9 .6 2.4-2.9-1.9-.6z" color="#0000e8"/>
<path d="M457.8 375l1.9 .5 2.4-3-1.9-.4zM459.7 375.5l1.9 .4 2.4-2.9-1.9-.5z" color="#0000f1"/>
<path d="M461.6 375.9l1.9 .3 2.5-2.9-2-.3z" color="#0000fa"/>
<path d="M463.5 376.2l2 .3 2.4-2.9-1.9-.3z" color="#0002fe"/>
<path d="M465.5 376.5l2 .2 2.4-2.9-2-.2z" color="#0006fc"/>
<path d="M395 326.8l1.8 2.4 2.2-3.1-1.8-2.4z" color="#00d210"/>
<path d="M396.8 329.2l1.7 2.4 2.2-3.1-1.7-2.4z" color="#00d010"/>
<path d="M398.5 331.6l1.7 2.2 2.2-3-1.7-2.3z" color="#00ac37"/>
<path d="M400.2 333.8l1.8 2.3 2.2-3.1-1.8-2.2z" color="#009a4b"/>
<path d="M402 336.1l1.7 2.2 2.2-3.1-1.7-2.2z" color="#00826d"/>
<path d="M403.7 338.3l1.7 2.1 2.2-3-1.7-2.2z" color="#004eb6"/>
<path d="M405.4 340.4l1.8 2.1 2.2-3-1.8-2.1z" color="#0038ce"/>
<path d="M407.2 342.5l1.7 2 2.2-3-1.7-2z" color="#0021e6"/>
<path d="M408.9 344.5l1.7 2 2.2-3-1.7-2z" color="#000ff8"/>
<path d="M410.6 346.5l1.7 1.9 2.3-3-1.8-1.9z" color="#0006fc"/>
<path d="M412.3 348.4l1.8 1.9 2.2-3-1.7-1.9zM414.1 350.3l1.7 1.8 2.3-3-1.8-1.8z" color="#0002fe"/>
<path d="M415.8 352.1l1.8 1.8 2.2-3-1.7-1.8z" color="#0000fa"/>
<path d="M417.6 353.9l1.7 1.7 2.3-3-1.8-1.7z" color="#0000f1"/>
<path d="M419.3 355.6l1.7 1.7 2.3-3-1.7-1.7z" color="#0000e8"/>
<path d="M421 357.3l1.8 1.6 2.3-3-1.8-1.6zM422.8 358.9l1.7 1.5 2.3-2.9-1.7-1.6z" color="#0000df"/>
<path d="M424.5 360.4l1.8 1.5 2.3-2.9-1.8-1.5zM426.3 361.9l1.8 1.4 2.3-2.9-1.8-1.4z" color="#0000d6"/>
<path d="M428.1 363.3l1.7 1.4 2.3-2.9-1.7-1.4zM429.8 364.7l1.8 1.3 2.3-2.9-1.8-1.3zM431.6 366l1.8 1.3 2.3-2.9-1.8-1.3z" color="#0000cc"/>
<path d="M433.4 367.3l1.8 1.2 2.3-2.9-1.8-1.2zM435.2 368.5l1.8 1.2 2.3-2.9-1.8-1.2zM437 369.7l1.8 1 2.3-2.8-1.8-1.1zM438.8 370.7l1.8 1.1 2.3-2.9-1.8-1zM440.6 371.8l1.8 .9 2.3-2.8-1.8-1zM442.4 372.7l1.8 .9 2.4-2.8-1.9-.9zM444.2 373.6l1.9 .9 2.3-2.9-1.8-.8z" color="#0000c3"/>
<path d="M446.1 374.5l1.8 .8 2.4-2.9-1.9-.8zM447.9 375.3l1.9 .7 2.3-2.8-1.8-.8zM449.8 376l1.8 .7 2.4-2.9-1.9-.6z" color="#0000cc"/>
<path d="M451.6 376.7l1.9 .6 2.4-2.9-1.9-.6zM453.5 377.3l1.9 .5 2.4-2.8-1.9-.6z" color="#0000d6"/>
<path d="M455.4 377.8l1.9 .4 2.4-2.7-1.9-.5zM457.3 378.2l1.9 .4 2.4-2.7-1.9-.4z" color="#0000df"/>
<path d="M459.2 378.6l1.9 .4 2.4-2.8-1.9-.3z" color="#0000e8"/>
<path d="M461.1 379l2 .2 2.4-2.7-2-.3z" color="#0000f1"/>
<path d="M463.1 379.2l1.9 .2 2.5-2.7-2-.2z" color="#0000fa"/>
<path d="M395 326.8l5.2 7 6.6-9.6-5.2-7.2zM400.2 333.8l5.2 6.6 6.7-9.6-5.3-6.6zM405.4 340.4l5.2 6.1 6.7-9.5-5.2-6.2zM410.6 346.5l5.2 5.6 6.8-9.4-5.3-5.7zM415.8 352.1l5.2 5.2 6.8-9.4-5.2-5.2zM421 357.3l5.3 4.6 6.9-9.3-5.4-4.7zM426.3 361.9l5.3 4.1 6.9-9.2-5.3-4.2zM431.6 366l5.4 3.7 7-9.2-5.5-3.7zM437 369.7l5.4 3 7.1-9-5.5-3.2zM442.4 372.7l5.5 2.6 7.1-9-5.5-2.6zM447.9 375.3l5.6 2 7.2-8.9-5.7-2.1zM453.5 377.3l5.7 1.3 7.3-8.7-5.8-1.5zM459.2 378.6l5.8 .8 7.4-8.6-5.9-.9z" class="m"/>
<path d="M392.9 329.7l1.7 2.4 2.2-2.9-1.8-2.4z" color="#00be24"/>
<path d="M394.6 332.1l1.7 2.4 2.2-2.9-1.7-2.4z" color="#009a4b"/>
<path d="M396.3 334.5l1.7 2.3 2.2-3-1.7-2.2z" color="#00826d"/>
<path d="M398 336.8l1.8 2.2 2.2-2.9-1.8-2.3z" color="#004eb6"/>
<path d="M399.8 339l1.7 2.2 2.2-2.9-1.7-2.2z" color="#0038ce"/>
<path d="M401.5 341.2l1.7 2.1 2.2-2.9-1.7-2.1z" color="#0021e6"/>
<path d="M403.2 343.3l1.7 2.1 2.3-2.9-1.8-2.1z" color="#000bfa"/>
<path d="M404.9 345.4l1.7 2 2.3-2.9-1.7-2z" color="#0006fc"/>
<path d="M406.6 347.4l1.8 2 2.2-2.9-1.7-2z" color="#0002fe"/>
<path d="M408.4 349.4l1.7 1.9 2.2-2.9-1.7-1.9z" color="#0000fa"/>
<path d="M410.1 351.3l1.7 1.9 2.3-2.9-1.8-1.9z" color="#0000f1"/>
<path d="M411.8 353.2l1.8 1.8 2.2-2.9-1.7-1.8z" color="#0000e8"/>
<path d="M413.6 355l1.7 1.7 2.3-2.8-1.8-1.8z" color="#0000df"/>
<path d="M415.3 356.7l1.7 1.7 2.3-2.8-1.7-1.7zM417 358.4l1.8 1.7 2.2-2.8-1.7-1.7z" color="#0000d6"/>
<path d="M418.8 360.1l1.7 1.6 2.3-2.8-1.8-1.6z" color="#0000cc"/>
<path d="M420.5 361.7l1.7 1.5 2.3-2.8-1.7-1.5zM422.2 363.2l1.8 1.5 2.3-2.8-1.8-1.5z" color="#0000c3"/>
<path d="M424 364.7l1.8 1.4 2.3-2.8-1.8-1.4zM425.8 366.1l1.7 1.4 2.3-2.8-1.7-1.4zM427.5 367.5l1.8 1.3 2.3-2.8-1.8-1.3z" color="#0000ba"/>
<path d="M429.3 368.8l1.8 1.3 2.3-2.8-1.8-1.3zM431.1 370.1l1.7 1.2 2.4-2.8-1.8-1.2zM432.8 371.3l1.8 1.1 2.4-2.7-1.8-1.2zM434.6 372.4l1.8 1.1 2.4-2.8-1.8-1zM436.4 373.5l1.8 1 2.4-2.7-1.8-1.1zM438.2 374.5l1.8 1 2.4-2.8-1.8-.9zM440 375.5l1.8 .9 2.4-2.8-1.8-.9zM441.8 376.4l1.9 .8 2.4-2.7-1.9-.9z" color="#0000b5"/>
<path d="M443.7 377.2l1.8 .8 2.4-2.7-1.8-.8zM445.5 378l1.9 .7 2.4-2.7-1.9-.7zM447.4 378.7l1.8 .6 2.4-2.6-1.8-.7z" color="#0000ba"/>
<path d="M449.2 379.3l1.9 .6 2.4-2.6-1.9-.6zM451.1 379.9l1.9 .5 2.4-2.6-1.9-.5z" color="#0000c3"/>
<path d="M453 380.4l1.9 .5 2.4-2.7-1.9-.4zM454.9 380.9l1.9 .4 2.4-2.7-1.9-.4z" color="#0000cc"/>
<path d="M456.8 381.3l1.9 .3 2.4-2.6-1.9-.4z" color="#0000d6"/>
<path d="M458.7 381.6l1.9 .3 2.5-2.7-2-.2z" color="#0000df"/>
<path d="M460.6 381.9l2 .1 2.4-2.6-1.9-.2z" color="#0000e8"/>
<path d="M390.7 332.5l1.7 2.4 2.2-2.8-1.7-2.4z" color="#009a4b"/>
<path d="M392.4 334.9l1.7 2.3 2.2-2.7-1.7-2.4z" color="#006893"/>
<path d="M394.1 337.2l1.7 2.3 2.2-2.7-1.7-2.3z" color="#0038ce"/>
<path d="M395.8 339.5l1.7 2.2 2.3-2.7-1.8-2.2z" color="#0021e6"/>
<path d="M397.5 341.7l1.8 2.2 2.2-2.7-1.7-2.2z" color="#000ff8"/>
<path d="M399.3 343.9l1.7 2.1 2.2-2.7-1.7-2.1z" color="#0006fc"/>
<path d="M401 346l1.7 2.1 2.2-2.7-1.7-2.1z" color="#0002fe"/>
<path d="M402.7 348.1l1.7 2 2.2-2.7-1.7-2z" color="#0000fa"/>
<path d="M404.4 350.1l1.7 2 2.3-2.7-1.8-2z" color="#0000f1"/>
<path d="M406.1 352.1l1.7 1.9 2.3-2.7-1.7-1.9z" color="#0000e8"/>
<path d="M407.8 354l1.8 1.9 2.2-2.7-1.7-1.9z" color="#0000df"/>
<path d="M409.6 355.9l1.7 1.8 2.3-2.7-1.8-1.8z" color="#0000d6"/>
<path d="M411.3 357.7l1.7 1.7 2.3-2.7-1.7-1.7z" color="#0000cc"/>
<path d="M413 359.4l1.7 1.7 2.3-2.7-1.7-1.7z" color="#0000c3"/>
<path d="M414.7 361.1l1.8 1.7 2.3-2.7-1.8-1.7zM416.5 362.8l1.7 1.6 2.3-2.7-1.7-1.6z" color="#0000ba"/>
<path d="M418.2 364.4l1.8 1.5 2.2-2.7-1.7-1.5zM420 365.9l1.7 1.5 2.3-2.7-1.8-1.5z" color="#0000b5"/>
<path d="M421.7 367.4l1.7 1.4 2.4-2.7-1.8-1.4zM423.4 368.8l1.8 1.4 2.3-2.7-1.7-1.4zM425.2 370.2l1.8 1.3 2.3-2.7-1.8-1.3z" color="#0000b1"/>
<path d="M427 371.5l1.7 1.2 2.4-2.6-1.8-1.3zM428.7 372.7l1.8 1.2 2.3-2.6-1.7-1.2zM430.5 373.9l1.8 1.1 2.3-2.6-1.8-1.1zM432.3 375l1.8 1.1 2.3-2.6-1.8-1.1zM434.1 376.1l1.8 1 2.3-2.6-1.8-1zM435.9 377.1l1.8 1 2.3-2.6-1.8-1zM437.7 378.1l1.8 .9 2.3-2.6-1.8-.9zM439.5 379l1.8 .8 2.4-2.6-1.9-.8z" color="#0000ac"/>
<path d="M441.3 379.8l1.8 .8 2.4-2.6-1.8-.8zM443.1 380.6l1.9 .7 2.4-2.6-1.9-.7zM445 381.3l1.8 .6 2.4-2.6-1.8-.6z" color="#0000b1"/>
<path d="M446.8 381.9l1.9 .6 2.4-2.6-1.9-.6zM448.7 382.5l1.9 .5 2.4-2.6-1.9-.5z" color="#0000b5"/>
<path d="M450.6 383l1.8 .4 2.5-2.5-1.9-.5z" color="#0000ba"/>
<path d="M452.4 383.4l1.9 .4 2.5-2.5-1.9-.4zM454.3 383.8l1.9 .3 2.5-2.5-1.9-.3z" color="#0000c3"/>
<path d="M456.2 384.1l2 .2 2.4-2.4-1.9-.3z" color="#0000cc"/>
<path d="M458.2 384.3l1.9 .2 2.5-2.5-2-.1z" color="#0000d6"/>
<path d="M388.4 335.1l1.8 2.4 2.2-2.6-1.7-2.4z" color="#004eb6"/>
<path d="M390.2 337.5l1.7 2.3 2.2-2.6-1.7-2.3z" color="#0038ce"/>
<path d="M391.9 339.8l1.7 2.3 2.2-2.6-1.7-2.3z" color="#000ff8"/>
<path d="M393.6 342.1l1.7 2.2 2.2-2.6-1.7-2.2z" color="#000bfa"/>
<path d="M395.3 344.3l1.7 2.2 2.3-2.6-1.8-2.2z" color="#0002fe"/>
<path d="M397 346.5l1.7 2.1 2.3-2.6-1.7-2.1z" color="#0000fa"/>
<path d="M398.7 348.6l1.7 2.1 2.3-2.6-1.7-2.1z" color="#0000f1"/>
<path d="M400.4 350.7l1.8 2 2.2-2.6-1.7-2z" color="#0000e8"/>
<path d="M402.2 352.7l1.7 2 2.2-2.6-1.7-2z" color="#0000df"/>
<path d="M403.9 354.7l1.7 1.9 2.2-2.6-1.7-1.9z" color="#0000d6"/>
<path d="M405.6 356.6l1.7 1.8 2.3-2.5-1.8-1.9z" color="#0000cc"/>
<path d="M407.3 358.4l1.7 1.9 2.3-2.6-1.7-1.8z" color="#0000c3"/>
<path d="M409 360.3l1.7 1.7 2.3-2.6-1.7-1.7z" color="#0000ba"/>
<path d="M410.7 362l1.8 1.7 2.2-2.6-1.7-1.7z" color="#0000b5"/>
<path d="M412.5 363.7l1.7 1.6 2.3-2.5-1.8-1.7zM414.2 365.3l1.7 1.6 2.3-2.5-1.7-1.6z" color="#0000b1"/>
<path d="M415.9 366.9l1.8 1.5 2.3-2.5-1.8-1.5zM417.7 368.4l1.7 1.5 2.3-2.5-1.7-1.5z" color="#0000ac"/>
<path d="M419.4 369.9l1.7 1.4 2.3-2.5-1.7-1.4zM421.1 371.3l1.8 1.4 2.3-2.5-1.8-1.4zM422.9 372.7l1.7 1.3 2.4-2.5-1.8-1.3z" color="#0000a8"/>
<path d="M424.6 374l1.8 1.2 2.3-2.5-1.7-1.2zM426.4 375.2l1.8 1.2 2.3-2.5-1.8-1.2zM428.2 376.4l1.7 1.1 2.4-2.5-1.8-1.1zM429.9 377.5l1.8 1.1 2.4-2.5-1.8-1.1zM431.7 378.6l1.8 1 2.4-2.5-1.8-1zM433.5 379.6l1.8 .9 2.4-2.4-1.8-1zM435.3 380.5l1.8 .9 2.4-2.4-1.8-.9z" color="#0000a3"/>
<path d="M437.1 381.4l1.8 .8 2.4-2.4-1.8-.8zM438.9 382.2l1.8 .8 2.4-2.4-1.8-.8zM440.7 383l1.9 .7 2.4-2.4-1.9-.7z" color="#0000a8"/>
<path d="M442.6 383.7l1.8 .6 2.4-2.4-1.8-.6zM444.4 384.3l1.9 .6 2.4-2.4-1.9-.6z" color="#0000ac"/>
<path d="M446.3 384.9l1.8 .5 2.5-2.4-1.9-.5zM448.1 385.4l1.9 .4 2.4-2.4-1.8-.4z" color="#0000b1"/>
<path d="M450 385.8l1.9 .4 2.4-2.4-1.9-.4z" color="#0000b5"/>
<path d="M451.9 386.2l1.9 .3 2.4-2.4-1.9-.3z" color="#0000ba"/>
<path d="M453.8 386.5l1.9 .2 2.5-2.4-2-.2z" color="#0000c3"/>
<path d="M455.7 386.7l1.9 .2 2.5-2.4-1.9-.2z" color="#0000cc"/>
<path d="M388.4 335.1l5.2 7 6.6-8.3-5.2-7zM393.6 342.1l5.1 6.5 6.7-8.2-5.2-6.6zM398.7 348.6l5.2 6.1 6.7-8.2-5.2-6.1zM403.9 354.7l5.1 5.6 6.8-8.2-5.2-5.6zM409 360.3l5.2 5 6.8-8-5.2-5.2zM414.2 365.3l5.2 4.6 6.9-8-5.3-4.6zM419.4 369.9l5.2 4.1 7-8-5.3-4.1zM424.6 374l5.3 3.5 7.1-7.8-5.4-3.7zM429.9 377.5l5.4 3 7.1-7.8-5.4-3zM435.3 380.5l5.4 2.5 7.2-7.7-5.5-2.6zM440.7 383l5.6 1.9 7.2-7.6-5.6-2zM446.3 384.9l5.6 1.3 7.3-7.6-5.7-1.3zM451.9 386.2l5.7 .7 7.4-7.5-5.8-.8z" class="m"/>
<path d="M386.2 337.6l1.7 2.4 2.3-2.5-1.8-2.4z" color="#0021e6"/>
<path d="M387.9 340l1.7 2.3 2.3-2.5-1.7-2.3z" color="#000ff8"/>
<path d="M389.6 342.3l1.8 2.3 2.2-2.5-1.7-2.3z" color="#0006fc"/>
<path d="M391.4 344.6l1.7 2.2 2.2-2.5-1.7-2.2z" color="#0002fe"/>
<path d="M393.1 346.8l1.7 2.2 2.2-2.5-1.7-2.2z" color="#0000f1"/>
<path d="M394.8 349l1.7 2.1 2.2-2.5-1.7-2.1z" color="#0000e8"/>
<path d="M396.5 351.1l1.7 2 2.2-2.4-1.7-2.1z" color="#0000df"/>
<path d="M398.2 353.1l1.7 2.1 2.3-2.5-1.8-2z" color="#0000d6"/>
<path d="M399.9 355.2l1.7 1.9 2.3-2.4-1.7-2z" color="#0000cc"/>
<path d="M401.6 357.1l1.7 1.9 2.3-2.4-1.7-1.9z" color="#0000c3"/>
<path d="M403.3 359l1.7 1.9 2.3-2.5-1.7-1.8z" color="#0000ba"/>
<path d="M405 360.9l1.7 1.8 2.3-2.4-1.7-1.9z" color="#0000b5"/>
<path d="M406.7 362.7l1.8 1.7 2.2-2.4-1.7-1.7z" color="#0000b1"/>
<path d="M408.5 364.4l1.7 1.7 2.3-2.4-1.8-1.7zM410.2 366.1l1.7 1.6 2.3-2.4-1.7-1.6z" color="#0000ac"/>
<path d="M411.9 367.7l1.7 1.6 2.3-2.4-1.7-1.6z" color="#0000a8"/>
<path d="M413.6 369.3l1.7 1.5 2.4-2.4-1.8-1.5zM415.3 370.8l1.8 1.5 2.3-2.4-1.7-1.5z" color="#0000a3"/>
<path d="M417.1 372.3l1.7 1.4 2.3-2.4-1.7-1.4zM418.8 373.7l1.8 1.4 2.3-2.4-1.8-1.4zM420.6 375.1l1.7 1.3 2.3-2.4-1.7-1.3zM422.3 376.4l1.8 1.2 2.3-2.4-1.8-1.2z" color="#00009f"/>
<path d="M424.1 377.6l1.7 1.2 2.4-2.4-1.8-1.2zM425.8 378.8l1.8 1.1 2.3-2.4-1.7-1.1zM427.6 379.9l1.8 1.1 2.3-2.4-1.8-1.1zM429.4 381l1.7 1 2.4-2.4-1.8-1z" color="#00009a"/>
<path d="M431.1 382l1.8 .9 2.4-2.4-1.8-.9zM432.9 382.9l1.8 .9 2.4-2.4-1.8-.9zM434.7 383.8l1.8 .8 2.4-2.4-1.8-.8zM436.5 384.6l1.8 .7 2.4-2.3-1.8-.8z" color="#00009f"/>
<path d="M438.3 385.3l1.9 .7 2.4-2.3-1.9-.7zM440.2 386l1.8 .6 2.4-2.3-1.8-.6z" color="#0000a3"/>
<path d="M442 386.6l1.9 .6 2.4-2.3-1.9-.6zM443.9 387.2l1.8 .5 2.4-2.3-1.8-.5z" color="#0000a8"/>
<path d="M445.7 387.7l1.9 .4 2.4-2.3-1.9-.4z" color="#0000ac"/>
<path d="M447.6 388.1l1.9 .4 2.4-2.3-1.9-.4zM449.5 388.5l1.9 .2 2.4-2.2-1.9-.3z" color="#0000b1"/>
<path d="M451.4 388.7l1.9 .3 2.4-2.3-1.9-.2z" color="#0000b5"/>
<path d="M453.3 389l1.9 .1 2.4-2.2-1.9-.2z" color="#0000ba"/>
<path d="M384 339.9l1.7 2.4 2.2-2.3-1.7-2.4z" color="#000bfa"/>
<path d="M385.7 342.3l1.7 2.3 2.2-2.3-1.7-2.3z" color="#0006fc"/>
<path d="M387.4 344.6l1.7 2.3 2.3-2.3-1.8-2.3z" color="#0000fa"/>
<path d="M389.1 346.9l1.7 2.2 2.3-2.3-1.7-2.2z" color="#0000f1"/>
<path d="M390.8 349.1l1.7 2.2 2.3-2.3-1.7-2.2z" color="#0000df"/>
<path d="M392.5 351.3l1.7 2.1 2.3-2.3-1.7-2.1z" color="#0000d6"/>
<path d="M394.2 353.4l1.7 2.1 2.3-2.4-1.7-2z" color="#0000cc"/>
<path d="M395.9 355.5l1.7 2 2.3-2.3-1.7-2.1z" color="#0000c3"/>
<path d="M397.6 357.5l1.7 1.9 2.3-2.3-1.7-1.9z" color="#0000ba"/>
<path d="M399.3 359.4l1.7 1.9 2.3-2.3-1.7-1.9z" color="#0000b5"/>
<path d="M401 361.3l1.7 1.9 2.3-2.3-1.7-1.9z" color="#0000b1"/>
<path d="M402.7 363.2l1.7 1.8 2.3-2.3-1.7-1.8z" color="#0000ac"/>
<path d="M404.4 365l1.8 1.7 2.3-2.3-1.8-1.7z" color="#0000a8"/>
<path d="M406.2 366.7l1.7 1.7 2.3-2.3-1.7-1.7zM407.9 368.4l1.7 1.6 2.3-2.3-1.7-1.6z" color="#0000a3"/>
<path d="M409.6 370l1.7 1.6 2.3-2.3-1.7-1.6zM411.3 371.6l1.7 1.5 2.3-2.3-1.7-1.5z" color="#00009f"/>
<path d="M413 373.1l1.8 1.5 2.3-2.3-1.8-1.5zM414.8 374.6l1.7 1.4 2.3-2.3-1.7-1.4z" color="#00009a"/>
<path d="M416.5 376l1.7 1.3 2.4-2.2-1.8-1.4zM418.2 377.3l1.8 1.3 2.3-2.2-1.7-1.3zM420 378.6l1.7 1.3 2.4-2.3-1.8-1.2zM421.7 379.9l1.8 1.1 2.3-2.2-1.7-1.2zM423.5 381l1.7 1.1 2.4-2.2-1.8-1.1zM425.2 382.1l1.8 1.1 2.4-2.2-1.8-1.1zM427 383.2l1.8 1 2.3-2.2-1.7-1zM428.8 384.2l1.7 .9 2.4-2.2-1.8-.9zM430.5 385.1l1.8 .9 2.4-2.2-1.8-.9zM432.3 386l1.8 .8 2.4-2.2-1.8-.8z" color="#030098"/>
<path d="M434.1 386.8l1.8 .7 2.4-2.2-1.8-.7zM435.9 387.5l1.9 .7 2.4-2.2-1.9-.7z" color="#00009a"/>
<path d="M437.8 388.2l1.8 .6 2.4-2.2-1.8-.6zM439.6 388.8l1.8 .6 2.5-2.2-1.9-.6z" color="#00009f"/>
<path d="M441.4 389.4l1.9 .4 2.4-2.1-1.8-.5zM443.3 389.8l1.8 .5 2.5-2.2-1.9-.4z" color="#0000a3"/>
<path d="M445.1 390.3l1.9 .3 2.5-2.1-1.9-.4z" color="#0000a8"/>
<path d="M447 390.6l1.9 .3 2.5-2.2-1.9-.2z" color="#0000ac"/>
<path d="M448.9 390.9l1.9 .2 2.5-2.1-1.9-.3z" color="#0000b1"/>
<path d="M450.8 391.1l1.9 .1 2.5-2.1-1.9-.1z" color="#0000b5"/>
<path d="M381.7 342.1l1.8 2.4 2.2-2.2-1.7-2.4z" color="#0002fe"/>
<path d="M383.5 344.5l1.7 2.3 2.2-2.2-1.7-2.3z" color="#0000fa"/>
<path d="M385.2 346.8l1.7 2.3 2.2-2.2-1.7-2.3z" color="#0000e8"/>
<path d="M386.9 349.1l1.7 2.2 2.2-2.2-1.7-2.2z" color="#0000df"/>
<path d="M388.6 351.3l1.7 2.2 2.2-2.2-1.7-2.2z" color="#0000d6"/>
<path d="M390.3 353.5l1.7 2.1 2.2-2.2-1.7-2.1z" color="#0000c3"/>
<path d="M392 355.6l1.7 2 2.2-2.1-1.7-2.1z" color="#0000ba"/>
<path d="M393.7 357.6l1.6 2.1 2.3-2.2-1.7-2z" color="#0000b5"/>
<path d="M395.3 359.7l1.7 1.9 2.3-2.2-1.7-1.9z" color="#0000b1"/>
<path d="M397 361.6l1.7 1.9 2.3-2.2-1.7-1.9z" color="#0000ac"/>
<path d="M398.7 363.5l1.7 1.9 2.3-2.2-1.7-1.9z" color="#0000a8"/>
<path d="M400.4 365.4l1.7 1.7 2.3-2.1-1.7-1.8zM402.1 367.1l1.8 1.8 2.3-2.2-1.8-1.7z" color="#0000a3"/>
<path d="M403.9 368.9l1.7 1.7 2.3-2.2-1.7-1.7z" color="#00009f"/>
<path d="M405.6 370.6l1.7 1.6 2.3-2.2-1.7-1.6zM407.3 372.2l1.7 1.6 2.3-2.2-1.7-1.6z" color="#00009a"/>
<path d="M409 373.8l1.7 1.5 2.3-2.2-1.7-1.5zM410.7 375.3l1.7 1.4 2.4-2.1-1.8-1.5z" color="#030098"/>
<path d="M412.4 376.7l1.7 1.4 2.4-2.1-1.7-1.4zM414.1 378.1l1.8 1.4 2.3-2.2-1.7-1.3zM415.9 379.5l1.7 1.3 2.4-2.2-1.8-1.3z" color="#090097"/>
<path d="M417.6 380.8l1.8 1.2 2.3-2.1-1.7-1.3zM419.4 382l1.7 1.2 2.4-2.2-1.8-1.1zM421.1 383.2l1.8 1.1 2.3-2.2-1.7-1.1zM422.9 384.3l1.7 1 2.4-2.1-1.8-1.1zM424.6 385.3l1.8 1 2.4-2.1-1.8-1z" color="#0f0096"/>
<path d="M426.4 386.3l1.8 .9 2.3-2.1-1.7-.9zM428.2 387.2l1.7 .9 2.4-2.1-1.8-.9zM429.9 388.1l1.8 .8 2.4-2.1-1.8-.8zM431.7 388.9l1.8 .7 2.4-2.1-1.8-.7z" color="#090097"/>
<path d="M433.5 389.6l1.9 .7 2.4-2.1-1.9-.7zM435.4 390.3l1.8 .6 2.4-2.1-1.8-.6z" color="#030098"/>
<path d="M437.2 390.9l1.8 .5 2.4-2-1.8-.6z" color="#00009a"/>
<path d="M439 391.4l1.9 .5 2.4-2.1-1.9-.4zM440.9 391.9l1.8 .4 2.4-2-1.8-.5z" color="#00009f"/>
<path d="M442.7 392.3l1.9 .3 2.4-2-1.9-.3z" color="#0000a3"/>
<path d="M444.6 392.6l1.9 .3 2.4-2-1.9-.3z" color="#0000a8"/>
<path d="M446.5 392.9l1.8 .2 2.5-2-1.9-.2z" color="#0000ac"/>
<path d="M448.3 393.1l2 .1 2.4-2-1.9-.1z" color="#0000b1"/>
<path d="M381.7 342.1l5.2 7 6.7-7-5.2-7zM386.9 349.1l5.1 6.5 6.7-7-5.1-6.5zM392 355.6l5 6 6.9-6.9-5.2-6.1zM397 361.6l5.1 5.5 6.9-6.8-5.1-5.6zM402.1 367.1l5.2 5.1 6.9-6.9-5.2-5zM407.3 372.2l5.1 4.5 7-6.8-5.2-4.6zM412.4 376.7l5.2 4.1 7-6.8-5.2-4.1zM417.6 380.8l5.3 3.5 7-6.8-5.3-3.5zM422.9 384.3l5.3 2.9 7.1-6.7-5.4-3zM428.2 387.2l5.3 2.4 7.2-6.6-5.4-2.5zM433.5 389.6l5.5 1.8 7.3-6.5-5.6-1.9zM439 391.4l5.6 1.2 7.3-6.4-5.6-1.3zM444.6 392.6l5.7 .6 7.3-6.3-5.7-.7z" class="m"/>
<path d="M379.5 344.2l1.7 2.4 2.3-2.1-1.8-2.4z" color="#0000fa"/>
<path d="M381.2 346.6l1.7 2.3 2.3-2.1-1.7-2.3z" color="#0000e8"/>
<path d="M382.9 348.9l1.7 2.2 2.3-2-1.7-2.3z" color="#0000df"/>
<path d="M384.6 351.1l1.7 2.3 2.3-2.1-1.7-2.2z" color="#0000cc"/>
<path d="M386.3 353.4l1.7 2.1 2.3-2-1.7-2.2z" color="#0000c3"/>
<path d="M388 355.5l1.7 2.1 2.3-2-1.7-2.1z" color="#0000ba"/>
<path d="M389.7 357.6l1.7 2.1 2.3-2.1-1.7-2z" color="#0000b5"/>
<path d="M391.4 359.7l1.7 2 2.2-2-1.6-2.1z" color="#0000b1"/>
<path d="M393.1 361.7l1.6 2 2.3-2.1-1.7-1.9z" color="#0000ac"/>
<path d="M394.7 363.7l1.7 1.9 2.3-2.1-1.7-1.9z" color="#0000a8"/>
<path d="M396.4 365.6l1.7 1.8 2.3-2-1.7-1.9z" color="#0000a3"/>
<path d="M398.1 367.4l1.7 1.8 2.3-2.1-1.7-1.7z" color="#00009f"/>
<path d="M399.8 369.2l1.7 1.7 2.4-2-1.8-1.8z" color="#00009a"/>
<path d="M401.5 370.9l1.7 1.7 2.4-2-1.7-1.7zM403.2 372.6l1.7 1.6 2.4-2-1.7-1.6z" color="#030098"/>
<path d="M404.9 374.2l1.8 1.6 2.3-2-1.7-1.6zM406.7 375.8l1.7 1.5 2.3-2-1.7-1.5z" color="#090097"/>
<path d="M408.4 377.3l1.7 1.5 2.3-2.1-1.7-1.4zM410.1 378.8l1.7 1.4 2.3-2.1-1.7-1.4zM411.8 380.2l1.7 1.3 2.4-2-1.8-1.4z" color="#0f0096"/>
<path d="M413.5 381.5l1.8 1.3 2.3-2-1.7-1.3zM415.3 382.8l1.7 1.2 2.4-2-1.8-1.2zM417 384l1.7 1.2 2.4-2-1.7-1.2zM418.7 385.2l1.8 1.1 2.4-2-1.8-1.1zM420.5 386.3l1.7 1 2.4-2-1.7-1zM422.2 387.3l1.8 1 2.4-2-1.8-1zM424 388.3l1.8 .9 2.4-2-1.8-.9z" color="#160095"/>
<path d="M425.8 389.2l1.7 .9 2.4-2-1.7-.9zM427.5 390.1l1.8 .7 2.4-1.9-1.8-.8zM429.3 390.8l1.8 .8 2.4-2-1.8-.7z" color="#0f0096"/>
<path d="M431.1 391.6l1.8 .6 2.5-1.9-1.9-.7zM432.9 392.2l1.8 .6 2.5-1.9-1.8-.6z" color="#090097"/>
<path d="M434.7 392.8l1.9 .6 2.4-2-1.8-.5zM436.6 393.4l1.8 .4 2.5-1.9-1.9-.5z" color="#030098"/>
<path d="M438.4 393.8l1.9 .4 2.4-1.9-1.8-.4z" color="#00009a"/>
<path d="M440.3 394.2l1.8 .4 2.5-2-1.9-.3z" color="#00009f"/>
<path d="M442.1 394.6l1.9 .2 2.5-1.9-1.9-.3z" color="#0000a3"/>
<path d="M444 394.8l1.9 .2 2.4-1.9-1.8-.2z" color="#0000a8"/>
<path d="M445.9 395l1.9 .1 2.5-1.9-2-.1z" color="#0000ac"/>
<path d="M377.2 346.1l1.7 2.4 2.3-1.9-1.7-2.4z" color="#0000e8"/>
<path d="M378.9 348.5l1.7 2.3 2.3-1.9-1.7-2.3z" color="#0000df"/>
<path d="M380.6 350.8l1.7 2.3 2.3-2-1.7-2.2z" color="#0000cc"/>
<path d="M382.3 353.1l1.7 2.2 2.3-1.9-1.7-2.3z" color="#0000c3"/>
<path d="M384 355.3l1.7 2.2 2.3-2-1.7-2.1z" color="#0000ba"/>
<path d="M385.7 357.5l1.7 2.1 2.3-2-1.7-2.1z" color="#0000b1"/>
<path d="M387.4 359.6l1.7 2 2.3-1.9-1.7-2.1z" color="#0000ac"/>
<path d="M389.1 361.6l1.7 2.1 2.3-2-1.7-2z" color="#0000a8"/>
<path d="M390.8 363.7l1.6 1.9 2.3-1.9-1.6-2z" color="#0000a3"/>
<path d="M392.4 365.6l1.7 1.9 2.3-1.9-1.7-1.9z" color="#00009f"/>
<path d="M394.1 367.5l1.7 1.8 2.3-1.9-1.7-1.8z" color="#00009a"/>
<path d="M395.8 369.3l1.7 1.8 2.3-1.9-1.7-1.8zM397.5 371.1l1.7 1.8 2.3-2-1.7-1.7z" color="#030098"/>
<path d="M399.2 372.9l1.7 1.6 2.3-1.9-1.7-1.7z" color="#090097"/>
<path d="M400.9 374.5l1.7 1.7 2.3-2-1.7-1.6zM402.6 376.2l1.7 1.5 2.4-1.9-1.8-1.6z" color="#0f0096"/>
<path d="M404.3 377.7l1.7 1.5 2.4-1.9-1.7-1.5zM406 379.2l1.7 1.5 2.4-1.9-1.7-1.5zM407.7 380.7l1.7 1.4 2.4-1.9-1.7-1.4z" color="#160095"/>
<path d="M409.4 382.1l1.8 1.3 2.3-1.9-1.7-1.3zM411.2 383.4l1.7 1.3 2.4-1.9-1.8-1.3zM412.9 384.7l1.7 1.2 2.4-1.9-1.7-1.2zM414.6 385.9l1.7 1.2 2.4-1.9-1.7-1.2zM416.3 387.1l1.8 1.1 2.4-1.9-1.8-1.1zM418.1 388.2l1.7 1 2.4-1.9-1.7-1zM419.8 389.2l1.8 1 2.4-1.9-1.8-1zM421.6 390.2l1.8 .9 2.4-1.9-1.8-.9zM423.4 391.1l1.7 .8 2.4-1.8-1.7-.9z" color="#200093"/>
<path d="M425.1 391.9l1.8 .8 2.4-1.9-1.8-.7zM426.9 392.7l1.8 .7 2.4-1.8-1.8-.8z" color="#160095"/>
<path d="M428.7 393.4l1.8 .7 2.4-1.9-1.8-.6zM430.5 394.1l1.8 .6 2.4-1.9-1.8-.6z" color="#0f0096"/>
<path d="M432.3 394.7l1.8 .5 2.5-1.8-1.9-.6zM434.1 395.2l1.9 .5 2.4-1.9-1.8-.4z" color="#090097"/>
<path d="M436 395.7l1.8 .3 2.5-1.8-1.9-.4z" color="#030098"/>
<path d="M437.8 396l1.9 .4 2.4-1.8-1.8-.4z" color="#00009a"/>
<path d="M439.7 396.4l1.8 .2 2.5-1.8-1.9-.2z" color="#00009f"/>
<path d="M441.5 396.6l1.9 .2 2.5-1.8-1.9-.2z" color="#0000a3"/>
<path d="M443.4 396.8l1.9 .1 2.5-1.8-1.9-.1z" color="#0000a8"/>
<path d="M374.9 347.9l1.7 2.4 2.3-1.8-1.7-2.4z" color="#0000df"/>
<path d="M376.6 350.3l1.7 2.3 2.3-1.8-1.7-2.3z" color="#0000cc"/>
<path d="M378.3 352.6l1.7 2.3 2.3-1.8-1.7-2.3z" color="#0000c3"/>
<path d="M380 354.9l1.7 2.2 2.3-1.8-1.7-2.2z" color="#0000ba"/>
<path d="M381.7 357.1l1.7 2.2 2.3-1.8-1.7-2.2z" color="#0000b1"/>
<path d="M383.4 359.3l1.7 2.1 2.3-1.8-1.7-2.1z" color="#0000ac"/>
<path d="M385.1 361.4l1.6 2.1 2.4-1.9-1.7-2z" color="#0000a8"/>
<path d="M386.7 363.5l1.7 2 2.4-1.8-1.7-2.1z" color="#0000a3"/>
<path d="M388.4 365.5l1.7 1.9 2.3-1.8-1.6-1.9z" color="#00009f"/>
<path d="M390.1 367.4l1.7 1.9 2.3-1.8-1.7-1.9z" color="#00009a"/>
<path d="M391.8 369.3l1.7 1.9 2.3-1.9-1.7-1.8z" color="#030098"/>
<path d="M393.5 371.2l1.7 1.7 2.3-1.8-1.7-1.8z" color="#090097"/>
<path d="M395.2 372.9l1.7 1.8 2.3-1.8-1.7-1.8zM396.9 374.7l1.7 1.6 2.3-1.8-1.7-1.6z" color="#0f0096"/>
<path d="M398.6 376.3l1.7 1.7 2.3-1.8-1.7-1.7zM400.3 378l1.7 1.5 2.3-1.8-1.7-1.5z" color="#160095"/>
<path d="M402 379.5l1.7 1.5 2.3-1.8-1.7-1.5zM403.7 381l1.7 1.5 2.3-1.8-1.7-1.5z" color="#200093"/>
<path d="M405.4 382.5l1.7 1.4 2.3-1.8-1.7-1.4zM407.1 383.9l1.7 1.3 2.4-1.8-1.8-1.3zM408.8 385.2l1.7 1.3 2.4-1.8-1.7-1.3zM410.5 386.5l1.7 1.2 2.4-1.8-1.7-1.2zM412.2 387.7l1.8 1.1 2.3-1.7-1.7-1.2zM414 388.8l1.7 1.1 2.4-1.7-1.8-1.1zM415.7 389.9l1.7 1.1 2.4-1.8-1.7-1zM417.4 391l1.8 .9 2.4-1.7-1.8-1zM419.2 391.9l1.7 .9 2.5-1.7-1.8-.9zM420.9 392.8l1.8 .9 2.4-1.8-1.7-.8z" color="#290091"/>
<path d="M422.7 393.7l1.8 .8 2.4-1.8-1.8-.8zM424.5 394.5l1.8 .7 2.4-1.8-1.8-.7z" color="#200093"/>
<path d="M426.3 395.2l1.8 .6 2.4-1.7-1.8-.7zM428.1 395.8l1.8 .6 2.4-1.7-1.8-.6z" color="#160095"/>
<path d="M429.9 396.4l1.8 .5 2.4-1.7-1.8-.5zM431.7 396.9l1.8 .5 2.5-1.7-1.9-.5z" color="#0f0096"/>
<path d="M433.5 397.4l1.8 .3 2.5-1.7-1.8-.3z" color="#090097"/>
<path d="M435.3 397.7l1.9 .4 2.5-1.7-1.9-.4z" color="#030098"/>
<path d="M437.2 398.1l1.8 .2 2.5-1.7-1.8-.2z" color="#00009a"/>
<path d="M439 398.3l1.9 .2 2.5-1.7-1.9-.2z" color="#00009f"/>
<path d="M440.9 398.5l1.9 .1 2.5-1.7-1.9-.1z" color="#0000a3"/>
<path d="M374.9 347.9l5.1 7 6.9-5.8-5.2-7zM380 354.9l5.1 6.5 6.9-5.8-5.1-6.5zM385.1 361.4l5 6 6.9-5.8-5-6zM390.1 367.4l5.1 5.5 6.9-5.8-5.1-5.5zM395.2 372.9l5.1 5.1 7-5.8-5.2-5.1zM400.3 378l5.1 4.5 7-5.8-5.1-4.5zM405.4 382.5l5.1 4 7.1-5.7-5.2-4.1zM410.5 386.5l5.2 3.4 7.2-5.6-5.3-3.5zM415.7 389.9l5.2 2.9 7.3-5.6-5.3-2.9zM420.9 392.8l5.4 2.4 7.2-5.6-5.3-2.4zM426.3 395.2l5.4 1.7 7.3-5.5-5.5-1.8zM431.7 396.9l5.5 1.2 7.4-5.5-5.6-1.2zM437.2 398.1l5.6 .5 7.5-5.4-5.7-.6z" class="m"/>
<path d="M372.6 349.7l1.7 2.3 2.3-1.7-1.7-2.4z" color="#0000d6"/>
<path d="M374.3 352l1.7 2.4 2.3-1.8-1.7-2.3z" color="#0000c3"/>
<path d="M376 354.4l1.7 2.2 2.3-1.7-1.7-2.3z" color="#0000ba"/>
<path d="M377.7 356.6l1.7 2.3 2.3-1.8-1.7-2.2z" color="#0000b1"/>
<path d="M379.4 358.9l1.7 2.1 2.3-1.7-1.7-2.2z" color="#0000ac"/>
<path d="M381.1 361l1.6 2.1 2.4-1.7-1.7-2.1z" color="#0000a8"/>
<path d="M382.7 363.1l1.7 2.1 2.3-1.7-1.6-2.1z" color="#0000a3"/>
<path d="M384.4 365.2l1.7 2 2.3-1.7-1.7-2z" color="#00009f"/>
<path d="M386.1 367.2l1.7 1.9 2.3-1.7-1.7-1.9z" color="#00009a"/>
<path d="M387.8 369.1l1.7 1.9 2.3-1.7-1.7-1.9z" color="#030098"/>
<path d="M389.5 371l1.6 1.9 2.4-1.7-1.7-1.9z" color="#090097"/>
<path d="M391.1 372.9l1.7 1.8 2.4-1.8-1.7-1.7z" color="#0f0096"/>
<path d="M392.8 374.7l1.7 1.7 2.4-1.7-1.7-1.8zM394.5 376.4l1.7 1.7 2.4-1.8-1.7-1.6z" color="#160095"/>
<path d="M396.2 378.1l1.7 1.6 2.4-1.7-1.7-1.7zM397.9 379.7l1.7 1.5 2.4-1.7-1.7-1.5z" color="#200093"/>
<path d="M399.6 381.2l1.7 1.5 2.4-1.7-1.7-1.5zM401.3 382.7l1.7 1.5 2.4-1.7-1.7-1.5z" color="#290091"/>
<path d="M403 384.2l1.7 1.4 2.4-1.7-1.7-1.4zM404.7 385.6l1.7 1.3 2.4-1.7-1.7-1.3zM406.4 386.9l1.7 1.3 2.4-1.7-1.7-1.3zM408.1 388.2l1.7 1.2 2.4-1.7-1.7-1.2zM409.8 389.4l1.8 1.1 2.4-1.7-1.8-1.1zM411.6 390.5l1.7 1.1 2.4-1.7-1.7-1.1zM413.3 391.6l1.7 1 2.4-1.6-1.7-1.1zM415 392.6l1.8 1 2.4-1.7-1.8-.9zM416.8 393.6l1.7 .9 2.4-1.7-1.7-.9zM418.5 394.5l1.8 .8 2.4-1.6-1.8-.9z" color="#32008f"/>
<path d="M420.3 395.3l1.7 .8 2.5-1.6-1.8-.8zM422 396.1l1.8 .7 2.5-1.6-1.8-.7z" color="#290091"/>
<path d="M423.8 396.8l1.8 .6 2.5-1.6-1.8-.6zM425.6 397.4l1.8 .6 2.5-1.6-1.8-.6z" color="#200093"/>
<path d="M427.4 398l1.8 .5 2.5-1.6-1.8-.5z" color="#160095"/>
<path d="M429.2 398.5l1.8 .5 2.5-1.6-1.8-.5zM431 399l1.9 .3 2.4-1.6-1.8-.3z" color="#0f0096"/>
<path d="M432.9 399.3l1.8 .3 2.5-1.5-1.9-.4z" color="#090097"/>
<path d="M434.7 399.6l1.9 .3 2.4-1.6-1.8-.2z" color="#030098"/>
<path d="M436.6 399.9l1.8 .1 2.5-1.5-1.9-.2z" color="#00009a"/>
<path d="M438.4 400l1.9 .1 2.5-1.5-1.9-.1z" color="#00009f"/>
<path d="M370.3 351.3l1.7 2.3 2.3-1.6-1.7-2.3z" color="#0000c3"/>
<path d="M372 353.6l1.7 2.4 2.3-1.6-1.7-2.4z" color="#0000ba"/>
<path d="M373.7 356l1.7 2.2 2.3-1.6-1.7-2.2z" color="#0000b5"/>
<path d="M375.4 358.2l1.6 2.3 2.4-1.6-1.7-2.3z" color="#0000ac"/>
<path d="M377 360.5l1.7 2.1 2.4-1.6-1.7-2.1z" color="#0000a8"/>
<path d="M378.7 362.6l1.7 2.1 2.3-1.6-1.6-2.1z" color="#0000a3"/>
<path d="M380.4 364.7l1.7 2.1 2.3-1.6-1.7-2.1z" color="#00009f"/>
<path d="M382.1 366.8l1.7 2 2.3-1.6-1.7-2z" color="#00009a"/>
<path d="M383.8 368.8l1.6 1.9 2.4-1.6-1.7-1.9z" color="#030098"/>
<path d="M385.4 370.7l1.7 1.9 2.4-1.6-1.7-1.9z" color="#090097"/>
<path d="M387.1 372.6l1.7 1.9 2.3-1.6-1.6-1.9z" color="#0f0096"/>
<path d="M388.8 374.5l1.7 1.8 2.3-1.6-1.7-1.8z" color="#160095"/>
<path d="M390.5 376.3l1.6 1.7 2.4-1.6-1.7-1.7zM392.1 378l1.7 1.7 2.4-1.6-1.7-1.7z" color="#200093"/>
<path d="M393.8 379.7l1.7 1.6 2.4-1.6-1.7-1.6zM395.5 381.3l1.7 1.5 2.4-1.6-1.7-1.5z" color="#290091"/>
<path d="M397.2 382.8l1.7 1.5 2.4-1.6-1.7-1.5zM398.9 384.3l1.7 1.5 2.4-1.6-1.7-1.5z" color="#32008f"/>
<path d="M400.6 385.8l1.7 1.3 2.4-1.5-1.7-1.4zM402.3 387.1l1.7 1.4 2.4-1.6-1.7-1.3zM404 388.5l1.7 1.2 2.4-1.5-1.7-1.3zM405.7 389.7l1.7 1.2 2.4-1.5-1.7-1.2zM407.4 390.9l1.7 1.2 2.5-1.6-1.8-1.1zM409.1 392.1l1.8 1.1 2.4-1.6-1.7-1.1zM410.9 393.2l1.7 1 2.4-1.6-1.7-1zM412.6 394.2l1.7 .9 2.5-1.5-1.8-1zM414.3 395.1l1.8 .9 2.4-1.5-1.7-.9z" color="#3b008d"/>
<path d="M416.1 396l1.7 .9 2.5-1.6-1.8-.8zM417.8 396.9l1.8 .7 2.4-1.5-1.7-.8z" color="#32008f"/>
<path d="M419.6 397.6l1.8 .7 2.4-1.5-1.8-.7zM421.4 398.3l1.8 .7 2.4-1.6-1.8-.6z" color="#290091"/>
<path d="M423.2 399l1.7 .5 2.5-1.5-1.8-.6zM424.9 399.5l1.8 .5 2.5-1.5-1.8-.5z" color="#200093"/>
<path d="M426.7 400l1.9 .5 2.4-1.5-1.8-.5z" color="#160095"/>
<path d="M428.6 400.5l1.8 .3 2.5-1.5-1.9-.3z" color="#0f0096"/>
<path d="M430.4 400.8l1.8 .3 2.5-1.5-1.8-.3zM432.2 401.1l1.9 .2 2.5-1.4-1.9-.3z" color="#090097"/>
<path d="M434.1 401.3l1.8 .2 2.5-1.5-1.8-.1z" color="#030098"/>
<path d="M435.9 401.5l1.9 .1 2.5-1.5-1.9-.1z" color="#00009a"/>
<path d="M368 352.8l1.7 2.4 2.3-1.6-1.7-2.3z" color="#0000c3"/>
<path d="M369.7 355.2l1.6 2.3 2.4-1.5-1.7-2.4z" color="#0000b5"/>
<path d="M371.3 357.5l1.7 2.2 2.4-1.5-1.7-2.2z" color="#0000b1"/>
<path d="M373 359.7l1.7 2.3 2.3-1.5-1.6-2.3z" color="#0000a8"/>
<path d="M374.7 362l1.7 2.1 2.3-1.5-1.7-2.1z" color="#0000a3"/>
<path d="M376.4 364.1l1.6 2.1 2.4-1.5-1.7-2.1z" color="#00009f"/>
<path d="M378 366.2l1.7 2.1 2.4-1.5-1.7-2.1z" color="#00009a"/>
<path d="M379.7 368.3l1.7 2 2.4-1.5-1.7-2z" color="#030098"/>
<path d="M381.4 370.3l1.7 1.9 2.3-1.5-1.6-1.9z" color="#090097"/>
<path d="M383.1 372.2l1.6 1.9 2.4-1.5-1.7-1.9z" color="#0f0096"/>
<path d="M384.7 374.1l1.7 1.9 2.4-1.5-1.7-1.9z" color="#160095"/>
<path d="M386.4 376l1.7 1.8 2.4-1.5-1.7-1.8zM388.1 377.8l1.7 1.7 2.3-1.5-1.6-1.7z" color="#200093"/>
<path d="M389.8 379.5l1.6 1.7 2.4-1.5-1.7-1.7z" color="#290091"/>
<path d="M391.4 381.2l1.7 1.6 2.4-1.5-1.7-1.6zM393.1 382.8l1.7 1.5 2.4-1.5-1.7-1.5z" color="#32008f"/>
<path d="M394.8 384.3l1.7 1.5 2.4-1.5-1.7-1.5zM396.5 385.8l1.7 1.5 2.4-1.5-1.7-1.5zM398.2 387.3l1.7 1.3 2.4-1.5-1.7-1.3z" color="#3b008d"/>
<path d="M399.9 388.6l1.7 1.3 2.4-1.4-1.7-1.4zM401.6 389.9l1.7 1.3 2.4-1.5-1.7-1.2zM403.3 391.2l1.7 1.2 2.4-1.5-1.7-1.2zM405 392.4l1.7 1.1 2.4-1.4-1.7-1.2zM406.7 393.5l1.7 1.1 2.5-1.4-1.8-1.1zM408.4 394.6l1.8 1 2.4-1.4-1.7-1z" color="#41008c"/>
<path d="M410.2 395.6l1.7 1 2.4-1.5-1.7-.9zM411.9 396.6l1.7 .9 2.5-1.5-1.8-.9zM413.6 397.5l1.8 .8 2.4-1.4-1.7-.9zM415.4 398.3l1.7 .8 2.5-1.5-1.8-.7z" color="#3b008d"/>
<path d="M417.1 399.1l1.8 .7 2.5-1.5-1.8-.7zM418.9 399.8l1.8 .6 2.5-1.4-1.8-.7z" color="#32008f"/>
<path d="M420.7 400.4l1.8 .5 2.4-1.4-1.7-.5z" color="#290091"/>
<path d="M422.5 400.9l1.8 .5 2.4-1.4-1.8-.5zM424.3 401.4l1.8 .5 2.5-1.4-1.9-.5z" color="#200093"/>
<path d="M426.1 401.9l1.8 .3 2.5-1.4-1.8-.3z" color="#160095"/>
<path d="M427.9 402.2l1.8 .3 2.5-1.4-1.8-.3z" color="#0f0096"/>
<path d="M429.7 402.5l1.8 .2 2.6-1.4-1.9-.2z" color="#090097"/>
<path d="M431.5 402.7l1.9 .1 2.5-1.3-1.8-.2z" color="#030098"/>
<path d="M433.4 402.8l1.9 .1 2.5-1.3-1.9-.1z" color="#00009a"/>
<path d="M368 352.8l5 6.9 7-4.8-5.1-7zM373 359.7l5 6.5 7.1-4.8-5.1-6.5zM378 366.2l5.1 6 7-4.8-5-6zM383.1 372.2l5 5.6 7.1-4.9-5.1-5.5zM388.1 377.8l5 5 7.2-4.8-5.1-5.1zM393.1 382.8l5.1 4.5 7.2-4.8-5.1-4.5zM398.2 387.3l5.1 3.9 7.2-4.7-5.1-4zM403.3 391.2l5.1 3.4 7.3-4.7-5.2-3.4zM408.4 394.6l5.2 2.9 7.3-4.7-5.2-2.9zM413.6 397.5l5.3 2.3 7.4-4.6-5.4-2.4zM418.9 399.8l5.4 1.6 7.4-4.5-5.4-1.7zM424.3 401.4l5.4 1.1 7.5-4.4-5.5-1.2zM429.7 402.5l5.6 .4 7.5-4.3-5.6-.5z" class="m"/>
<path d="M365.6 354.2l1.7 2.4 2.4-1.4-1.7-2.4z" color="#0000ba"/>
<path d="M367.3 356.6l1.7 2.3 2.3-1.4-1.6-2.3z" color="#0000b1"/>
<path d="M369 358.9l1.7 2.3 2.3-1.5-1.7-2.2z" color="#0000ac"/>
<path d="M370.7 361.2l1.6 2.2 2.4-1.4-1.7-2.3z" color="#0000a8"/>
<path d="M372.3 363.4l1.7 2.1 2.4-1.4-1.7-2.1z" color="#00009f"/>
<path d="M374 365.5l1.7 2.2 2.3-1.5-1.6-2.1z" color="#00009a"/>
<path d="M375.7 367.7l1.6 2 2.4-1.4-1.7-2.1z" color="#030098"/>
<path d="M377.3 369.7l1.7 2 2.4-1.4-1.7-2z" color="#090097"/>
<path d="M379 371.7l1.7 2 2.4-1.5-1.7-1.9z" color="#0f0096"/>
<path d="M380.7 373.7l1.7 1.8 2.3-1.4-1.6-1.9z" color="#160095"/>
<path d="M382.4 375.5l1.6 1.9 2.4-1.4-1.7-1.9z" color="#200093"/>
<path d="M384 377.4l1.7 1.8 2.4-1.4-1.7-1.8zM385.7 379.2l1.7 1.7 2.4-1.4-1.7-1.7z" color="#290091"/>
<path d="M387.4 380.9l1.6 1.7 2.4-1.4-1.6-1.7zM389 382.6l1.7 1.6 2.4-1.4-1.7-1.6z" color="#32008f"/>
<path d="M390.7 384.2l1.7 1.5 2.4-1.4-1.7-1.5zM392.4 385.7l1.7 1.5 2.4-1.4-1.7-1.5z" color="#3b008d"/>
<path d="M394.1 387.2l1.7 1.4 2.4-1.3-1.7-1.5zM395.8 388.6l1.7 1.4 2.4-1.4-1.7-1.3zM397.5 390l1.7 1.3 2.4-1.4-1.7-1.3zM399.2 391.3l1.7 1.3 2.4-1.4-1.7-1.3zM400.9 392.6l1.7 1.2 2.4-1.4-1.7-1.2zM402.6 393.8l1.7 1.1 2.4-1.4-1.7-1.1zM404.3 394.9l1.7 1.1 2.4-1.4-1.7-1.1zM406 396l1.7 1 2.5-1.4-1.8-1zM407.7 397l1.7 .9 2.5-1.3-1.7-1zM409.4 397.9l1.8 .9 2.4-1.3-1.7-.9z" color="#41008c"/>
<path d="M411.2 398.8l1.7 .8 2.5-1.3-1.8-.8zM412.9 399.6l1.8 .8 2.4-1.3-1.7-.8zM414.7 400.4l1.7 .7 2.5-1.3-1.8-.7z" color="#3b008d"/>
<path d="M416.4 401.1l1.8 .6 2.5-1.3-1.8-.6zM418.2 401.7l1.8 .6 2.5-1.4-1.8-.5z" color="#32008f"/>
<path d="M420 402.3l1.8 .4 2.5-1.3-1.8-.5z" color="#290091"/>
<path d="M421.8 402.7l1.8 .5 2.5-1.3-1.8-.5z" color="#200093"/>
<path d="M423.6 403.2l1.8 .3 2.5-1.3-1.8-.3z" color="#160095"/>
<path d="M425.4 403.5l1.8 .3 2.5-1.3-1.8-.3z" color="#0f0096"/>
<path d="M427.2 403.8l1.8 .2 2.5-1.3-1.8-.2z" color="#090097"/>
<path d="M429 404l1.9 .1 2.5-1.3-1.9-.1z" color="#030098"/>
<path d="M430.9 404.1l1.8 0 2.6-1.2-1.9-.1z" color="#00009a"/>
<path d="M363.2 355.5l1.7 2.4 2.4-1.3-1.7-2.4z" color="#0000b5"/>
<path d="M364.9 357.9l1.7 2.3 2.4-1.3-1.7-2.3z" color="#0000ac"/>
<path d="M366.6 360.2l1.7 2.3 2.4-1.3-1.7-2.3z" color="#0000a8"/>
<path d="M368.3 362.5l1.6 2.2 2.4-1.3-1.6-2.2z" color="#0000a3"/>
<path d="M369.9 364.7l1.7 2.2 2.4-1.4-1.7-2.1z" color="#00009f"/>
<path d="M371.6 366.9l1.7 2.1 2.4-1.3-1.7-2.2z" color="#030098"/>
<path d="M373.3 369l1.7 2 2.3-1.3-1.6-2z" color="#090097"/>
<path d="M375 371l1.6 2 2.4-1.3-1.7-2z" color="#0f0096"/>
<path d="M376.6 373l1.7 2 2.4-1.3-1.7-2z" color="#160095"/>
<path d="M378.3 375l1.7 1.9 2.4-1.4-1.7-1.8zM380 376.9l1.6 1.8 2.4-1.3-1.6-1.9z" color="#200093"/>
<path d="M381.6 378.7l1.7 1.8 2.4-1.3-1.7-1.8z" color="#290091"/>
<path d="M383.3 380.5l1.7 1.7 2.4-1.3-1.7-1.7zM385 382.2l1.6 1.7 2.4-1.3-1.6-1.7z" color="#32008f"/>
<path d="M386.6 383.9l1.7 1.6 2.4-1.3-1.7-1.6zM388.3 385.5l1.7 1.5 2.4-1.3-1.7-1.5z" color="#3b008d"/>
<path d="M390 387l1.7 1.5 2.4-1.3-1.7-1.5zM391.7 388.5l1.6 1.4 2.5-1.3-1.7-1.4z" color="#41008c"/>
<path d="M393.3 389.9l1.7 1.4 2.5-1.3-1.7-1.4zM395 391.3l1.7 1.3 2.5-1.3-1.7-1.3zM396.7 392.6l1.7 1.3 2.5-1.3-1.7-1.3zM398.4 393.9l1.7 1.2 2.5-1.3-1.7-1.2zM400.1 395.1l1.7 1.1 2.5-1.3-1.7-1.1zM401.8 396.2l1.7 1.1 2.5-1.3-1.7-1.1zM403.5 397.3l1.7 1 2.5-1.3-1.7-1zM405.2 398.3l1.8 .9 2.4-1.3-1.7-.9z" color="#42008b"/>
<path d="M407 399.2l1.7 .9 2.5-1.3-1.8-.9zM408.7 400.1l1.7 .8 2.5-1.3-1.7-.8zM410.4 400.9l1.8 .7 2.5-1.2-1.8-.8z" color="#41008c"/>
<path d="M412.2 401.6l1.7 .7 2.5-1.2-1.7-.7z" color="#3b008d"/>
<path d="M413.9 402.3l1.8 .6 2.5-1.2-1.8-.6zM415.7 402.9l1.8 .6 2.5-1.2-1.8-.6z" color="#32008f"/>
<path d="M417.5 403.5l1.7 .4 2.6-1.2-1.8-.4z" color="#290091"/>
<path d="M419.2 403.9l1.8 .4 2.6-1.1-1.8-.5zM421 404.3l1.8 .4 2.6-1.2-1.8-.3z" color="#200093"/>
<path d="M422.8 404.7l1.9 .2 2.5-1.1-1.8-.3z" color="#160095"/>
<path d="M424.7 404.9l1.8 .2 2.5-1.1-1.8-.2z" color="#0f0096"/>
<path d="M426.5 405.1l1.8 .1 2.6-1.1-1.9-.1z" color="#090097"/>
<path d="M428.3 405.2l1.9 .1 2.5-1.2-1.8 0z" color="#030098"/>
<path d="M360.8 356.7l1.7 2.4 2.4-1.2-1.7-2.4z" color="#0000b1"/>
<path d="M362.5 359.1l1.7 2.3 2.4-1.2-1.7-2.3z" color="#0000ac"/>
<path d="M364.2 361.4l1.7 2.3 2.4-1.2-1.7-2.3z" color="#0000a3"/>
<path d="M365.9 363.7l1.6 2.2 2.4-1.2-1.6-2.2z" color="#00009f"/>
<path d="M367.5 365.9l1.7 2.2 2.4-1.2-1.7-2.2z" color="#00009a"/>
<path d="M369.2 368.1l1.7 2.1 2.4-1.2-1.7-2.1z" color="#030098"/>
<path d="M370.9 370.2l1.6 2.1 2.5-1.3-1.7-2z" color="#090097"/>
<path d="M372.5 372.3l1.7 2 2.4-1.3-1.6-2z" color="#0f0096"/>
<path d="M374.2 374.3l1.7 1.9 2.4-1.2-1.7-2z" color="#160095"/>
<path d="M375.9 376.2l1.6 1.9 2.5-1.2-1.7-1.9z" color="#200093"/>
<path d="M377.5 378.1l1.7 1.8 2.4-1.2-1.6-1.8z" color="#290091"/>
<path d="M379.2 379.9l1.7 1.8 2.4-1.2-1.7-1.8zM380.9 381.7l1.6 1.7 2.5-1.2-1.7-1.7z" color="#32008f"/>
<path d="M382.5 383.4l1.7 1.7 2.4-1.2-1.6-1.7z" color="#3b008d"/>
<path d="M384.2 385.1l1.7 1.6 2.4-1.2-1.7-1.6zM385.9 386.7l1.6 1.5 2.5-1.2-1.7-1.5zM387.5 388.2l1.7 1.5 2.5-1.2-1.7-1.5z" color="#41008c"/>
<path d="M389.2 389.7l1.7 1.4 2.4-1.2-1.6-1.4zM390.9 391.1l1.7 1.4 2.4-1.2-1.7-1.4zM392.6 392.5l1.7 1.3 2.4-1.2-1.7-1.3zM394.3 393.8l1.6 1.3 2.5-1.2-1.7-1.3zM395.9 395.1l1.7 1.2 2.5-1.2-1.7-1.2zM397.6 396.3l1.7 1.1 2.5-1.2-1.7-1.1zM399.3 397.4l1.7 1 2.5-1.1-1.7-1.1zM401 398.4l1.8 1 2.4-1.1-1.7-1zM402.8 399.4l1.7 1 2.5-1.2-1.8-.9zM404.5 400.4l1.7 .8 2.5-1.1-1.7-.9z" color="#42008b"/>
<path d="M406.2 401.2l1.7 .8 2.5-1.1-1.7-.8zM407.9 402l1.8 .8 2.5-1.2-1.8-.7z" color="#41008c"/>
<path d="M409.7 402.8l1.7 .6 2.5-1.1-1.7-.7zM411.4 403.4l1.8 .7 2.5-1.2-1.8-.6z" color="#3b008d"/>
<path d="M413.2 404.1l1.7 .5 2.6-1.1-1.8-.6z" color="#32008f"/>
<path d="M414.9 404.6l1.8 .5 2.5-1.2-1.7-.4zM416.7 405.1l1.8 .3 2.5-1.1-1.8-.4z" color="#290091"/>
<path d="M418.5 405.4l1.8 .4 2.5-1.1-1.8-.4z" color="#200093"/>
<path d="M420.3 405.8l1.8 .2 2.6-1.1-1.9-.2z" color="#160095"/>
<path d="M422.1 406l1.8 .2 2.6-1.1-1.8-.2z" color="#0f0096"/>
<path d="M423.9 406.2l1.9 .1 2.5-1.1-1.8-.1z" color="#090097"/>
<path d="M425.8 406.3l1.8 0 2.6-1-1.9-.1z" color="#030098"/>
<path d="M360.8 356.7l5.1 7 7.1-4-5-6.9zM365.9 363.7l5 6.5 7.1-4-5-6.5zM370.9 370.2l5 6 7.2-4-5.1-6zM375.9 376.2l5 5.5 7.2-3.9-5-5.6zM380.9 381.7l5 5 7.2-3.9-5-5zM385.9 386.7l5 4.4 7.3-3.8-5.1-4.5zM390.9 391.1l5 4 7.4-3.9-5.1-3.9zM395.9 395.1l5.1 3.3 7.4-3.8-5.1-3.4zM401 398.4l5.2 2.8 7.4-3.7-5.2-2.9zM406.2 401.2l5.2 2.2 7.5-3.6-5.3-2.3zM411.4 403.4l5.3 1.7 7.6-3.7-5.4-1.6zM416.7 405.1l5.4 .9 7.6-3.5-5.4-1.1zM422.1 406l5.5 .3 7.7-3.4-5.6-.4z" class="m"/>
<path d="M358.4 357.9l1.7 2.3 2.4-1.1-1.7-2.4z" color="#0000b1"/>
<path d="M360.1 360.2l1.7 2.4 2.4-1.2-1.7-2.3z" color="#0000a8"/>
<path d="M361.8 362.6l1.7 2.2 2.4-1.1-1.7-2.3z" color="#0000a3"/>
<path d="M363.5 364.8l1.6 2.3 2.4-1.2-1.6-2.2z" color="#00009f"/>
<path d="M365.1 367.1l1.7 2.1 2.4-1.1-1.7-2.2z" color="#030098"/>
<path d="M366.8 369.2l1.7 2.1 2.4-1.1-1.7-2.1z" color="#090097"/>
<path d="M368.5 371.3l1.6 2.1 2.4-1.1-1.6-2.1z" color="#0f0096"/>
<path d="M370.1 373.4l1.7 2 2.4-1.1-1.7-2z" color="#160095"/>
<path d="M371.8 375.4l1.6 1.9 2.5-1.1-1.7-1.9z" color="#200093"/>
<path d="M373.4 377.3l1.7 1.9 2.4-1.1-1.6-1.9zM375.1 379.2l1.7 1.9 2.4-1.2-1.7-1.8z" color="#290091"/>
<path d="M376.8 381.1l1.6 1.7 2.5-1.1-1.7-1.8z" color="#32008f"/>
<path d="M378.4 382.8l1.7 1.7 2.4-1.1-1.6-1.7zM380.1 384.5l1.6 1.7 2.5-1.1-1.7-1.7z" color="#3b008d"/>
<path d="M381.7 386.2l1.7 1.6 2.5-1.1-1.7-1.6zM383.4 387.8l1.7 1.6 2.4-1.2-1.6-1.5z" color="#41008c"/>
<path d="M385.1 389.4l1.6 1.4 2.5-1.1-1.7-1.5zM386.7 390.8l1.7 1.5 2.5-1.2-1.7-1.4zM388.4 392.3l1.7 1.3 2.5-1.1-1.7-1.4z" color="#42008b"/>
<path d="M390.1 393.6l1.7 1.3 2.5-1.1-1.7-1.3zM391.8 394.9l1.7 1.3 2.4-1.1-1.6-1.3zM393.5 396.2l1.7 1.1 2.4-1-1.7-1.2zM395.2 397.3l1.6 1.2 2.5-1.1-1.7-1.1zM396.8 398.5l1.7 1 2.5-1.1-1.7-1z" color="#43008b"/>
<path d="M398.5 399.5l1.8 1 2.5-1.1-1.8-1zM400.3 400.5l1.7 .9 2.5-1-1.7-1zM402 401.4l1.7 .9 2.5-1.1-1.7-.8z" color="#42008b"/>
<path d="M403.7 402.3l1.7 .8 2.5-1.1-1.7-.8zM405.4 403.1l1.7 .7 2.6-1-1.8-.8zM407.1 403.8l1.8 .7 2.5-1.1-1.7-.6z" color="#41008c"/>
<path d="M408.9 404.5l1.7 .6 2.6-1-1.8-.7z" color="#3b008d"/>
<path d="M410.6 405.1l1.8 .5 2.5-1-1.7-.5zM412.4 405.6l1.8 .5 2.5-1-1.8-.5z" color="#32008f"/>
<path d="M414.2 406.1l1.8 .3 2.5-1-1.8-.3z" color="#290091"/>
<path d="M416 406.4l1.8 .4 2.5-1-1.8-.4z" color="#200093"/>
<path d="M417.8 406.8l1.8 .2 2.5-1-1.8-.2z" color="#160095"/>
<path d="M419.6 407l1.8 .2 2.5-1-1.8-.2z" color="#0f0096"/>
<path d="M421.4 407.2l1.8 .1 2.6-1-1.9-.1z" color="#090097"/>
<path d="M423.2 407.3l1.8 0 2.6-1-1.8 0z" color="#030098"/>
<path d="M356 358.9l1.7 2.4 2.4-1.1-1.7-2.3z" color="#0000ac"/>
<path d="M357.7 361.3l1.7 2.3 2.4-1-1.7-2.4z" color="#0000a8"/>
<path d="M359.4 363.6l1.6 2.3 2.5-1.1-1.7-2.2z" color="#0000a3"/>
<path d="M361 365.9l1.7 2.2 2.4-1-1.6-2.3z" color="#00009a"/>
<path d="M362.7 368.1l1.6 2.2 2.5-1.1-1.7-2.1z" color="#030098"/>
<path d="M364.3 370.3l1.7 2.1 2.5-1.1-1.7-2.1z" color="#090097"/>
<path d="M366 372.4l1.7 2.1 2.4-1.1-1.6-2.1z" color="#0f0096"/>
<path d="M367.7 374.5l1.6 2 2.5-1.1-1.7-2z" color="#160095"/>
<path d="M369.3 376.5l1.7 1.9 2.4-1.1-1.6-1.9z" color="#200093"/>
<path d="M371 378.4l1.6 1.9 2.5-1.1-1.7-1.9z" color="#290091"/>
<path d="M372.6 380.3l1.7 1.8 2.5-1-1.7-1.9zM374.3 382.1l1.7 1.8 2.4-1.1-1.6-1.7z" color="#32008f"/>
<path d="M376 383.9l1.6 1.7 2.5-1.1-1.7-1.7z" color="#3b008d"/>
<path d="M377.6 385.6l1.7 1.7 2.4-1.1-1.6-1.7zM379.3 387.3l1.6 1.6 2.5-1.1-1.7-1.6z" color="#41008c"/>
<path d="M380.9 388.9l1.7 1.5 2.5-1-1.7-1.6zM382.6 390.4l1.7 1.5 2.4-1.1-1.6-1.4zM384.3 391.9l1.6 1.4 2.5-1-1.7-1.5z" color="#42008b"/>
<path d="M385.9 393.3l1.7 1.4 2.5-1.1-1.7-1.3zM387.6 394.7l1.7 1.3 2.5-1.1-1.7-1.3zM389.3 396l1.7 1.2 2.5-1-1.7-1.3zM391 397.2l1.6 1.2 2.6-1.1-1.7-1.1zM392.6 398.4l1.7 1.1 2.5-1-1.6-1.2zM394.3 399.5l1.7 1 2.5-1-1.7-1zM396 400.5l1.7 1 2.6-1-1.8-1z" color="#43008b"/>
<path d="M397.7 401.5l1.7 .9 2.6-1-1.7-.9zM399.4 402.4l1.8 .9 2.5-1-1.7-.9zM401.2 403.3l1.7 .8 2.5-1-1.7-.8z" color="#42008b"/>
<path d="M402.9 404.1l1.7 .7 2.5-1-1.7-.7zM404.6 404.8l1.8 .6 2.5-.9-1.8-.7z" color="#41008c"/>
<path d="M406.4 405.4l1.7 .6 2.5-.9-1.7-.6z" color="#3b008d"/>
<path d="M408.1 406l1.8 .5 2.5-.9-1.8-.5zM409.9 406.5l1.7 .5 2.6-.9-1.8-.5z" color="#32008f"/>
<path d="M411.6 407l1.8 .4 2.6-1-1.8-.3z" color="#290091"/>
<path d="M413.4 407.4l1.8 .3 2.6-.9-1.8-.4z" color="#200093"/>
<path d="M415.2 407.7l1.8 .2 2.6-.9-1.8-.2z" color="#160095"/>
<path d="M417 407.9l1.8 .1 2.6-.8-1.8-.2z" color="#0f0096"/>
<path d="M418.8 408l1.8 .1 2.6-.8-1.8-.1z" color="#090097"/>
<path d="M420.6 408.1l1.8 0 2.6-.8-1.8 0z" color="#030098"/>
<path d="M353.6 359.9l1.6 2.4 2.5-1-1.7-2.4z" color="#0000ac"/>
<path d="M355.2 362.3l1.7 2.3 2.5-1-1.7-2.3z" color="#0000a3"/>
<path d="M356.9 364.6l1.7 2.3 2.4-1-1.6-2.3z" color="#00009f"/>
<path d="M358.6 366.9l1.6 2.2 2.5-1-1.7-2.2z" color="#00009a"/>
<path d="M360.2 369.1l1.7 2.2 2.4-1-1.6-2.2z" color="#030098"/>
<path d="M361.9 371.3l1.6 2.1 2.5-1-1.7-2.1z" color="#090097"/>
<path d="M363.5 373.4l1.7 2.1 2.5-1-1.7-2.1z" color="#0f0096"/>
<path d="M365.2 375.5l1.7 1.9 2.4-.9-1.6-2z" color="#160095"/>
<path d="M366.9 377.4l1.6 2 2.5-1-1.7-1.9z" color="#200093"/>
<path d="M368.5 379.4l1.7 1.9 2.4-1-1.6-1.9z" color="#290091"/>
<path d="M370.2 381.3l1.6 1.8 2.5-1-1.7-1.8z" color="#32008f"/>
<path d="M371.8 383.1l1.7 1.8 2.5-1-1.7-1.8zM373.5 384.9l1.6 1.7 2.5-1-1.6-1.7z" color="#3b008d"/>
<path d="M375.1 386.6l1.7 1.6 2.5-.9-1.7-1.7zM376.8 388.2l1.6 1.6 2.5-.9-1.6-1.6z" color="#41008c"/>
<path d="M378.4 389.8l1.7 1.6 2.5-1-1.7-1.5zM380.1 391.4l1.7 1.4 2.5-.9-1.7-1.5z" color="#42008b"/>
<path d="M381.8 392.8l1.6 1.4 2.5-.9-1.6-1.4zM383.4 394.2l1.7 1.4 2.5-.9-1.7-1.4zM385.1 395.6l1.7 1.3 2.5-.9-1.7-1.3zM386.8 396.9l1.6 1.2 2.6-.9-1.7-1.2zM388.4 398.1l1.7 1.2 2.5-.9-1.6-1.2zM390.1 399.3l1.7 1.1 2.5-.9-1.7-1.1zM391.8 400.4l1.7 1 2.5-.9-1.7-1zM393.5 401.4l1.7 1 2.5-.9-1.7-1z" color="#43008b"/>
<path d="M395.2 402.4l1.7 .9 2.5-.9-1.7-.9zM396.9 403.3l1.7 .9 2.6-.9-1.8-.9zM398.6 404.2l1.7 .8 2.6-.9-1.7-.8z" color="#42008b"/>
<path d="M400.3 405l1.8 .7 2.5-.9-1.7-.7zM402.1 405.7l1.7 .6 2.6-.9-1.8-.6z" color="#41008c"/>
<path d="M403.8 406.3l1.7 .6 2.6-.9-1.7-.6z" color="#3b008d"/>
<path d="M405.5 406.9l1.8 .5 2.6-.9-1.8-.5zM407.3 407.4l1.7 .4 2.6-.8-1.7-.5z" color="#32008f"/>
<path d="M409 407.8l1.8 .4 2.6-.8-1.8-.4z" color="#290091"/>
<path d="M410.8 408.2l1.8 .3 2.6-.8-1.8-.3z" color="#200093"/>
<path d="M412.6 408.5l1.8 .2 2.6-.8-1.8-.2z" color="#160095"/>
<path d="M414.4 408.7l1.8 .1 2.6-.8-1.8-.1z" color="#0f0096"/>
<path d="M416.2 408.8l1.8 .1 2.6-.8-1.8-.1z" color="#090097"/>
<path d="M418 408.9l1.8 0 2.6-.8-1.8 0z" color="#030098"/>
<path d="M353.6 359.9l5 7 7.3-3.2-5.1-7zM358.6 366.9l4.9 6.5 7.4-3.2-5-6.5zM363.5 373.4l5 6 7.4-3.2-5-6zM368.5 379.4l5 5.5 7.4-3.2-5-5.5zM373.5 384.9l4.9 4.9 7.5-3.1-5-5zM378.4 389.8l5 4.4 7.5-3.1-5-4.4zM383.4 394.2l5 3.9 7.5-3-5-4zM388.4 398.1l5.1 3.3 7.5-3-5.1-3.3zM393.5 401.4l5.1 2.8 7.6-3-5.2-2.8zM398.6 404.2l5.2 2.1 7.6-2.9-5.2-2.2zM403.8 406.3l5.2 1.5 7.7-2.7-5.3-1.7zM409 407.8l5.4 .9 7.7-2.7-5.4-.9zM414.4 408.7l5.4 .2 7.8-2.6-5.5-.3z" class="m"/>
<path d="M351.1 360.8l1.7 2.4 2.4-.9-1.6-2.4z" color="#0000ac"/>
<path d="M352.8 363.2l1.6 2.4 2.5-1-1.7-2.3z" color="#0000a3"/>
<path d="M354.4 365.6l1.7 2.2 2.5-.9-1.7-2.3z" color="#00009f"/>
<path d="M356.1 367.8l1.6 2.2 2.5-.9-1.6-2.2z" color="#00009a"/>
<path d="M357.7 370l1.7 2.2 2.5-.9-1.7-2.2z" color="#090097"/>
<path d="M359.4 372.2l1.7 2.1 2.4-.9-1.6-2.1z" color="#0f0096"/>
<path d="M361.1 374.3l1.6 2.1 2.5-.9-1.7-2.1z" color="#160095"/>
<path d="M362.7 376.4l1.7 2 2.5-1-1.7-1.9z" color="#200093"/>
<path d="M364.4 378.4l1.6 1.9 2.5-.9-1.6-2zM366 380.3l1.7 1.9 2.5-.9-1.7-1.9z" color="#290091"/>
<path d="M367.7 382.2l1.6 1.8 2.5-.9-1.6-1.8z" color="#32008f"/>
<path d="M369.3 384l1.7 1.8 2.5-.9-1.7-1.8zM371 385.8l1.6 1.7 2.5-.9-1.6-1.7z" color="#3b008d"/>
<path d="M372.6 387.5l1.7 1.6 2.5-.9-1.7-1.6z" color="#41008c"/>
<path d="M374.3 389.1l1.6 1.6 2.5-.9-1.6-1.6zM375.9 390.7l1.7 1.5 2.5-.8-1.7-1.6zM377.6 392.2l1.6 1.5 2.6-.9-1.7-1.4z" color="#42008b"/>
<path d="M379.2 393.7l1.7 1.4 2.5-.9-1.6-1.4zM380.9 395.1l1.7 1.4 2.5-.9-1.7-1.4zM382.6 396.5l1.6 1.3 2.6-.9-1.7-1.3zM384.2 397.8l1.7 1.2 2.5-.9-1.6-1.2zM385.9 399l1.7 1.1 2.5-.8-1.7-1.2zM387.6 400.1l1.7 1.1 2.5-.8-1.7-1.1zM389.3 401.2l1.7 1.1 2.5-.9-1.7-1zM391 402.3l1.7 .9 2.5-.8-1.7-1z" color="#43008b"/>
<path d="M392.7 403.2l1.7 .9 2.5-.8-1.7-.9zM394.4 404.1l1.7 .9 2.5-.8-1.7-.9zM396.1 405l1.7 .8 2.5-.8-1.7-.8z" color="#42008b"/>
<path d="M397.8 405.8l1.7 .7 2.6-.8-1.8-.7zM399.5 406.5l1.7 .6 2.6-.8-1.7-.6z" color="#41008c"/>
<path d="M401.2 407.1l1.8 .5 2.5-.7-1.7-.6z" color="#3b008d"/>
<path d="M403 407.6l1.7 .5 2.6-.7-1.8-.5zM404.7 408.1l1.8 .5 2.5-.8-1.7-.4z" color="#32008f"/>
<path d="M406.5 408.6l1.7 .3 2.6-.7-1.8-.4z" color="#290091"/>
<path d="M408.2 408.9l1.8 .3 2.6-.7-1.8-.3z" color="#200093"/>
<path d="M410 409.2l1.8 .2 2.6-.7-1.8-.2z" color="#160095"/>
<path d="M411.8 409.4l1.8 .1 2.6-.7-1.8-.1z" color="#0f0096"/>
<path d="M413.6 409.5l1.8 .1 2.6-.7-1.8-.1z" color="#090097"/>
<path d="M415.4 409.6l1.8-.1 2.6-.6-1.8 0z" color="#030098"/>
<path d="M348.6 361.7l1.7 2.4 2.5-.9-1.7-2.4z" color="#0000a8"/>
<path d="M350.3 364.1l1.6 2.3 2.5-.8-1.6-2.4z" color="#0000a3"/>
<path d="M351.9 366.4l1.7 2.3 2.5-.9-1.7-2.2z" color="#00009f"/>
<path d="M353.6 368.7l1.7 2.2 2.4-.9-1.6-2.2z" color="#030098"/>
<path d="M355.3 370.9l1.6 2.2 2.5-.9-1.7-2.2z" color="#090097"/>
<path d="M356.9 373.1l1.7 2.1 2.5-.9-1.7-2.1z" color="#0f0096"/>
<path d="M358.6 375.2l1.6 2 2.5-.8-1.6-2.1z" color="#160095"/>
<path d="M360.2 377.2l1.7 2 2.5-.8-1.7-2z" color="#200093"/>
<path d="M361.9 379.2l1.6 1.9 2.5-.8-1.6-1.9z" color="#290091"/>
<path d="M363.5 381.1l1.7 1.9 2.5-.8-1.7-1.9zM365.2 383l1.6 1.8 2.5-.8-1.6-1.8z" color="#32008f"/>
<path d="M366.8 384.8l1.7 1.8 2.5-.8-1.7-1.8z" color="#3b008d"/>
<path d="M368.5 386.6l1.6 1.7 2.5-.8-1.6-1.7zM370.1 388.3l1.7 1.7 2.5-.9-1.7-1.6z" color="#41008c"/>
<path d="M371.8 390l1.6 1.5 2.5-.8-1.6-1.6zM373.4 391.5l1.7 1.6 2.5-.9-1.7-1.5zM375.1 393.1l1.6 1.4 2.5-.8-1.6-1.5z" color="#42008b"/>
<path d="M376.7 394.5l1.7 1.4 2.5-.8-1.7-1.4zM378.4 395.9l1.6 1.4 2.6-.8-1.7-1.4zM380 397.3l1.7 1.2 2.5-.7-1.6-1.3zM381.7 398.5l1.7 1.3 2.5-.8-1.7-1.2zM383.4 399.8l1.6 1.1 2.6-.8-1.7-1.1zM385 400.9l1.7 1.1 2.6-.8-1.7-1.1zM386.7 402l1.7 1 2.6-.7-1.7-1.1zM388.4 403l1.7 1 2.6-.8-1.7-.9z" color="#43008b"/>
<path d="M390.1 404l1.7 .9 2.6-.8-1.7-.9zM391.8 404.9l1.7 .8 2.6-.7-1.7-.9z" color="#42008b"/>
<path d="M393.5 405.7l1.7 .8 2.6-.7-1.7-.8zM395.2 406.5l1.7 .7 2.6-.7-1.7-.7z" color="#41008c"/>
<path d="M396.9 407.2l1.7 .6 2.6-.7-1.7-.6zM398.6 407.8l1.8 .5 2.6-.7-1.8-.5z" color="#3b008d"/>
<path d="M400.4 408.3l1.7 .5 2.6-.7-1.7-.5z" color="#32008f"/>
<path d="M402.1 408.8l1.7 .4 2.7-.6-1.8-.5z" color="#290091"/>
<path d="M403.8 409.2l1.8 .4 2.6-.7-1.7-.3zM405.6 409.6l1.8 .2 2.6-.6-1.8-.3z" color="#200093"/>
<path d="M407.4 409.8l1.8 .2 2.6-.6-1.8-.2z" color="#160095"/>
<path d="M409.2 410l1.7 .1 2.7-.6-1.8-.1z" color="#090097"/>
<path d="M410.9 410.1l1.8 0 2.7-.5-1.8-.1z" color="#030098"/>
<path d="M412.7 410.1l1.9 0 2.6-.6-1.8 .1z" color="#00009a"/>
<path d="M346.1 362.5l1.6 2.4 2.6-.8-1.7-2.4z" color="#0000a8"/>
<path d="M347.7 364.9l1.7 2.3 2.5-.8-1.6-2.3z" color="#0000a3"/>
<path d="M349.4 367.2l1.7 2.3 2.5-.8-1.7-2.3z" color="#00009f"/>
<path d="M351.1 369.5l1.6 2.2 2.6-.8-1.7-2.2z" color="#030098"/>
<path d="M352.7 371.7l1.7 2.2 2.5-.8-1.6-2.2z" color="#090097"/>
<path d="M354.4 373.9l1.6 2.1 2.6-.8-1.7-2.1z" color="#0f0096"/>
<path d="M356 376l1.7 2 2.5-.8-1.6-2z" color="#160095"/>
<path d="M357.7 378l1.6 2 2.6-.8-1.7-2z" color="#200093"/>
<path d="M359.3 380l1.7 1.9 2.5-.8-1.6-1.9z" color="#290091"/>
<path d="M361 381.9l1.6 1.9 2.6-.8-1.7-1.9zM362.6 383.8l1.7 1.8 2.5-.8-1.6-1.8z" color="#32008f"/>
<path d="M364.3 385.6l1.6 1.8 2.6-.8-1.7-1.8z" color="#3b008d"/>
<path d="M365.9 387.4l1.7 1.7 2.5-.8-1.6-1.7zM367.6 389.1l1.6 1.6 2.6-.7-1.7-1.7z" color="#41008c"/>
<path d="M369.2 390.7l1.7 1.6 2.5-.8-1.6-1.5zM370.9 392.3l1.6 1.5 2.6-.7-1.7-1.6zM372.5 393.8l1.7 1.5 2.5-.8-1.6-1.4z" color="#42008b"/>
<path d="M374.2 395.3l1.6 1.4 2.6-.8-1.7-1.4zM375.8 396.7l1.7 1.3 2.5-.7-1.6-1.4zM377.5 398l1.6 1.3 2.6-.8-1.7-1.2zM379.1 399.3l1.7 1.2 2.6-.7-1.7-1.3zM380.8 400.5l1.7 1.1 2.5-.7-1.6-1.1zM382.5 401.6l1.6 1.1 2.6-.7-1.7-1.1zM384.1 402.7l1.7 1 2.6-.7-1.7-1z" color="#43008b"/>
<path d="M385.8 403.7l1.7 1 2.6-.7-1.7-1zM387.5 404.7l1.7 .8 2.6-.6-1.7-.9zM389.2 405.5l1.7 .9 2.6-.7-1.7-.8z" color="#42008b"/>
<path d="M390.9 406.4l1.7 .7 2.6-.6-1.7-.8zM392.6 407.1l1.7 .7 2.6-.6-1.7-.7z" color="#41008c"/>
<path d="M394.3 407.8l1.7 .6 2.6-.6-1.7-.6z" color="#3b008d"/>
<path d="M396 408.4l1.7 .5 2.7-.6-1.8-.5zM397.7 408.9l1.8 .5 2.6-.6-1.7-.5z" color="#32008f"/>
<path d="M399.5 409.4l1.7 .4 2.6-.6-1.7-.4z" color="#290091"/>
<path d="M401.2 409.8l1.8 .3 2.6-.5-1.8-.4z" color="#200093"/>
<path d="M403 410.1l1.7 .3 2.7-.6-1.8-.2z" color="#160095"/>
<path d="M404.7 410.4l1.8 .1 2.7-.5-1.8-.2z" color="#0f0096"/>
<path d="M406.5 410.5l1.8 .1 2.6-.5-1.7-.1z" color="#090097"/>
<path d="M408.3 410.6l1.8 0 2.6-.5-1.8 0z" color="#030098"/>
<path d="M410.1 410.6l1.8 0 2.7-.5-1.9 0z" color="#00009a"/>
<path d="M346.1 362.5l5 7 7.5-2.6-5-7zM351.1 369.5l4.9 6.5 7.5-2.6-4.9-6.5zM356 376l5 5.9 7.5-2.5-5-6zM361 381.9l4.9 5.5 7.6-2.5-5-5.5zM365.9 387.4l5 4.9 7.5-2.5-4.9-4.9zM370.9 392.3l4.9 4.4 7.6-2.5-5-4.4zM375.8 396.7l5 3.8 7.6-2.4-5-3.9zM380.8 400.5l5 3.2 7.7-2.3-5.1-3.3zM385.8 403.7l5.1 2.7 7.7-2.2-5.1-2.8zM390.9 406.4l5.1 2 7.8-2.1-5.2-2.1zM396 408.4l5.2 1.4 7.8-2-5.2-1.5zM401.2 409.8l5.3 .7 7.9-1.8-5.4-.9zM406.5 410.5l5.4 .1 7.9-1.7-5.4-.2z" class="m"/>
<path d="M343.5 363.3l1.7 2.3 2.5-.7-1.6-2.4z" color="#0000a8"/>
<path d="M345.2 365.6l1.7 2.4 2.5-.8-1.7-2.3z" color="#0000a3"/>
<path d="M346.9 368l1.6 2.2 2.6-.7-1.7-2.3z" color="#00009f"/>
<path d="M348.5 370.2l1.7 2.2 2.5-.7-1.6-2.2z" color="#030098"/>
<path d="M350.2 372.4l1.6 2.2 2.6-.7-1.7-2.2z" color="#090097"/>
<path d="M351.8 374.6l1.7 2.1 2.5-.7-1.6-2.1z" color="#0f0096"/>
<path d="M353.5 376.7l1.6 2 2.6-.7-1.7-2z" color="#160095"/>
<path d="M355.1 378.7l1.7 2 2.5-.7-1.6-2z" color="#200093"/>
<path d="M356.8 380.7l1.6 1.9 2.6-.7-1.7-1.9zM358.4 382.6l1.7 1.9 2.5-.7-1.6-1.9z" color="#290091"/>
<path d="M360.1 384.5l1.6 1.8 2.6-.7-1.7-1.8z" color="#32008f"/>
<path d="M361.7 386.3l1.7 1.8 2.5-.7-1.6-1.8zM363.4 388.1l1.6 1.7 2.6-.7-1.7-1.7z" color="#3b008d"/>
<path d="M365 389.8l1.6 1.6 2.6-.7-1.6-1.6zM366.6 391.4l1.7 1.6 2.6-.7-1.7-1.6z" color="#41008c"/>
<path d="M368.3 393l1.6 1.5 2.6-.7-1.6-1.5zM369.9 394.5l1.7 1.4 2.6-.6-1.7-1.5zM371.6 395.9l1.6 1.4 2.6-.6-1.6-1.4z" color="#42008b"/>
<path d="M373.2 397.3l1.7 1.4 2.6-.7-1.7-1.3zM374.9 398.7l1.6 1.2 2.6-.6-1.6-1.3zM376.5 399.9l1.7 1.2 2.6-.6-1.7-1.2zM378.2 401.1l1.7 1.1 2.6-.6-1.7-1.1zM379.9 402.2l1.6 1.1 2.6-.6-1.6-1.1z" color="#43008b"/>
<path d="M381.5 403.3l1.7 1 2.6-.6-1.7-1zM383.2 404.3l1.7 1 2.6-.6-1.7-1zM384.9 405.3l1.7 .8 2.6-.6-1.7-.8z" color="#42008b"/>
<path d="M386.6 406.1l1.7 .8 2.6-.5-1.7-.9zM388.3 406.9l1.7 .8 2.6-.6-1.7-.7z" color="#41008c"/>
<path d="M390 407.7l1.7 .6 2.6-.5-1.7-.7zM391.7 408.3l1.7 .6 2.6-.5-1.7-.6z" color="#3b008d"/>
<path d="M393.4 408.9l1.7 .6 2.6-.6-1.7-.5z" color="#32008f"/>
<path d="M395.1 409.5l1.7 .4 2.7-.5-1.8-.5zM396.8 409.9l1.8 .4 2.6-.5-1.7-.4z" color="#290091"/>
<path d="M398.6 410.3l1.7 .3 2.7-.5-1.8-.3z" color="#200093"/>
<path d="M400.3 410.6l1.8 .2 2.6-.4-1.7-.3z" color="#160095"/>
<path d="M402.1 410.8l1.7 .2 2.7-.5-1.8-.1z" color="#0f0096"/>
<path d="M403.8 411l1.8 0 2.7-.4-1.8-.1z" color="#090097"/>
<path d="M405.6 411l1.8 0 2.7-.4-1.8 0z" color="#00009a"/>
<path d="M407.4 411l1.8 0 2.7-.4-1.8 0z" color="#00009f"/>
<path d="M341 364l1.7 2.3 2.5-.7-1.7-2.3z" color="#0000a8"/>
<path d="M342.7 366.3l1.6 2.4 2.6-.7-1.7-2.4z" color="#0000a3"/>
<path d="M344.3 368.7l1.7 2.2 2.5-.7-1.6-2.2z" color="#00009f"/>
<path d="M346 370.9l1.6 2.2 2.6-.7-1.7-2.2z" color="#030098"/>
<path d="M347.6 373.1l1.7 2.2 2.5-.7-1.6-2.2z" color="#090097"/>
<path d="M349.3 375.3l1.6 2.1 2.6-.7-1.7-2.1z" color="#0f0096"/>
<path d="M350.9 377.4l1.7 2 2.5-.7-1.6-2z" color="#160095"/>
<path d="M352.6 379.4l1.6 2 2.6-.7-1.7-2z" color="#200093"/>
<path d="M354.2 381.4l1.7 1.9 2.5-.7-1.6-1.9zM355.9 383.3l1.6 1.9 2.6-.7-1.7-1.9z" color="#290091"/>
<path d="M357.5 385.2l1.6 1.8 2.6-.7-1.6-1.8z" color="#32008f"/>
<path d="M359.1 387l1.7 1.7 2.6-.6-1.7-1.8zM360.8 388.7l1.6 1.7 2.6-.6-1.6-1.7z" color="#3b008d"/>
<path d="M362.4 390.4l1.7 1.6 2.5-.6-1.6-1.6zM364.1 392l1.6 1.6 2.6-.6-1.7-1.6z" color="#41008c"/>
<path d="M365.7 393.6l1.6 1.5 2.6-.6-1.6-1.5zM367.3 395.1l1.7 1.4 2.6-.6-1.7-1.4zM369 396.5l1.6 1.4 2.6-.6-1.6-1.4zM370.6 397.9l1.7 1.3 2.6-.5-1.7-1.4zM372.3 399.2l1.6 1.3 2.6-.6-1.6-1.2zM373.9 400.5l1.7 1.2 2.6-.6-1.7-1.2zM375.6 401.7l1.6 1.1 2.7-.6-1.7-1.1zM377.2 402.8l1.7 1.1 2.6-.6-1.6-1.1zM378.9 403.9l1.7 1 2.6-.6-1.7-1zM380.6 404.9l1.6 .9 2.7-.5-1.7-1z" color="#42008b"/>
<path d="M382.2 405.8l1.7 .9 2.7-.6-1.7-.8zM383.9 406.7l1.7 .7 2.7-.5-1.7-.8zM385.6 407.4l1.7 .8 2.7-.5-1.7-.8z" color="#41008c"/>
<path d="M387.3 408.2l1.7 .6 2.7-.5-1.7-.6z" color="#3b008d"/>
<path d="M389 408.8l1.7 .6 2.7-.5-1.7-.6zM390.7 409.4l1.7 .5 2.7-.4-1.7-.6z" color="#32008f"/>
<path d="M392.4 409.9l1.8 .4 2.6-.4-1.7-.4z" color="#290091"/>
<path d="M394.2 410.3l1.7 .4 2.7-.4-1.8-.4z" color="#200093"/>
<path d="M395.9 410.7l1.7 .3 2.7-.4-1.7-.3z" color="#160095"/>
<path d="M397.6 411l1.8 .2 2.7-.4-1.8-.2z" color="#0f0096"/>
<path d="M399.4 411.2l1.8 .1 2.6-.3-1.7-.2z" color="#090097"/>
<path d="M401.2 411.3l1.7 .1 2.7-.4-1.8 0z" color="#030098"/>
<path d="M402.9 411.4l1.8 0 2.7-.4-1.8 0z" color="#00009a"/>
<path d="M404.7 411.4l1.8-.1 2.7-.3-1.8 0z" color="#00009f"/>
<path d="M338.4 364.6l1.7 2.4 2.6-.7-1.7-2.3z" color="#0000a8"/>
<path d="M340.1 367l1.6 2.3 2.6-.6-1.6-2.4z" color="#0000a3"/>
<path d="M341.7 369.3l1.7 2.3 2.6-.7-1.7-2.2z" color="#00009f"/>
<path d="M343.4 371.6l1.6 2.2 2.6-.7-1.6-2.2z" color="#030098"/>
<path d="M345 373.8l1.7 2.1 2.6-.6-1.7-2.2z" color="#090097"/>
<path d="M346.7 375.9l1.6 2.1 2.6-.6-1.6-2.1z" color="#0f0096"/>
<path d="M348.3 378l1.7 2 2.6-.6-1.7-2z" color="#160095"/>
<path d="M350 380l1.6 2 2.6-.6-1.6-2zM351.6 382l1.7 1.9 2.6-.6-1.7-1.9z" color="#200093"/>
<path d="M353.3 383.9l1.6 1.9 2.6-.6-1.6-1.9z" color="#290091"/>
<path d="M354.9 385.8l1.6 1.8 2.6-.6-1.6-1.8z" color="#32008f"/>
<path d="M356.5 387.6l1.7 1.7 2.6-.6-1.7-1.7zM358.2 389.3l1.6 1.7 2.6-.6-1.6-1.7z" color="#3b008d"/>
<path d="M359.8 391l1.6 1.6 2.7-.6-1.7-1.6zM361.4 392.6l1.7 1.6 2.6-.6-1.6-1.6zM363.1 394.2l1.6 1.5 2.6-.6-1.6-1.5z" color="#41008c"/>
<path d="M364.7 395.7l1.7 1.4 2.6-.6-1.7-1.4zM366.4 397.1l1.6 1.4 2.6-.6-1.6-1.4zM368 398.5l1.6 1.3 2.7-.6-1.7-1.3zM369.6 399.8l1.7 1.2 2.6-.5-1.6-1.3zM371.3 401l1.6 1.2 2.7-.5-1.7-1.2zM372.9 402.2l1.7 1.1 2.6-.5-1.6-1.1zM374.6 403.3l1.7 1.1 2.6-.5-1.7-1.1zM376.3 404.4l1.6 .9 2.7-.4-1.7-1z" color="#42008b"/>
<path d="M377.9 405.3l1.7 1 2.6-.5-1.6-.9zM379.6 406.3l1.7 .8 2.6-.4-1.7-.9zM381.3 407.1l1.7 .8 2.6-.5-1.7-.7z" color="#41008c"/>
<path d="M383 407.9l1.6 .7 2.7-.4-1.7-.8z" color="#3b008d"/>
<path d="M384.6 408.6l1.7 .6 2.7-.4-1.7-.6zM386.3 409.2l1.7 .6 2.7-.4-1.7-.6z" color="#32008f"/>
<path d="M388 409.8l1.8 .5 2.6-.4-1.7-.5z" color="#290091"/>
<path d="M389.8 410.3l1.7 .4 2.7-.4-1.8-.4zM391.5 410.7l1.7 .3 2.7-.3-1.7-.4z" color="#200093"/>
<path d="M393.2 411l1.7 .3 2.7-.3-1.7-.3z" color="#160095"/>
<path d="M394.9 411.3l1.8 .2 2.7-.3-1.8-.2z" color="#0f0096"/>
<path d="M396.7 411.5l1.8 .1 2.7-.3-1.8-.1z" color="#090097"/>
<path d="M398.5 411.6l1.7 0 2.7-.2-1.7-.1z" color="#00009a"/>
<path d="M400.2 411.6l1.8 0 2.7-.2-1.8 0z" color="#00009f"/>
<path d="M402 411.6l1.8-.1 2.7-.2-1.8 .1z" color="#0000a3"/>
<path d="M338.4 364.6l5 7 7.7-2.1-5-7zM343.4 371.6l4.9 6.4 7.7-2-4.9-6.5zM348.3 378l5 5.9 7.7-2-5-5.9zM353.3 383.9l4.9 5.4 7.7-1.9-4.9-5.5zM358.2 389.3l4.9 4.9 7.8-1.9-5-4.9zM363.1 394.2l4.9 4.3 7.8-1.8-4.9-4.4zM368 398.5l4.9 3.7 7.9-1.7-5-3.8zM372.9 402.2l5 3.1 7.9-1.6-5-3.2zM377.9 405.3l5.1 2.6 7.9-1.5-5.1-2.7zM383 407.9l5 1.9 8-1.4-5.1-2zM388 409.8l5.2 1.2 8-1.2-5.2-1.4zM393.2 411l5.3 .6 8-1.1-5.3-.7zM398.5 411.6l5.3-.1 8.1-.9-5.4-.1z" class="m"/>
<path d="M335.8 365.2l1.7 2.4 2.6-.6-1.7-2.4z" color="#0000a8"/>
<path d="M337.5 367.6l1.6 2.3 2.6-.6-1.6-2.3z" color="#0000a3"/>
<path d="M339.1 369.9l1.7 2.3 2.6-.6-1.7-2.3z" color="#00009f"/>
<path d="M340.8 372.2l1.6 2.2 2.6-.6-1.6-2.2z" color="#00009a"/>
<path d="M342.4 374.4l1.7 2.1 2.6-.6-1.7-2.1z" color="#030098"/>
<path d="M344.1 376.5l1.6 2.1 2.6-.6-1.6-2.1zM345.7 378.6l1.7 2 2.6-.6-1.7-2z" color="#0f0096"/>
<path d="M347.4 380.6l1.6 2 2.6-.6-1.6-2z" color="#160095"/>
<path d="M349 382.6l1.6 1.9 2.7-.6-1.7-1.9z" color="#200093"/>
<path d="M350.6 384.5l1.7 1.8 2.6-.5-1.6-1.9z" color="#290091"/>
<path d="M352.3 386.3l1.6 1.8 2.6-.5-1.6-1.8zM353.9 388.1l1.6 1.8 2.7-.6-1.7-1.7z" color="#32008f"/>
<path d="M355.5 389.9l1.7 1.6 2.6-.5-1.6-1.7zM357.2 391.5l1.6 1.6 2.6-.5-1.6-1.6z" color="#3b008d"/>
<path d="M358.8 393.1l1.6 1.6 2.7-.5-1.7-1.6zM360.4 394.7l1.7 1.5 2.6-.5-1.6-1.5zM362.1 396.2l1.6 1.4 2.7-.5-1.7-1.4zM363.7 397.6l1.7 1.4 2.6-.5-1.6-1.4z" color="#41008c"/>
<path d="M365.4 399l1.6 1.2 2.6-.4-1.6-1.3zM367 400.2l1.6 1.3 2.7-.5-1.7-1.2zM368.6 401.5l1.7 1.1 2.6-.4-1.6-1.2zM370.3 402.6l1.6 1.1 2.7-.4-1.7-1.1z" color="#42008b"/>
<path d="M371.9 403.7l1.7 1.1 2.7-.4-1.7-1.1zM373.6 404.8l1.7 .9 2.6-.4-1.6-.9zM375.3 405.7l1.6 .9 2.7-.3-1.7-1z" color="#41008c"/>
<path d="M376.9 406.6l1.7 .9 2.7-.4-1.7-.8zM378.6 407.5l1.7 .7 2.7-.3-1.7-.8zM380.3 408.2l1.7 .7 2.6-.3-1.6-.7z" color="#3b008d"/>
<path d="M382 408.9l1.6 .6 2.7-.3-1.7-.6z" color="#32008f"/>
<path d="M383.6 409.5l1.7 .6 2.7-.3-1.7-.6zM385.3 410.1l1.8 .5 2.7-.3-1.8-.5z" color="#290091"/>
<path d="M387.1 410.6l1.7 .4 2.7-.3-1.7-.4z" color="#200093"/>
<path d="M388.8 411l1.7 .3 2.7-.3-1.7-.3z" color="#160095"/>
<path d="M390.5 411.3l1.7 .2 2.7-.2-1.7-.3z" color="#0f0096"/>
<path d="M392.2 411.5l1.8 .2 2.7-.2-1.8-.2z" color="#090097"/>
<path d="M394 411.7l1.7 .1 2.8-.2-1.8-.1z" color="#030098"/>
<path d="M395.7 411.8l1.8 0 2.7-.2-1.7 0z" color="#00009a"/>
<path d="M397.5 411.8l1.8 0 2.7-.2-1.8 0z" color="#00009f"/>
<path d="M399.3 411.8l1.8-.2 2.7-.1-1.8 .1z" color="#0000a8"/>
<path d="M333.2 365.8l1.7 2.4 2.6-.6-1.7-2.4z" color="#0000ac"/>
<path d="M334.9 368.2l1.6 2.3 2.6-.6-1.6-2.3z" color="#0000a3"/>
<path d="M336.5 370.5l1.7 2.2 2.6-.5-1.7-2.3z" color="#00009f"/>
<path d="M338.2 372.7l1.6 2.2 2.6-.5-1.6-2.2z" color="#00009a"/>
<path d="M339.8 374.9l1.7 2.2 2.6-.6-1.7-2.1z" color="#030098"/>
<path d="M341.5 377.1l1.6 2 2.6-.5-1.6-2.1z" color="#090097"/>
<path d="M343.1 379.1l1.6 2.1 2.7-.6-1.7-2z" color="#0f0096"/>
<path d="M344.7 381.2l1.7 1.9 2.6-.5-1.6-2z" color="#160095"/>
<path d="M346.4 383.1l1.6 1.9 2.6-.5-1.6-1.9z" color="#200093"/>
<path d="M348 385l1.6 1.9 2.7-.6-1.7-1.8zM349.6 386.9l1.7 1.7 2.6-.5-1.6-1.8z" color="#290091"/>
<path d="M351.3 388.6l1.6 1.8 2.6-.5-1.6-1.8zM352.9 390.4l1.6 1.6 2.7-.5-1.7-1.6z" color="#32008f"/>
<path d="M354.5 392l1.7 1.6 2.6-.5-1.6-1.6zM356.2 393.6l1.6 1.6 2.6-.5-1.6-1.6z" color="#3b008d"/>
<path d="M357.8 395.2l1.6 1.4 2.7-.4-1.7-1.5zM359.4 396.6l1.7 1.4 2.6-.4-1.6-1.4zM361.1 398l1.6 1.4 2.7-.4-1.7-1.4zM362.7 399.4l1.6 1.3 2.7-.5-1.6-1.2zM364.3 400.7l1.7 1.2 2.6-.4-1.6-1.3zM366 401.9l1.6 1.1 2.7-.4-1.7-1.1zM367.6 403l1.7 1.1 2.6-.4-1.6-1.1zM369.3 404.1l1.6 1 2.7-.3-1.7-1.1zM370.9 405.1l1.7 1 2.7-.4-1.7-.9z" color="#41008c"/>
<path d="M372.6 406.1l1.6 .9 2.7-.4-1.6-.9zM374.2 407l1.7 .8 2.7-.3-1.7-.9z" color="#3b008d"/>
<path d="M375.9 407.8l1.7 .7 2.7-.3-1.7-.7zM377.6 408.5l1.6 .7 2.8-.3-1.7-.7z" color="#32008f"/>
<path d="M379.2 409.2l1.7 .6 2.7-.3-1.6-.6zM380.9 409.8l1.7 .5 2.7-.2-1.7-.6z" color="#290091"/>
<path d="M382.6 410.3l1.7 .5 2.8-.2-1.8-.5z" color="#200093"/>
<path d="M384.3 410.8l1.7 .4 2.8-.2-1.7-.4z" color="#160095"/>
<path d="M386 411.2l1.8 .3 2.7-.2-1.7-.3z" color="#0f0096"/>
<path d="M387.8 411.5l1.7 .2 2.7-.2-1.7-.2z" color="#090097"/>
<path d="M389.5 411.7l1.7 .2 2.8-.2-1.8-.2z" color="#030098"/>
<path d="M391.2 411.9l1.8 0 2.7-.1-1.7-.1z" color="#00009a"/>
<path d="M393 411.9l1.7 0 2.8-.1-1.8 0z" color="#00009f"/>
<path d="M394.7 411.9l1.8-.1 2.8 0-1.8 0z" color="#0000a3"/>
<path d="M396.5 411.8l1.8-.2 2.8 0-1.8 .2zM330.6 366.4l1.6 2.3 2.7-.5-1.7-2.4z" color="#0000ac"/>
<path d="M332.2 368.7l1.7 2.3 2.6-.5-1.6-2.3z" color="#0000a3"/>
<path d="M333.9 371l1.6 2.3 2.7-.6-1.7-2.2z" color="#00009f"/>
<path d="M335.5 373.3l1.7 2.2 2.6-.6-1.6-2.2z" color="#00009a"/>
<path d="M337.2 375.5l1.6 2.1 2.7-.5-1.7-2.2z" color="#030098"/>
<path d="M338.8 377.6l1.6 2 2.7-.5-1.6-2z" color="#090097"/>
<path d="M340.4 379.6l1.7 2.1 2.6-.5-1.6-2.1z" color="#0f0096"/>
<path d="M342.1 381.7l1.6 1.9 2.7-.5-1.7-1.9z" color="#160095"/>
<path d="M343.7 383.6l1.6 1.9 2.7-.5-1.6-1.9zM345.3 385.5l1.7 1.8 2.6-.4-1.6-1.9z" color="#200093"/>
<path d="M347 387.3l1.6 1.8 2.7-.5-1.7-1.7z" color="#290091"/>
<path d="M348.6 389.1l1.6 1.7 2.7-.4-1.6-1.8zM350.2 390.8l1.7 1.7 2.6-.5-1.6-1.6z" color="#32008f"/>
<path d="M351.9 392.5l1.6 1.5 2.7-.4-1.7-1.6zM353.5 394l1.6 1.6 2.7-.4-1.6-1.6zM355.1 395.6l1.6 1.4 2.7-.4-1.6-1.4zM356.7 397l1.7 1.4 2.7-.4-1.7-1.4z" color="#3b008d"/>
<path d="M358.4 398.4l1.6 1.4 2.7-.4-1.6-1.4zM360 399.8l1.6 1.2 2.7-.3-1.6-1.3zM361.6 401l1.7 1.2 2.7-.3-1.7-1.2zM363.3 402.2l1.6 1.2 2.7-.4-1.6-1.1z" color="#41008c"/>
<path d="M364.9 403.4l1.6 1.1 2.8-.4-1.7-1.1zM366.5 404.5l1.7 1 2.7-.4-1.6-1zM368.2 405.5l1.6 .9 2.8-.3-1.7-1zM369.8 406.4l1.7 .9 2.7-.3-1.6-.9z" color="#3b008d"/>
<path d="M371.5 407.3l1.7 .8 2.7-.3-1.7-.8zM373.2 408.1l1.6 .7 2.8-.3-1.7-.7z" color="#32008f"/>
<path d="M374.8 408.8l1.7 .6 2.7-.2-1.6-.7zM376.5 409.4l1.7 .6 2.7-.2-1.7-.6z" color="#290091"/>
<path d="M378.2 410l1.7 .5 2.7-.2-1.7-.5z" color="#200093"/>
<path d="M379.9 410.5l1.7 .5 2.7-.2-1.7-.5z" color="#160095"/>
<path d="M381.6 411l1.7 .3 2.7-.1-1.7-.4z" color="#0f0096"/>
<path d="M383.3 411.3l1.7 .3 2.8-.1-1.8-.3z" color="#090097"/>
<path d="M385 411.6l1.7 .2 2.8-.1-1.7-.2z" color="#030098"/>
<path d="M386.7 411.8l1.8 .1 2.7 0-1.7-.2z" color="#00009a"/>
<path d="M388.5 411.9l1.7 .1 2.8-.1-1.8 0z" color="#00009f"/>
<path d="M390.2 412l1.8-.1 2.7 0-1.7 0z" color="#0000a3"/>
<path d="M392 411.9l1.7-.1 2.8 0-1.8 .1z" color="#0000a8"/>
<path d="M393.7 411.8l1.8-.2 2.8 0-1.8 .2z" color="#0000b1"/>
<path d="M330.6 366.4l4.9 6.9 7.9-1.7-5-7zM335.5 373.3l4.9 6.3 7.9-1.6-4.9-6.4zM340.4 379.6l4.9 5.9 8-1.6-5-5.9zM345.3 385.5l4.9 5.3 8-1.5-4.9-5.4zM350.2 390.8l4.9 4.8 8-1.4-4.9-4.9zM355.1 395.6l4.9 4.2 8-1.3-4.9-4.3zM360 399.8l4.9 3.6 8-1.2-4.9-3.7zM364.9 403.4l4.9 3 8.1-1.1-5-3.1zM369.8 406.4l5 2.4 8.2-.9-5.1-2.6zM374.8 408.8l5.1 1.7 8.1-.7-5-1.9zM379.9 410.5l5.1 1.1 8.2-.6-5.2-1.2zM385 411.6l5.2 .4 8.3-.4-5.3-.6zM390.2 412l5.3-.4 8.3-.1-5.3 .1z" class="m"/>
</g>
<g font-size="9.2" fill="#111" stroke="#111" stroke-width=".22">
<text x="319.4" y="291.4" text-anchor="end">5.5</text>
<text x="320.5" y="304.4" text-anchor="end">5.0</text>
<text x="321.5" y="317.6" text-anchor="end">4.5</text>
<text x="322.6" y="330.4" text-anchor="end">4.0</text>
<text x="323.7" y="342.6" text-anchor="end">3.5</text>
<text x="324.7" y="355" text-anchor="end">3.0</text>
<text x="325.8" y="366.8" text-anchor="end">2.5</text>
<text x="326.8" y="379.2" text-anchor="end">2.0</text>
<text x="327.9" y="390.4" text-anchor="end">1.5</text>
<text x="336.7" y="399.3" text-anchor="middle">8</text>
<text x="349.9" y="410.4" text-anchor="middle">6</text>
<text x="363.9" y="421.3" text-anchor="middle">4</text>
<text x="378.6" y="432.5" text-anchor="middle">2</text>
<text x="403.3" y="445.2" text-anchor="middle">50</text>
<text x="427" y="436.3" text-anchor="middle">40</text>
<text x="447.8" y="428.2" text-anchor="middle">30</text>
<text x="468.5" y="419.8" text-anchor="middle">20</text>
<text x="488" y="411.6" text-anchor="middle">10</text>
<text font-size="9.2" transform="translate(305 338.4) rotate(-90)" text-anchor="middle">Avenalin yield (%)</text>
<text font-size="9.4" transform="translate(345.8 430.6) rotate(37.8)" text-anchor="middle">Extraction time (min)</text>
<text font-size="9.0" transform="translate(455.8 442.4) rotate(-20.6)" text-anchor="middle">Sample/solvent ratio (w/v)</text>
</g>
<rect x="506.3" y="288.1" width="38.9" height="71.7" fill="#fff" stroke="#555" stroke-width="1"/>
<g font-size="5.8" fill="#222">
<rect x="510" y="293" width="13.7" height="4.3" fill="#000080" stroke="#333" stroke-width=".4"/>
<text x="527" y="297.2">&lt; 1.5</text>
<rect x="510" y="300.1" width="13.7" height="4.3" fill="#000098" stroke="#333" stroke-width=".4"/>
<text x="527" y="304.3">&lt; 2</text>
<rect x="510" y="307.2" width="13.7" height="4.3" fill="#0000ff" stroke="#333" stroke-width=".4"/>
<text x="527" y="311.4">&lt; 2.5</text>
<rect x="510" y="314.3" width="13.7" height="4.3" fill="#0050a8" stroke="#333" stroke-width=".4"/>
<text x="527" y="318.6">&lt; 3</text>
<rect x="510" y="321.5" width="13.7" height="4.3" fill="#00b800" stroke="#333" stroke-width=".4"/>
<text x="527" y="325.7">&lt; 3.5</text>
<rect x="510" y="328.6" width="13.7" height="4.3" fill="#00e010" stroke="#333" stroke-width=".4"/>
<text x="527" y="332.8">&lt; 4</text>
<rect x="510" y="335.7" width="13.7" height="4.3" fill="#fff000" stroke="#333" stroke-width=".4"/>
<text x="527" y="340">&lt; 4.5</text>
<rect x="510" y="342.9" width="13.7" height="4.3" fill="#ffa000" stroke="#333" stroke-width=".4"/>
<text x="527" y="347.1">&lt; 5</text>
<rect x="510" y="350" width="13.7" height="4.3" fill="#ff4c00" stroke="#333" stroke-width=".4"/>
<text x="527" y="354.2">&lt; 5.5</text>
</g>
<text x="410.4" y="487" text-anchor="middle" font-family="'Liberation Serif',serif" font-size="12.6" letter-spacing=".7" fill="#111" stroke="#111" stroke-width=".2">(<tspan font-weight="bold">d</tspan>)</text>
<g fill="none" stroke-linecap="round" stroke-linejoin="round">
<path d="M47.1 668L106.5 619.7L103.8 522.2L37.7 556.3z" fill="#fff"/>
<path d="M106.5 619.7L212.9 638.5L220.2 536.2L103.8 522.2z" fill="#fff"/>
<path d="M47.1 668L106.5 619.7M45.8 653.1L106.1 606.7M44.6 637.8L105.8 593.3M43.2 622.2L105.4 579.7M41.9 606.3L105 565.8M40.5 590L104.6 551.6M39.1 573.3L104.2 537.1M37.7 556.3L103.8 522.2M54.5 662L45.9 552.1M68.6 650.5L61.6 543.9M82 639.7L76.5 536.3M94.6 629.4L90.5 529.1M106.5 619.7L103.8 522.2M106.5 619.7L212.9 638.5M106.1 606.7L213.9 624.8M105.8 593.3L214.9 610.9M105.4 579.7L215.9 596.6M105 565.8L216.9 582M104.6 551.6L218 567.1M104.2 537.1L219.1 551.8M103.8 522.2L220.2 536.2M106.5 619.7L103.8 522.2M126.7 623.3L125.8 524.9M147.3 626.9L148.5 527.6M168.6 630.7L171.7 530.4M190.4 634.5L195.6 533.2M212.9 638.5L220.2 536.2M47.1 668L106.5 619.7M70 673.5L126.7 623.3M93.4 679.1L147.3 626.9M117.5 684.9L168.6 630.7M142.3 690.9L190.4 634.5M167.8 697L212.9 638.5M54.5 662L173.4 689.7M68.6 650.5L184.1 675.8M82 639.7L194.3 662.7M94.6 629.4L203.8 650.3M106.5 619.7L212.9 638.5" stroke="#dcdcdc" stroke-width="0.7"/>
<path d="M47.1 668L106.5 619.7L103.8 522.2L37.7 556.3zM106.5 619.7L212.9 638.5L220.2 536.2L103.8 522.2zM47.1 668L167.8 697L212.9 638.5L106.5 619.7z" stroke="#8a8a8a" stroke-width="0.7"/>
<path d="M47.1 668l-2 1.6M70 673.5l-1.9 1.7M93.4 679.1l-1.9 1.8M117.5 684.9l-1.8 1.9M142.3 690.9l-1.7 2M167.8 697l-1.6 2.1M173.4 689.7l2.5 0.6M184.1 675.8l2.5 0.6M194.3 662.7l2.5 0.5M203.8 650.3l2.6 0.5M212.9 638.5l2.6 0.5M47.1 668l-2 1.6M45.8 653.1l-2.1 1.6M44.6 637.8l-2.1 1.5M43.2 622.2l-2.1 1.5M41.9 606.3l-2.2 1.4M40.5 590l-2.2 1.3M39.1 573.3l-2.3 1.3M37.7 556.3l-2.3 1.2" stroke="#8a8a8a" stroke-width="0.8"/>
</g>
<g stroke-linejoin="round" fill="currentColor" stroke="currentColor" stroke-width=".9">
<path d="M104.1 581.9l3.7 1.4 1.5 5.7-3.7-1.4z" color="#00b430"/>
<path d="M107.8 583.3l3.8 1.5 1.4 5.5-3.7-1.3z" color="#00a73a"/>
<path d="M111.6 584.8l3.7 1.5 1.4 5.4-3.7-1.4z" color="#008b53"/>
<path d="M115.3 586.3l3.8 1.5 1.3 5.4-3.7-1.5z" color="#007b67"/>
<path d="M119.1 587.8l3.8 1.5 1.3 5.3-3.8-1.4z" color="#006b7b"/>
<path d="M122.9 589.3l3.7 1.6 1.3 5.2-3.7-1.5z" color="#004ba3"/>
<path d="M126.6 590.9l3.8 1.6 1.3 5.1-3.8-1.5z" color="#0032c2"/>
<path d="M130.4 592.5l3.8 1.6 1.3 5-3.8-1.5z" color="#001adf"/>
<path d="M134.2 594.1l3.9 1.6 1.1 5-3.7-1.6z" color="#000eee"/>
<path d="M138.1 595.7l3.8 1.7 1.1 4.9-3.8-1.6z" color="#0000fd"/>
<path d="M141.9 597.4l3.8 1.7 1.1 4.8-3.8-1.6z" color="#0000f8"/>
<path d="M145.7 599.1l3.9 1.7 1.1 4.7-3.9-1.6z" color="#0000f3"/>
<path d="M149.6 600.8l3.8 1.8 1.1 4.5-3.8-1.6z" color="#0000e6"/>
<path d="M153.4 602.6l3.9 1.7 1 4.5-3.8-1.7z" color="#0000dc"/>
<path d="M157.3 604.3l3.9 1.8 1 4.4-3.9-1.7z" color="#0000d1"/>
<path d="M161.2 606.1l3.9 1.8 .9 4.4-3.8-1.8z" color="#0000c2"/>
<path d="M165.1 607.9l3.9 1.9 .9 4.2-3.9-1.7z" color="#0000b8"/>
<path d="M169 609.8l3.9 1.8 .9 4.2-3.9-1.8z" color="#0000aa"/>
<path d="M172.9 611.6l3.9 1.9 .9 4.1-3.9-1.8z" color="#00009f"/>
<path d="M176.8 613.5l3.9 2 .9 4-3.9-1.9z" color="#000093"/>
<path d="M180.7 615.5l4 1.9 .8 3.9-3.9-1.8z" color="#00008c"/>
<path d="M184.7 617.4l3.9 2 .8 3.8-3.9-1.9zM188.6 619.4l4 2 .7 3.7-3.9-1.9zM192.6 621.4l4 2 .7 3.7-4-2zM196.6 623.4l3.9 2 .7 3.6-3.9-1.9zM200.5 625.4l4 2.1 .7 3.5-4-2zM204.5 627.5l4 2.1 .7 3.5-4-2.1zM208.5 629.6l4 2.1 .6 3.4-3.9-2z" color="#000080"/>
<path d="M102.6 576.6l3.8 1.5 1.4 5.2-3.7-1.4zM106.4 578.1l3.8 1.5 1.4 5.2-3.8-1.5zM110.2 579.6l3.7 1.6 1.4 5.1-3.7-1.5z" color="#00e010"/>
<path d="M113.9 581.2l3.8 1.6 1.4 5-3.8-1.5z" color="#00da15"/>
<path d="M117.7 582.8l3.8 1.6 1.4 4.9-3.8-1.5z" color="#00cd1e"/>
<path d="M121.5 584.4l3.8 1.7 1.3 4.8-3.7-1.6z" color="#00b430"/>
<path d="M125.3 586.1l3.9 1.6 1.2 4.8-3.8-1.6z" color="#009a43"/>
<path d="M129.2 587.7l3.8 1.7 1.2 4.7-3.8-1.6z" color="#008b53"/>
<path d="M133 589.4l3.9 1.7 1.2 4.6-3.9-1.6z" color="#006b7b"/>
<path d="M136.9 591.1l3.8 1.8 1.2 4.5-3.8-1.7z" color="#004ba3"/>
<path d="M140.7 592.9l3.9 1.7 1.1 4.5-3.8-1.7z" color="#0032c2"/>
<path d="M144.6 594.6l3.9 1.8 1.1 4.4-3.9-1.7z" color="#000eee"/>
<path d="M148.5 596.4l3.9 1.8 1 4.4-3.8-1.8z" color="#0000fd"/>
<path d="M152.4 598.2l3.9 1.9 1 4.2-3.9-1.7z" color="#0000f8"/>
<path d="M156.3 600.1l3.9 1.8 1 4.2-3.9-1.8z" color="#0000f0"/>
<path d="M160.2 601.9l3.9 1.9 1 4.1-3.9-1.8z" color="#0000e6"/>
<path d="M164.1 603.8l3.9 1.9 1 4.1-3.9-1.9z" color="#0000d6"/>
<path d="M168 605.7l4 2 .9 3.9-3.9-1.8z" color="#0000c7"/>
<path d="M172 607.7l3.9 1.9 .9 3.9-3.9-1.9z" color="#0000b8"/>
<path d="M175.9 609.6l4 2 .8 3.9-3.9-2z" color="#0000ae"/>
<path d="M179.9 611.6l3.9 2 .9 3.8-4-1.9z" color="#0000a3"/>
<path d="M183.8 613.6l4 2.1 .8 3.7-3.9-2z" color="#000093"/>
<path d="M187.8 615.7l4 2 .8 3.7-4-2z" color="#000088"/>
<path d="M191.8 617.7l4 2.1 .8 3.6-4-2zM195.8 619.8l4 2.1 .7 3.5-3.9-2zM199.8 621.9l4 2.1 .7 3.5-4-2.1zM203.8 624l4 2.2 .7 3.4-4-2.1zM207.8 626.2l4.1 2.2 .6 3.3-4-2.1z" color="#000080"/>
<path d="M101.1 571.7l3.8 1.6 1.5 4.8-3.8-1.5zM104.9 573.3l3.8 1.6 1.5 4.7-3.8-1.5zM108.7 574.9l3.8 1.6 1.4 4.7-3.7-1.6zM112.5 576.5l3.8 1.7 1.4 4.6-3.8-1.6zM116.3 578.2l3.9 1.7 1.3 4.5-3.8-1.6zM120.2 579.9l3.8 1.7 1.3 4.5-3.8-1.7zM124 581.6l3.9 1.7 1.3 4.4-3.9-1.6z" color="#00e010"/>
<path d="M127.9 583.3l3.9 1.8 1.2 4.3-3.8-1.7z" color="#00da15"/>
<path d="M131.8 585.1l3.8 1.7 1.3 4.3-3.9-1.7z" color="#00c027"/>
<path d="M135.6 586.8l3.9 1.8 1.2 4.3-3.8-1.8z" color="#00a73a"/>
<path d="M139.5 588.6l3.9 1.9 1.2 4.1-3.9-1.7z" color="#008b53"/>
<path d="M143.4 590.5l3.9 1.8 1.2 4.1-3.9-1.8z" color="#006b7b"/>
<path d="M147.3 592.3l4 1.9 1.1 4-3.9-1.8z" color="#003eb4"/>
<path d="M151.3 594.2l3.9 1.9 1.1 4-3.9-1.9z" color="#0026d1"/>
<path d="M155.2 596.1l3.9 1.9 1.1 3.9-3.9-1.8z" color="#0002fd"/>
<path d="M159.1 598l4 2 1 3.8-3.9-1.9z" color="#0000fa"/>
<path d="M163.1 600l3.9 1.9 1 3.8-3.9-1.9z" color="#0000f3"/>
<path d="M167 601.9l4 2 1 3.8-4-2z" color="#0000e6"/>
<path d="M171 603.9l4 2 .9 3.7-3.9-1.9z" color="#0000d6"/>
<path d="M175 605.9l4 2.1 .9 3.6-4-2z" color="#0000c7"/>
<path d="M179 608l4 2 .8 3.6-3.9-2z" color="#0000b8"/>
<path d="M183 610l4 2.1 .8 3.6-4-2.1z" color="#0000aa"/>
<path d="M187 612.1l4 2.1 .8 3.5-4-2z" color="#00009f"/>
<path d="M191 614.2l4 2.2 .8 3.4-4-2.1z" color="#000093"/>
<path d="M195 616.4l4 2.1 .8 3.4-4-2.1z" color="#000084"/>
<path d="M199 618.5l4.1 2.2 .7 3.3-4-2.1zM203.1 620.7l4 2.2 .7 3.3-4-2.2zM207.1 622.9l4.1 2.3 .7 3.2-4.1-2.2z" color="#000080"/>
<path d="M101.1 571.7l7.6 3.2 4.3 15.4-7.4-2.7zM108.7 574.9l7.6 3.3 4.1 15-7.4-2.9zM116.3 578.2l7.7 3.4 3.9 14.5-7.5-2.9zM124 581.6l7.8 3.5 3.7 14-7.6-3zM131.8 585.1l7.7 3.5 3.5 13.7-7.5-3.2zM139.5 588.6l7.8 3.7 3.4 13.2-7.7-3.2zM147.3 592.3l7.9 3.8 3.1 12.7-7.6-3.3zM155.2 596.1l7.9 3.9 2.9 12.3-7.7-3.5zM163.1 600l7.9 3.9 2.8 11.9-7.8-3.5zM171 603.9l8 4.1 2.6 11.5-7.8-3.7zM179 608l8 4.1 2.4 11.1-7.8-3.7zM187 612.1l8 4.3 2.3 10.7-7.9-3.9zM195 616.4l8.1 4.3 2.1 10.3-7.9-3.9zM203.1 620.7l8.1 4.5 1.9 9.9-7.9-4.1z" class="m"/>
<path d="M99.6 567.2l3.8 1.7 1.5 4.4-3.8-1.6z" color="#88ff00"/>
<path d="M103.4 568.9l3.9 1.6 1.4 4.4-3.8-1.6z" color="#6df903"/>
<path d="M107.3 570.5l3.8 1.7 1.4 4.3-3.8-1.6z" color="#36ec0a"/>
<path d="M111.1 572.2l3.9 1.8 1.3 4.2-3.8-1.7z" color="#1be60d"/>
<path d="M115 574l3.8 1.7 1.4 4.2-3.9-1.7zM118.8 575.7l3.9 1.8 1.3 4.1-3.8-1.7zM122.7 577.5l3.9 1.7 1.3 4.1-3.9-1.7zM126.6 579.2l3.9 1.9 1.3 4-3.9-1.8zM130.5 581.1l3.9 1.8 1.2 3.9-3.8-1.7zM134.4 582.9l3.9 1.8 1.2 3.9-3.9-1.8z" color="#00e010"/>
<path d="M138.3 584.7l3.9 1.9 1.2 3.9-3.9-1.9z" color="#00da15"/>
<path d="M142.2 586.6l4 1.9 1.1 3.8-3.9-1.8z" color="#00c027"/>
<path d="M146.2 588.5l3.9 1.9 1.2 3.8-4-1.9z" color="#009a43"/>
<path d="M150.1 590.4l4 2 1.1 3.7-3.9-1.9z" color="#007b67"/>
<path d="M154.1 592.4l3.9 2 1.1 3.6-3.9-1.9z" color="#004ba3"/>
<path d="M158 594.4l4 1.9 1.1 3.7-4-2z" color="#0026d1"/>
<path d="M162 596.3l4 2.1 1 3.5-3.9-1.9z" color="#000eee"/>
<path d="M166 598.4l4 2 1 3.5-4-2z" color="#0000fa"/>
<path d="M170 600.4l4 2.1 1 3.4-4-2z" color="#0000f3"/>
<path d="M174 602.5l4 2 1 3.5-4-2.1z" color="#0000e6"/>
<path d="M178 604.5l4.1 2.1 .9 3.4-4-2z" color="#0000d6"/>
<path d="M182.1 606.6l4 2.2 .9 3.3-4-2.1z" color="#0000c7"/>
<path d="M186.1 608.8l4 2.1 .9 3.3-4-2.1z" color="#0000b3"/>
<path d="M190.1 610.9l4.1 2.2 .8 3.3-4-2.2z" color="#0000a6"/>
<path d="M194.2 613.1l4 2.2 .8 3.2-4-2.1z" color="#00009b"/>
<path d="M198.2 615.3l4.1 2.2 .8 3.2-4.1-2.2z" color="#00008c"/>
<path d="M202.3 617.5l4.1 2.3 .7 3.1-4-2.2zM206.4 619.8l4.1 2.2 .7 3.2-4.1-2.3z" color="#000080"/>
<path d="M98.1 563.2l3.8 1.7 1.5 4-3.8-1.7zM101.9 564.9l3.9 1.8 1.5 3.8-3.9-1.6z" color="#fff000"/>
<path d="M105.8 566.7l3.9 1.7 1.4 3.8-3.8-1.7z" color="#def400"/>
<path d="M109.7 568.4l3.8 1.8 1.5 3.8-3.9-1.8z" color="#a5fb00"/>
<path d="M113.5 570.2l3.9 1.7 1.4 3.8-3.8-1.7z" color="#88ff00"/>
<path d="M117.4 571.9l3.9 1.8 1.4 3.8-3.9-1.8z" color="#52f306"/>
<path d="M121.3 573.7l4 1.9 1.3 3.6-3.9-1.7z" color="#1be60d"/>
<path d="M125.3 575.6l3.9 1.8 1.3 3.7-3.9-1.9zM129.2 577.4l3.9 1.9 1.3 3.6-3.9-1.8zM133.1 579.3l4 1.9 1.2 3.5-3.9-1.8zM137.1 581.2l3.9 1.9 1.2 3.5-3.9-1.9zM141 583.1l4 1.9 1.2 3.5-4-1.9zM145 585l4 2 1.1 3.4-3.9-1.9z" color="#00e010"/>
<path d="M149 587l4 2 1.1 3.4-4-2z" color="#00c027"/>
<path d="M153 589l4 2 1 3.4-3.9-2z" color="#009a43"/>
<path d="M157 591l4 2 1 3.3-4-1.9z" color="#007b67"/>
<path d="M161 593l4 2.1 1 3.3-4-2.1z" color="#004ba3"/>
<path d="M165 595.1l4 2 1 3.3-4-2z" color="#0026d1"/>
<path d="M169 597.1l4 2.1 1 3.3-4-2.1z" color="#0002fd"/>
<path d="M173 599.2l4.1 2.1 .9 3.2-4-2z" color="#0000f8"/>
<path d="M177.1 601.3l4 2.2 1 3.1-4.1-2.1z" color="#0000f0"/>
<path d="M181.1 603.5l4.1 2.1 .9 3.2-4-2.2z" color="#0000e1"/>
<path d="M185.2 605.6l4.1 2.2 .8 3.1-4-2.1z" color="#0000cc"/>
<path d="M189.3 607.8l4 2.2 .9 3.1-4.1-2.2z" color="#0000bd"/>
<path d="M193.3 610l4.1 2.2 .8 3.1-4-2.2z" color="#0000ae"/>
<path d="M197.4 612.2l4.1 2.3 .8 3-4.1-2.2z" color="#00009f"/>
<path d="M201.5 614.5l4.1 2.3 .8 3-4.1-2.3z" color="#000093"/>
<path d="M205.6 616.8l4.1 2.3 .8 2.9-4.1-2.2z" color="#000084"/>
<path d="M96.5 559.7l3.9 1.8 1.5 3.4-3.8-1.7zM100.4 561.5l3.9 1.7 1.5 3.5-3.9-1.8zM104.3 563.2l3.9 1.8 1.5 3.4-3.9-1.7zM108.2 565l3.9 1.8 1.4 3.4-3.8-1.8zM112.1 566.8l3.9 1.8 1.4 3.3-3.9-1.7z" color="#fff000"/>
<path d="M116 568.6l4 1.8 1.3 3.3-3.9-1.8z" color="#def400"/>
<path d="M120 570.4l3.9 1.9 1.4 3.3-4-1.9z" color="#a5fb00"/>
<path d="M123.9 572.3l4 1.9 1.3 3.2-3.9-1.8z" color="#6df903"/>
<path d="M127.9 574.2l3.9 1.9 1.3 3.2-3.9-1.9z" color="#36ec0a"/>
<path d="M131.8 576.1l4 1.9 1.3 3.2-4-1.9zM135.8 578l4 1.9 1.2 3.2-3.9-1.9zM139.8 579.9l4 2 1.2 3.1-4-1.9zM143.8 581.9l4 2 1.2 3.1-4-2zM147.8 583.9l4 2 1.2 3.1-4-2z" color="#00e010"/>
<path d="M151.8 585.9l4 2 1.2 3.1-4-2z" color="#00da15"/>
<path d="M155.8 587.9l4.1 2.1 1.1 3-4-2z" color="#00c027"/>
<path d="M159.9 590l4 2 1.1 3.1-4-2.1z" color="#009a43"/>
<path d="M163.9 592l4.1 2.1 1 3-4-2z" color="#006b7b"/>
<path d="M168 594.1l4 2.1 1 3-4-2.1z" color="#003eb4"/>
<path d="M172 596.2l4.1 2.2 1 2.9-4.1-2.1z" color="#001adf"/>
<path d="M176.1 598.4l4.1 2.1 .9 3-4-2.2z" color="#0000fd"/>
<path d="M180.2 600.5l4.1 2.2 .9 2.9-4.1-2.1z" color="#0000f5"/>
<path d="M184.3 602.7l4 2.2 1 2.9-4.1-2.2z" color="#0000e6"/>
<path d="M188.3 604.9l4.2 2.2 .8 2.9-4-2.2z" color="#0000d6"/>
<path d="M192.5 607.1l4.1 2.3 .8 2.8-4.1-2.2z" color="#0000c2"/>
<path d="M196.6 609.4l4.1 2.2 .8 2.9-4.1-2.3z" color="#0000b3"/>
<path d="M200.7 611.6l4.1 2.3 .8 2.9-4.1-2.3z" color="#0000a3"/>
<path d="M204.8 613.9l4.2 2.3 .7 2.9-4.1-2.3z" color="#000097"/>
<path d="M96.5 559.7l7.8 3.5 4.4 11.7-7.6-3.2zM104.3 563.2l7.8 3.6 4.2 11.4-7.6-3.3zM112.1 566.8l7.9 3.6 4 11.2-7.7-3.4zM120 570.4l7.9 3.8 3.9 10.9-7.8-3.5zM127.9 574.2l7.9 3.8 3.7 10.6-7.7-3.5zM135.8 578l8 3.9 3.5 10.4-7.8-3.7zM143.8 581.9l8 4 3.4 10.2-7.9-3.8zM151.8 585.9l8.1 4.1 3.2 10-7.9-3.9zM159.9 590l8.1 4.1 3 9.8-7.9-3.9zM168 594.1l8.1 4.3 2.9 9.6-8-4.1zM176.1 598.4l8.2 4.3 2.7 9.4-8-4.1zM184.3 602.7l8.2 4.4 2.5 9.3-8-4.3zM192.5 607.1l8.2 4.5 2.4 9.1-8.1-4.3zM200.7 611.6l8.3 4.6 2.2 9-8.1-4.5z" class="m"/>
<path d="M95 556.7l3.9 1.8 1.5 3-3.9-1.8z" color="#ffe200"/>
<path d="M98.9 558.5l3.9 1.7 1.5 3-3.9-1.7z" color="#ffea00"/>
<path d="M102.8 560.2l4 1.8 1.4 3-3.9-1.8zM106.8 562l3.9 1.9 1.4 2.9-3.9-1.8zM110.7 563.9l3.9 1.8 1.4 2.9-3.9-1.8zM114.6 565.7l4 1.8 1.4 2.9-4-1.8zM118.6 567.5l4 1.9 1.3 2.9-3.9-1.9z" color="#fff000"/>
<path d="M122.6 569.4l3.9 1.9 1.4 2.9-4-1.9z" color="#faf100"/>
<path d="M126.5 571.3l4 1.9 1.3 2.9-3.9-1.9z" color="#a5fb00"/>
<path d="M130.5 573.2l4 2 1.3 2.8-4-1.9z" color="#6df903"/>
<path d="M134.5 575.2l4 1.9 1.3 2.8-4-1.9z" color="#36ec0a"/>
<path d="M138.5 577.1l4.1 2 1.2 2.8-4-2zM142.6 579.1l4 2 1.2 2.8-4-2zM146.6 581.1l4 2 1.2 2.8-4-2zM150.6 583.1l4.1 2 1.1 2.8-4-2zM154.7 585.1l4 2.1 1.2 2.8-4.1-2.1z" color="#00e010"/>
<path d="M158.7 587.2l4.1 2.1 1.1 2.7-4-2z" color="#00cd1e"/>
<path d="M162.8 589.3l4.1 2.1 1.1 2.7-4.1-2.1z" color="#00a73a"/>
<path d="M166.9 591.4l4.1 2.1 1 2.7-4-2.1z" color="#007b67"/>
<path d="M171 593.5l4.1 2.1 1 2.8-4.1-2.2z" color="#004ba3"/>
<path d="M175.1 595.6l4.1 2.2 1 2.7-4.1-2.1z" color="#0026d1"/>
<path d="M179.2 597.8l4.1 2.2 1 2.7-4.1-2.2z" color="#0002fd"/>
<path d="M183.3 600l4.1 2.2 .9 2.7-4-2.2z" color="#0000f8"/>
<path d="M187.4 602.2l4.1 2.2 1 2.7-4.2-2.2z" color="#0000eb"/>
<path d="M191.5 604.4l4.2 2.3 .9 2.7-4.1-2.3z" color="#0000dc"/>
<path d="M195.7 606.7l4.1 2.2 .9 2.7-4.1-2.2z" color="#0000c7"/>
<path d="M199.8 608.9l4.2 2.3 .8 2.7-4.1-2.3z" color="#0000b8"/>
<path d="M204 611.2l4.2 2.3 .8 2.7-4.2-2.3z" color="#0000a6"/>
<path d="M93.5 554.2l3.9 1.8 1.5 2.5-3.9-1.8z" color="#ffc400"/>
<path d="M97.4 556l3.9 1.8 1.5 2.4-3.9-1.7z" color="#ffcc00"/>
<path d="M101.3 557.8l4 1.8 1.5 2.4-4-1.8z" color="#ffdb00"/>
<path d="M105.3 559.6l4 1.8 1.4 2.5-3.9-1.9z" color="#ffea00"/>
<path d="M109.3 561.4l3.9 1.8 1.4 2.5-3.9-1.8zM113.2 563.2l4 1.9 1.4 2.4-4-1.8zM117.2 565.1l4 1.9 1.4 2.4-4-1.9zM121.2 567l4 1.9 1.3 2.4-3.9-1.9zM125.2 568.9l4 1.9 1.3 2.4-4-1.9z" color="#fff000"/>
<path d="M129.2 570.8l4 1.9 1.3 2.5-4-2z" color="#def400"/>
<path d="M133.2 572.7l4.1 2 1.2 2.4-4-1.9z" color="#a5fb00"/>
<path d="M137.3 574.7l4 2 1.3 2.4-4.1-2z" color="#6df903"/>
<path d="M141.3 576.7l4.1 2 1.2 2.4-4-2z" color="#1be60d"/>
<path d="M145.4 578.7l4 2 1.2 2.4-4-2zM149.4 580.7l4.1 2 1.2 2.4-4.1-2zM153.5 582.7l4.1 2.1 1.1 2.4-4-2.1zM157.6 584.8l4.1 2.1 1.1 2.4-4.1-2.1zM161.7 586.9l4.1 2.1 1.1 2.4-4.1-2.1z" color="#00e010"/>
<path d="M165.8 589l4.1 2.1 1.1 2.4-4.1-2.1z" color="#00c027"/>
<path d="M169.9 591.1l4.1 2.1 1.1 2.4-4.1-2.1z" color="#009a43"/>
<path d="M174 593.2l4.2 2.2 1 2.4-4.1-2.2z" color="#005b8f"/>
<path d="M178.2 595.4l4.1 2.1 1 2.5-4.1-2.2z" color="#0032c2"/>
<path d="M182.3 597.5l4.2 2.2 .9 2.5-4.1-2.2z" color="#000eee"/>
<path d="M186.5 599.7l4.1 2.3 .9 2.4-4.1-2.2z" color="#0000fa"/>
<path d="M190.6 602l4.2 2.2 .9 2.5-4.2-2.3z" color="#0000f0"/>
<path d="M194.8 604.2l4.2 2.3 .8 2.4-4.1-2.2z" color="#0000e1"/>
<path d="M199 606.5l4.2 2.2 .8 2.5-4.2-2.3z" color="#0000cc"/>
<path d="M203.2 608.7l4.2 2.3 .8 2.5-4.2-2.3z" color="#0000b8"/>
<path d="M91.9 552.2l4 1.8 1.5 2-3.9-1.8z" color="#ffa200"/>
<path d="M95.9 554l4 1.8 1.4 2-3.9-1.8z" color="#ffb500"/>
<path d="M99.9 555.8l3.9 1.8 1.5 2-4-1.8z" color="#ffbd00"/>
<path d="M103.8 557.6l4 1.8 1.5 2-4-1.8z" color="#ffcc00"/>
<path d="M107.8 559.4l4 1.8 1.4 2-3.9-1.8z" color="#ffdb00"/>
<path d="M111.8 561.2l4 1.9 1.4 2-4-1.9z" color="#ffea00"/>
<path d="M115.8 563.1l4 1.9 1.4 2-4-1.9zM119.8 565l4.1 1.9 1.3 2-4-1.9zM123.9 566.9l4 1.9 1.3 2-4-1.9zM127.9 568.8l4 1.9 1.3 2-4-1.9z" color="#fff000"/>
<path d="M131.9 570.7l4.1 2 1.3 2-4.1-2z" color="#faf100"/>
<path d="M136 572.7l4.1 1.9 1.2 2.1-4-2z" color="#c1f800"/>
<path d="M140.1 574.6l4 2 1.3 2.1-4.1-2z" color="#88ff00"/>
<path d="M144.1 576.6l4.1 2 1.2 2.1-4-2z" color="#36ec0a"/>
<path d="M148.2 578.6l4.1 2 1.2 2.1-4.1-2zM152.3 580.6l4.1 2.1 1.2 2.1-4.1-2.1zM156.4 582.7l4.2 2.1 1.1 2.1-4.1-2.1zM160.6 584.8l4.1 2 1.1 2.2-4.1-2.1zM164.7 586.8l4.1 2.1 1.1 2.2-4.1-2.1z" color="#00e010"/>
<path d="M168.8 588.9l4.2 2.2 1 2.1-4.1-2.1z" color="#00c027"/>
<path d="M173 591.1l4.1 2.1 1.1 2.2-4.2-2.2z" color="#009a43"/>
<path d="M177.1 593.2l4.2 2.2 1 2.1-4.1-2.1z" color="#006b7b"/>
<path d="M181.3 595.4l4.2 2.1 1 2.2-4.2-2.2z" color="#003eb4"/>
<path d="M185.5 597.5l4.2 2.2 .9 2.3-4.1-2.3z" color="#001adf"/>
<path d="M189.7 599.7l4.2 2.3 .9 2.2-4.2-2.2z" color="#0000fa"/>
<path d="M193.9 602l4.2 2.2 .9 2.3-4.2-2.3z" color="#0000f3"/>
<path d="M198.1 604.2l4.2 2.2 .9 2.3-4.2-2.2z" color="#0000e1"/>
<path d="M202.3 606.4l4.2 2.3 .9 2.3-4.2-2.3z" color="#0000cc"/>
<path d="M91.9 552.2l8 3.6 4.4 7.4-7.8-3.5zM99.9 555.8l7.9 3.6 4.3 7.4-7.8-3.6zM107.8 559.4l8 3.7 4.2 7.3-7.9-3.6zM115.8 563.1l8.1 3.8 4 7.3-7.9-3.8zM123.9 566.9l8 3.8 3.9 7.3-7.9-3.8zM131.9 570.7l8.2 3.9 3.7 7.3-8-3.9zM140.1 574.6l8.1 4 3.6 7.3-8-4zM148.2 578.6l8.2 4.1 3.5 7.3-8.1-4.1zM156.4 582.7l8.3 4.1 3.3 7.3-8.1-4.1zM164.7 586.8l8.3 4.3 3.1 7.3-8.1-4.3zM173 591.1l8.3 4.3 3 7.3-8.2-4.3zM181.3 595.4l8.4 4.3 2.8 7.4-8.2-4.4zM189.7 599.7l8.4 4.5 2.6 7.4-8.2-4.5zM198.1 604.2l8.4 4.5 2.5 7.5-8.3-4.6z" class="m"/>
<path d="M90.4 550.8l4 1.7 1.5 1.5-4-1.8z" color="#ff8500"/>
<path d="M94.4 552.5l4 1.8 1.5 1.5-4-1.8z" color="#ff9800"/>
<path d="M98.4 554.3l4 1.8 1.4 1.5-3.9-1.8z" color="#ffab00"/>
<path d="M102.4 556.1l4 1.8 1.4 1.5-4-1.8z" color="#ffb500"/>
<path d="M106.4 557.9l4 1.8 1.4 1.5-4-1.8z" color="#ffc400"/>
<path d="M110.4 559.7l4 1.9 1.4 1.5-4-1.9z" color="#ffd300"/>
<path d="M114.4 561.6l4 1.8 1.4 1.6-4-1.9z" color="#ffe200"/>
<path d="M118.4 563.4l4.1 1.9 1.4 1.6-4.1-1.9zM122.5 565.3l4 1.9 1.4 1.6-4-1.9zM126.5 567.2l4.1 1.9 1.3 1.6-4-1.9zM130.6 569.1l4.1 1.9 1.3 1.7-4.1-2zM134.7 571l4.1 2 1.3 1.6-4.1-1.9z" color="#fff000"/>
<path d="M138.8 573l4.1 1.9 1.2 1.7-4-2z" color="#def400"/>
<path d="M142.9 574.9l4.1 2 1.2 1.7-4.1-2z" color="#88ff00"/>
<path d="M147 576.9l4.1 2 1.2 1.7-4.1-2z" color="#52f306"/>
<path d="M151.1 578.9l4.1 2 1.2 1.8-4.1-2.1zM155.2 580.9l4.2 2.1 1.2 1.8-4.2-2.1zM159.4 583l4.1 2 1.2 1.8-4.1-2zM163.5 585l4.2 2.1 1.1 1.8-4.1-2.1zM167.7 587.1l4.2 2.1 1.1 1.9-4.2-2.2z" color="#00e010"/>
<path d="M171.9 589.2l4.2 2.1 1 1.9-4.1-2.1z" color="#00cd1e"/>
<path d="M176.1 591.3l4.2 2.2 1 1.9-4.2-2.2z" color="#00a73a"/>
<path d="M180.3 593.5l4.2 2.1 1 1.9-4.2-2.1z" color="#006b7b"/>
<path d="M184.5 595.6l4.2 2.2 1 1.9-4.2-2.2z" color="#003eb4"/>
<path d="M188.7 597.8l4.2 2.2 1 2-4.2-2.3z" color="#001adf"/>
<path d="M192.9 600l4.2 2.2 1 2-4.2-2.2z" color="#0000fa"/>
<path d="M197.1 602.2l4.3 2.2 .9 2-4.2-2.2z" color="#0000f3"/>
<path d="M201.4 604.4l4.2 2.2 .9 2.1-4.2-2.3z" color="#0000e1"/>
<path d="M88.9 549.9l4 1.7 1.5 .9-4-1.7z" color="#ff7200"/>
<path d="M92.9 551.6l4 1.7 1.5 1-4-1.8z" color="#ff8500"/>
<path d="M96.9 553.3l4 1.8 1.5 1-4-1.8z" color="#ff8e00"/>
<path d="M100.9 555.1l4 1.8 1.5 1-4-1.8z" color="#ffa200"/>
<path d="M104.9 556.9l4.1 1.8 1.4 1-4-1.8z" color="#ffb500"/>
<path d="M109 558.7l4 1.8 1.4 1.1-4-1.9z" color="#ffc400"/>
<path d="M113 560.5l4.1 1.8 1.3 1.1-4-1.8z" color="#ffcc00"/>
<path d="M117.1 562.3l4 1.9 1.4 1.1-4.1-1.9z" color="#ffdb00"/>
<path d="M121.1 564.2l4.1 1.8 1.3 1.2-4-1.9z" color="#ffea00"/>
<path d="M125.2 566l4.1 1.9 1.3 1.2-4.1-1.9zM129.3 567.9l4.1 1.9 1.3 1.2-4.1-1.9zM133.4 569.8l4.1 1.9 1.3 1.3-4.1-2zM137.5 571.7l4.1 2 1.3 1.2-4.1-1.9z" color="#fff000"/>
<path d="M141.6 573.7l4.1 1.9 1.3 1.3-4.1-2z" color="#def400"/>
<path d="M145.7 575.6l4.2 2 1.2 1.3-4.1-2z" color="#a5fb00"/>
<path d="M149.9 577.6l4.1 2 1.2 1.3-4.1-2z" color="#52f306"/>
<path d="M154 579.6l4.2 2 1.2 1.4-4.2-2.1zM158.2 581.6l4.2 2 1.1 1.4-4.1-2zM162.4 583.6l4.2 2 1.1 1.5-4.2-2.1zM166.6 585.6l4.2 2.1 1.1 1.5-4.2-2.1zM170.8 587.7l4.2 2.1 1.1 1.5-4.2-2.1z" color="#00e010"/>
<path d="M175 589.8l4.2 2 1.1 1.7-4.2-2.2z" color="#00cd1e"/>
<path d="M179.2 591.8l4.2 2.1 1.1 1.7-4.2-2.1z" color="#00a73a"/>
<path d="M183.4 593.9l4.3 2.2 1 1.7-4.2-2.2z" color="#006b7b"/>
<path d="M187.7 596.1l4.2 2.1 1 1.8-4.2-2.2z" color="#003eb4"/>
<path d="M191.9 598.2l4.3 2.2 .9 1.8-4.2-2.2z" color="#001adf"/>
<path d="M196.2 600.4l4.2 2.2 1 1.8-4.3-2.2z" color="#0000fa"/>
<path d="M200.4 602.6l4.3 2.1 .9 1.9-4.2-2.2z" color="#0000f3"/>
<path d="M87.4 549.5l4 1.7 1.5 .4-4-1.7z" color="#ff6b00"/>
<path d="M91.4 551.2l4 1.7 1.5 .4-4-1.7z" color="#ff7200"/>
<path d="M95.4 552.9l4 1.8 1.5 .4-4-1.8z" color="#ff8500"/>
<path d="M99.4 554.7l4.1 1.7 1.4 .5-4-1.8z" color="#ff8e00"/>
<path d="M103.5 556.4l4 1.8 1.5 .5-4.1-1.8z" color="#ffa200"/>
<path d="M107.5 558.2l4.1 1.7 1.4 .6-4-1.8z" color="#ffb500"/>
<path d="M111.6 559.9l4.1 1.8 1.4 .6-4.1-1.8z" color="#ffbd00"/>
<path d="M115.7 561.7l4 1.8 1.4 .7-4-1.9z" color="#ffcc00"/>
<path d="M119.7 563.5l4.1 1.8 1.4 .7-4.1-1.8z" color="#ffdb00"/>
<path d="M123.8 565.3l4.1 1.9 1.4 .7-4.1-1.9z" color="#ffea00"/>
<path d="M127.9 567.2l4.2 1.8 1.3 .8-4.1-1.9zM132.1 569l4.1 1.9 1.3 .8-4.1-1.9zM136.2 570.9l4.1 1.9 1.3 .9-4.1-2zM140.3 572.8l4.2 1.9 1.2 .9-4.1-1.9z" color="#fff000"/>
<path d="M144.5 574.7l4.1 1.9 1.3 1-4.2-2z" color="#faf100"/>
<path d="M148.6 576.6l4.2 2 1.2 1-4.1-2z" color="#a5fb00"/>
<path d="M152.8 578.6l4.2 1.9 1.2 1.1-4.2-2z" color="#6df903"/>
<path d="M157 580.5l4.2 2 1.2 1.1-4.2-2z" color="#1be60d"/>
<path d="M161.2 582.5l4.2 2 1.2 1.1-4.2-2zM165.4 584.5l4.2 2 1.2 1.2-4.2-2.1zM169.6 586.5l4.3 2 1.1 1.3-4.2-2.1zM173.9 588.5l4.2 2 1.1 1.3-4.2-2z" color="#00e010"/>
<path d="M178.1 590.5l4.3 2.1 1 1.3-4.2-2.1z" color="#00da15"/>
<path d="M182.4 592.6l4.2 2.1 1.1 1.4-4.3-2.2z" color="#00b430"/>
<path d="M186.6 594.7l4.3 2 1 1.5-4.2-2.1z" color="#008b53"/>
<path d="M190.9 596.7l4.3 2.1 1 1.6-4.3-2.2z" color="#005b8f"/>
<path d="M195.2 598.8l4.3 2.2 .9 1.6-4.2-2.2z" color="#0032c2"/>
<path d="M199.5 601l4.3 2.1 .9 1.6-4.3-2.1z" color="#000eee"/>
<path d="M87.4 549.5l8 3.4 4.5 2.9-8-3.6zM95.4 552.9l8.1 3.5 4.3 3-7.9-3.6zM103.5 556.4l8.1 3.5 4.2 3.2-8-3.7zM111.6 559.9l8.1 3.6 4.2 3.4-8.1-3.8zM119.7 563.5l8.2 3.7 4 3.5-8-3.8zM127.9 567.2l8.3 3.7 3.9 3.7-8.2-3.9zM136.2 570.9l8.3 3.8 3.7 3.9-8.1-4zM144.5 574.7l8.3 3.9 3.6 4.1-8.2-4.1zM152.8 578.6l8.4 3.9 3.5 4.3-8.3-4.1zM161.2 582.5l8.4 4 3.4 4.6-8.3-4.3zM169.6 586.5l8.5 4 3.2 4.9-8.3-4.3zM178.1 590.5l8.5 4.2 3.1 5-8.4-4.3zM186.6 594.7l8.6 4.1 2.9 5.4-8.4-4.5zM195.2 598.8l8.6 4.3 2.7 5.6-8.4-4.5z" class="m"/>
<path d="M85.9 549.7l4 1.6 1.5-.1-4-1.7z" color="#ff6500"/>
<path d="M89.9 551.3l4.1 1.7 1.4-.1-4-1.7z" color="#ff6b00"/>
<path d="M94 553l4 1.7 1.4 0-4-1.8z" color="#ff7200"/>
<path d="M98 554.7l4 1.7 1.5 0-4.1-1.7z" color="#ff8500"/>
<path d="M102 556.4l4.1 1.7 1.4 .1-4-1.8z" color="#ff9800"/>
<path d="M106.1 558.1l4.1 1.7 1.4 .1-4.1-1.7z" color="#ffa200"/>
<path d="M110.2 559.8l4.1 1.8 1.4 .1-4.1-1.8z" color="#ffb500"/>
<path d="M114.3 561.6l4.1 1.7 1.3 .2-4-1.8z" color="#ffc400"/>
<path d="M118.4 563.3l4.1 1.8 1.3 .2-4.1-1.8z" color="#ffcc00"/>
<path d="M122.5 565.1l4.1 1.8 1.3 .3-4.1-1.9z" color="#ffdb00"/>
<path d="M126.6 566.9l4.1 1.8 1.4 .3-4.2-1.8z" color="#ffea00"/>
<path d="M130.7 568.7l4.2 1.8 1.3 .4-4.1-1.9zM134.9 570.5l4.1 1.8 1.3 .5-4.1-1.9zM139 572.3l4.2 1.9 1.3 .5-4.2-1.9zM143.2 574.2l4.2 1.8 1.2 .6-4.1-1.9z" color="#fff000"/>
<path d="M147.4 576l4.2 1.9 1.2 .7-4.2-2z" color="#faf100"/>
<path d="M151.6 577.9l4.2 1.9 1.2 .7-4.2-1.9z" color="#c1f800"/>
<path d="M155.8 579.8l4.2 1.9 1.2 .8-4.2-2z" color="#6df903"/>
<path d="M160 581.7l4.2 2 1.2 .8-4.2-2z" color="#36ec0a"/>
<path d="M164.2 583.7l4.3 1.9 1.1 .9-4.2-2zM168.5 585.6l4.2 2 1.2 .9-4.3-2zM172.7 587.6l4.3 1.9 1.1 1-4.2-2zM177 589.5l4.3 2 1.1 1.1-4.3-2.1zM181.3 591.5l4.3 2 1 1.2-4.2-2.1z" color="#00e010"/>
<path d="M185.6 593.5l4.3 2 1 1.2-4.3-2z" color="#00cd1e"/>
<path d="M189.9 595.5l4.3 2.1 1 1.2-4.3-2.1z" color="#00a73a"/>
<path d="M194.2 597.6l4.3 2 1 1.4-4.3-2.2z" color="#007b67"/>
<path d="M198.5 599.6l4.3 2.1 1 1.4-4.3-2.1z" color="#004ba3"/>
<path d="M84.4 550.1l4 1.6 1.5-.4-4-1.6z" color="#ff5f00"/>
<path d="M88.4 551.7l4.1 1.7 1.5-.4-4.1-1.7z" color="#ff6500"/>
<path d="M92.5 553.4l4 1.6 1.5-.3-4-1.7z" color="#ff7200"/>
<path d="M96.5 555l4.1 1.6 1.4-.2-4-1.7z" color="#ff7b00"/>
<path d="M100.6 556.6l4.1 1.7 1.4-.2-4.1-1.7z" color="#ff8e00"/>
<path d="M104.7 558.3l4.1 1.7 1.4-.2-4.1-1.7z" color="#ff9800"/>
<path d="M108.8 560l4.1 1.7 1.4-.1-4.1-1.8z" color="#ffab00"/>
<path d="M112.9 561.7l4.1 1.7 1.4-.1-4.1-1.7z" color="#ffb500"/>
<path d="M117 563.4l4.1 1.7 1.4 0-4.1-1.8z" color="#ffc400"/>
<path d="M121.1 565.1l4.1 1.7 1.4 .1-4.1-1.8z" color="#ffd300"/>
<path d="M125.2 566.8l4.2 1.8 1.3 .1-4.1-1.8z" color="#ffe200"/>
<path d="M129.4 568.6l4.1 1.8 1.4 .1-4.2-1.8z" color="#ffea00"/>
<path d="M133.5 570.4l4.2 1.7 1.3 .2-4.1-1.8zM137.7 572.1l4.2 1.8 1.3 .3-4.2-1.9zM141.9 573.9l4.2 1.8 1.3 .3-4.2-1.8zM146.1 575.7l4.2 1.9 1.3 .3-4.2-1.9zM150.3 577.6l4.2 1.8 1.3 .4-4.2-1.9z" color="#fff000"/>
<path d="M154.5 579.4l4.3 1.8 1.2 .5-4.2-1.9z" color="#c1f800"/>
<path d="M158.8 581.2l4.2 1.9 1.2 .6-4.2-2z" color="#88ff00"/>
<path d="M163 583.1l4.3 1.9 1.2 .6-4.3-1.9z" color="#52f306"/>
<path d="M167.3 585l4.3 1.9 1.1 .7-4.2-2z" color="#1be60d"/>
<path d="M171.6 586.9l4.3 1.9 1.1 .7-4.3-1.9zM175.9 588.8l4.3 1.9 1.1 .8-4.3-2zM180.2 590.7l4.3 2 1.1 .8-4.3-2zM184.5 592.7l4.3 1.9 1.1 .9-4.3-2zM188.8 594.6l4.3 2 1.1 1-4.3-2.1z" color="#00e010"/>
<path d="M193.1 596.6l4.4 2 1 1-4.3-2z" color="#00cd1e"/>
<path d="M197.5 598.6l4.3 2 1 1.1-4.3-2.1z" color="#00a73a"/>
<path d="M82.9 550.8l4.1 1.5 1.4-.6-4-1.6z" color="#ff5f00"/>
<path d="M87 552.3l4 1.6 1.5-.5-4.1-1.7z" color="#ff6500"/>
<path d="M91 553.9l4.1 1.6 1.4-.5-4-1.6z" color="#ff6b00"/>
<path d="M95.1 555.5l4.1 1.6 1.4-.5-4.1-1.6z" color="#ff7b00"/>
<path d="M99.2 557.1l4 1.6 1.5-.4-4.1-1.7z" color="#ff8500"/>
<path d="M103.2 558.7l4.1 1.7 1.5-.4-4.1-1.7z" color="#ff8e00"/>
<path d="M107.3 560.4l4.2 1.6 1.4-.3-4.1-1.7z" color="#ffa200"/>
<path d="M111.5 562l4.1 1.7 1.4-.3-4.1-1.7z" color="#ffab00"/>
<path d="M115.6 563.7l4.1 1.6 1.4-.2-4.1-1.7z" color="#ffbd00"/>
<path d="M119.7 565.3l4.2 1.7 1.3-.2-4.1-1.7z" color="#ffcc00"/>
<path d="M123.9 567l4.1 1.7 1.4-.1-4.2-1.8z" color="#ffd300"/>
<path d="M128 568.7l4.2 1.7 1.3 0-4.1-1.8z" color="#ffe200"/>
<path d="M132.2 570.4l4.2 1.8 1.3-.1-4.2-1.7zM136.4 572.2l4.2 1.7 1.3 0-4.2-1.8zM140.6 573.9l4.2 1.8 1.3 0-4.2-1.8zM144.8 575.7l4.3 1.7 1.2 .2-4.2-1.9zM149.1 577.4l4.2 1.8 1.2 .2-4.2-1.8zM153.3 579.2l4.2 1.8 1.3 .2-4.3-1.8z" color="#fff000"/>
<path d="M157.5 581l4.3 1.8 1.2 .3-4.2-1.9z" color="#def400"/>
<path d="M161.8 582.8l4.3 1.8 1.2 .4-4.3-1.9z" color="#a5fb00"/>
<path d="M166.1 584.6l4.3 1.9 1.2 .4-4.3-1.9z" color="#6df903"/>
<path d="M170.4 586.5l4.3 1.8 1.2 .5-4.3-1.9z" color="#36ec0a"/>
<path d="M174.7 588.3l4.3 1.9 1.2 .5-4.3-1.9zM179 590.2l4.4 1.8 1.1 .7-4.3-2zM183.4 592l4.3 1.9 1.1 .7-4.3-1.9zM187.7 593.9l4.4 1.9 1 .8-4.3-2zM192.1 595.8l4.3 2 1.1 .8-4.4-2zM196.4 597.8l4.4 1.9 1 .9-4.3-2z" color="#00e010"/>
<path d="M82.9 550.8l8.1 3.1 4.4-1-8-3.4zM91 553.9l8.2 3.2 4.3-.7-8.1-3.5zM99.2 557.1l8.1 3.3 4.3-.5-8.1-3.5zM107.3 560.4l8.3 3.3 4.1-.2-8.1-3.6zM115.6 563.7l8.3 3.3 4 .2-8.2-3.7zM123.9 567l8.3 3.4 4 .5-8.3-3.7zM132.2 570.4l8.4 3.5 3.9 .8-8.3-3.8zM140.6 573.9l8.5 3.5 3.7 1.2-8.3-3.9zM149.1 577.4l8.4 3.6 3.7 1.5-8.4-3.9zM157.5 581l8.6 3.6 3.5 1.9-8.4-4zM166.1 584.6l8.6 3.7 3.4 2.2-8.5-4zM174.7 588.3l8.7 3.7 3.2 2.7-8.5-4.2zM183.4 592l8.7 3.8 3.1 3-8.6-4.1zM192.1 595.8l8.7 3.9 3 3.4-8.6-4.3z" class="m"/>
<path d="M81.4 551.6l4.1 1.6 1.5-.9-4.1-1.5z" color="#ff5f00"/>
<path d="M85.5 553.2l4 1.5 1.5-.8-4-1.6z" color="#ff6500"/>
<path d="M89.5 554.7l4.1 1.5 1.5-.7-4.1-1.6z" color="#ff6b00"/>
<path d="M93.6 556.2l4.1 1.6 1.5-.7-4.1-1.6z" color="#ff7200"/>
<path d="M97.7 557.8l4.1 1.6 1.4-.7-4-1.6z" color="#ff8500"/>
<path d="M101.8 559.4l4.1 1.6 1.4-.6-4.1-1.7z" color="#ff8e00"/>
<path d="M105.9 561l4.1 1.6 1.5-.6-4.2-1.6z" color="#ff9800"/>
<path d="M110 562.6l4.2 1.6 1.4-.5-4.1-1.7z" color="#ffab00"/>
<path d="M114.2 564.2l4.1 1.6 1.4-.5-4.1-1.6z" color="#ffb500"/>
<path d="M118.3 565.8l4.2 1.7 1.4-.5-4.2-1.7z" color="#ffc400"/>
<path d="M122.5 567.5l4.2 1.6 1.3-.4-4.1-1.7z" color="#ffcc00"/>
<path d="M126.7 569.1l4.2 1.7 1.3-.4-4.2-1.7z" color="#ffdb00"/>
<path d="M130.9 570.8l4.2 1.6 1.3-.2-4.2-1.8z" color="#ffe200"/>
<path d="M135.1 572.4l4.2 1.7 1.3-.2-4.2-1.7zM139.3 574.1l4.2 1.7 1.3-.1-4.2-1.8zM143.5 575.8l4.3 1.7 1.3-.1-4.3-1.7zM147.8 577.5l4.2 1.8 1.3-.1-4.2-1.8zM152 579.3l4.3 1.7 1.2 0-4.2-1.8zM156.3 581l4.3 1.8 1.2 0-4.3-1.8z" color="#fff000"/>
<path d="M160.6 582.8l4.3 1.7 1.2 .1-4.3-1.8z" color="#faf100"/>
<path d="M164.9 584.5l4.3 1.8 1.2 .2-4.3-1.9z" color="#c1f800"/>
<path d="M169.2 586.3l4.3 1.8 1.2 .2-4.3-1.8z" color="#88ff00"/>
<path d="M173.5 588.1l4.4 1.8 1.1 .3-4.3-1.9z" color="#52f306"/>
<path d="M177.9 589.9l4.3 1.8 1.2 .3-4.4-1.8z" color="#1be60d"/>
<path d="M182.2 591.7l4.4 1.8 1.1 .4-4.3-1.9zM186.6 593.5l4.4 1.9 1.1 .4-4.4-1.9zM191 595.4l4.4 1.8 1 .6-4.3-2zM195.4 597.2l4.4 1.9 1 .6-4.4-1.9z" color="#00e010"/>
<path d="M80 552.7l4 1.5 1.5-1-4.1-1.6z" color="#ff5f00"/>
<path d="M84 554.2l4.1 1.5 1.4-1-4-1.5z" color="#ff6500"/>
<path d="M88.1 555.7l4.1 1.5 1.4-1-4.1-1.5z" color="#ff6b00"/>
<path d="M92.2 557.2l4.1 1.5 1.4-.9-4.1-1.6z" color="#ff7200"/>
<path d="M96.3 558.7l4.1 1.6 1.4-.9-4.1-1.6z" color="#ff7b00"/>
<path d="M100.4 560.3l4.1 1.5 1.4-.8-4.1-1.6z" color="#ff8e00"/>
<path d="M104.5 561.8l4.1 1.6 1.4-.8-4.1-1.6z" color="#ff9800"/>
<path d="M108.6 563.4l4.2 1.5 1.4-.7-4.2-1.6z" color="#ffa200"/>
<path d="M112.8 564.9l4.1 1.6 1.4-.7-4.1-1.6z" color="#ffab00"/>
<path d="M116.9 566.5l4.2 1.6 1.4-.6-4.2-1.7z" color="#ffbd00"/>
<path d="M121.1 568.1l4.2 1.6 1.4-.6-4.2-1.6z" color="#ffc400"/>
<path d="M125.3 569.7l4.2 1.6 1.4-.5-4.2-1.7z" color="#ffd300"/>
<path d="M129.5 571.3l4.2 1.7 1.4-.6-4.2-1.6z" color="#ffdb00"/>
<path d="M133.7 573l4.3 1.6 1.3-.5-4.2-1.7z" color="#ffea00"/>
<path d="M138 574.6l4.2 1.6 1.3-.4-4.2-1.7zM142.2 576.2l4.3 1.7 1.3-.4-4.3-1.7zM146.5 577.9l4.3 1.7 1.2-.3-4.2-1.8zM150.8 579.6l4.2 1.7 1.3-.3-4.3-1.7zM155 581.3l4.3 1.7 1.3-.2-4.3-1.8zM159.3 583l4.4 1.7 1.2-.2-4.3-1.7zM163.7 584.7l4.3 1.7 1.2-.1-4.3-1.8z" color="#fff000"/>
<path d="M168 586.4l4.3 1.7 1.2 0-4.3-1.8z" color="#def400"/>
<path d="M172.3 588.1l4.4 1.8 1.2 0-4.4-1.8z" color="#a5fb00"/>
<path d="M176.7 589.9l4.4 1.7 1.1 .1-4.3-1.8z" color="#88ff00"/>
<path d="M181.1 591.6l4.4 1.8 1.1 .1-4.4-1.8z" color="#52f306"/>
<path d="M185.5 593.4l4.4 1.8 1.1 .2-4.4-1.9z" color="#1be60d"/>
<path d="M189.9 595.2l4.4 1.8 1.1 .2-4.4-1.8zM194.3 597l4.4 1.8 1.1 .3-4.4-1.9z" color="#00e010"/>
<path d="M78.5 553.9l4 1.5 1.5-1.2-4-1.5z" color="#ff5f00"/>
<path d="M82.5 555.4l4.1 1.5 1.5-1.2-4.1-1.5z" color="#ff6500"/>
<path d="M86.6 556.9l4.1 1.5 1.5-1.2-4.1-1.5z" color="#ff6b00"/>
<path d="M90.7 558.4l4.1 1.4 1.5-1.1-4.1-1.5z" color="#ff7200"/>
<path d="M94.8 559.8l4.1 1.5 1.5-1-4.1-1.6z" color="#ff7b00"/>
<path d="M98.9 561.3l4.2 1.6 1.4-1.1-4.1-1.5z" color="#ff8e00"/>
<path d="M103.1 562.9l4.1 1.5 1.4-1-4.1-1.6z" color="#ff9800"/>
<path d="M107.2 564.4l4.2 1.5 1.4-1-4.2-1.5z" color="#ffa200"/>
<path d="M111.4 565.9l4.1 1.6 1.4-1-4.1-1.6z" color="#ffab00"/>
<path d="M115.5 567.5l4.2 1.5 1.4-.9-4.2-1.6z" color="#ffb500"/>
<path d="M119.7 569l4.2 1.6 1.4-.9-4.2-1.6z" color="#ffc400"/>
<path d="M123.9 570.6l4.3 1.5 1.3-.8-4.2-1.6z" color="#ffcc00"/>
<path d="M128.2 572.1l4.2 1.6 1.3-.7-4.2-1.7z" color="#ffd300"/>
<path d="M132.4 573.7l4.2 1.6 1.4-.7-4.3-1.6z" color="#ffdb00"/>
<path d="M136.6 575.3l4.3 1.6 1.3-.7-4.2-1.6z" color="#ffea00"/>
<path d="M140.9 576.9l4.3 1.6 1.3-.6-4.3-1.7zM145.2 578.5l4.3 1.7 1.3-.6-4.3-1.7zM149.5 580.2l4.3 1.6 1.2-.5-4.2-1.7zM153.8 581.8l4.3 1.6 1.2-.4-4.3-1.7zM158.1 583.4l4.3 1.7 1.3-.4-4.4-1.7zM162.4 585.1l4.4 1.7 1.2-.4-4.3-1.7zM166.8 586.8l4.3 1.6 1.2-.3-4.3-1.7z" color="#fff000"/>
<path d="M171.1 588.4l4.4 1.7 1.2-.2-4.4-1.8z" color="#faf100"/>
<path d="M175.5 590.1l4.4 1.7 1.2-.2-4.4-1.7z" color="#def400"/>
<path d="M179.9 591.8l4.4 1.7 1.2-.1-4.4-1.8z" color="#a5fb00"/>
<path d="M184.3 593.5l4.4 1.8 1.2-.1-4.4-1.8z" color="#88ff00"/>
<path d="M188.7 595.3l4.5 1.7 1.1 0-4.4-1.8z" color="#52f306"/>
<path d="M193.2 597l4.4 1.7 1.1 .1-4.4-1.8z" color="#36ec0a"/>
<path d="M78.5 553.9l8.1 3 4.4-3-8.1-3.1zM86.6 556.9l8.2 2.9 4.4-2.7-8.2-3.2zM94.8 559.8l8.3 3.1 4.2-2.5-8.1-3.3zM103.1 562.9l8.3 3 4.2-2.2-8.3-3.3zM111.4 565.9l8.3 3.1 4.2-2-8.3-3.3zM119.7 569l8.5 3.1 4-1.7-8.3-3.4zM128.2 572.1l8.4 3.2 4-1.4-8.4-3.5zM136.6 575.3l8.6 3.2 3.9-1.1-8.5-3.5zM145.2 578.5l8.6 3.3 3.7-.8-8.4-3.6zM153.8 581.8l8.6 3.3 3.7-.5-8.6-3.6zM162.4 585.1l8.7 3.3 3.6-.1-8.6-3.7zM171.1 588.4l8.8 3.4 3.5 .2-8.7-3.7zM179.9 591.8l8.8 3.5 3.4 .5-8.7-3.8zM188.7 595.3l8.9 3.4 3.2 1-8.7-3.9z" class="m"/>
<path d="M77 555.4l4.1 1.5 1.4-1.5-4-1.5z" color="#ff5f00"/>
<path d="M81.1 556.9l4 1.4 1.5-1.4-4.1-1.5z" color="#ff6500"/>
<path d="M85.1 558.3l4.1 1.4 1.5-1.3-4.1-1.5z" color="#ff7200"/>
<path d="M89.2 559.7l4.2 1.5 1.4-1.4-4.1-1.4z" color="#ff7b00"/>
<path d="M93.4 561.2l4.1 1.5 1.4-1.4-4.1-1.5z" color="#ff8500"/>
<path d="M97.5 562.7l4.1 1.4 1.5-1.2-4.2-1.6z" color="#ff8e00"/>
<path d="M101.6 564.1l4.2 1.5 1.4-1.2-4.1-1.5z" color="#ff9800"/>
<path d="M105.8 565.6l4.2 1.5 1.4-1.2-4.2-1.5z" color="#ffa200"/>
<path d="M110 567.1l4.2 1.5 1.3-1.1-4.1-1.6z" color="#ffab00"/>
<path d="M114.2 568.6l4.2 1.5 1.3-1.1-4.2-1.5z" color="#ffb500"/>
<path d="M118.4 570.1l4.2 1.6 1.3-1.1-4.2-1.6z" color="#ffbd00"/>
<path d="M122.6 571.7l4.2 1.5 1.4-1.1-4.3-1.5z" color="#ffc400"/>
<path d="M126.8 573.2l4.2 1.5 1.4-1-4.2-1.6z" color="#ffcc00"/>
<path d="M131 574.7l4.3 1.6 1.3-1-4.2-1.6z" color="#ffdb00"/>
<path d="M135.3 576.3l4.3 1.5 1.3-.9-4.3-1.6z" color="#ffe200"/>
<path d="M139.6 577.8l4.3 1.6 1.3-.9-4.3-1.6z" color="#ffea00"/>
<path d="M143.9 579.4l4.3 1.6 1.3-.8-4.3-1.7zM148.2 581l4.3 1.6 1.3-.8-4.3-1.6zM152.5 582.6l4.3 1.6 1.3-.8-4.3-1.6zM156.8 584.2l4.4 1.6 1.2-.7-4.3-1.7zM161.2 585.8l4.3 1.6 1.3-.6-4.4-1.7zM165.5 587.4l4.4 1.6 1.2-.6-4.3-1.6zM169.9 589l4.4 1.7 1.2-.6-4.4-1.7zM174.3 590.7l4.4 1.6 1.2-.5-4.4-1.7z" color="#fff000"/>
<path d="M178.7 592.3l4.5 1.7 1.1-.5-4.4-1.7z" color="#faf100"/>
<path d="M183.2 594l4.4 1.6 1.1-.3-4.4-1.8z" color="#def400"/>
<path d="M187.6 595.6l4.5 1.7 1.1-.3-4.5-1.7z" color="#c1f800"/>
<path d="M192.1 597.3l4.4 1.7 1.1-.3-4.4-1.7z" color="#a5fb00"/>
<path d="M75.5 557.1l4.1 1.4 1.5-1.6-4.1-1.5z" color="#ff6500"/>
<path d="M79.6 558.5l4.1 1.4 1.4-1.6-4-1.4z" color="#ff6b00"/>
<path d="M83.7 559.9l4.1 1.5 1.4-1.7-4.1-1.4z" color="#ff7200"/>
<path d="M87.8 561.4l4.1 1.4 1.5-1.6-4.2-1.5z" color="#ff7b00"/>
<path d="M91.9 562.8l4.2 1.4 1.4-1.5-4.1-1.5z" color="#ff8500"/>
<path d="M96.1 564.2l4.1 1.5 1.4-1.6-4.1-1.4z" color="#ff8e00"/>
<path d="M100.2 565.7l4.2 1.4 1.4-1.5-4.2-1.5z" color="#ff9800"/>
<path d="M104.4 567.1l4.2 1.5 1.4-1.5-4.2-1.5z" color="#ffa200"/>
<path d="M108.6 568.6l4.2 1.4 1.4-1.4-4.2-1.5z" color="#ffab00"/>
<path d="M112.8 570l4.2 1.5 1.4-1.4-4.2-1.5z" color="#ffb500"/>
<path d="M117 571.5l4.2 1.5 1.4-1.3-4.2-1.6z" color="#ffbd00"/>
<path d="M121.2 573l4.2 1.5 1.4-1.3-4.2-1.5z" color="#ffc400"/>
<path d="M125.4 574.5l4.3 1.5 1.3-1.3-4.2-1.5z" color="#ffcc00"/>
<path d="M129.7 576l4.3 1.5 1.3-1.2-4.3-1.6z" color="#ffd300"/>
<path d="M134 577.5l4.2 1.5 1.4-1.2-4.3-1.5z" color="#ffdb00"/>
<path d="M138.2 579l4.3 1.5 1.4-1.1-4.3-1.6z" color="#ffea00"/>
<path d="M142.5 580.5l4.4 1.6 1.3-1.1-4.3-1.6zM146.9 582.1l4.3 1.5 1.3-1-4.3-1.6zM151.2 583.6l4.3 1.6 1.3-1-4.3-1.6zM155.5 585.2l4.4 1.5 1.3-.9-4.4-1.6zM159.9 586.7l4.4 1.6 1.2-.9-4.3-1.6zM164.3 588.3l4.4 1.6 1.2-.9-4.4-1.6zM168.7 589.9l4.4 1.6 1.2-.8-4.4-1.7zM173.1 591.5l4.4 1.6 1.2-.8-4.4-1.6zM177.5 593.1l4.5 1.6 1.2-.7-4.5-1.7zM182 594.7l4.4 1.6 1.2-.7-4.4-1.6z" color="#fff000"/>
<path d="M186.4 596.3l4.5 1.6 1.2-.6-4.5-1.7z" color="#faf100"/>
<path d="M190.9 597.9l4.5 1.6 1.1-.5-4.4-1.7z" color="#def400"/>
<path d="M74 559l4.1 1.4 1.5-1.9-4.1-1.4z" color="#ff6b00"/>
<path d="M78.1 560.4l4.1 1.4 1.5-1.9-4.1-1.4z" color="#ff7200"/>
<path d="M82.2 561.8l4.1 1.4 1.5-1.8-4.1-1.5z" color="#ff7b00"/>
<path d="M86.3 563.2l4.2 1.4 1.4-1.8-4.1-1.4z" color="#ff8500"/>
<path d="M90.5 564.6l4.1 1.4 1.5-1.8-4.2-1.4z" color="#ff8e00"/>
<path d="M94.6 566l4.2 1.4 1.4-1.7-4.1-1.5z" color="#ff9800"/>
<path d="M98.8 567.4l4.2 1.4 1.4-1.7-4.2-1.4z" color="#ffa200"/>
<path d="M103 568.8l4.1 1.5 1.5-1.7-4.2-1.5z" color="#ffab00"/>
<path d="M107.1 570.3l4.3 1.4 1.4-1.7-4.2-1.4z" color="#ffb500"/>
<path d="M111.4 571.7l4.2 1.4 1.4-1.6-4.2-1.5z" color="#ffbd00"/>
<path d="M115.6 573.1l4.2 1.5 1.4-1.6-4.2-1.5z" color="#ffc400"/>
<path d="M119.8 574.6l4.3 1.4 1.3-1.5-4.2-1.5z" color="#ffcc00"/>
<path d="M124.1 576l4.2 1.5 1.4-1.5-4.3-1.5z" color="#ffd300"/>
<path d="M128.3 577.5l4.3 1.5 1.4-1.5-4.3-1.5z" color="#ffdb00"/>
<path d="M132.6 579l4.3 1.5 1.3-1.5-4.2-1.5z" color="#ffe200"/>
<path d="M136.9 580.5l4.3 1.4 1.3-1.4-4.3-1.5z" color="#ffea00"/>
<path d="M141.2 581.9l4.4 1.5 1.3-1.3-4.4-1.6zM145.6 583.4l4.3 1.5 1.3-1.3-4.3-1.5zM149.9 584.9l4.4 1.6 1.2-1.3-4.3-1.6zM154.3 586.5l4.3 1.5 1.3-1.3-4.4-1.5zM158.6 588l4.4 1.5 1.3-1.2-4.4-1.6zM163 589.5l4.4 1.5 1.3-1.1-4.4-1.6zM167.4 591l4.5 1.6 1.2-1.1-4.4-1.6zM171.9 592.6l4.4 1.5 1.2-1-4.4-1.6zM176.3 594.1l4.5 1.6 1.2-1-4.5-1.6zM180.8 595.7l4.4 1.5 1.2-.9-4.4-1.6z" color="#fff000"/>
<path d="M185.2 597.2l4.5 1.6 1.2-.9-4.5-1.6z" color="#faf100"/>
<path d="M189.7 598.8l4.5 1.6 1.2-.9-4.5-1.6z" color="#def400"/>
<path d="M74 559l8.2 2.8 4.4-4.9-8.1-3zM82.2 561.8l8.3 2.8 4.3-4.8-8.2-2.9zM90.5 564.6l8.3 2.8 4.3-4.5-8.3-3.1zM98.8 567.4l8.3 2.9 4.3-4.4-8.3-3zM107.1 570.3l8.5 2.8 4.1-4.1-8.3-3.1zM115.6 573.1l8.5 2.9 4.1-3.9-8.5-3.1zM124.1 576l8.5 3 4-3.7-8.4-3.2zM132.6 579l8.6 2.9 4-3.4-8.6-3.2zM141.2 581.9l8.7 3 3.9-3.1-8.6-3.3zM149.9 584.9l8.7 3.1 3.8-2.9-8.6-3.3zM158.6 588l8.8 3 3.7-2.6-8.7-3.3zM167.4 591l8.9 3.1 3.6-2.3-8.8-3.4zM176.3 594.1l8.9 3.1 3.5-1.9-8.8-3.5zM185.2 597.2l9 3.2 3.4-1.7-8.9-3.4z" class="m"/>
<path d="M72.6 561.1l4.1 1.4 1.4-2.1-4.1-1.4z" color="#ff7200"/>
<path d="M76.7 562.5l4.1 1.4 1.4-2.1-4.1-1.4z" color="#ff7b00"/>
<path d="M80.8 563.9l4.1 1.3 1.4-2-4.1-1.4z" color="#ff8500"/>
<path d="M84.9 565.2l4.1 1.4 1.5-2-4.2-1.4z" color="#ff8e00"/>
<path d="M89 566.6l4.2 1.4 1.4-2-4.1-1.4z" color="#ff9800"/>
<path d="M93.2 568l4.2 1.4 1.4-2-4.2-1.4z" color="#ffa200"/>
<path d="M97.4 569.4l4.1 1.4 1.5-2-4.2-1.4z" color="#ffab00"/>
<path d="M101.5 570.8l4.2 1.4 1.4-1.9-4.1-1.5z" color="#ffb500"/>
<path d="M105.7 572.2l4.3 1.4 1.4-1.9-4.3-1.4z" color="#ffbd00"/>
<path d="M110 573.6l4.2 1.4 1.4-1.9-4.2-1.4z" color="#ffc400"/>
<path d="M114.2 575l4.2 1.4 1.4-1.8-4.2-1.5z" color="#ffcc00"/>
<path d="M118.4 576.4l4.3 1.4 1.4-1.8-4.3-1.4z" color="#ffd300"/>
<path d="M122.7 577.8l4.3 1.5 1.3-1.8-4.2-1.5z" color="#ffdb00"/>
<path d="M127 579.3l4.3 1.4 1.3-1.7-4.3-1.5z" color="#ffe200"/>
<path d="M131.3 580.7l4.3 1.5 1.3-1.7-4.3-1.5z" color="#ffea00"/>
<path d="M135.6 582.2l4.3 1.4 1.3-1.7-4.3-1.4zM139.9 583.6l4.3 1.5 1.4-1.7-4.4-1.5zM144.2 585.1l4.4 1.4 1.3-1.6-4.3-1.5zM148.6 586.5l4.4 1.5 1.3-1.5-4.4-1.6zM153 588l4.4 1.5 1.2-1.5-4.3-1.5zM157.4 589.5l4.4 1.5 1.2-1.5-4.4-1.5zM161.8 591l4.4 1.4 1.2-1.4-4.4-1.5zM166.2 592.4l4.4 1.5 1.3-1.3-4.5-1.6zM170.6 593.9l4.5 1.5 1.2-1.3-4.4-1.5zM175.1 595.4l4.5 1.6 1.2-1.3-4.5-1.6zM179.6 597l4.4 1.5 1.2-1.3-4.4-1.5z" color="#fff000"/>
<path d="M184 598.5l4.6 1.5 1.1-1.2-4.5-1.6z" color="#faf100"/>
<path d="M188.6 600l4.5 1.5 1.1-1.1-4.5-1.6z" color="#def400"/>
<path d="M71.1 563.5l4.1 1.3 1.5-2.3-4.1-1.4z" color="#ff8500"/>
<path d="M75.2 564.8l4.1 1.4 1.5-2.3-4.1-1.4z" color="#ff8e00"/>
<path d="M79.3 566.2l4.1 1.3 1.5-2.3-4.1-1.3z" color="#ff9800"/>
<path d="M83.4 567.5l4.2 1.4 1.4-2.3-4.1-1.4z" color="#ffa200"/>
<path d="M87.6 568.9l4.2 1.3 1.4-2.2-4.2-1.4zM91.8 570.2l4.1 1.4 1.5-2.2-4.2-1.4z" color="#ffab00"/>
<path d="M95.9 571.6l4.2 1.4 1.4-2.2-4.1-1.4z" color="#ffb500"/>
<path d="M100.1 573l4.2 1.3 1.4-2.1-4.2-1.4z" color="#ffbd00"/>
<path d="M104.3 574.3l4.3 1.4 1.4-2.1-4.3-1.4z" color="#ffc400"/>
<path d="M108.6 575.7l4.2 1.4 1.4-2.1-4.2-1.4z" color="#ffcc00"/>
<path d="M112.8 577.1l4.2 1.4 1.4-2.1-4.2-1.4z" color="#ffd300"/>
<path d="M117 578.5l4.3 1.4 1.4-2.1-4.3-1.4z" color="#ffdb00"/>
<path d="M121.3 579.9l4.3 1.4 1.4-2-4.3-1.5z" color="#ffe200"/>
<path d="M125.6 581.3l4.3 1.4 1.4-2-4.3-1.4z" color="#ffea00"/>
<path d="M129.9 582.7l4.3 1.4 1.4-1.9-4.3-1.5zM134.2 584.1l4.4 1.4 1.3-1.9-4.3-1.4zM138.6 585.5l4.3 1.4 1.3-1.8-4.3-1.5zM142.9 586.9l4.4 1.5 1.3-1.9-4.4-1.4zM147.3 588.4l4.4 1.4 1.3-1.8-4.4-1.5zM151.7 589.8l4.4 1.4 1.3-1.7-4.4-1.5zM156.1 591.2l4.4 1.5 1.3-1.7-4.4-1.5zM160.5 592.7l4.4 1.4 1.3-1.7-4.4-1.4zM164.9 594.1l4.5 1.5 1.2-1.7-4.4-1.5zM169.4 595.6l4.4 1.4 1.3-1.6-4.5-1.5zM173.8 597l4.5 1.5 1.3-1.5-4.5-1.6z" color="#fff000"/>
<path d="M178.3 598.5l4.5 1.5 1.2-1.5-4.4-1.5z" color="#faf100"/>
<path d="M182.8 600l4.6 1.5 1.2-1.5-4.6-1.5z" color="#def400"/>
<path d="M187.4 601.5l4.5 1.4 1.2-1.4-4.5-1.5z" color="#c1f800"/>
<path d="M69.6 566l4.1 1.3 1.5-2.5-4.1-1.3z" color="#ff8e00"/>
<path d="M73.7 567.3l4.2 1.4 1.4-2.5-4.1-1.4z" color="#ff9800"/>
<path d="M77.9 568.7l4.1 1.3 1.4-2.5-4.1-1.3z" color="#ffa200"/>
<path d="M82 570l4.2 1.3 1.4-2.4-4.2-1.4z" color="#ffab00"/>
<path d="M86.2 571.3l4.1 1.4 1.5-2.5-4.2-1.3z" color="#ffb500"/>
<path d="M90.3 572.7l4.2 1.3 1.4-2.4-4.1-1.4z" color="#ffbd00"/>
<path d="M94.5 574l4.2 1.4 1.4-2.4-4.2-1.4z" color="#ffc400"/>
<path d="M98.7 575.4l4.2 1.3 1.4-2.4-4.2-1.3z" color="#ffcc00"/>
<path d="M102.9 576.7l4.3 1.4 1.4-2.4-4.3-1.4z" color="#ffd300"/>
<path d="M107.2 578.1l4.2 1.3 1.4-2.3-4.2-1.4z" color="#ffdb00"/>
<path d="M111.4 579.4l4.3 1.4 1.3-2.3-4.2-1.4z" color="#ffe200"/>
<path d="M115.7 580.8l4.2 1.4 1.4-2.3-4.3-1.4z" color="#ffea00"/>
<path d="M119.9 582.2l4.3 1.3 1.4-2.2-4.3-1.4zM124.2 583.5l4.3 1.4 1.4-2.2-4.3-1.4zM128.5 584.9l4.4 1.4 1.3-2.2-4.3-1.4zM132.9 586.3l4.3 1.4 1.4-2.2-4.4-1.4zM137.2 587.7l4.4 1.4 1.3-2.2-4.3-1.4zM141.6 589.1l4.4 1.4 1.3-2.1-4.4-1.5zM146 590.5l4.3 1.4 1.4-2.1-4.4-1.4zM150.3 591.9l4.5 1.4 1.3-2.1-4.4-1.4zM154.8 593.3l4.4 1.4 1.3-2-4.4-1.5zM159.2 594.7l4.4 1.4 1.3-2-4.4-1.4zM163.6 596.1l4.5 1.4 1.3-1.9-4.5-1.5z" color="#fff000"/>
<path d="M168.1 597.5l4.5 1.4 1.2-1.9-4.4-1.4z" color="#faf100"/>
<path d="M172.6 598.9l4.5 1.5 1.2-1.9-4.5-1.5zM177.1 600.4l4.5 1.4 1.2-1.8-4.5-1.5z" color="#def400"/>
<path d="M181.6 601.8l4.5 1.4 1.3-1.7-4.6-1.5z" color="#c1f800"/>
<path d="M186.1 603.2l4.6 1.5 1.2-1.8-4.5-1.4z" color="#a5fb00"/>
<path d="M69.6 566l8.3 2.7 4.3-6.9-8.2-2.8zM77.9 568.7l8.3 2.6 4.3-6.7-8.3-2.8zM86.2 571.3l8.3 2.7 4.3-6.6-8.3-2.8zM94.5 574l8.4 2.7 4.2-6.4-8.3-2.9zM102.9 576.7l8.5 2.7 4.2-6.3-8.5-2.8zM111.4 579.4l8.5 2.8 4.2-6.2-8.5-2.9zM119.9 582.2l8.6 2.7 4.1-5.9-8.5-3zM128.5 584.9l8.7 2.8 4-5.8-8.6-2.9zM137.2 587.7l8.8 2.8 3.9-5.6-8.7-3zM146 590.5l8.8 2.8 3.8-5.3-8.7-3.1zM154.8 593.3l8.8 2.8 3.8-5.1-8.8-3zM163.6 596.1l9 2.8 3.7-4.8-8.9-3.1zM172.6 598.9l9 2.9 3.6-4.6-8.9-3.1zM181.6 601.8l9.1 2.9 3.5-4.3-9-3.2z" class="m"/>
<path d="M68.2 568.8l4.1 1.3 1.4-2.8-4.1-1.3z" color="#ffa200"/>
<path d="M72.3 570.1l4.1 1.3 1.5-2.7-4.2-1.4z" color="#ffab00"/>
<path d="M76.4 571.4l4.2 1.3 1.4-2.7-4.1-1.3z" color="#ffb500"/>
<path d="M80.6 572.7l4.1 1.4 1.5-2.8-4.2-1.3z" color="#ffbd00"/>
<path d="M84.7 574.1l4.2 1.3 1.4-2.7-4.1-1.4z" color="#ffc400"/>
<path d="M88.9 575.4l4.2 1.3 1.4-2.7-4.2-1.3z" color="#ffcc00"/>
<path d="M93.1 576.7l4.2 1.3 1.4-2.6-4.2-1.4z" color="#ffd300"/>
<path d="M97.3 578l4.2 1.4 1.4-2.7-4.2-1.3z" color="#ffdb00"/>
<path d="M101.5 579.4l4.3 1.3 1.4-2.6-4.3-1.4z" color="#ffe200"/>
<path d="M105.8 580.7l4.2 1.3 1.4-2.6-4.2-1.3z" color="#ffea00"/>
<path d="M110 582l4.3 1.4 1.4-2.6-4.3-1.4zM114.3 583.4l4.3 1.3 1.3-2.5-4.2-1.4zM118.6 584.7l4.3 1.4 1.3-2.6-4.3-1.3zM122.9 586.1l4.3 1.3 1.3-2.5-4.3-1.4zM127.2 587.4l4.3 1.4 1.4-2.5-4.4-1.4zM131.5 588.8l4.4 1.3 1.3-2.4-4.3-1.4zM135.9 590.1l4.3 1.4 1.4-2.4-4.4-1.4zM140.2 591.5l4.4 1.3 1.4-2.3-4.4-1.4zM144.6 592.8l4.4 1.4 1.3-2.3-4.3-1.4zM149 594.2l4.5 1.4 1.3-2.3-4.5-1.4zM153.5 595.6l4.4 1.3 1.3-2.2-4.4-1.4zM157.9 596.9l4.5 1.4 1.2-2.2-4.4-1.4z" color="#fff000"/>
<path d="M162.4 598.3l4.4 1.4 1.3-2.2-4.5-1.4z" color="#faf100"/>
<path d="M166.8 599.7l4.5 1.4 1.3-2.2-4.5-1.4z" color="#def400"/>
<path d="M171.3 601.1l4.5 1.4 1.3-2.1-4.5-1.5z" color="#c1f800"/>
<path d="M175.8 602.5l4.6 1.4 1.2-2.1-4.5-1.4z" color="#a5fb00"/>
<path d="M180.4 603.9l4.5 1.3 1.2-2-4.5-1.4z" color="#88ff00"/>
<path d="M184.9 605.2l4.6 1.4 1.2-1.9-4.6-1.5z" color="#6df903"/>
<path d="M66.8 571.8l4.1 1.3 1.4-3-4.1-1.3z" color="#ffb500"/>
<path d="M70.9 573.1l4.1 1.3 1.4-3-4.1-1.3z" color="#ffbd00"/>
<path d="M75 574.4l4.2 1.3 1.4-3-4.2-1.3z" color="#ffc400"/>
<path d="M79.2 575.7l4.1 1.3 1.4-2.9-4.1-1.4z" color="#ffcc00"/>
<path d="M83.3 577l4.2 1.3 1.4-2.9-4.2-1.3z" color="#ffd300"/>
<path d="M87.5 578.3l4.2 1.3 1.4-2.9-4.2-1.3z" color="#ffdb00"/>
<path d="M91.7 579.6l4.2 1.3 1.4-2.9-4.2-1.3z" color="#ffe200"/>
<path d="M95.9 580.9l4.2 1.3 1.4-2.8-4.2-1.4z" color="#ffea00"/>
<path d="M100.1 582.2l4.3 1.3 1.4-2.8-4.3-1.3zM104.4 583.5l4.2 1.4 1.4-2.9-4.2-1.3zM108.6 584.9l4.3 1.3 1.4-2.8-4.3-1.4zM112.9 586.2l4.3 1.3 1.4-2.8-4.3-1.3zM117.2 587.5l4.3 1.3 1.4-2.7-4.3-1.4zM121.5 588.8l4.3 1.3 1.4-2.7-4.3-1.3zM125.8 590.1l4.4 1.4 1.3-2.7-4.3-1.4zM130.2 591.5l4.3 1.3 1.4-2.7-4.4-1.3zM134.5 592.8l4.4 1.3 1.3-2.6-4.3-1.4zM138.9 594.1l4.4 1.4 1.3-2.7-4.4-1.3zM143.3 595.5l4.4 1.3 1.3-2.6-4.4-1.4z" color="#fff000"/>
<path d="M147.7 596.8l4.4 1.3 1.4-2.5-4.5-1.4z" color="#faf100"/>
<path d="M152.1 598.1l4.5 1.4 1.3-2.6-4.4-1.3zM156.6 599.5l4.5 1.3 1.3-2.5-4.5-1.4z" color="#def400"/>
<path d="M161.1 600.8l4.4 1.3 1.3-2.4-4.4-1.4z" color="#c1f800"/>
<path d="M165.5 602.1l4.5 1.4 1.3-2.4-4.5-1.4z" color="#a5fb00"/>
<path d="M170 603.5l4.6 1.3 1.2-2.3-4.5-1.4z" color="#88ff00"/>
<path d="M174.6 604.8l4.5 1.4 1.3-2.3-4.6-1.4z" color="#6df903"/>
<path d="M179.1 606.2l4.6 1.3 1.2-2.3-4.5-1.3z" color="#52f306"/>
<path d="M183.7 607.5l4.6 1.4 1.2-2.3-4.6-1.4z" color="#36ec0a"/>
<path d="M65.3 575l4.1 1.3 1.5-3.2-4.1-1.3z" color="#ffcc00"/>
<path d="M69.4 576.3l4.2 1.3 1.4-3.2-4.1-1.3z" color="#ffd300"/>
<path d="M73.6 577.6l4.1 1.3 1.5-3.2-4.2-1.3z" color="#ffdb00"/>
<path d="M77.7 578.9l4.2 1.2 1.4-3.1-4.1-1.3zM81.9 580.1l4.2 1.3 1.4-3.1-4.2-1.3z" color="#ffe200"/>
<path d="M86.1 581.4l4.2 1.3 1.4-3.1-4.2-1.3z" color="#ffea00"/>
<path d="M90.3 582.7l4.2 1.3 1.4-3.1-4.2-1.3zM94.5 584l4.2 1.3 1.4-3.1-4.2-1.3zM98.7 585.3l4.3 1.3 1.4-3.1-4.3-1.3zM103 586.6l4.2 1.3 1.4-3-4.2-1.4zM107.2 587.9l4.3 1.3 1.4-3-4.3-1.3zM111.5 589.2l4.3 1.3 1.4-3-4.3-1.3zM115.8 590.5l4.3 1.3 1.4-3-4.3-1.3zM120.1 591.8l4.4 1.3 1.3-3-4.3-1.3zM124.5 593.1l4.3 1.3 1.4-2.9-4.4-1.4zM128.8 594.4l4.4 1.3 1.3-2.9-4.3-1.3zM133.2 595.7l4.4 1.3 1.3-2.9-4.4-1.3z" color="#fff000"/>
<path d="M137.6 597l4.4 1.3 1.3-2.8-4.4-1.4z" color="#faf100"/>
<path d="M142 598.3l4.4 1.3 1.3-2.8-4.4-1.3z" color="#def400"/>
<path d="M146.4 599.6l4.4 1.3 1.3-2.8-4.4-1.3z" color="#c1f800"/>
<path d="M150.8 600.9l4.5 1.3 1.3-2.7-4.5-1.4z" color="#a5fb00"/>
<path d="M155.3 602.2l4.5 1.3 1.3-2.7-4.5-1.3zM159.8 603.5l4.5 1.4 1.2-2.8-4.4-1.3z" color="#88ff00"/>
<path d="M164.3 604.9l4.5 1.3 1.2-2.7-4.5-1.4z" color="#6df903"/>
<path d="M168.8 606.2l4.5 1.3 1.3-2.7-4.6-1.3z" color="#52f306"/>
<path d="M173.3 607.5l4.6 1.3 1.2-2.6-4.5-1.4z" color="#36ec0a"/>
<path d="M177.9 608.8l4.5 1.3 1.3-2.6-4.6-1.3z" color="#1be60d"/>
<path d="M182.4 610.1l4.6 1.3 1.3-2.5-4.6-1.4z" color="#00e010"/>
<path d="M65.3 575l8.3 2.6 4.3-8.9-8.3-2.7zM73.6 577.6l8.3 2.5 4.3-8.8-8.3-2.6zM81.9 580.1l8.4 2.6 4.2-8.7-8.3-2.7zM90.3 582.7l8.4 2.6 4.2-8.6-8.4-2.7zM98.7 585.3l8.5 2.6 4.2-8.5-8.5-2.7zM107.2 587.9l8.6 2.6 4.1-8.3-8.5-2.8zM115.8 590.5l8.7 2.6 4-8.2-8.6-2.7zM124.5 593.1l8.7 2.6 4-8-8.7-2.8zM133.2 595.7l8.8 2.6 4-7.8-8.8-2.8zM142 598.3l8.8 2.6 4-7.6-8.8-2.8zM150.8 600.9l9 2.6 3.8-7.4-8.8-2.8zM159.8 603.5l9 2.7 3.8-7.3-9-2.8zM168.8 606.2l9.1 2.6 3.7-7-9-2.9zM177.9 608.8l9.1 2.6 3.7-6.7-9.1-2.9z" class="m"/>
<path d="M63.9 578.4l4.1 1.3 1.4-3.4-4.1-1.3z" color="#ffdb00"/>
<path d="M68 579.7l4.2 1.3 1.4-3.4-4.2-1.3z" color="#ffe200"/>
<path d="M72.2 581l4.1 1.2 1.4-3.3-4.1-1.3z" color="#ffea00"/>
<path d="M76.3 582.2l4.2 1.3 1.4-3.4-4.2-1.2zM80.5 583.5l4.2 1.3 1.4-3.4-4.2-1.3zM84.7 584.8l4.2 1.3 1.4-3.4-4.2-1.3zM88.9 586.1l4.2 1.3 1.4-3.4-4.2-1.3zM93.1 587.4l4.2 1.2 1.4-3.3-4.2-1.3zM97.3 588.6l4.3 1.3 1.4-3.3-4.3-1.3zM101.6 589.9l4.3 1.3 1.3-3.3-4.2-1.3zM105.9 591.2l4.2 1.3 1.4-3.3-4.3-1.3zM110.1 592.5l4.4 1.3 1.3-3.3-4.3-1.3zM114.5 593.8l4.3 1.2 1.3-3.2-4.3-1.3zM118.8 595l4.3 1.3 1.4-3.2-4.4-1.3z" color="#fff000"/>
<path d="M123.1 596.3l4.4 1.3 1.3-3.2-4.3-1.3z" color="#faf100"/>
<path d="M127.5 597.6l4.3 1.3 1.4-3.2-4.4-1.3z" color="#def400"/>
<path d="M131.8 598.9l4.4 1.3 1.4-3.2-4.4-1.3z" color="#c1f800"/>
<path d="M136.2 600.2l4.4 1.2 1.4-3.1-4.4-1.3zM140.6 601.4l4.5 1.3 1.3-3.1-4.4-1.3z" color="#a5fb00"/>
<path d="M145.1 602.7l4.4 1.3 1.3-3.1-4.4-1.3z" color="#88ff00"/>
<path d="M149.5 604l4.5 1.3 1.3-3.1-4.5-1.3z" color="#6df903"/>
<path d="M154 605.3l4.5 1.2 1.3-3-4.5-1.3z" color="#52f306"/>
<path d="M158.5 606.5l4.5 1.3 1.3-2.9-4.5-1.4z" color="#36ec0a"/>
<path d="M163 607.8l4.5 1.3 1.3-2.9-4.5-1.3zM167.5 609.1l4.5 1.3 1.3-2.9-4.5-1.3z" color="#1be60d"/>
<path d="M172 610.4l4.6 1.3 1.3-2.9-4.6-1.3zM176.6 611.7l4.6 1.2 1.2-2.8-4.5-1.3zM181.2 612.9l4.6 1.3 1.2-2.8-4.6-1.3z" color="#00e010"/>
<path d="M62.5 582l4.1 1.3 1.4-3.6-4.1-1.3zM66.6 583.3l4.2 1.3 1.4-3.6-4.2-1.3zM70.8 584.6l4.1 1.3 1.4-3.7-4.1-1.2zM74.9 585.9l4.2 1.2 1.4-3.6-4.2-1.3zM79.1 587.1l4.2 1.3 1.4-3.6-4.2-1.3zM83.3 588.4l4.2 1.3 1.4-3.6-4.2-1.3zM87.5 589.7l4.2 1.2 1.4-3.5-4.2-1.3zM91.7 590.9l4.3 1.3 1.3-3.6-4.2-1.2zM96 592.2l4.2 1.3 1.4-3.6-4.3-1.3zM100.2 593.5l4.3 1.2 1.4-3.5-4.3-1.3zM104.5 594.7l4.3 1.3 1.3-3.5-4.2-1.3z" color="#fff000"/>
<path d="M108.8 596l4.3 1.2 1.4-3.4-4.4-1.3z" color="#faf100"/>
<path d="M113.1 597.2l4.3 1.3 1.4-3.5-4.3-1.2z" color="#def400"/>
<path d="M117.4 598.5l4.4 1.3 1.3-3.5-4.3-1.3z" color="#c1f800"/>
<path d="M121.8 599.8l4.3 1.2 1.4-3.4-4.4-1.3z" color="#a5fb00"/>
<path d="M126.1 601l4.4 1.3 1.3-3.4-4.3-1.3zM130.5 602.3l4.4 1.2 1.3-3.3-4.4-1.3z" color="#88ff00"/>
<path d="M134.9 603.5l4.4 1.3 1.3-3.4-4.4-1.2z" color="#6df903"/>
<path d="M139.3 604.8l4.4 1.2 1.4-3.3-4.5-1.3z" color="#52f306"/>
<path d="M143.7 606l4.5 1.3 1.3-3.3-4.4-1.3z" color="#36ec0a"/>
<path d="M148.2 607.3l4.5 1.2 1.3-3.2-4.5-1.3z" color="#1be60d"/>
<path d="M152.7 608.5l4.5 1.3 1.3-3.3-4.5-1.2zM157.2 609.8l4.5 1.2 1.3-3.2-4.5-1.3zM161.7 611l4.5 1.3 1.3-3.2-4.5-1.3zM166.2 612.3l4.5 1.2 1.3-3.1-4.5-1.3zM170.7 613.5l4.6 1.2 1.3-3-4.6-1.3zM175.3 614.7l4.6 1.3 1.3-3.1-4.6-1.2zM179.9 616l4.6 1.2 1.3-3-4.6-1.3z" color="#00e010"/>
<path d="M61.1 585.9l4.1 1.3 1.4-3.9-4.1-1.3zM65.2 587.2l4.2 1.2 1.4-3.8-4.2-1.3zM69.4 588.4l4.1 1.3 1.4-3.8-4.1-1.3zM73.5 589.7l4.2 1.3 1.4-3.9-4.2-1.2zM77.7 591l4.2 1.2 1.4-3.8-4.2-1.3zM81.9 592.2l4.2 1.3 1.4-3.8-4.2-1.3zM86.1 593.5l4.2 1.2 1.4-3.8-4.2-1.2zM90.3 594.7l4.3 1.3 1.4-3.8-4.3-1.3z" color="#fff000"/>
<path d="M94.6 596l4.2 1.2 1.4-3.7-4.2-1.3z" color="#faf100"/>
<path d="M98.8 597.2l4.3 1.3 1.4-3.8-4.3-1.2z" color="#def400"/>
<path d="M103.1 598.5l4.3 1.2 1.4-3.7-4.3-1.3z" color="#c1f800"/>
<path d="M107.4 599.7l4.3 1.2 1.4-3.7-4.3-1.2z" color="#a5fb00"/>
<path d="M111.7 600.9l4.4 1.3 1.3-3.7-4.3-1.3z" color="#88ff00"/>
<path d="M116.1 602.2l4.3 1.2 1.4-3.6-4.4-1.3z" color="#6df903"/>
<path d="M120.4 603.4l4.4 1.3 1.3-3.7-4.3-1.2z" color="#52f306"/>
<path d="M124.8 604.7l4.3 1.2 1.4-3.6-4.4-1.3zM129.1 605.9l4.4 1.2 1.4-3.6-4.4-1.2z" color="#36ec0a"/>
<path d="M133.5 607.1l4.5 1.2 1.3-3.5-4.4-1.3z" color="#1be60d"/>
<path d="M138 608.3l4.4 1.3 1.3-3.6-4.4-1.2zM142.4 609.6l4.5 1.2 1.3-3.5-4.5-1.3zM146.9 610.8l4.4 1.2 1.4-3.5-4.5-1.2zM151.3 612l4.5 1.2 1.4-3.4-4.5-1.3zM155.8 613.2l4.6 1.2 1.3-3.4-4.5-1.2zM160.4 614.4l4.5 1.3 1.3-3.4-4.5-1.3zM164.9 615.7l4.6 1.2 1.2-3.4-4.5-1.2zM169.5 616.9l4.5 1.2 1.3-3.4-4.6-1.2zM174 618.1l4.6 1.2 1.3-3.3-4.6-1.3zM178.6 619.3l4.6 1.2 1.3-3.3-4.6-1.2z" color="#00e010"/>
<path d="M61.1 585.9l8.3 2.5 4.2-10.8-8.3-2.6zM69.4 588.4l8.3 2.6 4.2-10.9-8.3-2.5zM77.7 591l8.4 2.5 4.2-10.8-8.4-2.6zM86.1 593.5l8.5 2.5 4.1-10.7-8.4-2.6zM94.6 596l8.5 2.5 4.1-10.6-8.5-2.6zM103.1 598.5l8.6 2.4 4.1-10.4-8.6-2.6zM111.7 600.9l8.7 2.5 4.1-10.3-8.7-2.6zM120.4 603.4l8.7 2.5 4.1-10.2-8.7-2.6zM129.1 605.9l8.9 2.4 4-10-8.8-2.6zM138 608.3l8.9 2.5 3.9-9.9-8.8-2.6zM146.9 610.8l8.9 2.4 4-9.7-9-2.6zM155.8 613.2l9.1 2.5 3.9-9.5-9-2.7zM164.9 615.7l9.1 2.4 3.9-9.3-9.1-2.6zM174 618.1l9.2 2.4 3.8-9.1-9.1-2.6z" class="m"/>
<path d="M59.7 590l4.1 1.2 1.4-4-4.1-1.3zM63.8 591.2l4.2 1.3 1.4-4.1-4.2-1.2zM68 592.5l4.2 1.2 1.3-4-4.1-1.3zM72.2 593.7l4.1 1.3 1.4-4-4.2-1.3z" color="#fff000"/>
<path d="M76.3 595l4.2 1.2 1.4-4-4.2-1.2z" color="#faf100"/>
<path d="M80.5 596.2l4.2 1.3 1.4-4-4.2-1.3z" color="#def400"/>
<path d="M84.7 597.5l4.3 1.2 1.3-4-4.2-1.2z" color="#c1f800"/>
<path d="M89 598.7l4.2 1.3 1.4-4-4.3-1.3z" color="#a5fb00"/>
<path d="M93.2 600l4.3 1.2 1.3-4-4.2-1.2zM97.5 601.2l4.3 1.2 1.3-3.9-4.3-1.3z" color="#88ff00"/>
<path d="M101.8 602.4l4.3 1.2 1.3-3.9-4.3-1.2z" color="#6df903"/>
<path d="M106.1 603.6l4.3 1.3 1.3-4-4.3-1.2z" color="#52f306"/>
<path d="M110.4 604.9l4.3 1.2 1.4-3.9-4.4-1.3z" color="#36ec0a"/>
<path d="M114.7 606.1l4.4 1.2 1.3-3.9-4.3-1.2z" color="#1be60d"/>
<path d="M119.1 607.3l4.3 1.2 1.4-3.8-4.4-1.3zM123.4 608.5l4.4 1.2 1.3-3.8-4.3-1.2zM127.8 609.7l4.4 1.2 1.3-3.8-4.4-1.2zM132.2 610.9l4.4 1.2 1.4-3.8-4.5-1.2zM136.6 612.1l4.5 1.2 1.3-3.7-4.4-1.3zM141.1 613.3l4.4 1.2 1.4-3.7-4.5-1.2zM145.5 614.5l4.5 1.2 1.3-3.7-4.4-1.2zM150 615.7l4.5 1.2 1.3-3.7-4.5-1.2zM154.5 616.9l4.6 1.2 1.3-3.7-4.6-1.2zM159.1 618.1l4.5 1.2 1.3-3.6-4.5-1.3zM163.6 619.3l4.6 1.1 1.3-3.5-4.6-1.2zM168.2 620.4l4.5 1.2 1.3-3.5-4.5-1.2zM172.7 621.6l4.6 1.2 1.3-3.5-4.6-1.2zM177.3 622.8l4.7 1.2 1.2-3.5-4.6-1.2z" color="#00e010"/>
<path d="M58.3 594.3l4.2 1.2 1.3-4.3-4.1-1.2zM62.5 595.5l4.1 1.3 1.4-4.3-4.2-1.3z" color="#faf100"/>
<path d="M66.6 596.8l4.2 1.2 1.4-4.3-4.2-1.2z" color="#def400"/>
<path d="M70.8 598l4.2 1.3 1.3-4.3-4.1-1.3z" color="#c1f800"/>
<path d="M75 599.3l4.2 1.2 1.3-4.3-4.2-1.2z" color="#a5fb00"/>
<path d="M79.2 600.5l4.2 1.2 1.3-4.2-4.2-1.3z" color="#88ff00"/>
<path d="M83.4 601.7l4.2 1.2 1.4-4.2-4.3-1.2z" color="#6df903"/>
<path d="M87.6 602.9l4.3 1.3 1.3-4.2-4.2-1.3z" color="#52f306"/>
<path d="M91.9 604.2l4.2 1.2 1.4-4.2-4.3-1.2z" color="#36ec0a"/>
<path d="M96.1 605.4l4.3 1.2 1.4-4.2-4.3-1.2z" color="#1be60d"/>
<path d="M100.4 606.6l4.3 1.2 1.4-4.2-4.3-1.2zM104.7 607.8l4.3 1.2 1.4-4.1-4.3-1.3zM109 609l4.4 1.2 1.3-4.1-4.3-1.2zM113.4 610.2l4.3 1.2 1.4-4.1-4.4-1.2zM117.7 611.4l4.4 1.2 1.3-4.1-4.3-1.2zM122.1 612.6l4.4 1.2 1.3-4.1-4.4-1.2zM126.5 613.8l4.4 1.1 1.3-4-4.4-1.2zM130.9 614.9l4.4 1.2 1.3-4-4.4-1.2zM135.3 616.1l4.5 1.2 1.3-4-4.5-1.2zM139.8 617.3l4.4 1.2 1.3-4-4.4-1.2zM144.2 618.5l4.5 1.1 1.3-3.9-4.5-1.2zM148.7 619.6l4.5 1.2 1.3-3.9-4.5-1.2zM153.2 620.8l4.5 1.1 1.4-3.8-4.6-1.2zM157.7 621.9l4.6 1.2 1.3-3.8-4.5-1.2zM162.3 623.1l4.6 1.1 1.3-3.8-4.6-1.1zM166.9 624.2l4.6 1.2 1.2-3.8-4.5-1.2z" color="#00e010"/>
<path d="M171.5 625.4l4.6 1.1 1.2-3.7-4.6-1.2zM176.1 626.5l4.6 1.1 1.3-3.6-4.7-1.2z" color="#00da15"/>
<path d="M57 598.8l4.1 1.2 1.4-4.5-4.2-1.2z" color="#a5fb00"/>
<path d="M61.1 600l4.2 1.3 1.3-4.5-4.1-1.3z" color="#88ff00"/>
<path d="M65.3 601.3l4.1 1.2 1.4-4.5-4.2-1.2z" color="#6df903"/>
<path d="M69.4 602.5l4.2 1.2 1.4-4.4-4.2-1.3z" color="#52f306"/>
<path d="M73.6 603.7l4.2 1.2 1.4-4.4-4.2-1.2z" color="#36ec0a"/>
<path d="M77.8 604.9l4.2 1.3 1.4-4.5-4.2-1.2z" color="#1be60d"/>
<path d="M82 606.2l4.3 1.2 1.3-4.5-4.2-1.2zM86.3 607.4l4.2 1.2 1.4-4.4-4.3-1.3zM90.5 608.6l4.3 1.2 1.3-4.4-4.2-1.2zM94.8 609.8l4.3 1.2 1.3-4.4-4.3-1.2zM99.1 611l4.3 1.1 1.3-4.3-4.3-1.2zM103.4 612.1l4.3 1.2 1.3-4.3-4.3-1.2zM107.7 613.3l4.3 1.2 1.4-4.3-4.4-1.2zM112 614.5l4.4 1.2 1.3-4.3-4.3-1.2zM116.4 615.7l4.3 1.1 1.4-4.2-4.4-1.2zM120.7 616.8l4.4 1.2 1.4-4.2-4.4-1.2zM125.1 618l4.4 1.2 1.4-4.3-4.4-1.1zM129.5 619.2l4.5 1.1 1.3-4.2-4.4-1.2zM134 620.3l4.4 1.2 1.4-4.2-4.5-1.2zM138.4 621.5l4.5 1.1 1.3-4.1-4.4-1.2zM142.9 622.6l4.5 1.1 1.3-4.1-4.5-1.1zM147.4 623.7l4.5 1.2 1.3-4.1-4.5-1.2z" color="#00e010"/>
<path d="M151.9 624.9l4.5 1.1 1.3-4.1-4.5-1.1z" color="#00da15"/>
<path d="M156.4 626l4.6 1.1 1.3-4-4.6-1.2z" color="#00cd1e"/>
<path d="M161 627.1l4.6 1.1 1.3-4-4.6-1.1zM165.6 628.2l4.6 1.1 1.3-3.9-4.6-1.2z" color="#00c027"/>
<path d="M170.2 629.3l4.6 1.1 1.3-3.9-4.6-1.1z" color="#00b430"/>
<path d="M174.8 630.4l4.6 1.1 1.3-3.9-4.6-1.1z" color="#00a73a"/>
<path d="M57 598.8l8.3 2.5 4.1-12.9-8.3-2.5zM65.3 601.3l8.3 2.4 4.1-12.7-8.3-2.6zM73.6 603.7l8.4 2.5 4.1-12.7-8.4-2.5zM82 606.2l8.5 2.4 4.1-12.6-8.5-2.5zM90.5 608.6l8.6 2.4 4-12.5-8.5-2.5zM99.1 611l8.6 2.3 4-12.4-8.6-2.4zM107.7 613.3l8.7 2.4 4-12.3-8.7-2.5zM116.4 615.7l8.7 2.3 4-12.1-8.7-2.5zM125.1 618l8.9 2.3 4-12-8.9-2.4zM134 620.3l8.9 2.3 4-11.8-8.9-2.5zM142.9 622.6l9 2.3 3.9-11.7-8.9-2.4zM151.9 624.9l9.1 2.2 3.9-11.4-9.1-2.5zM161 627.1l9.2 2.2 3.8-11.2-9.1-2.4zM170.2 629.3l9.2 2.2 3.8-11-9.2-2.4z" class="m"/>
<path d="M55.6 603.5l4.2 1.2 1.3-4.7-4.1-1.2z" color="#36ec0a"/>
<path d="M59.8 604.7l4.1 1.3 1.4-4.7-4.2-1.3z" color="#1be60d"/>
<path d="M63.9 606l4.2 1.2 1.3-4.7-4.1-1.2zM68.1 607.2l4.2 1.2 1.3-4.7-4.2-1.2zM72.3 608.4l4.2 1.2 1.3-4.7-4.2-1.2zM76.5 609.6l4.2 1.2 1.3-4.6-4.2-1.3zM80.7 610.8l4.2 1.2 1.4-4.6-4.3-1.2zM84.9 612l4.3 1.2 1.3-4.6-4.2-1.2zM89.2 613.2l4.2 1.2 1.4-4.6-4.3-1.2zM93.4 614.4l4.3 1.1 1.4-4.5-4.3-1.2zM97.7 615.5l4.3 1.2 1.4-4.6-4.3-1.1zM102 616.7l4.3 1.2 1.4-4.6-4.3-1.2zM106.3 617.9l4.4 1.1 1.3-4.5-4.3-1.2zM110.7 619l4.3 1.2 1.4-4.5-4.4-1.2zM115 620.2l4.4 1.1 1.3-4.5-4.3-1.1zM119.4 621.3l4.4 1.1 1.3-4.4-4.4-1.2zM123.8 622.4l4.4 1.2 1.3-4.4-4.4-1.2z" color="#00e010"/>
<path d="M128.2 623.6l4.5 1.1 1.3-4.4-4.5-1.1z" color="#00da15"/>
<path d="M132.7 624.7l4.4 1.1 1.3-4.3-4.4-1.2zM137.1 625.8l4.5 1.1 1.3-4.3-4.5-1.1z" color="#00cd1e"/>
<path d="M141.6 626.9l4.5 1.1 1.3-4.3-4.5-1.1z" color="#00c027"/>
<path d="M146.1 628l4.5 1.1 1.3-4.2-4.5-1.2z" color="#00b430"/>
<path d="M150.6 629.1l4.5 1.1 1.3-4.2-4.5-1.1zM155.1 630.2l4.6 1.1 1.3-4.2-4.6-1.1z" color="#00a73a"/>
<path d="M159.7 631.3l4.6 1 1.3-4.1-4.6-1.1z" color="#009a43"/>
<path d="M164.3 632.3l4.6 1.1 1.3-4.1-4.6-1.1zM168.9 633.4l4.6 1.1 1.3-4.1-4.6-1.1z" color="#008b53"/>
<path d="M173.5 634.5l4.6 1 1.3-4-4.6-1.1z" color="#007b67"/>
<path d="M54.3 608.5l4.1 1.2 1.4-5-4.2-1.2zM58.4 609.7l4.2 1.2 1.3-4.9-4.1-1.3zM62.6 610.9l4.2 1.2 1.3-4.9-4.2-1.2zM66.8 612.1l4.1 1.2 1.4-4.9-4.2-1.2zM70.9 613.3l4.2 1.2 1.4-4.9-4.2-1.2zM75.1 614.5l4.3 1.2 1.3-4.9-4.2-1.2zM79.4 615.7l4.2 1.1 1.3-4.8-4.2-1.2zM83.6 616.8l4.2 1.2 1.4-4.8-4.3-1.2zM87.8 618l4.3 1.1 1.3-4.7-4.2-1.2zM92.1 619.1l4.3 1.2 1.3-4.8-4.3-1.1zM96.4 620.3l4.3 1.1 1.3-4.7-4.3-1.2zM100.7 621.4l4.3 1.2 1.3-4.7-4.3-1.2z" color="#00e010"/>
<path d="M105 622.6l4.3 1.1 1.4-4.7-4.4-1.1z" color="#00da15"/>
<path d="M109.3 623.7l4.4 1.1 1.3-4.6-4.3-1.2zM113.7 624.8l4.4 1.1 1.3-4.6-4.4-1.1z" color="#00cd1e"/>
<path d="M118.1 625.9l4.4 1.1 1.3-4.6-4.4-1.1z" color="#00c027"/>
<path d="M122.5 627l4.4 1.1 1.3-4.5-4.4-1.2z" color="#00b430"/>
<path d="M126.9 628.1l4.4 1.1 1.4-4.5-4.5-1.1z" color="#00a73a"/>
<path d="M131.3 629.2l4.5 1.1 1.3-4.5-4.4-1.1zM135.8 630.3l4.5 1.1 1.3-4.5-4.5-1.1z" color="#009a43"/>
<path d="M140.3 631.4l4.5 1.1 1.3-4.5-4.5-1.1z" color="#008b53"/>
<path d="M144.8 632.5l4.5 1 1.3-4.4-4.5-1.1zM149.3 633.5l4.5 1.1 1.3-4.4-4.5-1.1z" color="#007b67"/>
<path d="M153.8 634.6l4.6 1 1.3-4.3-4.6-1.1z" color="#006b7b"/>
<path d="M158.4 635.6l4.6 1 1.3-4.3-4.6-1z" color="#005b8f"/>
<path d="M163 636.6l4.6 1.1 1.3-4.3-4.6-1.1zM167.6 637.7l4.6 1 1.3-4.2-4.6-1.1z" color="#004ba3"/>
<path d="M172.2 638.7l4.7 1 1.2-4.2-4.6-1z" color="#003eb4"/>
<path d="M53 613.6l4.1 1.2 1.3-5.1-4.1-1.2zM57.1 614.8l4.2 1.2 1.3-5.1-4.2-1.2zM61.3 616l4.1 1.2 1.4-5.1-4.2-1.2zM65.4 617.2l4.2 1.2 1.3-5.1-4.1-1.2zM69.6 618.4l4.2 1.1 1.3-5-4.2-1.2zM73.8 619.5l4.2 1.2 1.4-5-4.3-1.2zM78 620.7l4.3 1.1 1.3-5-4.2-1.1z" color="#00e010"/>
<path d="M82.3 621.8l4.2 1.2 1.3-5-4.2-1.2z" color="#00da15"/>
<path d="M86.5 623l4.3 1.1 1.3-5-4.3-1.1z" color="#00cd1e"/>
<path d="M90.8 624.1l4.3 1.1 1.3-4.9-4.3-1.2zM95.1 625.2l4.3 1.2 1.3-5-4.3-1.1z" color="#00c027"/>
<path d="M99.4 626.4l4.3 1.1 1.3-4.9-4.3-1.2z" color="#00b430"/>
<path d="M103.7 627.5l4.3 1.1 1.3-4.9-4.3-1.1z" color="#00a73a"/>
<path d="M108 628.6l4.4 1.1 1.3-4.9-4.4-1.1z" color="#009a43"/>
<path d="M112.4 629.7l4.4 1 1.3-4.8-4.4-1.1zM116.8 630.7l4.4 1.1 1.3-4.8-4.4-1.1z" color="#008b53"/>
<path d="M121.2 631.8l4.4 1.1 1.3-4.8-4.4-1.1z" color="#007b67"/>
<path d="M125.6 632.9l4.4 1 1.3-4.7-4.4-1.1z" color="#006b7b"/>
<path d="M130 633.9l4.5 1.1 1.3-4.7-4.5-1.1zM134.5 635l4.5 1 1.3-4.6-4.5-1.1z" color="#005b8f"/>
<path d="M139 636l4.5 1 1.3-4.5-4.5-1.1z" color="#004ba3"/>
<path d="M143.5 637l4.5 1.1 1.3-4.6-4.5-1zM148 638.1l4.5 1 1.3-4.5-4.5-1.1z" color="#003eb4"/>
<path d="M152.5 639.1l4.6 1 1.3-4.5-4.6-1z" color="#0032c2"/>
<path d="M157.1 640.1l4.6 1 1.3-4.5-4.6-1zM161.7 641.1l4.6 .9 1.3-4.3-4.6-1.1z" color="#0026d1"/>
<path d="M166.3 642l4.6 1 1.3-4.3-4.6-1z" color="#001adf"/>
<path d="M170.9 643l4.7 1 1.3-4.3-4.7-1z" color="#000eee"/>
<path d="M53 613.6l8.3 2.4 4-14.7-8.3-2.5zM61.3 616l8.3 2.4 4-14.7-8.3-2.4zM69.6 618.4l8.4 2.3 4-14.5-8.4-2.5zM78 620.7l8.5 2.3 4-14.4-8.5-2.4zM86.5 623l8.6 2.2 4-14.2-8.6-2.4zM95.1 625.2l8.6 2.3 4-14.2-8.6-2.3zM103.7 627.5l8.7 2.2 4-14-8.7-2.4zM112.4 629.7l8.8 2.1 3.9-13.8-8.7-2.3zM121.2 631.8l8.8 2.1 4-13.6-8.9-2.3zM130 633.9l9 2.1 3.9-13.4-8.9-2.3zM139 636l9 2.1 3.9-13.2-9-2.3zM148 638.1l9.1 2 3.9-13-9.1-2.2zM157.1 640.1l9.2 1.9 3.9-12.7-9.2-2.2zM166.3 642l9.3 2 3.8-12.5-9.2-2.2z" class="m"/>
<path d="M51.7 619l4.1 1.2 1.3-5.4-4.1-1.2zM55.8 620.2l4.2 1.1 1.3-5.3-4.2-1.2z" color="#00e010"/>
<path d="M60 621.3l4.1 1.2 1.3-5.3-4.1-1.2z" color="#00da15"/>
<path d="M64.1 622.5l4.2 1.2 1.3-5.3-4.2-1.2z" color="#00cd1e"/>
<path d="M68.3 623.7l4.2 1.1 1.3-5.3-4.2-1.1zM72.5 624.8l4.2 1.1 1.3-5.2-4.2-1.2z" color="#00c027"/>
<path d="M76.7 625.9l4.3 1.2 1.3-5.3-4.3-1.1z" color="#00b430"/>
<path d="M81 627.1l4.2 1.1 1.3-5.2-4.2-1.2z" color="#00a73a"/>
<path d="M85.2 628.2l4.3 1.1 1.3-5.2-4.3-1.1z" color="#009a43"/>
<path d="M89.5 629.3l4.2 1.1 1.4-5.2-4.3-1.1z" color="#008b53"/>
<path d="M93.7 630.4l4.3 1.1 1.4-5.1-4.3-1.2z" color="#007b67"/>
<path d="M98 631.5l4.4 1 1.3-5-4.3-1.1zM102.4 632.5l4.3 1.1 1.3-5-4.3-1.1z" color="#006b7b"/>
<path d="M106.7 633.6l4.4 1.1 1.3-5-4.4-1.1z" color="#005b8f"/>
<path d="M111.1 634.7l4.3 1 1.4-5-4.4-1z" color="#004ba3"/>
<path d="M115.4 635.7l4.4 1 1.4-4.9-4.4-1.1zM119.8 636.7l4.5 1.1 1.3-4.9-4.4-1.1z" color="#003eb4"/>
<path d="M124.3 637.8l4.4 1 1.3-4.9-4.4-1z" color="#0032c2"/>
<path d="M128.7 638.8l4.5 1 1.3-4.8-4.5-1.1zM133.2 639.8l4.4 1 1.4-4.8-4.5-1z" color="#0026d1"/>
<path d="M137.6 640.8l4.6 1 1.3-4.8-4.5-1z" color="#001adf"/>
<path d="M142.2 641.8l4.5 .9 1.3-4.6-4.5-1.1zM146.7 642.7l4.5 1 1.3-4.6-4.5-1z" color="#000eee"/>
<path d="M151.2 643.7l4.6 1 1.3-4.6-4.6-1z" color="#0002fd"/>
<path d="M155.8 644.7l4.6 .9 1.3-4.5-4.6-1zM160.4 645.6l4.6 .9 1.3-4.5-4.6-.9z" color="#0000fd"/>
<path d="M165 646.5l4.6 1 1.3-4.5-4.6-1zM169.6 647.5l4.7 .9 1.3-4.4-4.7-1z" color="#0000fa"/>
<path d="M50.4 624.6l4.2 1.1 1.2-5.5-4.1-1.2z" color="#00c027"/>
<path d="M54.6 625.7l4.1 1.2 1.3-5.6-4.2-1.1z" color="#00b430"/>
<path d="M58.7 626.9l4.2 1.1 1.2-5.5-4.1-1.2z" color="#00a73a"/>
<path d="M62.9 628l4.1 1.1 1.3-5.4-4.2-1.2z" color="#009a43"/>
<path d="M67 629.1l4.2 1.1 1.3-5.4-4.2-1.1z" color="#008b53"/>
<path d="M71.2 630.2l4.2 1.2 1.3-5.5-4.2-1.1z" color="#007b67"/>
<path d="M75.4 631.4l4.3 1 1.3-5.3-4.3-1.2z" color="#006b7b"/>
<path d="M79.7 632.4l4.2 1.1 1.3-5.3-4.2-1.1z" color="#005b8f"/>
<path d="M83.9 633.5l4.3 1.1 1.3-5.3-4.3-1.1zM88.2 634.6l4.2 1.1 1.3-5.3-4.2-1.1z" color="#004ba3"/>
<path d="M92.4 635.7l4.3 1 1.3-5.2-4.3-1.1z" color="#003eb4"/>
<path d="M96.7 636.7l4.4 1.1 1.3-5.3-4.4-1z" color="#0032c2"/>
<path d="M101.1 637.8l4.3 1 1.3-5.2-4.3-1.1z" color="#0026d1"/>
<path d="M105.4 638.8l4.4 1 1.3-5.1-4.4-1.1zM109.8 639.8l4.3 1 1.3-5.1-4.3-1z" color="#001adf"/>
<path d="M114.1 640.8l4.4 1 1.3-5.1-4.4-1z" color="#000eee"/>
<path d="M118.5 641.8l4.5 1 1.3-5-4.5-1.1zM123 642.8l4.4 1 1.3-5-4.4-1z" color="#0002fd"/>
<path d="M127.4 643.8l4.5 .9 1.3-4.9-4.5-1z" color="#0000fd"/>
<path d="M131.9 644.7l4.4 1 1.3-4.9-4.4-1zM136.3 645.7l4.5 .9 1.4-4.8-4.6-1z" color="#0000fa"/>
<path d="M140.8 646.6l4.6 .9 1.3-4.8-4.5-.9z" color="#0000f8"/>
<path d="M145.4 647.5l4.5 1 1.3-4.8-4.5-1zM149.9 648.5l4.6 .9 1.3-4.7-4.6-1z" color="#0000f5"/>
<path d="M154.5 649.4l4.6 .9 1.3-4.7-4.6-.9zM159.1 650.3l4.6 .8 1.3-4.6-4.6-.9z" color="#0000f3"/>
<path d="M163.7 651.1l4.7 .9 1.2-4.5-4.6-1zM168.4 652l4.6 .9 1.3-4.5-4.7-.9z" color="#0000f0"/>
<path d="M49.2 630.4l4.1 1.1 1.3-5.8-4.2-1.1z" color="#007b67"/>
<path d="M53.3 631.5l4.1 1.1 1.3-5.7-4.1-1.2z" color="#006b7b"/>
<path d="M57.4 632.6l4.2 1.1 1.3-5.7-4.2-1.1z" color="#005b8f"/>
<path d="M61.6 633.7l4.1 1.1 1.3-5.7-4.1-1.1z" color="#004ba3"/>
<path d="M65.7 634.8l4.2 1.1 1.3-5.7-4.2-1.1z" color="#003eb4"/>
<path d="M69.9 635.9l4.2 1.1 1.3-5.6-4.2-1.2z" color="#0032c2"/>
<path d="M74.1 637l4.3 1 1.3-5.6-4.3-1z" color="#0026d1"/>
<path d="M78.4 638l4.2 1.1 1.3-5.6-4.2-1.1zM82.6 639.1l4.3 1 1.3-5.5-4.3-1.1z" color="#001adf"/>
<path d="M86.9 640.1l4.2 1 1.3-5.4-4.2-1.1z" color="#000eee"/>
<path d="M91.1 641.1l4.3 1 1.3-5.4-4.3-1z" color="#0002fd"/>
<path d="M95.4 642.1l4.4 1 1.3-5.3-4.4-1.1zM99.8 643.1l4.3 1 1.3-5.3-4.3-1z" color="#0000fd"/>
<path d="M104.1 644.1l4.4 1 1.3-5.3-4.4-1z" color="#0000fa"/>
<path d="M108.5 645.1l4.3 .9 1.3-5.2-4.3-1z" color="#0000f8"/>
<path d="M112.8 646l4.4 1 1.3-5.2-4.4-1zM117.2 647l4.5 .9 1.3-5.1-4.5-1z" color="#0000f5"/>
<path d="M121.7 647.9l4.4 1 1.3-5.1-4.4-1zM126.1 648.9l4.5 .9 1.3-5.1-4.5-.9z" color="#0000f3"/>
<path d="M130.6 649.8l4.4 .9 1.3-5-4.4-1z" color="#0000f0"/>
<path d="M135 650.7l4.5 .9 1.3-5-4.5-.9zM139.5 651.6l4.6 .8 1.3-4.9-4.6-.9z" color="#0000eb"/>
<path d="M144.1 652.4l4.5 .9 1.3-4.8-4.5-1zM148.6 653.3l4.6 .8 1.3-4.7-4.6-.9z" color="#0000e6"/>
<path d="M153.2 654.1l4.6 .9 1.3-4.7-4.6-.9zM157.8 655l4.6 .8 1.3-4.7-4.6-.8z" color="#0000e1"/>
<path d="M162.4 655.8l4.7 .8 1.3-4.6-4.7-.9zM167.1 656.6l4.6 .8 1.3-4.5-4.6-.9z" color="#0000dc"/>
<path d="M49.2 630.4l8.2 2.2 3.9-16.6-8.3-2.4zM57.4 632.6l8.3 2.2 3.9-16.4-8.3-2.4zM65.7 634.8l8.4 2.2 3.9-16.3-8.4-2.3zM74.1 637l8.5 2.1 3.9-16.1-8.5-2.3zM82.6 639.1l8.5 2 4-15.9-8.6-2.2zM91.1 641.1l8.7 2 3.9-15.6-8.6-2.3zM99.8 643.1l8.7 2 3.9-15.4-8.7-2.2zM108.5 645.1l8.7 1.9 4-15.2-8.8-2.1zM117.2 647l8.9 1.9 3.9-15-8.8-2.1zM126.1 648.9l8.9 1.8 4-14.7-9-2.1zM135 650.7l9.1 1.7 3.9-14.3-9-2.1zM144.1 652.4l9.1 1.7 3.9-14-9.1-2zM153.2 654.1l9.2 1.7 3.9-13.8-9.2-1.9zM162.4 655.8l9.3 1.6 3.9-13.4-9.3-2z" class="m"/>
<path d="M47.9 636.4l4.1 1 1.3-5.9-4.1-1.1z" color="#0032c2"/>
<path d="M52 637.4l4.2 1.1 1.2-5.9-4.1-1.1z" color="#0026d1"/>
<path d="M56.2 638.5l4.1 1.1 1.3-5.9-4.2-1.1z" color="#001adf"/>
<path d="M60.3 639.6l4.2 1.1 1.2-5.9-4.1-1.1z" color="#000eee"/>
<path d="M64.5 640.7l4.2 1 1.2-5.8-4.2-1.1z" color="#0002fd"/>
<path d="M68.7 641.7l4.2 1 1.2-5.7-4.2-1.1z" color="#0000fd"/>
<path d="M72.9 642.7l4.2 1 1.3-5.7-4.3-1zM77.1 643.7l4.2 1 1.3-5.6-4.2-1.1z" color="#0000fa"/>
<path d="M81.3 644.7l4.3 1 1.3-5.6-4.3-1z" color="#0000f8"/>
<path d="M85.6 645.7l4.3 1 1.2-5.6-4.2-1z" color="#0000f5"/>
<path d="M89.9 646.7l4.3 1 1.2-5.6-4.3-1zM94.2 647.7l4.3 .9 1.3-5.5-4.4-1z" color="#0000f3"/>
<path d="M98.5 648.6l4.3 1 1.3-5.5-4.3-1z" color="#0000f0"/>
<path d="M102.8 649.6l4.4 .9 1.3-5.4-4.4-1zM107.2 650.5l4.3 .9 1.3-5.4-4.3-.9z" color="#0000eb"/>
<path d="M111.5 651.4l4.4 .9 1.3-5.3-4.4-1z" color="#0000e6"/>
<path d="M115.9 652.3l4.5 .9 1.3-5.3-4.5-.9zM120.4 653.2l4.4 .8 1.3-5.1-4.4-1z" color="#0000e1"/>
<path d="M124.8 654l4.5 .9 1.3-5.1-4.5-.9z" color="#0000dc"/>
<path d="M129.3 654.9l4.4 .8 1.3-5-4.4-.9zM133.7 655.7l4.5 .9 1.3-5-4.5-.9z" color="#0000d6"/>
<path d="M138.2 656.6l4.6 .8 1.3-5-4.6-.8zM142.8 657.4l4.5 .8 1.3-4.9-4.5-.9z" color="#0000d1"/>
<path d="M147.3 658.2l4.6 .8 1.3-4.9-4.6-.8zM151.9 659l4.6 .7 1.3-4.7-4.6-.9z" color="#0000cc"/>
<path d="M156.5 659.7l4.6 .8 1.3-4.7-4.6-.8zM161.1 660.5l4.7 .7 1.3-4.6-4.7-.8zM165.8 661.2l4.7 .8 1.2-4.6-4.6-.8z" color="#0000c7"/>
<path d="M46.7 642.6l4.1 1 1.2-6.2-4.1-1z" color="#0000fa"/>
<path d="M50.8 643.6l4.1 1.1 1.3-6.2-4.2-1.1z" color="#0000f8"/>
<path d="M54.9 644.7l4.2 1 1.2-6.1-4.1-1.1zM59.1 645.7l4.1 1 1.3-6-4.2-1.1z" color="#0000f5"/>
<path d="M63.2 646.7l4.2 1 1.3-6-4.2-1z" color="#0000f3"/>
<path d="M67.4 647.7l4.2 1 1.3-6-4.2-1z" color="#0000f0"/>
<path d="M71.6 648.7l4.2 .9 1.3-5.9-4.2-1z" color="#0000eb"/>
<path d="M75.8 649.6l4.3 1 1.2-5.9-4.2-1zM80.1 650.6l4.2 .9 1.3-5.8-4.3-1z" color="#0000e6"/>
<path d="M84.3 651.5l4.3 .9 1.3-5.7-4.3-1z" color="#0000e1"/>
<path d="M88.6 652.4l4.3 1 1.3-5.7-4.3-1zM92.9 653.4l4.3 .9 1.3-5.7-4.3-.9z" color="#0000dc"/>
<path d="M97.2 654.3l4.3 .8 1.3-5.5-4.3-1z" color="#0000d6"/>
<path d="M101.5 655.1l4.4 .9 1.3-5.5-4.4-.9zM105.9 656l4.3 .9 1.3-5.5-4.3-.9z" color="#0000d1"/>
<path d="M110.2 656.9l4.4 .8 1.3-5.4-4.4-.9zM114.6 657.7l4.5 .8 1.3-5.3-4.5-.9z" color="#0000cc"/>
<path d="M119.1 658.5l4.4 .8 1.3-5.3-4.4-.8z" color="#0000c7"/>
<path d="M123.5 659.3l4.5 .8 1.3-5.2-4.5-.9zM128 660.1l4.4 .8 1.3-5.2-4.4-.8z" color="#0000c2"/>
<path d="M132.4 660.9l4.6 .8 1.2-5.1-4.5-.9zM137 661.7l4.5 .7 1.3-5-4.6-.8z" color="#0000bd"/>
<path d="M141.5 662.4l4.5 .7 1.3-4.9-4.5-.8zM146 663.1l4.6 .7 1.3-4.8-4.6-.8zM150.6 663.8l4.6 .7 1.3-4.8-4.6-.7z" color="#0000b8"/>
<path d="M155.2 664.5l4.6 .7 1.3-4.7-4.6-.8zM159.8 665.2l4.7 .7 1.3-4.7-4.7-.7z" color="#0000b3"/>
<path d="M164.5 665.9l4.7 .7 1.3-4.6-4.7-.8z" color="#0000ae"/>
<path d="M45.5 649l4.1 1 1.2-6.4-4.1-1z" color="#0000eb"/>
<path d="M49.6 650l4.1 1 1.2-6.3-4.1-1.1z" color="#0000e6"/>
<path d="M53.7 651l4.2 .9 1.2-6.2-4.2-1z" color="#0000e1"/>
<path d="M57.9 651.9l4.1 1 1.2-6.2-4.1-1z" color="#0000dc"/>
<path d="M62 652.9l4.2 .9 1.2-6.1-4.2-1zM66.2 653.8l4.2 1 1.2-6.1-4.2-1z" color="#0000d6"/>
<path d="M70.4 654.8l4.2 .9 1.2-6.1-4.2-.9z" color="#0000d1"/>
<path d="M74.6 655.7l4.2 .9 1.3-6-4.3-1zM78.8 656.6l4.2 .8 1.3-5.9-4.2-.9z" color="#0000cc"/>
<path d="M83 657.4l4.3 .9 1.3-5.9-4.3-.9z" color="#0000c7"/>
<path d="M87.3 658.3l4.3 .9 1.3-5.8-4.3-1zM91.6 659.2l4.3 .8 1.3-5.7-4.3-.9z" color="#0000c2"/>
<path d="M95.9 660l4.3 .8 1.3-5.7-4.3-.8z" color="#0000bd"/>
<path d="M100.2 660.8l4.4 .8 1.3-5.6-4.4-.9zM104.6 661.6l4.4 .8 1.2-5.5-4.3-.9z" color="#0000b8"/>
<path d="M109 662.4l4.4 .8 1.2-5.5-4.4-.8zM113.4 663.2l4.4 .7 1.3-5.4-4.5-.8z" color="#0000b3"/>
<path d="M117.8 663.9l4.4 .8 1.3-5.4-4.4-.8zM122.2 664.7l4.5 .7 1.3-5.3-4.5-.8z" color="#0000ae"/>
<path d="M126.7 665.4l4.5 .7 1.2-5.2-4.4-.8zM131.2 666.1l4.5 .7 1.3-5.1-4.6-.8zM135.7 666.8l4.5 .6 1.3-5-4.5-.7z" color="#0000aa"/>
<path d="M140.2 667.4l4.5 .7 1.3-5-4.5-.7zM144.7 668.1l4.6 .6 1.3-4.9-4.6-.7z" color="#0000a6"/>
<path d="M149.3 668.7l4.6 .6 1.3-4.8-4.6-.7zM153.9 669.3l4.7 .7 1.2-4.8-4.6-.7zM158.6 670l4.6 .5 1.3-4.6-4.7-.7z" color="#0000a3"/>
<path d="M163.2 670.5l4.7 .6 1.3-4.5-4.7-.7z" color="#00009f"/>
<path d="M45.5 649l8.2 2 3.7-18.4-8.2-2.2zM53.7 651l8.3 1.9 3.7-18.1-8.3-2.2zM62 652.9l8.4 1.9 3.7-17.8-8.4-2.2zM70.4 654.8l8.4 1.8 3.8-17.5-8.5-2.1zM78.8 656.6l8.5 1.7 3.8-17.2-8.5-2zM87.3 658.3l8.6 1.7 3.9-16.9-8.7-2zM95.9 660l8.7 1.6 3.9-16.5-8.7-2zM104.6 661.6l8.8 1.6 3.8-16.2-8.7-1.9zM113.4 663.2l8.8 1.5 3.9-15.8-8.9-1.9zM122.2 664.7l9 1.4 3.8-15.4-8.9-1.8zM131.2 666.1l9 1.3 3.9-15-9.1-1.7zM140.2 667.4l9.1 1.3 3.9-14.6-9.1-1.7zM149.3 668.7l9.3 1.3 3.8-14.2-9.2-1.7zM158.6 670l9.3 1.1 3.8-13.7-9.3-1.6z" class="m"/>
</g>
<g font-size="9.0" fill="#111" stroke="#111" stroke-width=".22">
<text x="33.5" y="561" text-anchor="end">2.0</text>
<text x="34.8" y="578.8" text-anchor="end">1.8</text>
<text x="36.1" y="595.9" text-anchor="end">1.6</text>
<text x="37.4" y="612.4" text-anchor="end">1.4</text>
<text x="38.7" y="628.5" text-anchor="end">1.2</text>
<text x="40" y="644.2" text-anchor="end">1.0</text>
<text x="41.3" y="659" text-anchor="end">0.8</text>
<text x="42.6" y="673.5" text-anchor="end">0.6</text>
<text x="61.8" y="684.4" text-anchor="middle">5</text>
<text x="85.2" y="690" text-anchor="middle">4</text>
<text x="108.9" y="695.9" text-anchor="middle">3</text>
<text x="132.3" y="701.7" text-anchor="middle">2</text>
<text x="157.7" y="707.9" text-anchor="middle">1</text>
<text x="182.3" y="694.6" text-anchor="middle">2</text>
<text x="193" y="680.6" text-anchor="middle">4</text>
<text x="202.7" y="667.1" text-anchor="middle">6</text>
<text x="211.6" y="655.2" text-anchor="middle">8</text>
<text x="223" y="644.2" text-anchor="middle">10</text>
<text font-size="9.0" transform="translate(20 612.9) rotate(-90)" text-anchor="middle">Albumin/globulin yield (%)</text>
<text font-size="9.5" transform="translate(101.4 713.6) rotate(13.5)" text-anchor="middle">Extraction speed (m/s)</text>
<text font-size="9.3" transform="translate(222.8 671.5) rotate(-52.3)" text-anchor="middle">Extraction time (min)</text>
</g>
<rect x="236.2" y="543.6" width="35.2" height="67.8" fill="#fff" stroke="#555" stroke-width="1"/>
<g font-size="5.8" fill="#222">
<rect x="240.6" y="549" width="13.5" height="4.5" fill="#000080" stroke="#333" stroke-width=".4"/>
<text x="257.6" y="553.3">0.6</text>
<rect x="240.6" y="556.5" width="13.5" height="4.5" fill="#0000b0" stroke="#333" stroke-width=".4"/>
<text x="257.6" y="560.8">0.8</text>
<rect x="240.6" y="564.1" width="13.5" height="4.5" fill="#0000ff" stroke="#333" stroke-width=".4"/>
<text x="257.6" y="568.4">1.0</text>
<rect x="240.6" y="571.6" width="13.5" height="4.5" fill="#008860" stroke="#333" stroke-width=".4"/>
<text x="257.6" y="576">1.2</text>
<rect x="240.6" y="579.2" width="13.5" height="4.5" fill="#00d000" stroke="#333" stroke-width=".4"/>
<text x="257.6" y="583.5">1.4</text>
<rect x="240.6" y="586.8" width="13.5" height="4.5" fill="#fff000" stroke="#333" stroke-width=".4"/>
<text x="257.6" y="591.1">1.6</text>
<rect x="240.6" y="594.3" width="13.5" height="4.5" fill="#ffb800" stroke="#333" stroke-width=".4"/>
<text x="257.6" y="598.6">1.8</text>
<rect x="240.6" y="601.9" width="13.5" height="4.5" fill="#ff4c00" stroke="#333" stroke-width=".4"/>
<text x="257.6" y="606.2">2.0</text>
</g>
<text x="133.4" y="754.5" text-anchor="middle" font-family="'Liberation Serif',serif" font-size="12.6" letter-spacing=".7" fill="#111" stroke="#111" stroke-width=".2">(<tspan font-weight="bold">e</tspan>)</text>
<g fill="none" stroke-linecap="round" stroke-linejoin="round">
<path d="M317.6 679.2L381.2 628.3L378.6 524.5L308.4 560.1z" fill="#fff"/>
<path d="M381.2 628.3L493.6 649.4L500.8 540L378.6 524.5z" fill="#fff"/>
<path d="M317.6 679.2L381.2 628.3M315.9 656.8L380.7 608.8M314.1 633.7L380.2 588.7M312.3 610L379.7 568M310.4 585.4L379.2 546.6M308.4 560.1L378.6 524.5M325.5 672.9L317.1 555.7M340.6 660.8L333.8 547.2M354.9 649.3L349.6 539.2M368.4 638.5L364.5 531.7M381.2 628.3L378.6 524.5M381.2 628.3L493.6 649.4M380.7 608.8L495 628.8M380.2 588.7L496.3 607.6M379.7 568L497.8 585.8M379.2 546.6L499.3 563.3M378.6 524.5L500.8 540M381.2 628.3L378.6 524.5M405.4 632.8L404.9 527.8M430.4 637.5L432.1 531.3M456.2 642.4L460.1 534.8M482.7 647.4L489 538.5M317.6 679.2L381.2 628.3M345.1 686.1L405.4 632.8M373.5 693.3L430.4 637.5M402.8 700.6L456.2 642.4M433 708.2L482.7 647.4M325.5 672.9L451.3 703.6M340.6 660.8L462.8 688.9M354.9 649.3L473.6 675M368.4 638.5L483.9 661.8M381.2 628.3L493.6 649.4" stroke="#dcdcdc" stroke-width="0.7"/>
<path d="M317.6 679.2L381.2 628.3L378.6 524.5L308.4 560.1zM381.2 628.3L493.6 649.4L500.8 540L378.6 524.5zM317.6 679.2L445.3 711.3L493.6 649.4L381.2 628.3z" stroke="#8a8a8a" stroke-width="0.7"/>
<path d="M317.6 679.2l-2 1.6M345.1 686.1l-1.9 1.7M373.5 693.3l-1.9 1.8M402.8 700.6l-1.8 1.9M433 708.2l-1.6 2M451.3 703.6l2.5 0.6M462.8 688.9l2.5 0.6M473.6 675l2.5 0.5M483.9 661.8l2.5 0.5M493.6 649.4l2.6 0.5M317.6 679.2l-2 1.6M315.9 656.8l-2.1 1.5M314.1 633.7l-2.1 1.5M312.3 610l-2.2 1.4M310.4 585.4l-2.3 1.3M308.4 560.1l-2.3 1.2" stroke="#8a8a8a" stroke-width="0.8"/>
</g>
<g stroke-linejoin="round" fill="currentColor" stroke="currentColor" stroke-width=".9">
<path d="M379.3 605.8l7.6-2.2 1.3-2.9-7.6 2.2z" color="#0000d4"/>
<path d="M386.9 603.6l7.8-1.7 1.3-2.9-7.8 1.7z" color="#0000e0"/>
<path d="M394.7 601.9l7.9-1.2 1.2-2.9-7.8 1.2z" color="#0000eb"/>
<path d="M402.6 600.7l8-.6 1.2-2.9-8 .6z" color="#0000f3"/>
<path d="M410.6 600.1l8.1-.1 1.2-3-8.1 .2z" color="#0000fb"/>
<path d="M418.7 600l8.1 .4 1.3-2.9-8.2-.5zM426.8 600.4l8.3 1 1.2-2.9-8.2-1zM435.1 601.4l8.3 1.6 1.2-3-8.3-1.5zM443.4 603l8.4 2.2 1.2-3-8.4-2.2z" color="#0000ff"/>
<path d="M451.8 605.2l8.4 2.7 1.2-3-8.4-2.7z" color="#0000fb"/>
<path d="M460.2 607.9l8.5 3.3 1.2-3-8.5-3.3z" color="#0000f3"/>
<path d="M468.7 611.2l8.5 3.9 1.2-3-8.5-3.9z" color="#0000eb"/>
<path d="M477.2 615.1l8.6 4.5 1.1-3.1-8.5-4.4z" color="#0000e4"/>
<path d="M485.8 619.6l8.5 5.1 1.1-3.1-8.5-5.1z" color="#0000d8"/>
<path d="M378 608.4l7.7-2.1 1.2-2.7-7.6 2.2z" color="#0000cc"/>
<path d="M385.7 606.3l7.8-1.7 1.2-2.7-7.8 1.7z" color="#0000d8"/>
<path d="M393.5 604.6l7.8-1.2 1.3-2.7-7.9 1.2z" color="#0000e4"/>
<path d="M401.3 603.4l8-.6 1.3-2.7-8 .6z" color="#0000eb"/>
<path d="M409.3 602.8l8.1-.1 1.3-2.7-8.1 .1z" color="#0000f3"/>
<path d="M417.4 602.7l8.2 .5 1.2-2.8-8.1-.4z" color="#0000f7"/>
<path d="M425.6 603.2l8.3 1.1 1.2-2.9-8.3-1zM433.9 604.3l8.3 1.6 1.2-2.9-8.3-1.6z" color="#0000fb"/>
<path d="M442.2 605.9l8.4 2.1 1.2-2.8-8.4-2.2z" color="#0000f7"/>
<path d="M450.6 608l8.5 2.8 1.1-2.9-8.4-2.7z" color="#0000f3"/>
<path d="M459.1 610.8l8.5 3.4 1.1-3-8.5-3.3z" color="#0000ef"/>
<path d="M467.6 614.2l8.5 3.9 1.1-3-8.5-3.9z" color="#0000e7"/>
<path d="M476.1 618.1l8.5 4.5 1.2-3-8.6-4.5z" color="#0000dc"/>
<path d="M484.6 622.6l8.6 5.1 1.1-3-8.5-5.1z" color="#0000d0"/>
<path d="M376.8 611l7.6-2.2 1.3-2.5-7.7 2.1z" color="#0000c4"/>
<path d="M384.4 608.8l7.8-1.6 1.3-2.6-7.8 1.7z" color="#0000d4"/>
<path d="M392.2 607.2l7.9-1.2 1.2-2.6-7.8 1.2z" color="#0000dc"/>
<path d="M400.1 606l8-.6 1.2-2.6-8 .6z" color="#0000e4"/>
<path d="M408.1 605.4l8.1 0 1.2-2.7-8.1 .1z" color="#0000eb"/>
<path d="M416.2 605.4l8.2 .5 1.2-2.7-8.2-.5z" color="#0000ef"/>
<path d="M424.4 605.9l8.3 1 1.2-2.6-8.3-1.1zM432.7 606.9l8.3 1.7 1.2-2.7-8.3-1.6zM441 608.6l8.4 2.2 1.2-2.8-8.4-2.1z" color="#0000f3"/>
<path d="M449.4 610.8l8.5 2.8 1.2-2.8-8.5-2.8z" color="#0000ef"/>
<path d="M457.9 613.6l8.5 3.3 1.2-2.7-8.5-3.4z" color="#0000e7"/>
<path d="M466.4 616.9l8.5 4 1.2-2.8-8.5-3.9z" color="#0000e0"/>
<path d="M474.9 620.9l8.6 4.5 1.1-2.8-8.5-4.5z" color="#0000d4"/>
<path d="M483.5 625.4l8.6 5.1 1.1-2.8-8.6-5.1z" color="#0000c8"/>
<path d="M375.5 613.4l7.6-2.1 1.3-2.5-7.6 2.2z" color="#0000c0"/>
<path d="M383.1 611.3l7.8-1.7 1.3-2.4-7.8 1.6z" color="#0000cc"/>
<path d="M390.9 609.6l7.9-1.1 1.3-2.5-7.9 1.2z" color="#0000d8"/>
<path d="M398.8 608.5l8-.6 1.3-2.5-8 .6z" color="#0000e0"/>
<path d="M406.8 607.9l8.2 0 1.2-2.5-8.1 0z" color="#0000e7"/>
<path d="M415 607.9l8.2 .5 1.2-2.5-8.2-.5zM423.2 608.4l8.3 1.1 1.2-2.6-8.3-1zM431.5 609.5l8.3 1.6 1.2-2.5-8.3-1.7zM439.8 611.1l8.4 2.3 1.2-2.6-8.4-2.2z" color="#0000eb"/>
<path d="M448.2 613.4l8.5 2.8 1.2-2.6-8.5-2.8z" color="#0000e7"/>
<path d="M456.7 616.2l8.5 3.4 1.2-2.7-8.5-3.3z" color="#0000e0"/>
<path d="M465.2 619.6l8.6 3.9 1.1-2.6-8.5-4z" color="#0000d8"/>
<path d="M473.8 623.5l8.6 4.6 1.1-2.7-8.6-4.5z" color="#0000d0"/>
<path d="M482.4 628.1l8.6 5.2 1.1-2.8-8.6-5.1z" color="#0000c4"/>
<path d="M375.5 613.4l7.6-2.1 5.1-10.6-7.6 2.2zM383.1 611.3l7.8-1.7 5.1-10.6-7.8 1.7zM390.9 609.6l7.9-1.1 5-10.7-7.8 1.2zM398.8 608.5l8-.6 5-10.7-8 .6zM406.8 607.9l8.2 0 4.9-10.9-8.1 .2zM415 607.9l8.2 .5 4.9-10.9-8.2-.5zM423.2 608.4l8.3 1.1 4.8-11-8.2-1zM431.5 609.5l8.3 1.6 4.8-11.1-8.3-1.5zM439.8 611.1l8.4 2.3 4.8-11.2-8.4-2.2zM448.2 613.4l8.5 2.8 4.7-11.3-8.4-2.7zM456.7 616.2l8.5 3.4 4.7-11.4-8.5-3.3zM465.2 619.6l8.6 3.9 4.6-11.4-8.5-3.9zM473.8 623.5l8.6 4.6 4.5-11.6-8.5-4.4zM482.4 628.1l8.6 5.2 4.4-11.7-8.5-5.1z" class="m"/>
<path d="M374.2 615.7l7.7-2.1 1.2-2.3-7.6 2.1z" color="#0000b7"/>
<path d="M381.9 613.6l7.8-1.7 1.2-2.3-7.8 1.7z" color="#0000c8"/>
<path d="M389.7 611.9l7.9-1.1 1.2-2.3-7.9 1.1z" color="#0000d0"/>
<path d="M397.6 610.8l8-.5 1.2-2.4-8 .6z" color="#0000dc"/>
<path d="M405.6 610.3l8.1 0 1.3-2.4-8.2 0z" color="#0000e0"/>
<path d="M413.7 610.3l8.2 .5 1.3-2.4-8.2-.5z" color="#0000e4"/>
<path d="M421.9 610.8l8.3 1.1 1.3-2.4-8.3-1.1zM430.2 611.9l8.4 1.7 1.2-2.5-8.3-1.6zM438.6 613.6l8.5 2.2 1.1-2.4-8.4-2.3z" color="#0000e7"/>
<path d="M447.1 615.8l8.4 2.8 1.2-2.4-8.5-2.8z" color="#0000e4"/>
<path d="M455.5 618.6l8.6 3.5 1.1-2.5-8.5-3.4z" color="#0000dc"/>
<path d="M464.1 622.1l8.6 4 1.1-2.6-8.6-3.9z" color="#0000d4"/>
<path d="M472.7 626.1l8.6 4.6 1.1-2.6-8.6-4.6z" color="#0000cc"/>
<path d="M481.3 630.7l8.6 5.1 1.1-2.5-8.6-5.2z" color="#0000bc"/>
<path d="M372.9 617.8l7.7-2.1 1.3-2.1-7.7 2.1z" color="#0000b3"/>
<path d="M380.6 615.7l7.8-1.6 1.3-2.2-7.8 1.7z" color="#0000c0"/>
<path d="M388.4 614.1l7.9-1.1 1.3-2.2-7.9 1.1z" color="#0000cc"/>
<path d="M396.3 613l8-.5 1.3-2.2-8 .5z" color="#0000d4"/>
<path d="M404.3 612.5l8.2 0 1.2-2.2-8.1 0z" color="#0000dc"/>
<path d="M412.5 612.5l8.2 .6 1.2-2.3-8.2-.5z" color="#0000e0"/>
<path d="M420.7 613.1l8.3 1.1 1.2-2.3-8.3-1.1zM429 614.2l8.4 1.7 1.2-2.3-8.4-1.7z" color="#0000e4"/>
<path d="M437.4 615.9l8.5 2.2 1.2-2.3-8.5-2.2z" color="#0000e0"/>
<path d="M445.9 618.1l8.5 2.9 1.1-2.4-8.4-2.8z" color="#0000dc"/>
<path d="M454.4 621l8.5 3.4 1.2-2.3-8.6-3.5z" color="#0000d8"/>
<path d="M462.9 624.4l8.6 4 1.2-2.3-8.6-4z" color="#0000d0"/>
<path d="M471.5 628.4l8.6 4.7 1.2-2.4-8.6-4.6z" color="#0000c4"/>
<path d="M480.1 633.1l8.7 5.2 1.1-2.5-8.6-5.1z" color="#0000b7"/>
<path d="M371.6 619.9l7.7-2.1 1.3-2.1-7.7 2.1z" color="#0000b3"/>
<path d="M379.3 617.8l7.8-1.6 1.3-2.1-7.8 1.6z" color="#0000c0"/>
<path d="M387.1 616.2l7.9-1.1 1.3-2.1-7.9 1.1z" color="#0000cc"/>
<path d="M395 615.1l8.1-.5 1.2-2.1-8 .5z" color="#0000d4"/>
<path d="M403.1 614.6l8.1 0 1.3-2.1-8.2 0z" color="#0000dc"/>
<path d="M411.2 614.6l8.3 .6 1.2-2.1-8.2-.6z" color="#0000e0"/>
<path d="M419.5 615.2l8.3 1.1 1.2-2.1-8.3-1.1zM427.8 616.3l8.4 1.7 1.2-2.1-8.4-1.7z" color="#0000e4"/>
<path d="M436.2 618l8.5 2.3 1.2-2.2-8.5-2.2z" color="#0000e0"/>
<path d="M444.7 620.3l8.5 2.9 1.2-2.2-8.5-2.9z" color="#0000dc"/>
<path d="M453.2 623.2l8.6 3.4 1.1-2.2-8.5-3.4z" color="#0000d8"/>
<path d="M461.8 626.6l8.6 4.1 1.1-2.3-8.6-4z" color="#0000d0"/>
<path d="M470.4 630.7l8.6 4.6 1.1-2.2-8.6-4.7z" color="#0000c4"/>
<path d="M479 635.3l8.7 5.3 1.1-2.3-8.7-5.2z" color="#0000b7"/>
<path d="M370.3 621.8l7.7-2.1 1.3-1.9-7.7 2.1z" color="#0000b3"/>
<path d="M378 619.7l7.8-1.6 1.3-1.9-7.8 1.6z" color="#0000c0"/>
<path d="M385.8 618.1l8-1.1 1.2-1.9-7.9 1.1z" color="#0000cc"/>
<path d="M393.8 617l8-.5 1.3-1.9-8.1 .5z" color="#0000d4"/>
<path d="M401.8 616.5l8.2 .1 1.2-2-8.1 0z" color="#0000dc"/>
<path d="M410 616.6l8.2 .5 1.3-1.9-8.3-.6z" color="#0000e0"/>
<path d="M418.2 617.1l8.4 1.2 1.2-2-8.3-1.1zM426.6 618.3l8.4 1.7 1.2-2-8.4-1.7z" color="#0000e4"/>
<path d="M435 620l8.5 2.3 1.2-2-8.5-2.3z" color="#0000e0"/>
<path d="M443.5 622.3l8.6 2.9 1.1-2-8.5-2.9z" color="#0000dc"/>
<path d="M452.1 625.2l8.5 3.5 1.2-2.1-8.6-3.4z" color="#0000d8"/>
<path d="M460.6 628.7l8.7 4.1 1.1-2.1-8.6-4.1z" color="#0000d0"/>
<path d="M469.3 632.8l8.6 4.7 1.1-2.2-8.6-4.6z" color="#0000c4"/>
<path d="M477.9 637.5l8.7 5.2 1.1-2.1-8.7-5.3z" color="#0000b7"/>
<path d="M370.3 621.8l7.7-2.1 5.1-8.4-7.6 2.1zM378 619.7l7.8-1.6 5.1-8.5-7.8 1.7zM385.8 618.1l8-1.1 5-8.5-7.9 1.1zM393.8 617l8-.5 5-8.6-8 .6zM401.8 616.5l8.2 .1 5-8.7-8.2 0zM410 616.6l8.2 .5 5-8.7-8.2-.5zM418.2 617.1l8.4 1.2 4.9-8.8-8.3-1.1zM426.6 618.3l8.4 1.7 4.8-8.9-8.3-1.6zM435 620l8.5 2.3 4.7-8.9-8.4-2.3zM443.5 622.3l8.6 2.9 4.6-9-8.5-2.8zM452.1 625.2l8.5 3.5 4.6-9.1-8.5-3.4zM460.6 628.7l8.7 4.1 4.5-9.3-8.6-3.9zM469.3 632.8l8.6 4.7 4.5-9.4-8.6-4.6zM477.9 637.5l8.7 5.2 4.4-9.4-8.6-5.2z" class="m"/>
<path d="M369 623.5l7.7-2.1 1.3-1.7-7.7 2.1z" color="#0000b3"/>
<path d="M376.7 621.4l7.8-1.5 1.3-1.8-7.8 1.6z" color="#0000c4"/>
<path d="M384.5 619.9l8-1.1 1.3-1.8-8 1.1z" color="#0000cc"/>
<path d="M392.5 618.8l8-.5 1.3-1.8-8 .5z" color="#0000d8"/>
<path d="M400.5 618.3l8.2 .1 1.3-1.8-8.2-.1z" color="#0000dc"/>
<path d="M408.7 618.4l8.3 .6 1.2-1.9-8.2-.5z" color="#0000e0"/>
<path d="M417 619l8.4 1.2 1.2-1.9-8.4-1.2zM425.4 620.2l8.4 1.7 1.2-1.9-8.4-1.7zM433.8 621.9l8.5 2.3 1.2-1.9-8.5-2.3z" color="#0000e4"/>
<path d="M442.3 624.2l8.6 3 1.2-2-8.6-2.9z" color="#0000e0"/>
<path d="M450.9 627.2l8.6 3.5 1.1-2-8.5-3.5z" color="#0000d8"/>
<path d="M459.5 630.7l8.7 4.1 1.1-2-8.7-4.1z" color="#0000d0"/>
<path d="M468.2 634.8l8.6 4.7 1.1-2-8.6-4.7z" color="#0000c4"/>
<path d="M476.8 639.5l8.7 5.2 1.1-2-8.7-5.2zM367.6 625.1l7.7-2 1.4-1.7-7.7 2.1z" color="#0000b7"/>
<path d="M375.3 623.1l7.9-1.6 1.3-1.6-7.8 1.5z" color="#0000c4"/>
<path d="M383.2 621.5l8-1 1.3-1.7-8 1.1z" color="#0000d0"/>
<path d="M391.2 620.5l8.1-.5 1.2-1.7-8 .5z" color="#0000d8"/>
<path d="M399.3 620l8.2 .1 1.2-1.7-8.2-.1z" color="#0000e0"/>
<path d="M407.5 620.1l8.3 .6 1.2-1.7-8.3-.6zM415.8 620.7l8.3 1.2 1.3-1.7-8.4-1.2z" color="#0000e4"/>
<path d="M424.1 621.9l8.5 1.7 1.2-1.7-8.4-1.7z" color="#0000e7"/>
<path d="M432.6 623.6l8.5 2.4 1.2-1.8-8.5-2.3z" color="#0000e4"/>
<path d="M441.1 626l8.6 2.9 1.2-1.7-8.6-3z" color="#0000e0"/>
<path d="M449.7 628.9l8.7 3.6 1.1-1.8-8.6-3.5z" color="#0000dc"/>
<path d="M458.4 632.5l8.6 4.1 1.2-1.8-8.7-4.1z" color="#0000d4"/>
<path d="M467 636.6l8.7 4.7 1.1-1.8-8.6-4.7z" color="#0000c8"/>
<path d="M475.7 641.3l8.8 5.3 1-1.9-8.7-5.2z" color="#0000bc"/>
<path d="M366.3 626.6l7.7-2 1.3-1.5-7.7 2z" color="#0000b7"/>
<path d="M374 624.6l7.9-1.6 1.3-1.5-7.9 1.6z" color="#0000c8"/>
<path d="M381.9 623l8-1 1.3-1.5-8 1z" color="#0000d0"/>
<path d="M389.9 622l8.1-.5 1.3-1.5-8.1 .5z" color="#0000dc"/>
<path d="M398 621.5l8.2 .1 1.3-1.5-8.2-.1z" color="#0000e0"/>
<path d="M406.2 621.6l8.3 .6 1.3-1.5-8.3-.6z" color="#0000e4"/>
<path d="M414.5 622.2l8.4 1.2 1.2-1.5-8.3-1.2zM422.9 623.4l8.5 1.8 1.2-1.6-8.5-1.7zM431.4 625.2l8.5 2.4 1.2-1.6-8.5-2.4z" color="#0000e7"/>
<path d="M439.9 627.6l8.7 3 1.1-1.7-8.6-2.9z" color="#0000e4"/>
<path d="M448.6 630.6l8.6 3.5 1.2-1.6-8.7-3.6z" color="#0000dc"/>
<path d="M457.2 634.1l8.7 4.2 1.1-1.7-8.6-4.1z" color="#0000d4"/>
<path d="M465.9 638.3l8.8 4.7 1-1.7-8.7-4.7z" color="#0000cc"/>
<path d="M474.7 643l8.7 5.4 1.1-1.8-8.8-5.3zM364.9 628l7.8-2.1 1.3-1.3-7.7 2z" color="#0000bc"/>
<path d="M372.7 625.9l7.8-1.5 1.4-1.4-7.9 1.6z" color="#0000c8"/>
<path d="M380.5 624.4l8.1-1 1.3-1.4-8 1z" color="#0000d4"/>
<path d="M388.6 623.4l8.1-.5 1.3-1.4-8.1 .5z" color="#0000dc"/>
<path d="M396.7 622.9l8.2 .1 1.3-1.4-8.2-.1z" color="#0000e4"/>
<path d="M404.9 623l8.4 .7 1.2-1.5-8.3-.6z" color="#0000e7"/>
<path d="M413.3 623.7l8.4 1.2 1.2-1.5-8.4-1.2zM421.7 624.9l8.5 1.8 1.2-1.5-8.5-1.8z" color="#0000eb"/>
<path d="M430.2 626.7l8.6 2.4 1.1-1.5-8.5-2.4z" color="#0000e7"/>
<path d="M438.8 629.1l8.6 3 1.2-1.5-8.7-3z" color="#0000e4"/>
<path d="M447.4 632.1l8.7 3.5 1.1-1.5-8.6-3.5z" color="#0000e0"/>
<path d="M456.1 635.6l8.7 4.2 1.1-1.5-8.7-4.2z" color="#0000d8"/>
<path d="M464.8 639.8l8.8 4.8 1.1-1.6-8.8-4.7z" color="#0000cc"/>
<path d="M473.6 644.6l8.7 5.4 1.1-1.6-8.7-5.4z" color="#0000c0"/>
<path d="M364.9 628l7.8-2.1 5.3-6.2-7.7 2.1zM372.7 625.9l7.8-1.5 5.3-6.3-7.8 1.6zM380.5 624.4l8.1-1 5.2-6.4-8 1.1zM388.6 623.4l8.1-.5 5.1-6.4-8 .5zM396.7 622.9l8.2 .1 5.1-6.4-8.2-.1zM404.9 623l8.4 .7 4.9-6.6-8.2-.5zM413.3 623.7l8.4 1.2 4.9-6.6-8.4-1.2zM421.7 624.9l8.5 1.8 4.8-6.7-8.4-1.7zM430.2 626.7l8.6 2.4 4.7-6.8-8.5-2.3zM438.8 629.1l8.6 3 4.7-6.9-8.6-2.9zM447.4 632.1l8.7 3.5 4.5-6.9-8.5-3.5zM456.1 635.6l8.7 4.2 4.5-7-8.7-4.1zM464.8 639.8l8.8 4.8 4.3-7.1-8.6-4.7zM473.6 644.6l8.7 5.4 4.3-7.3-8.7-5.2z" class="m"/>
<path d="M363.5 629.2l7.8-2.1 1.4-1.2-7.8 2.1z" color="#0000c0"/>
<path d="M371.3 627.1l7.9-1.5 1.3-1.2-7.8 1.5z" color="#0000cc"/>
<path d="M379.2 625.6l8-1 1.4-1.2-8.1 1z" color="#0000d8"/>
<path d="M387.2 624.6l8.2-.4 1.3-1.3-8.1 .5z" color="#0000e0"/>
<path d="M395.4 624.2l8.2 .1 1.3-1.3-8.2-.1z" color="#0000e7"/>
<path d="M403.6 624.3l8.4 .6 1.3-1.2-8.4-.7z" color="#0000eb"/>
<path d="M412 624.9l8.4 1.3 1.3-1.3-8.4-1.2zM420.4 626.2l8.6 1.8 1.2-1.3-8.5-1.8z" color="#0000ef"/>
<path d="M429 628l8.6 2.4 1.2-1.3-8.6-2.4z" color="#0000eb"/>
<path d="M437.6 630.4l8.6 3 1.2-1.3-8.6-3z" color="#0000e7"/>
<path d="M446.2 633.4l8.7 3.6 1.2-1.4-8.7-3.5z" color="#0000e4"/>
<path d="M454.9 637l8.8 4.2 1.1-1.4-8.7-4.2z" color="#0000dc"/>
<path d="M463.7 641.2l8.8 4.8 1.1-1.4-8.8-4.8z" color="#0000d0"/>
<path d="M472.5 646l8.8 5.4 1-1.4-8.7-5.4zM362.1 630.3l7.8-2.1 1.4-1.1-7.8 2.1z" color="#0000c4"/>
<path d="M369.9 628.2l8-1.5 1.3-1.1-7.9 1.5z" color="#0000d0"/>
<path d="M377.9 626.7l8-1 1.3-1.1-8 1z" color="#0000dc"/>
<path d="M385.9 625.7l8.2-.4 1.3-1.1-8.2 .4z" color="#0000e4"/>
<path d="M394.1 625.3l8.2 .1 1.3-1.1-8.2-.1z" color="#0000eb"/>
<path d="M402.3 625.4l8.4 .6 1.3-1.1-8.4-.6z" color="#0000ef"/>
<path d="M410.7 626l8.5 1.3 1.2-1.1-8.4-1.3zM419.2 627.3l8.5 1.8 1.3-1.1-8.6-1.8z" color="#0000f3"/>
<path d="M427.7 629.1l8.7 2.5 1.2-1.2-8.6-2.4z" color="#0000ef"/>
<path d="M436.4 631.6l8.6 3 1.2-1.2-8.6-3z" color="#0000eb"/>
<path d="M445 634.6l8.8 3.6 1.1-1.2-8.7-3.6z" color="#0000e7"/>
<path d="M453.8 638.2l8.8 4.2 1.1-1.2-8.8-4.2z" color="#0000e0"/>
<path d="M462.6 642.4l8.8 4.9 1.1-1.3-8.8-4.8z" color="#0000d4"/>
<path d="M471.4 647.3l8.8 5.4 1.1-1.3-8.8-5.4zM360.7 631.2l7.9-2.1 1.3-.9-7.8 2.1z" color="#0000c8"/>
<path d="M368.6 629.1l7.9-1.5 1.4-.9-8 1.5z" color="#0000d4"/>
<path d="M376.5 627.6l8.1-1 1.3-.9-8 1z" color="#0000e0"/>
<path d="M384.6 626.6l8.1-.4 1.4-.9-8.2 .4z" color="#0000e7"/>
<path d="M392.7 626.2l8.3 .1 1.3-.9-8.2-.1z" color="#0000ef"/>
<path d="M401 626.3l8.4 .7 1.3-1-8.4-.6z" color="#0000f3"/>
<path d="M409.4 627l8.5 1.3 1.3-1-8.5-1.3zM417.9 628.3l8.6 1.9 1.2-1.1-8.5-1.8z" color="#0000f7"/>
<path d="M426.5 630.2l8.7 2.4 1.2-1-8.7-2.5z" color="#0000f3"/>
<path d="M435.2 632.6l8.7 3 1.1-1-8.6-3z" color="#0000ef"/>
<path d="M443.9 635.6l8.7 3.7 1.2-1.1-8.8-3.6z" color="#0000eb"/>
<path d="M452.6 639.3l8.8 4.2 1.2-1.1-8.8-4.2z" color="#0000e4"/>
<path d="M461.4 643.5l8.9 4.9 1.1-1.1-8.8-4.9z" color="#0000d8"/>
<path d="M470.3 648.4l8.9 5.5 1-1.2-8.8-5.4zM359.3 632l7.9-2.1 1.4-.8-7.9 2.1z" color="#0000cc"/>
<path d="M367.2 629.9l7.9-1.5 1.4-.8-7.9 1.5z" color="#0000dc"/>
<path d="M375.1 628.4l8.1-.9 1.4-.9-8.1 1z" color="#0000e4"/>
<path d="M383.2 627.5l8.2-.5 1.3-.8-8.1 .4z" color="#0000ef"/>
<path d="M391.4 627l8.3 .2 1.3-.9-8.3-.1z" color="#0000f3"/>
<path d="M399.7 627.2l8.5 .7 1.2-.9-8.4-.7z" color="#0000f7"/>
<path d="M408.2 627.9l8.5 1.2 1.2-.8-8.5-1.3zM416.7 629.1l8.6 1.9 1.2-.8-8.6-1.9zM425.3 631l8.6 2.5 1.3-.9-8.7-2.4z" color="#0000fb"/>
<path d="M433.9 633.5l8.8 3 1.2-.9-8.7-3z" color="#0000f7"/>
<path d="M442.7 636.5l8.8 3.7 1.1-.9-8.7-3.7z" color="#0000ef"/>
<path d="M451.5 640.2l8.8 4.3 1.1-1-8.8-4.2z" color="#0000e7"/>
<path d="M460.3 644.5l8.9 4.9 1.1-1-8.9-4.9z" color="#0000e0"/>
<path d="M469.2 649.4l8.9 5.5 1.1-1-8.9-5.5z" color="#0000d0"/>
<path d="M359.3 632l7.9-2.1 5.5-4-7.8 2.1zM367.2 629.9l7.9-1.5 5.4-4-7.8 1.5zM375.1 628.4l8.1-.9 5.4-4.1-8.1 1zM383.2 627.5l8.2-.5 5.3-4.1-8.1 .5zM391.4 627l8.3 .2 5.2-4.2-8.2-.1zM399.7 627.2l8.5 .7 5.1-4.2-8.4-.7zM408.2 627.9l8.5 1.2 5-4.2-8.4-1.2zM416.7 629.1l8.6 1.9 4.9-4.3-8.5-1.8zM425.3 631l8.6 2.5 4.9-4.4-8.6-2.4zM433.9 633.5l8.8 3 4.7-4.4-8.6-3zM442.7 636.5l8.8 3.7 4.6-4.6-8.7-3.5zM451.5 640.2l8.8 4.3 4.5-4.7-8.7-4.2zM460.3 644.5l8.9 4.9 4.4-4.8-8.8-4.8zM469.2 649.4l8.9 5.5 4.2-4.9-8.7-5.4z" class="m"/>
<path d="M357.9 632.6l7.8-2 1.5-.7-7.9 2.1z" color="#0000d4"/>
<path d="M365.7 630.6l8-1.5 1.4-.7-7.9 1.5z" color="#0000e0"/>
<path d="M373.7 629.1l8.1-1 1.4-.6-8.1 .9z" color="#0000eb"/>
<path d="M381.8 628.1l8.3-.4 1.3-.7-8.2 .5z" color="#0000f3"/>
<path d="M390.1 627.7l8.3 .1 1.3-.6-8.3-.2z" color="#0000fb"/>
<path d="M398.4 627.8l8.5 .7 1.3-.6-8.5-.7zM406.9 628.5l8.5 1.3 1.3-.7-8.5-1.2z" color="#0000ff"/>
<path d="M415.4 629.8l8.6 1.9 1.3-.7-8.6-1.9z" color="#000df0"/>
<path d="M424 631.7l8.7 2.5 1.2-.7-8.6-2.5z" color="#0000ff"/>
<path d="M432.7 634.2l8.8 3.1 1.2-.8-8.8-3z" color="#0000fb"/>
<path d="M441.5 637.3l8.8 3.7 1.2-.8-8.8-3.7z" color="#0000f7"/>
<path d="M450.3 641l8.9 4.3 1.1-.8-8.8-4.3z" color="#0000ef"/>
<path d="M459.2 645.3l8.9 4.9 1.1-.8-8.9-4.9z" color="#0000e4"/>
<path d="M468.1 650.2l8.9 5.5 1.1-.8-8.9-5.5zM356.5 633.1l7.8-2 1.4-.5-7.8 2z" color="#0000d8"/>
<path d="M364.3 631.1l8-1.5 1.4-.5-8 1.5z" color="#0000e4"/>
<path d="M372.3 629.6l8.2-1 1.3-.5-8.1 1z" color="#0000ef"/>
<path d="M380.5 628.6l8.2-.4 1.4-.5-8.3 .4z" color="#0000f7"/>
<path d="M388.7 628.2l8.4 .2 1.3-.6-8.3-.1z" color="#0000fb"/>
<path d="M397.1 628.4l8.5 .7 1.3-.6-8.5-.7zM405.6 629.1l8.5 1.3 1.3-.6-8.5-1.3zM414.1 630.4l8.7 1.9 1.2-.6-8.6-1.9zM422.8 632.3l8.7 2.5 1.2-.6-8.7-2.5z" color="#000df0"/>
<path d="M431.5 634.8l8.8 3.1 1.2-.6-8.8-3.1z" color="#0000ff"/>
<path d="M440.3 637.9l8.9 3.7 1.1-.6-8.8-3.7z" color="#0000f7"/>
<path d="M449.2 641.6l8.9 4.3 1.1-.6-8.9-4.3z" color="#0000ef"/>
<path d="M458.1 645.9l8.9 5 1.1-.7-8.9-4.9z" color="#0000e7"/>
<path d="M467 650.9l9 5.5 1-.7-8.9-5.5z" color="#0000dc"/>
<path d="M355 633.5l7.9-2 1.4-.4-7.8 2z" color="#0000d8"/>
<path d="M362.9 631.5l8-1.6 1.4-.3-8 1.5z" color="#0000e4"/>
<path d="M370.9 629.9l8.2-.9 1.4-.4-8.2 1z" color="#0000ef"/>
<path d="M379.1 629l8.2-.4 1.4-.4-8.2 .4z" color="#0000f7"/>
<path d="M387.3 628.6l8.4 .1 1.4-.3-8.4-.2z" color="#0000ff"/>
<path d="M395.7 628.7l8.5 .8 1.4-.4-8.5-.7z" color="#000df0"/>
<path d="M404.2 629.5l8.6 1.3 1.3-.4-8.5-1.3zM412.8 630.8l8.7 1.9 1.3-.4-8.7-1.9z" color="#001ae0"/>
<path d="M421.5 632.7l8.8 2.5 1.2-.4-8.7-2.5z" color="#000df0"/>
<path d="M430.3 635.2l8.8 3.1 1.2-.4-8.8-3.1z" color="#0000ff"/>
<path d="M439.1 638.3l8.9 3.8 1.2-.5-8.9-3.7z" color="#0000fb"/>
<path d="M448 642.1l8.9 4.3 1.2-.5-8.9-4.3z" color="#0000f3"/>
<path d="M456.9 646.4l9 5 1.1-.5-8.9-5z" color="#0000e7"/>
<path d="M465.9 651.4l9 5.6 1.1-.6-9-5.5zM353.5 633.7l7.9-2 1.5-.2-7.9 2z" color="#0000dc"/>
<path d="M361.4 631.7l8.1-1.6 1.4-.2-8 1.6z" color="#0000e7"/>
<path d="M369.5 630.1l8.1-.9 1.5-.2-8.2 .9z" color="#0000f3"/>
<path d="M377.6 629.2l8.4-.4 1.3-.2-8.2 .4z" color="#0000fb"/>
<path d="M386 628.8l8.4 .1 1.3-.2-8.4-.1z" color="#000df0"/>
<path d="M394.4 628.9l8.5 .8 1.3-.2-8.5-.8z" color="#001ae0"/>
<path d="M402.9 629.7l8.6 1.3 1.3-.2-8.6-1.3zM411.5 631l8.8 2 1.2-.3-8.7-1.9z" color="#0027d1"/>
<path d="M420.3 633l8.7 2.5 1.3-.3-8.8-2.5z" color="#001ae0"/>
<path d="M429 635.5l8.9 3.1 1.2-.3-8.8-3.1z" color="#000df0"/>
<path d="M437.9 638.6l8.9 3.8 1.2-.3-8.9-3.8z" color="#0000ff"/>
<path d="M446.8 642.4l9 4.4 1.1-.4-8.9-4.3z" color="#0000f7"/>
<path d="M455.8 646.8l9 5 1.1-.4-9-5z" color="#0000eb"/>
<path d="M464.8 651.8l9.1 5.6 1-.4-9-5.6z" color="#0000e0"/>
<path d="M353.5 633.7l7.9-2 5.8-1.8-7.9 2.1zM361.4 631.7l8.1-1.6 5.6-1.7-7.9 1.5zM369.5 630.1l8.1-.9 5.6-1.7-8.1 .9zM377.6 629.2l8.4-.4 5.4-1.8-8.2 .5zM386 628.8l8.4 .1 5.3-1.7-8.3-.2zM394.4 628.9l8.5 .8 5.3-1.8-8.5-.7zM402.9 629.7l8.6 1.3 5.2-1.9-8.5-1.2zM411.5 631l8.8 2 5-2-8.6-1.9zM420.3 633l8.7 2.5 4.9-2-8.6-2.5zM429 635.5l8.9 3.1 4.8-2.1-8.8-3zM437.9 638.6l8.9 3.8 4.7-2.2-8.8-3.7zM446.8 642.4l9 4.4 4.5-2.3-8.8-4.3zM455.8 646.8l9 5 4.4-2.4-8.9-4.9zM464.8 651.8l9.1 5.6 4.2-2.5-8.9-5.5z" class="m"/>
<path d="M352 633.8l7.9-2.1 1.5 0-7.9 2z" color="#0000e0"/>
<path d="M359.9 631.7l8.1-1.5 1.5-.1-8.1 1.6z" color="#0000eb"/>
<path d="M368 630.2l8.2-1 1.4 0-8.1 .9z" color="#0000f7"/>
<path d="M376.2 629.2l8.4-.4 1.4 0-8.4 .4z" color="#0000ff"/>
<path d="M384.6 628.8l8.4 .2 1.4-.1-8.4-.1z" color="#001ae0"/>
<path d="M393 629l8.6 .8 1.3-.1-8.5-.8z" color="#0027d1"/>
<path d="M401.6 629.8l8.6 1.3 1.3-.1-8.6-1.3zM410.2 631.1l8.8 1.9 1.3 0-8.8-2z" color="#0034c1"/>
<path d="M419 633l8.8 2.6 1.2-.1-8.7-2.5z" color="#0027d1"/>
<path d="M427.8 635.6l8.9 3.2 1.2-.2-8.9-3.1z" color="#001ae0"/>
<path d="M436.7 638.8l9 3.7 1.1-.1-8.9-3.8z" color="#000df0"/>
<path d="M445.7 642.5l9 4.4 1.1-.1-9-4.4z" color="#0000fb"/>
<path d="M454.7 646.9l9 5.1 1.1-.2-9-5z" color="#0000ef"/>
<path d="M463.7 652l9.1 5.6 1.1-.2-9.1-5.6zM350.5 633.7l7.9-2.1 1.5 .1-7.9 2.1z" color="#0000e4"/>
<path d="M358.4 631.6l8.1-1.5 1.5 .1-8.1 1.5z" color="#0000ef"/>
<path d="M366.5 630.1l8.3-1 1.4 .1-8.2 1z" color="#0000fb"/>
<path d="M374.8 629.1l8.3-.4 1.5 .1-8.4 .4z" color="#000df0"/>
<path d="M383.1 628.7l8.5 .2 1.4 .1-8.4-.2z" color="#0027d1"/>
<path d="M391.6 628.9l8.6 .8 1.4 .1-8.6-.8z" color="#0034c1"/>
<path d="M400.2 629.7l8.7 1.3 1.3 .1-8.6-1.3zM408.9 631l8.8 2 1.3 0-8.8-1.9z" color="#0040b2"/>
<path d="M417.7 633l8.8 2.5 1.3 .1-8.8-2.6z" color="#0034c1"/>
<path d="M426.5 635.5l9 3.2 1.2 .1-8.9-3.2z" color="#0027d1"/>
<path d="M435.5 638.7l9 3.8 1.2 0-9-3.7z" color="#001ae0"/>
<path d="M444.5 642.5l9 4.5 1.2-.1-9-4.4z" color="#0000ff"/>
<path d="M453.5 647l9.1 5 1.1 0-9-5.1z" color="#0000f3"/>
<path d="M462.6 652l9.1 5.7 1.1-.1-9.1-5.6zM348.9 633.4l8-2 1.5 .2-7.9 2.1z" color="#0000e7"/>
<path d="M356.9 631.4l8.2-1.6 1.4 .3-8.1 1.5z" color="#0000f3"/>
<path d="M365.1 629.8l8.2-.9 1.5 .2-8.3 1z" color="#0000ff"/>
<path d="M373.3 628.9l8.4-.4 1.4 .2-8.3 .4z" color="#001ae0"/>
<path d="M381.7 628.5l8.5 .2 1.4 .2-8.5-.2z" color="#0034c1"/>
<path d="M390.2 628.7l8.6 .7 1.4 .3-8.6-.8z" color="#0040b2"/>
<path d="M398.8 629.4l8.8 1.4 1.3 .2-8.7-1.3zM407.6 630.8l8.8 2 1.3 .2-8.8-2z" color="#004da2"/>
<path d="M416.4 632.8l8.9 2.5 1.2 .2-8.8-2.5z" color="#0040b2"/>
<path d="M425.3 635.3l9 3.2 1.2 .2-9-3.2z" color="#0034c1"/>
<path d="M434.3 638.5l9 3.9 1.2 .1-9-3.8z" color="#0027d1"/>
<path d="M443.3 642.4l9.1 4.4 1.1 .2-9-4.5z" color="#000df0"/>
<path d="M452.4 646.8l9.1 5.1 1.1 .1-9.1-5z" color="#0000f7"/>
<path d="M461.5 651.9l9.1 5.7 1.1 .1-9.1-5.7z" color="#0000eb"/>
<path d="M347.4 633l8-2 1.5 .4-8 2z" color="#0000ef"/>
<path d="M355.4 631l8.2-1.6 1.5 .4-8.2 1.6z" color="#0000fb"/>
<path d="M363.6 629.4l8.2-.9 1.5 .4-8.2 .9z" color="#000df0"/>
<path d="M371.8 628.5l8.5-.4 1.4 .4-8.4 .4z" color="#0034c1"/>
<path d="M380.3 628.1l8.5 .1 1.4 .5-8.5-.2z" color="#0040b2"/>
<path d="M388.8 628.2l8.7 .8 1.3 .4-8.6-.7z" color="#004da2"/>
<path d="M397.5 629l8.7 1.4 1.4 .4-8.8-1.4zM406.2 630.4l8.9 2 1.3 .4-8.8-2zM415.1 632.4l8.9 2.6 1.3 .3-8.9-2.5z" color="#005a93"/>
<path d="M424 635l9 3.2 1.3 .3-9-3.2z" color="#004da2"/>
<path d="M433 638.2l9.1 3.8 1.2 .4-9-3.9z" color="#0034c1"/>
<path d="M442.1 642l9.1 4.5 1.2 .3-9.1-4.4z" color="#001ae0"/>
<path d="M451.2 646.5l9.2 5.1 1.1 .3-9.1-5.1z" color="#0000ff"/>
<path d="M460.4 651.6l9.2 5.8 1 .2-9.1-5.7z" color="#0000ef"/>
<path d="M347.4 633l8-2 6 .7-7.9 2zM355.4 631l8.2-1.6 5.9 .7-8.1 1.6zM363.6 629.4l8.2-.9 5.8 .7-8.1 .9zM371.8 628.5l8.5-.4 5.7 .7-8.4 .4zM380.3 628.1l8.5 .1 5.6 .7-8.4-.1zM388.8 628.2l8.7 .8 5.4 .7-8.5-.8zM397.5 629l8.7 1.4 5.3 .6-8.6-1.3zM406.2 630.4l8.9 2 5.2 .6-8.8-2zM415.1 632.4l8.9 2.6 5 .5-8.7-2.5zM424 635l9 3.2 4.9 .4-8.9-3.1zM433 638.2l9.1 3.8 4.7 .4-8.9-3.8zM442.1 642l9.1 4.5 4.6 .3-9-4.4zM451.2 646.5l9.2 5.1 4.4 .2-9-5zM460.4 651.6l9.2 5.8 4.3 0-9.1-5.6z" class="m"/>
<path d="M345.8 632.5l8-2.1 1.6 .6-8 2z" color="#0000f3"/>
<path d="M353.8 630.4l8.2-1.5 1.6 .5-8.2 1.6z" color="#0000ff"/>
<path d="M362 628.9l8.4-1 1.4 .6-8.2 .9z" color="#0027d1"/>
<path d="M370.4 627.9l8.4-.4 1.5 .6-8.5 .4z" color="#0040b2"/>
<path d="M378.8 627.5l8.6 .2 1.4 .5-8.5-.1z" color="#005a93"/>
<path d="M387.4 627.7l8.7 .7 1.4 .6-8.7-.8z" color="#006783"/>
<path d="M396.1 628.4l8.8 1.4 1.3 .6-8.7-1.4zM404.9 629.8l8.8 2 1.4 .6-8.9-2z" color="#007474"/>
<path d="M413.7 631.8l9 2.6 1.3 .6-8.9-2.6z" color="#006783"/>
<path d="M422.7 634.4l9.1 3.3 1.2 .5-9-3.2z" color="#005a93"/>
<path d="M431.8 637.7l9.1 3.8 1.2 .5-9.1-3.8z" color="#004da2"/>
<path d="M440.9 641.5l9.1 4.5 1.2 .5-9.1-4.5z" color="#0034c1"/>
<path d="M450 646l9.2 5.2 1.2 .4-9.2-5.1z" color="#000df0"/>
<path d="M459.2 651.2l9.3 5.7 1.1 .5-9.2-5.8z" color="#0000f7"/>
<path d="M344.2 631.7l8.1-2 1.5 .7-8 2.1z" color="#0000fb"/>
<path d="M352.3 629.7l8.2-1.6 1.5 .8-8.2 1.5z" color="#001ae0"/>
<path d="M360.5 628.1l8.3-1 1.6 .8-8.4 1z" color="#0040b2"/>
<path d="M368.8 627.1l8.5-.4 1.5 .8-8.4 .4z" color="#005a93"/>
<path d="M377.3 626.7l8.6 .2 1.5 .8-8.6-.2z" color="#006783"/>
<path d="M385.9 626.9l8.8 .8 1.4 .7-8.7-.7zM394.7 627.7l8.8 1.4 1.4 .7-8.8-1.4zM403.5 629.1l8.9 2 1.3 .7-8.8-2zM412.4 631.1l9 2.6 1.3 .7-9-2.6z" color="#008366"/>
<path d="M421.4 633.7l9.1 3.3 1.3 .7-9.1-3.3z" color="#007474"/>
<path d="M430.5 637l9.1 3.8 1.3 .7-9.1-3.8z" color="#005a93"/>
<path d="M439.6 640.8l9.3 4.6 1.1 .6-9.1-4.5z" color="#0040b2"/>
<path d="M448.9 645.4l9.2 5.1 1.1 .7-9.2-5.2z" color="#0027d1"/>
<path d="M458.1 650.5l9.3 5.8 1.1 .6-9.3-5.7zM342.6 630.9l8.1-2.1 1.6 .9-8.1 2z" color="#0000ff"/>
<path d="M350.7 628.8l8.2-1.6 1.6 .9-8.2 1.6z" color="#0034c1"/>
<path d="M358.9 627.2l8.4-1 1.5 .9-8.3 1z" color="#004da2"/>
<path d="M367.3 626.2l8.5-.4 1.5 .9-8.5 .4z" color="#007474"/>
<path d="M375.8 625.8l8.7 .2 1.4 .9-8.6-.2z" color="#008366"/>
<path d="M384.5 626l8.7 .8 1.5 .9-8.8-.8z" color="#009357"/>
<path d="M393.2 626.8l8.9 1.4 1.4 .9-8.8-1.4zM402.1 628.2l9 2 1.3 .9-8.9-2zM411.1 630.2l9 2.6 1.3 .9-9-2.6z" color="#00a249"/>
<path d="M420.1 632.8l9.1 3.3 1.3 .9-9.1-3.3z" color="#009357"/>
<path d="M429.2 636.1l9.2 3.9 1.2 .8-9.1-3.8z" color="#007474"/>
<path d="M438.4 640l9.3 4.5 1.2 .9-9.3-4.6z" color="#005a93"/>
<path d="M447.7 644.5l9.3 5.2 1.1 .8-9.2-5.1z" color="#0034c1"/>
<path d="M457 649.7l9.3 5.9 1.1 .7-9.3-5.8z" color="#000df0"/>
<path d="M340.9 629.8l8.2-2.1 1.6 1.1-8.1 2.1z" color="#001ae0"/>
<path d="M349.1 627.7l8.2-1.6 1.6 1.1-8.2 1.6z" color="#004da2"/>
<path d="M357.3 626.1l8.5-1 1.5 1.1-8.4 1z" color="#006783"/>
<path d="M365.8 625.1l8.5-.4 1.5 1.1-8.5 .4z" color="#008366"/>
<path d="M374.3 624.7l8.7 .2 1.5 1.1-8.7-.2z" color="#00a249"/>
<path d="M383 624.9l8.8 .8 1.4 1.1-8.7-.8z" color="#00b23b"/>
<path d="M391.8 625.7l8.9 1.4 1.4 1.1-8.9-1.4zM400.7 627.1l9 2 1.4 1.1-9-2z" color="#00c12d"/>
<path d="M409.7 629.1l9.1 2.6 1.3 1.1-9-2.6zM418.8 631.7l9.1 3.3 1.3 1.1-9.1-3.3z" color="#00b23b"/>
<path d="M427.9 635l9.3 4 1.2 1-9.2-3.9z" color="#009357"/>
<path d="M437.2 639l9.3 4.5 1.2 1-9.3-4.5z" color="#007474"/>
<path d="M446.5 643.5l9.3 5.3 1.2 .9-9.3-5.2z" color="#004da2"/>
<path d="M455.8 648.8l9.4 5.8 1.1 1-9.3-5.9z" color="#0027d1"/>
<path d="M340.9 629.8l8.2-2.1 6.3 3.3-8 2zM349.1 627.7l8.2-1.6 6.3 3.3-8.2 1.6zM357.3 626.1l8.5-1 6 3.4-8.2 .9zM365.8 625.1l8.5-.4 6 3.4-8.5 .4zM374.3 624.7l8.7 .2 5.8 3.3-8.5-.1zM383 624.9l8.8 .8 5.7 3.3-8.7-.8zM391.8 625.7l8.9 1.4 5.5 3.3-8.7-1.4zM400.7 627.1l9 2 5.4 3.3-8.9-2zM409.7 629.1l9.1 2.6 5.2 3.3-8.9-2.6zM418.8 631.7l9.1 3.3 5.1 3.2-9-3.2zM427.9 635l9.3 4 4.9 3-9.1-3.8zM437.2 639l9.3 4.5 4.7 3-9.1-4.5zM446.5 643.5l9.3 5.3 4.6 2.8-9.2-5.1zM455.8 648.8l9.4 5.8 4.4 2.8-9.2-5.8z" class="m"/>
<path d="M339.3 628.6l8.1-2.1 1.7 1.2-8.2 2.1z" color="#0034c1"/>
<path d="M347.4 626.5l8.3-1.6 1.6 1.2-8.2 1.6z" color="#006783"/>
<path d="M355.7 624.9l8.5-1 1.6 1.2-8.5 1z" color="#008366"/>
<path d="M364.2 623.9l8.6-.5 1.5 1.3-8.5 .4z" color="#00b23b"/>
<path d="M372.8 623.4l8.7 .2 1.5 1.3-8.7-.2z" color="#00c12d"/>
<path d="M381.5 623.6l8.8 .8 1.5 1.3-8.8-.8z" color="#00d11e"/>
<path d="M390.3 624.4l9 1.4 1.4 1.3-8.9-1.4zM399.3 625.8l9 2 1.4 1.3-9-2zM408.3 627.8l9.1 2.7 1.4 1.2-9.1-2.6z" color="#00e010"/>
<path d="M417.4 630.5l9.2 3.3 1.3 1.2-9.1-3.3z" color="#00d11e"/>
<path d="M426.6 633.8l9.3 4 1.3 1.2-9.3-4z" color="#00b23b"/>
<path d="M435.9 637.8l9.4 4.6 1.2 1.1-9.3-4.5z" color="#009357"/>
<path d="M445.3 642.4l9.3 5.2 1.2 1.2-9.3-5.3z" color="#006783"/>
<path d="M454.6 647.6l9.5 5.9 1.1 1.1-9.4-5.8z" color="#0040b2"/>
<path d="M337.6 627.2l8.1-2.2 1.7 1.5-8.1 2.1z" color="#005a93"/>
<path d="M345.7 625l8.4-1.6 1.6 1.5-8.3 1.6z" color="#008366"/>
<path d="M354.1 623.4l8.5-1 1.6 1.5-8.5 1z" color="#00b23b"/>
<path d="M362.6 622.4l8.6-.4 1.6 1.4-8.6 .5z" color="#00d11e"/>
<path d="M371.2 622l8.8 .2 1.5 1.4-8.7-.2zM380 622.2l8.8 .7 1.5 1.5-8.8-.8zM388.8 622.9l9 1.4 1.5 1.5-9-1.4zM397.8 624.3l9.1 2.1 1.4 1.4-9-2zM406.9 626.4l9.2 2.7 1.3 1.4-9.1-2.7zM416.1 629.1l9.2 3.3 1.3 1.4-9.2-3.3z" color="#00e010"/>
<path d="M425.3 632.4l9.4 4 1.2 1.4-9.3-4z" color="#00d11e"/>
<path d="M434.7 636.4l9.3 4.6 1.3 1.4-9.4-4.6z" color="#00b23b"/>
<path d="M444 641l9.5 5.3 1.1 1.3-9.3-5.2z" color="#009357"/>
<path d="M453.5 646.3l9.4 5.9 1.2 1.3-9.5-5.9z" color="#005a93"/>
<path d="M335.8 625.6l8.3-2.2 1.6 1.6-8.1 2.2z" color="#007474"/>
<path d="M344.1 623.4l8.3-1.6 1.7 1.6-8.4 1.6z" color="#00a249"/>
<path d="M352.4 621.8l8.6-1 1.6 1.6-8.5 1z" color="#00d11e"/>
<path d="M361 620.8l8.6-.4 1.6 1.6-8.6 .4zM369.6 620.4l8.8 .1 1.6 1.7-8.8-.2zM378.4 620.5l8.9 .8 1.5 1.6-8.8-.7zM387.3 621.3l9.1 1.4 1.4 1.6-9-1.4zM396.4 622.7l9.1 2.1 1.4 1.6-9.1-2.1zM405.5 624.8l9.2 2.6 1.4 1.7-9.2-2.7zM414.7 627.4l9.3 3.4 1.3 1.6-9.2-3.3zM424 630.8l9.4 4 1.3 1.6-9.4-4zM433.4 634.8l9.4 4.6 1.2 1.6-9.3-4.6z" color="#00e010"/>
<path d="M442.8 639.4l9.5 5.4 1.2 1.5-9.5-5.3z" color="#00b23b"/>
<path d="M452.3 644.8l9.5 5.9 1.1 1.5-9.4-5.9z" color="#008366"/>
<path d="M334.1 623.9l8.2-2.2 1.8 1.7-8.3 2.2z" color="#009357"/>
<path d="M342.3 621.7l8.5-1.7 1.6 1.8-8.3 1.6z" color="#00d11e"/>
<path d="M350.8 620l8.5-1 1.7 1.8-8.6 1zM359.3 619l8.7-.5 1.6 1.9-8.6 .4zM368 618.5l8.9 .2 1.5 1.8-8.8-.1zM376.9 618.7l8.9 .8 1.5 1.8-8.9-.8zM385.8 619.5l9.1 1.4 1.5 1.8-9.1-1.4zM394.9 620.9l9.2 2 1.4 1.9-9.1-2.1zM404.1 622.9l9.2 2.7 1.4 1.8-9.2-2.6zM413.3 625.6l9.4 3.4 1.3 1.8-9.3-3.4zM422.7 629l9.4 4 1.3 1.8-9.4-4zM432.1 633l9.5 4.7 1.2 1.7-9.4-4.6z" color="#00e010"/>
<path d="M441.6 637.7l9.5 5.3 1.2 1.8-9.5-5.4z" color="#00d11e"/>
<path d="M451.1 643l9.6 6 1.1 1.7-9.5-5.9z" color="#00a249"/>
<path d="M334.1 623.9l8.2-2.2 6.8 6-8.2 2.1zM342.3 621.7l8.5-1.7 6.5 6.1-8.2 1.6zM350.8 620l8.5-1 6.5 6.1-8.5 1zM359.3 619l8.7-.5 6.3 6.2-8.5 .4zM368 618.5l8.9 .2 6.1 6.2-8.7-.2zM376.9 618.7l8.9 .8 6 6.2-8.8-.8zM385.8 619.5l9.1 1.4 5.8 6.2-8.9-1.4zM394.9 620.9l9.2 2 5.6 6.2-9-2zM404.1 622.9l9.2 2.7 5.5 6.1-9.1-2.6zM413.3 625.6l9.4 3.4 5.2 6-9.1-3.3zM422.7 629l9.4 4 5.1 6-9.3-4zM432.1 633l9.5 4.7 4.9 5.8-9.3-4.5zM441.6 637.7l9.5 5.3 4.7 5.8-9.3-5.3zM451.1 643l9.6 6 4.5 5.6-9.4-5.8z" class="m"/>
<path d="M332.3 621.9l8.3-2.2 1.7 2-8.2 2.2z" color="#00c12d"/>
<path d="M340.6 619.7l8.4-1.6 1.8 1.9-8.5 1.7zM349 618.1l8.6-1.1 1.7 2-8.5 1zM357.6 617l8.8-.5 1.6 2-8.7 .5zM366.4 616.5l8.9 .2 1.6 2-8.9-.2zM375.3 616.7l9 .7 1.5 2.1-8.9-.8zM384.3 617.4l9.1 1.5 1.5 2-9.1-1.4zM393.4 618.9l9.2 2 1.5 2-9.2-2zM402.6 620.9l9.3 2.7 1.4 2-9.2-2.7zM411.9 623.6l9.4 3.4 1.4 2-9.4-3.4zM421.3 627l9.5 4 1.3 2-9.4-4zM430.8 631l9.5 4.8 1.3 1.9-9.5-4.7zM440.3 635.8l9.6 5.3 1.2 1.9-9.5-5.3z" color="#00e010"/>
<path d="M449.9 641.1l9.6 6.1 1.2 1.8-9.6-6z" color="#00d11e"/>
<path d="M330.5 619.8l8.3-2.2 1.8 2.1-8.3 2.2zM338.8 617.6l8.5-1.7 1.7 2.2-8.4 1.6zM347.3 615.9l8.6-1.1 1.7 2.2-8.6 1.1zM355.9 614.8l8.8-.5 1.7 2.2-8.8 .5zM364.7 614.3l9 .2 1.6 2.2-8.9-.2zM373.7 614.5l9 .7 1.6 2.2-9-.7zM382.7 615.2l9.2 1.4 1.5 2.3-9.1-1.5zM391.9 616.6l9.2 2.1 1.5 2.2-9.2-2zM401.1 618.7l9.4 2.7 1.4 2.2-9.3-2.7zM410.5 621.4l9.4 3.4 1.4 2.2-9.4-3.4zM419.9 624.8l9.5 4.1 1.4 2.1-9.5-4zM429.4 628.9l9.6 4.7 1.3 2.2-9.5-4.8zM439 633.6l9.7 5.4 1.2 2.1-9.6-5.3zM448.7 639l9.6 6.1 1.2 2.1-9.6-6.1zM328.6 617.5l8.4-2.3 1.8 2.4-8.3 2.2zM337 615.2l8.5-1.7 1.8 2.4-8.5 1.7zM345.5 613.5l8.7-1.1 1.7 2.4-8.6 1.1zM354.2 612.4l8.9-.5 1.6 2.4-8.8 .5z" color="#00e010"/>
<path d="M363.1 611.9l8.9 .1 1.7 2.5-9-.2z" color="#24e20e"/>
<path d="M372 612l9.1 .8 1.6 2.4-9-.7zM381.1 612.8l9.2 1.4 1.6 2.4-9.2-1.4zM390.3 614.2l9.3 2.1 1.5 2.4-9.2-2.1zM399.6 616.3l9.4 2.7 1.5 2.4-9.4-2.7z" color="#6de709"/>
<path d="M409 619l9.5 3.4 1.4 2.4-9.4-3.4z" color="#49e50b"/>
<path d="M418.5 622.4l9.6 4.1 1.3 2.4-9.5-4.1zM428.1 626.5l9.6 4.8 1.3 2.3-9.6-4.7zM437.7 631.3l9.7 5.4 1.3 2.3-9.7-5.4zM447.4 636.7l9.8 6.1 1.1 2.3-9.6-6.1zM326.8 615l8.4-2.3 1.8 2.5-8.4 2.3zM335.2 612.7l8.5-1.7 1.8 2.5-8.5 1.7z" color="#00e010"/>
<path d="M343.7 611l8.8-1.2 1.7 2.6-8.7 1.1z" color="#24e20e"/>
<path d="M352.5 609.8l8.8-.5 1.8 2.6-8.9 .5z" color="#6de709"/>
<path d="M361.3 609.3l9.1 .1 1.6 2.6-8.9-.1z" color="#b6eb05"/>
<path d="M370.4 609.4l9.1 .8 1.6 2.6-9.1-.8zM379.5 610.2l9.2 1.4 1.6 2.6-9.2-1.4zM388.7 611.6l9.4 2.1 1.5 2.6-9.3-2.1zM398.1 613.7l9.5 2.7 1.4 2.6-9.4-2.7z" color="#dbee02"/>
<path d="M407.6 616.4l9.5 3.4 1.4 2.6-9.5-3.4z" color="#b6eb05"/>
<path d="M417.1 619.8l9.6 4.1 1.4 2.6-9.6-4.1z" color="#6de709"/>
<path d="M426.7 623.9l9.7 4.8 1.3 2.6-9.6-4.8z" color="#24e20e"/>
<path d="M436.4 628.7l9.8 5.5 1.2 2.5-9.7-5.4zM446.2 634.2l9.8 6.1 1.2 2.5-9.8-6.1z" color="#00e010"/>
<path d="M326.8 615l8.4-2.3 7.1 9-8.2 2.2zM335.2 612.7l8.5-1.7 7.1 9-8.5 1.7zM343.7 611l8.8-1.2 6.8 9.2-8.5 1zM352.5 609.8l8.8-.5 6.7 9.2-8.7 .5zM361.3 609.3l9.1 .1 6.5 9.3-8.9-.2zM370.4 609.4l9.1 .8 6.3 9.3-8.9-.8zM379.5 610.2l9.2 1.4 6.2 9.3-9.1-1.4zM388.7 611.6l9.4 2.1 6 9.2-9.2-2zM398.1 613.7l9.5 2.7 5.7 9.2-9.2-2.7zM407.6 616.4l9.5 3.4 5.6 9.2-9.4-3.4zM417.1 619.8l9.6 4.1 5.4 9.1-9.4-4zM426.7 623.9l9.7 4.8 5.2 9-9.5-4.7zM436.4 628.7l9.8 5.5 4.9 8.8-9.5-5.3zM446.2 634.2l9.8 6.1 4.7 8.7-9.6-6z" class="m"/>
<path d="M324.9 612.3l8.4-2.4 1.9 2.8-8.4 2.3z" color="#00e010"/>
<path d="M333.3 609.9l8.6-1.7 1.8 2.8-8.5 1.7z" color="#24e20e"/>
<path d="M341.9 608.2l8.8-1.2 1.8 2.8-8.8 1.2z" color="#92e907"/>
<path d="M350.7 607l8.9-.5 1.7 2.8-8.8 .5z" color="#dbee02"/>
<path d="M359.6 606.5l9.1 .1 1.7 2.8-9.1-.1zM368.7 606.6l9.1 .8 1.7 2.8-9.1-.8zM377.8 607.4l9.3 1.4 1.6 2.8-9.2-1.4zM387.1 608.8l9.5 2 1.5 2.9-9.4-2.1zM396.6 610.8l9.5 2.8 1.5 2.8-9.5-2.7zM406.1 613.6l9.6 3.4 1.4 2.8-9.5-3.4zM415.7 617l9.6 4.1 1.4 2.8-9.6-4.1z" color="#fff000"/>
<path d="M425.3 621.1l9.8 4.8 1.3 2.8-9.7-4.8z" color="#b6eb05"/>
<path d="M435.1 625.9l9.8 5.5 1.3 2.8-9.8-5.5z" color="#49e50b"/>
<path d="M444.9 631.4l9.8 6.2 1.3 2.7-9.8-6.1z" color="#00e010"/>
<path d="M322.9 609.4l8.5-2.4 1.9 2.9-8.4 2.4z" color="#24e20e"/>
<path d="M331.4 607l8.7-1.8 1.8 3-8.6 1.7z" color="#92e907"/>
<path d="M340.1 605.2l8.8-1.2 1.8 3-8.8 1.2zM348.9 604l8.9-.5 1.8 3-8.9 .5zM357.8 603.5l9.1 .1 1.8 3-9.1-.1zM366.9 603.6l9.3 .7 1.6 3.1-9.1-.8z" color="#fff000"/>
<path d="M376.2 604.3l9.3 1.4 1.6 3.1-9.3-1.4zM385.5 605.7l9.5 2.1 1.6 3-9.5-2z" color="#ffea00"/>
<path d="M395 607.8l9.6 2.8 1.5 3-9.5-2.8zM404.6 610.6l9.6 3.4 1.5 3-9.6-3.4zM414.2 614l9.7 4.1 1.4 3-9.6-4.1zM423.9 618.1l9.8 4.9 1.4 2.9-9.8-4.8z" color="#fff000"/>
<path d="M433.7 623l9.9 5.5 1.3 2.9-9.8-5.5z" color="#b6eb05"/>
<path d="M443.6 628.5l9.9 6.2 1.2 2.9-9.8-6.2z" color="#49e50b"/>
<path d="M320.9 606.3l8.6-2.5 1.9 3.2-8.5 2.4z" color="#b6eb05"/>
<path d="M329.5 603.8l8.7-1.8 1.9 3.2-8.7 1.8zM338.2 602l8.8-1.2 1.9 3.2-8.8 1.2z" color="#fff000"/>
<path d="M347 600.8l9-.6 1.8 3.3-8.9 .5z" color="#ffea00"/>
<path d="M356 600.2l9.2 .1 1.7 3.3-9.1-.1z" color="#ffdd00"/>
<path d="M365.2 600.3l9.3 .7 1.7 3.3-9.3-.7zM374.5 601l9.4 1.4 1.6 3.3-9.3-1.4zM383.9 602.4l9.5 2.1 1.6 3.3-9.5-2.1zM393.4 604.5l9.6 2.8 1.6 3.3-9.6-2.8z" color="#ffd700"/>
<path d="M403 607.3l9.7 3.4 1.5 3.3-9.6-3.4z" color="#ffdd00"/>
<path d="M412.7 610.7l9.8 4.2 1.4 3.2-9.7-4.1z" color="#ffea00"/>
<path d="M422.5 614.9l9.9 4.9 1.3 3.2-9.8-4.9zM432.4 619.8l9.9 5.5 1.3 3.2-9.9-5.5z" color="#fff000"/>
<path d="M442.3 625.3l10 6.3 1.2 3.1-9.9-6.2z" color="#dbee02"/>
<path d="M318.9 602.9l8.6-2.4 2 3.3-8.6 2.5zM327.5 600.5l8.8-1.9 1.9 3.4-8.7 1.8z" color="#fff000"/>
<path d="M336.3 598.6l8.9-1.2 1.8 3.4-8.8 1.2z" color="#ffe400"/>
<path d="M345.2 597.4l9-.6 1.8 3.4-9 .6z" color="#ffd700"/>
<path d="M354.2 596.8l9.2 0 1.8 3.5-9.2-.1z" color="#ffcb00"/>
<path d="M363.4 596.8l9.3 .8 1.8 3.4-9.3-.7z" color="#ffc400"/>
<path d="M372.7 597.6l9.5 1.3 1.7 3.5-9.4-1.4zM382.2 598.9l9.6 2.1 1.6 3.5-9.5-2.1z" color="#ffbe00"/>
<path d="M391.8 601l9.7 2.8 1.5 3.5-9.6-2.8z" color="#ffc400"/>
<path d="M401.5 603.8l9.7 3.5 1.5 3.4-9.7-3.4z" color="#ffcb00"/>
<path d="M411.2 607.3l9.9 4.1 1.4 3.5-9.8-4.2z" color="#ffd100"/>
<path d="M421.1 611.4l9.9 4.9 1.4 3.5-9.9-4.9z" color="#ffdd00"/>
<path d="M431 616.3l10 5.6 1.3 3.4-9.9-5.5zM441 621.9l10 6.3 1.3 3.4-10-6.3z" color="#fff000"/>
<path d="M318.9 602.9l8.6-2.4 7.7 12.2-8.4 2.3zM327.5 600.5l8.8-1.9 7.4 12.4-8.5 1.7zM336.3 598.6l8.9-1.2 7.3 12.4-8.8 1.2zM345.2 597.4l9-.6 7.1 12.5-8.8 .5zM354.2 596.8l9.2 0 7 12.6-9.1-.1zM363.4 596.8l9.3 .8 6.8 12.6-9.1-.8zM372.7 597.6l9.5 1.3 6.5 12.7-9.2-1.4zM382.2 598.9l9.6 2.1 6.3 12.7-9.4-2.1zM391.8 601l9.7 2.8 6.1 12.6-9.5-2.7zM401.5 603.8l9.7 3.5 5.9 12.5-9.5-3.4zM411.2 607.3l9.9 4.1 5.6 12.5-9.6-4.1zM421.1 611.4l9.9 4.9 5.4 12.4-9.7-4.8zM431 616.3l10 5.6 5.2 12.3-9.8-5.5zM441 621.9l10 6.3 5 12.1-9.8-6.1z" class="m"/>
<path d="M316.9 599.4l8.6-2.5 2 3.6-8.6 2.4z" color="#fff000"/>
<path d="M325.5 596.9l8.8-1.9 2 3.6-8.8 1.9z" color="#ffdd00"/>
<path d="M334.3 595l8.9-1.3 2 3.7-8.9 1.2z" color="#ffcb00"/>
<path d="M343.2 593.7l9.2-.6 1.8 3.7-9 .6z" color="#ffbe00"/>
<path d="M352.4 593.1l9.2 0 1.8 3.7-9.2 0z" color="#ffae00"/>
<path d="M361.6 593.1l9.4 .7 1.7 3.8-9.3-.8z" color="#ffa300"/>
<path d="M371 593.8l9.5 1.4 1.7 3.7-9.5-1.3zM380.5 595.2l9.6 2.1 1.7 3.7-9.6-2.1z" color="#ff9900"/>
<path d="M390.1 597.3l9.8 2.8 1.6 3.7-9.7-2.8z" color="#ffa300"/>
<path d="M399.9 600.1l9.8 3.4 1.5 3.8-9.7-3.5z" color="#ffae00"/>
<path d="M409.7 603.5l9.9 4.2 1.5 3.7-9.9-4.1z" color="#ffb800"/>
<path d="M419.6 607.7l10 4.9 1.4 3.7-9.9-4.9z" color="#ffc400"/>
<path d="M429.6 612.6l10 5.7 1.4 3.6-10-5.6z" color="#ffd700"/>
<path d="M439.6 618.3l10.1 6.3 1.3 3.6-10-6.3z" color="#ffea00"/>
<path d="M314.8 595.6l8.7-2.6 2 3.9-8.6 2.5z" color="#ffd700"/>
<path d="M323.5 593l8.8-1.9 2 3.9-8.8 1.9z" color="#ffc400"/>
<path d="M332.3 591.1l9-1.3 1.9 3.9-8.9 1.3z" color="#ffae00"/>
<path d="M341.3 589.8l9.2-.6 1.9 3.9-9.2 .6z" color="#ff9900"/>
<path d="M350.5 589.2l9.3 0 1.8 3.9-9.2 0z" color="#ff8500"/>
<path d="M359.8 589.2l9.4 .7 1.8 3.9-9.4-.7z" color="#ff7a00"/>
<path d="M369.2 589.9l9.6 1.3 1.7 4-9.5-1.4zM378.8 591.2l9.7 2.1 1.6 4-9.6-2.1z" color="#ff7000"/>
<path d="M388.5 593.3l9.7 2.8 1.7 4-9.8-2.8z" color="#ff7a00"/>
<path d="M398.2 596.1l9.9 3.5 1.6 3.9-9.8-3.4z" color="#ff8500"/>
<path d="M408.1 599.6l10 4.2 1.5 3.9-9.9-4.2z" color="#ff8f00"/>
<path d="M418.1 603.8l10.1 4.9 1.4 3.9-10-4.9z" color="#ffa300"/>
<path d="M428.2 608.7l10.1 5.7 1.3 3.9-10-5.7z" color="#ffbe00"/>
<path d="M438.3 614.4l10.1 6.4 1.3 3.8-10.1-6.3z" color="#ffd100"/>
<path d="M312.7 591.6l8.7-2.6 2.1 4-8.7 2.6z" color="#ffbe00"/>
<path d="M321.4 589l8.9-2 2 4.1-8.8 1.9z" color="#ffa300"/>
<path d="M330.3 587l9-1.3 2 4.1-9 1.3z" color="#ff8500"/>
<path d="M339.3 585.7l9.2-.7 2 4.2-9.2 .6z" color="#ff7000"/>
<path d="M348.5 585l9.4 0 1.9 4.2-9.3 0z" color="#ff6900"/>
<path d="M357.9 585l9.5 .7 1.8 4.2-9.4-.7z" color="#ff6500"/>
<path d="M367.4 585.7l9.6 1.3 1.8 4.2-9.6-1.3zM377 587l9.8 2.1 1.7 4.2-9.7-2.1z" color="#ff6200"/>
<path d="M386.8 589.1l9.8 2.8 1.6 4.2-9.7-2.8z" color="#ff6500"/>
<path d="M396.6 591.9l10 3.5 1.5 4.2-9.9-3.5z" color="#ff6900"/>
<path d="M406.6 595.4l10 4.2 1.5 4.2-10-4.2z" color="#ff6c00"/>
<path d="M416.6 599.6l10.1 5 1.5 4.1-10.1-4.9z" color="#ff7a00"/>
<path d="M426.7 604.6l10.2 5.7 1.4 4.1-10.1-5.7z" color="#ff9900"/>
<path d="M436.9 610.3l10.2 6.4 1.3 4.1-10.1-6.4z" color="#ffb800"/>
<path d="M310.5 587.3l8.8-2.6 2.1 4.3-8.7 2.6z" color="#ff9900"/>
<path d="M319.3 584.7l8.9-2 2.1 4.3-8.9 2z" color="#ff7a00"/>
<path d="M328.2 582.7l9.1-1.4 2 4.4-9 1.3z" color="#ff6900"/>
<path d="M337.3 581.3l9.3-.7 1.9 4.4-9.2 .7z" color="#ff6200"/>
<path d="M346.6 580.6l9.4 0 1.9 4.4-9.4 0z" color="#ff5a00"/>
<path d="M356 580.6l9.5 .6 1.9 4.5-9.5-.7z" color="#ff5700"/>
<path d="M365.5 581.2l9.7 1.4 1.8 4.4-9.6-1.3zM375.2 582.6l9.8 2 1.8 4.5-9.8-2.1z" color="#ff5300"/>
<path d="M385 584.6l9.9 2.8 1.7 4.5-9.8-2.8z" color="#ff5700"/>
<path d="M394.9 587.4l10 3.5 1.7 4.5-10-3.5z" color="#ff5a00"/>
<path d="M404.9 590.9l10.1 4.3 1.6 4.4-10-4.2z" color="#ff5e00"/>
<path d="M415 595.2l10.2 5 1.5 4.4-10.1-5z" color="#ff6500"/>
<path d="M425.2 600.2l10.3 5.7 1.4 4.4-10.2-5.7z" color="#ff7000"/>
<path d="M435.5 605.9l10.3 6.4 1.3 4.4-10.2-6.4z" color="#ff8f00"/>
<path d="M310.5 587.3l8.8-2.6 8.2 15.8-8.6 2.4zM319.3 584.7l8.9-2 8.1 15.9-8.8 1.9zM328.2 582.7l9.1-1.4 7.9 16.1-8.9 1.2zM337.3 581.3l9.3-.7 7.6 16.2-9 .6zM346.6 580.6l9.4 0 7.4 16.2-9.2 0zM356 580.6l9.5 .6 7.2 16.4-9.3-.8zM365.5 581.2l9.7 1.4 7 16.3-9.5-1.3zM375.2 582.6l9.8 2 6.8 16.4-9.6-2.1zM385 584.6l9.9 2.8 6.6 16.4-9.7-2.8zM394.9 587.4l10 3.5 6.3 16.4-9.7-3.5zM404.9 590.9l10.1 4.3 6.1 16.2-9.9-4.1zM415 595.2l10.2 5 5.8 16.1-9.9-4.9zM425.2 600.2l10.3 5.7 5.5 16-10-5.6zM435.5 605.9l10.3 6.4 5.2 15.9-10-6.3z" class="m"/>
</g>
<g font-size="7.3" fill="#111" stroke="#111" stroke-width=".22">
<text x="305" y="564.8" text-anchor="end">5</text>
<text x="306.7" y="589.7" text-anchor="end">4</text>
<text x="308.5" y="614.4" text-anchor="end">3</text>
<text x="310.3" y="638.9" text-anchor="end">2</text>
<text x="312" y="661.5" text-anchor="end">1</text>
<text x="314.5" y="683.8" text-anchor="end">0</text>
<text x="339.2" y="694.6" text-anchor="middle">8</text>
<text x="367" y="701.6" text-anchor="middle">6</text>
<text x="396.2" y="708.8" text-anchor="middle">4</text>
<text x="426.7" y="715.7" text-anchor="middle">2</text>
<text x="459.8" y="706.7" text-anchor="middle">10</text>
<text x="470.7" y="692" text-anchor="middle">20</text>
<text x="480.9" y="678.2" text-anchor="middle">30</text>
<text x="490.3" y="665.3" text-anchor="middle">40</text>
<text x="500" y="653.3" text-anchor="middle">50</text>
<text font-size="7.9" transform="translate(296 623) rotate(-90)" text-anchor="middle">Albumin/globulin yield (%)</text>
<text font-size="7.7" transform="translate(376.9 718.3) rotate(15)" text-anchor="middle">Extraction time (min)</text>
<text font-size="7.7" transform="translate(493.7 683.7) rotate(-51.8)" text-anchor="middle">Sample/solvent ratio (w/v)</text>
</g>
<rect x="509.2" y="541" width="33.1" height="56" fill="#fff" stroke="#555" stroke-width="1"/>
<g font-size="7" fill="#222">
<rect x="513.6" y="546.6" width="14" height="4.6" fill="#000080" stroke="#333" stroke-width=".4"/>
<text x="531.4" y="551.4">0</text>
<rect x="513.6" y="554.6" width="14" height="4.6" fill="#0000ff" stroke="#333" stroke-width=".4"/>
<text x="531.4" y="559.4">1</text>
<rect x="513.6" y="562.6" width="14" height="4.6" fill="#007474" stroke="#333" stroke-width=".4"/>
<text x="531.4" y="567.4">2</text>
<rect x="513.6" y="570.6" width="14" height="4.6" fill="#00e010" stroke="#333" stroke-width=".4"/>
<text x="531.4" y="575.4">3</text>
<rect x="513.6" y="578.6" width="14" height="4.6" fill="#ffe200" stroke="#333" stroke-width=".4"/>
<text x="531.4" y="583.4">4</text>
<rect x="513.6" y="586.6" width="14" height="4.6" fill="#ff7000" stroke="#333" stroke-width=".4"/>
<text x="531.4" y="591.4">5</text>
</g>
<text x="409.4" y="755" text-anchor="middle" font-family="'Liberation Serif',serif" font-size="12.6" letter-spacing=".7" fill="#111" stroke="#111" stroke-width=".2">(<tspan font-weight="bold">f</tspan>)</text>
</svg>
</body>
</html>
